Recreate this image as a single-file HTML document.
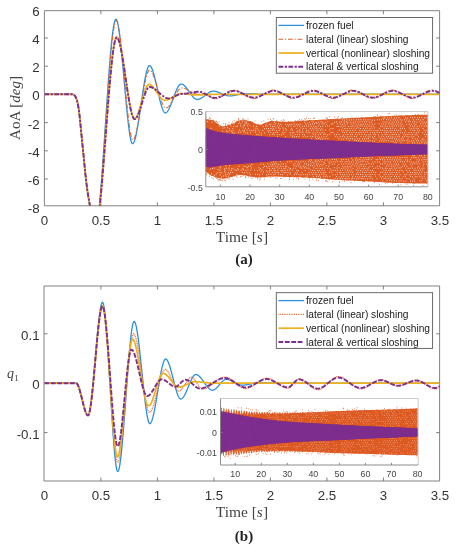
<!DOCTYPE html>
<html><head><meta charset="utf-8"><title>Figure</title>
<style>html,body{margin:0;padding:0;background:#fff}svg{display:block}</style></head>
<body>
<svg width="456" height="550" viewBox="0 0 456 550">
<rect width="456" height="550" fill="#fff"/>
<defs>
<clipPath id="ca"><rect x="44.4" y="10.7" width="395.20000000000005" height="195.10000000000002"/></clipPath>
<clipPath id="cb"><rect x="44.4" y="286.0" width="395.20000000000005" height="195.0"/></clipPath>
</defs>
<path d="M44.4,10.7H439.6V205.8H44.4ZM100.90,205.8v-3.5M100.90,10.7v3.5M157.40,205.8v-3.5M157.40,10.7v3.5M213.90,205.8v-3.5M213.90,10.7v3.5M270.40,205.8v-3.5M270.40,10.7v3.5M326.90,205.8v-3.5M326.90,10.7v3.5M383.40,205.8v-3.5M383.40,10.7v3.5M44.4,38.00h3.5M439.6,38.00h-3.5M44.4,66.20h3.5M439.6,66.20h-3.5M44.4,94.40h3.5M439.6,94.40h-3.5M44.4,122.60h3.5M439.6,122.60h-3.5M44.4,150.80h3.5M439.6,150.80h-3.5M44.4,179.00h3.5M439.6,179.00h-3.5" fill="none" stroke="#6c6c6c" stroke-width="0.85"/>
<text x="44.40" y="224.80" font-size="13.3" font-family="Liberation Sans, Arial, sans-serif" fill="#333" text-anchor="middle">0</text>
<text x="100.90" y="224.80" font-size="13.3" font-family="Liberation Sans, Arial, sans-serif" fill="#333" text-anchor="middle">0.5</text>
<text x="157.40" y="224.80" font-size="13.3" font-family="Liberation Sans, Arial, sans-serif" fill="#333" text-anchor="middle">1</text>
<text x="213.90" y="224.80" font-size="13.3" font-family="Liberation Sans, Arial, sans-serif" fill="#333" text-anchor="middle">1.5</text>
<text x="270.40" y="224.80" font-size="13.3" font-family="Liberation Sans, Arial, sans-serif" fill="#333" text-anchor="middle">2</text>
<text x="326.90" y="224.80" font-size="13.3" font-family="Liberation Sans, Arial, sans-serif" fill="#333" text-anchor="middle">2.5</text>
<text x="383.40" y="224.80" font-size="13.3" font-family="Liberation Sans, Arial, sans-serif" fill="#333" text-anchor="middle">3</text>
<text x="439.90" y="224.80" font-size="13.3" font-family="Liberation Sans, Arial, sans-serif" fill="#333" text-anchor="middle">3.5</text>
<text x="39.60" y="15.86" font-size="13.3" font-family="Liberation Sans, Arial, sans-serif" fill="#333" text-anchor="end">6</text>
<text x="39.60" y="44.06" font-size="13.3" font-family="Liberation Sans, Arial, sans-serif" fill="#333" text-anchor="end">4</text>
<text x="39.60" y="72.26" font-size="13.3" font-family="Liberation Sans, Arial, sans-serif" fill="#333" text-anchor="end">2</text>
<text x="39.60" y="100.46" font-size="13.3" font-family="Liberation Sans, Arial, sans-serif" fill="#333" text-anchor="end">0</text>
<text x="39.60" y="128.66" font-size="13.3" font-family="Liberation Sans, Arial, sans-serif" fill="#333" text-anchor="end">-2</text>
<text x="39.60" y="156.86" font-size="13.3" font-family="Liberation Sans, Arial, sans-serif" fill="#333" text-anchor="end">-4</text>
<text x="39.60" y="185.06" font-size="13.3" font-family="Liberation Sans, Arial, sans-serif" fill="#333" text-anchor="end">-6</text>
<text x="39.60" y="213.26" font-size="13.3" font-family="Liberation Sans, Arial, sans-serif" fill="#333" text-anchor="end">-8</text>
<g clip-path="url(#ca)" fill="none" stroke-linejoin="round">
<path d="M44.40,94.25 L44.68,94.25 L44.96,94.25 L45.25,94.25 L45.53,94.25 L45.81,94.25 L46.09,94.25 L46.38,94.25 L46.66,94.25 L46.94,94.25 L47.23,94.25 L47.51,94.25 L47.79,94.25 L48.07,94.25 L48.35,94.25 L48.64,94.25 L48.92,94.25 L49.20,94.25 L49.48,94.25 L49.77,94.25 L50.05,94.25 L50.33,94.25 L50.61,94.25 L50.90,94.25 L51.18,94.25 L51.46,94.25 L51.74,94.25 L52.03,94.25 L52.31,94.25 L52.59,94.25 L52.88,94.25 L53.16,94.25 L53.44,94.25 L53.72,94.25 L54.00,94.25 L54.29,94.25 L54.57,94.25 L54.85,94.25 L55.13,94.25 L55.42,94.25 L55.70,94.25 L55.98,94.25 L56.27,94.25 L56.55,94.25 L56.83,94.25 L57.11,94.25 L57.39,94.25 L57.68,94.25 L57.96,94.25 L58.24,94.25 L58.52,94.25 L58.81,94.25 L59.09,94.25 L59.37,94.25 L59.66,94.25 L59.94,94.25 L60.22,94.25 L60.50,94.25 L60.78,94.25 L61.07,94.25 L61.35,94.25 L61.63,94.25 L61.91,94.25 L62.20,94.25 L62.48,94.25 L62.76,94.25 L63.05,94.25 L63.33,94.25 L63.61,94.25 L63.89,94.25 L64.17,94.25 L64.46,94.25 L64.74,94.25 L65.02,94.25 L65.31,94.25 L65.59,94.25 L65.87,94.25 L66.15,94.25 L66.44,94.25 L66.72,94.25 L67.00,94.25 L67.28,94.25 L67.56,94.25 L67.85,94.25 L68.13,94.25 L68.41,94.25 L68.69,94.25 L68.98,94.25 L69.26,94.25 L69.54,94.25 L69.83,94.25 L70.11,94.25 L70.39,94.25 L70.67,94.25 L70.95,94.25 L71.24,94.25 L71.52,94.25 L71.80,94.25 L72.08,94.25 L72.37,94.25 L72.65,94.25 L72.93,94.34 L73.22,94.46 L73.50,94.59 L73.78,94.76 L74.06,94.96 L74.34,95.20 L74.63,95.48 L74.91,95.82 L75.19,96.22 L75.47,96.69 L75.76,97.23 L76.04,97.84 L76.32,98.55 L76.61,99.35 L76.89,100.25 L77.17,101.25 L77.45,102.37 L77.73,103.61 L78.02,105.00 L78.30,106.54 L78.58,108.25 L78.86,110.15 L79.15,112.24 L79.43,114.55 L79.71,117.07 L80.00,119.79 L80.28,122.64 L80.56,125.55 L80.84,128.45 L81.12,131.31 L81.41,134.13 L81.69,136.94 L81.97,139.73 L82.25,142.52 L82.54,145.31 L82.82,148.12 L83.10,150.95 L83.39,153.81 L83.67,156.70 L83.95,159.59 L84.23,162.47 L84.51,165.34 L84.80,168.16 L85.08,170.94 L85.36,173.65 L85.64,176.29 L85.93,178.84 L86.21,181.30 L86.49,183.67 L86.78,185.94 L87.06,188.12 L87.34,190.19 L87.62,192.16 L87.91,194.02 L88.19,195.78 L88.47,197.47 L88.75,199.12 L89.03,200.76 L89.32,202.43 L89.60,204.14 L89.88,205.94 L90.16,207.82 L90.45,209.76 L90.73,211.73 L91.01,213.73 L91.30,215.72 L91.58,217.69 L91.86,219.61 L92.14,221.46 L92.42,223.21 L92.71,224.86 L92.99,226.37 L93.27,227.73 L93.56,228.91 L93.84,229.89 L94.12,230.65 L94.40,231.17 L94.69,231.43 L94.97,231.41 L95.25,231.16 L95.53,230.70 L95.81,230.02 L96.10,229.14 L96.38,228.06 L96.66,226.78 L96.94,225.32 L97.23,223.68 L97.51,221.86 L97.79,219.87 L98.08,217.72 L98.36,215.41 L98.64,212.95 L98.92,210.35 L99.20,207.61 L99.49,204.73 L99.77,201.73 L100.05,198.61 L100.34,195.37 L100.62,192.02 L100.90,188.58 L101.18,185.03 L101.47,181.40 L101.75,177.68 L102.03,173.89 L102.31,170.02 L102.59,166.09 L102.88,162.09 L103.16,158.05 L103.44,153.95 L103.72,149.82 L104.01,145.65 L104.29,141.45 L104.57,137.22 L104.86,132.99 L105.14,128.73 L105.42,124.48 L105.70,120.22 L105.99,115.98 L106.27,111.74 L106.55,107.53 L106.83,103.34 L107.12,99.18 L107.40,95.06 L107.68,90.99 L107.96,86.96 L108.25,82.99 L108.53,79.09 L108.81,75.25 L109.09,71.48 L109.38,67.80 L109.66,64.20 L109.94,60.69 L110.22,57.29 L110.50,53.98 L110.79,50.79 L111.07,47.72 L111.35,44.76 L111.63,41.94 L111.92,39.25 L112.20,36.71 L112.48,34.31 L112.76,32.06 L113.05,29.97 L113.33,28.05 L113.61,26.30 L113.90,24.73 L114.18,23.34 L114.46,22.14 L114.74,21.14 L115.03,20.34 L115.31,19.75 L115.59,19.37 L115.87,19.21 L116.16,19.28 L116.44,19.55 L116.72,20.03 L117.00,20.70 L117.28,21.56 L117.57,22.60 L117.85,23.82 L118.13,25.20 L118.41,26.74 L118.70,28.43 L118.98,30.26 L119.26,32.24 L119.55,34.34 L119.83,36.56 L120.11,38.90 L120.39,41.34 L120.68,43.88 L120.96,46.52 L121.24,49.24 L121.52,52.04 L121.81,54.91 L122.09,57.85 L122.37,60.84 L122.65,63.88 L122.94,66.95 L123.22,70.07 L123.50,73.21 L123.78,76.37 L124.06,79.54 L124.35,82.71 L124.63,85.88 L124.91,89.04 L125.19,92.19 L125.48,95.31 L125.76,98.39 L126.04,101.44 L126.32,104.44 L126.61,107.38 L126.89,110.27 L127.17,113.08 L127.45,115.82 L127.74,118.48 L128.02,121.04 L128.30,123.50 L128.59,125.86 L128.87,128.11 L129.15,130.23 L129.43,132.23 L129.72,134.10 L130.00,135.82 L130.28,137.39 L130.56,138.80 L130.84,140.05 L131.13,141.12 L131.41,142.02 L131.69,142.73 L131.97,143.25 L132.26,143.56 L132.54,143.67 L132.82,143.61 L133.10,143.42 L133.39,143.10 L133.67,142.67 L133.95,142.13 L134.24,141.48 L134.52,140.73 L134.80,139.87 L135.08,138.92 L135.37,137.88 L135.65,136.76 L135.93,135.55 L136.21,134.26 L136.50,132.90 L136.78,131.46 L137.06,129.97 L137.34,128.41 L137.62,126.80 L137.91,125.13 L138.19,123.42 L138.47,121.66 L138.75,119.86 L139.04,118.03 L139.32,116.17 L139.60,114.28 L139.88,112.38 L140.17,110.45 L140.45,108.51 L140.73,106.56 L141.01,104.61 L141.30,102.66 L141.58,100.71 L141.86,98.77 L142.15,96.84 L142.43,94.94 L142.71,93.05 L142.99,91.19 L143.28,89.36 L143.56,87.56 L143.84,85.80 L144.12,84.09 L144.41,82.42 L144.69,80.81 L144.97,79.25 L145.25,77.76 L145.53,76.32 L145.82,74.96 L146.10,73.67 L146.38,72.46 L146.66,71.34 L146.95,70.30 L147.23,69.35 L147.51,68.49 L147.80,67.74 L148.08,67.09 L148.36,66.55 L148.64,66.12 L148.93,65.80 L149.21,65.61 L149.49,65.55 L149.77,65.59 L150.06,65.73 L150.34,65.94 L150.62,66.24 L150.90,66.61 L151.19,67.06 L151.47,67.58 L151.75,68.17 L152.03,68.82 L152.31,69.54 L152.60,70.31 L152.88,71.14 L153.16,72.02 L153.44,72.94 L153.73,73.92 L154.01,74.93 L154.29,75.98 L154.57,77.07 L154.86,78.20 L155.14,79.35 L155.42,80.52 L155.70,81.72 L155.99,82.94 L156.27,84.17 L156.55,85.42 L156.84,86.68 L157.12,87.94 L157.40,89.21 L157.68,90.48 L157.97,91.74 L158.25,93.00 L158.53,94.25 L158.81,95.48 L159.09,96.70 L159.38,97.90 L159.66,99.07 L159.94,100.22 L160.22,101.35 L160.51,102.44 L160.79,103.49 L161.07,104.50 L161.35,105.48 L161.64,106.40 L161.92,107.28 L162.20,108.11 L162.48,108.88 L162.77,109.60 L163.05,110.25 L163.33,110.84 L163.61,111.36 L163.90,111.81 L164.18,112.18 L164.46,112.48 L164.75,112.69 L165.03,112.83 L165.31,112.87 L165.59,112.84 L165.88,112.76 L166.16,112.63 L166.44,112.45 L166.72,112.22 L167.00,111.95 L167.29,111.63 L167.57,111.27 L167.85,110.87 L168.13,110.44 L168.42,109.97 L168.70,109.46 L168.98,108.93 L169.26,108.36 L169.55,107.77 L169.83,107.15 L170.11,106.51 L170.40,105.85 L170.68,105.16 L170.96,104.46 L171.24,103.74 L171.53,103.01 L171.81,102.27 L172.09,101.52 L172.37,100.76 L172.66,99.99 L172.94,99.22 L173.22,98.45 L173.50,97.68 L173.78,96.91 L174.07,96.14 L174.35,95.38 L174.63,94.63 L174.92,93.89 L175.20,93.16 L175.48,92.44 L175.76,91.74 L176.05,91.05 L176.33,90.39 L176.61,89.75 L176.89,89.13 L177.18,88.54 L177.46,87.97 L177.74,87.44 L178.02,86.93 L178.31,86.46 L178.59,86.03 L178.87,85.63 L179.15,85.27 L179.44,84.95 L179.72,84.68 L180.00,84.45 L180.28,84.27 L180.57,84.14 L180.85,84.06 L181.13,84.03 L181.41,84.04 L181.70,84.09 L181.98,84.15 L182.26,84.25 L182.54,84.37 L182.83,84.51 L183.11,84.67 L183.39,84.86 L183.67,85.07 L183.96,85.29 L184.24,85.54 L184.52,85.80 L184.80,86.08 L185.09,86.38 L185.37,86.68 L185.65,87.01 L185.93,87.34 L186.22,87.69 L186.50,88.05 L186.78,88.41 L187.06,88.79 L187.35,89.17 L187.63,89.56 L187.91,89.95 L188.19,90.35 L188.48,90.76 L188.76,91.16 L189.04,91.57 L189.32,91.97 L189.60,92.38 L189.89,92.78 L190.17,93.19 L190.45,93.58 L190.73,93.98 L191.02,94.37 L191.30,94.75 L191.58,95.12 L191.87,95.49 L192.15,95.84 L192.43,96.19 L192.71,96.52 L193.00,96.84 L193.28,97.14 L193.56,97.44 L193.84,97.71 L194.12,97.97 L194.41,98.21 L194.69,98.44 L194.97,98.64 L195.25,98.82 L195.54,98.98 L195.82,99.12 L196.10,99.23 L196.38,99.32 L196.67,99.38 L196.95,99.42 L197.23,99.43 L197.52,99.42 L197.80,99.39 L198.08,99.35 L198.36,99.30 L198.65,99.23 L198.93,99.16 L199.21,99.07 L199.49,98.96 L199.78,98.85 L200.06,98.73 L200.34,98.59 L200.62,98.45 L200.91,98.30 L201.19,98.14 L201.47,97.97 L201.75,97.80 L202.03,97.62 L202.32,97.43 L202.60,97.24 L202.88,97.04 L203.17,96.84 L203.45,96.63 L203.73,96.42 L204.01,96.21 L204.30,96.00 L204.58,95.78 L204.86,95.56 L205.14,95.34 L205.43,95.13 L205.71,94.91 L205.99,94.69 L206.27,94.48 L206.56,94.26 L206.84,94.05 L207.12,93.85 L207.40,93.64 L207.69,93.44 L207.97,93.25 L208.25,93.06 L208.53,92.87 L208.82,92.70 L209.10,92.53 L209.38,92.36 L209.66,92.21 L209.95,92.06 L210.23,91.93 L210.51,91.80 L210.79,91.68 L211.08,91.57 L211.36,91.48 L211.64,91.40 L211.92,91.32 L212.21,91.27 L212.49,91.22 L212.77,91.19 L213.05,91.17 L213.34,91.17 L213.62,91.18 L213.90,91.19 L214.18,91.22 L214.47,91.25 L214.75,91.28 L215.03,91.33 L215.31,91.38 L215.60,91.44 L215.88,91.50 L216.16,91.57 L216.44,91.64 L216.73,91.72 L217.01,91.81 L217.29,91.90 L217.57,91.99 L217.86,92.09 L218.14,92.19 L218.42,92.29 L218.70,92.40 L218.98,92.51 L219.27,92.62 L219.55,92.73 L219.83,92.85 L220.12,92.97 L220.40,93.09 L220.68,93.21 L220.96,93.33 L221.25,93.45 L221.53,93.57 L221.81,93.70 L222.09,93.82 L222.38,93.94 L222.66,94.06 L222.94,94.18 L223.22,94.30 L223.50,94.41 L223.79,94.53 L224.07,94.64 L224.35,94.75 L224.63,94.85 L224.92,94.95 L225.20,95.05 L225.48,95.15 L225.77,95.24 L226.05,95.33 L226.33,95.41 L226.61,95.49 L226.90,95.56 L227.18,95.63 L227.46,95.69 L227.74,95.74 L228.03,95.79 L228.31,95.83 L228.59,95.87 L228.87,95.89 L229.16,95.91 L229.44,95.93 L229.72,95.93 L230.00,95.93 L230.28,95.92 L230.57,95.91 L230.85,95.90 L231.13,95.88 L231.42,95.85 L231.70,95.83 L231.98,95.80 L232.26,95.77 L232.55,95.73 L232.83,95.69 L233.11,95.65 L233.39,95.60 L233.68,95.56 L233.96,95.51 L234.24,95.46 L234.52,95.41 L234.81,95.35 L235.09,95.29 L235.37,95.24 L235.65,95.18 L235.94,95.12 L236.22,95.06 L236.50,94.99 L236.78,94.93 L237.07,94.87 L237.35,94.80 L237.63,94.74 L237.91,94.68 L238.20,94.61 L238.48,94.55 L238.76,94.49 L239.04,94.42 L239.33,94.36 L239.61,94.30 L239.89,94.24 L240.17,94.19 L240.46,94.13 L240.74,94.07 L241.02,94.02 L241.30,93.97 L241.59,93.92 L241.87,93.88 L242.15,93.83 L242.43,93.79 L242.72,93.75 L243.00,93.71 L243.28,93.68 L243.56,93.65 L243.85,93.63 L244.13,93.60 L244.41,93.58 L244.69,93.57 L244.98,93.56 L245.26,93.55 L245.54,93.55 L245.82,93.55 L246.11,93.55 L246.39,93.55 L246.67,93.56 L246.95,93.56 L247.23,93.57 L247.52,93.57 L247.80,93.58 L248.08,93.58 L248.37,93.59 L248.65,93.60 L248.93,93.61 L249.21,93.62 L249.50,93.63 L249.78,93.64 L250.06,93.65 L250.34,93.66 L250.62,93.67 L250.91,93.68 L251.19,93.70 L251.47,93.71 L251.75,93.72 L252.04,93.74 L252.32,93.75 L252.60,93.76 L252.88,93.78 L253.17,93.79 L253.45,93.81 L253.73,93.82 L254.02,93.84 L254.30,93.85 L254.58,93.87 L254.86,93.88 L255.15,93.90 L255.43,93.92 L255.71,93.93 L255.99,93.95 L256.27,93.96 L256.56,93.98 L256.84,93.99 L257.12,94.01 L257.40,94.02 L257.69,94.04 L257.97,94.05 L258.25,94.06 L258.53,94.08 L258.82,94.09 L259.10,94.10 L259.38,94.12 L259.67,94.13 L259.95,94.14 L260.23,94.15 L260.51,94.16 L260.80,94.17 L261.08,94.18 L261.36,94.19 L261.64,94.20 L261.93,94.21 L262.21,94.22 L262.49,94.22 L262.77,94.23 L263.06,94.23 L263.34,94.24 L263.62,94.24 L263.90,94.25 L264.19,94.25 L264.47,94.25 L264.75,94.25 L265.03,94.25 L265.31,94.25 L265.60,94.25 L265.88,94.25 L266.16,94.25 L266.44,94.25 L266.73,94.25 L267.01,94.25 L267.29,94.25 L267.57,94.25 L267.86,94.25 L268.14,94.25 L268.42,94.25 L268.70,94.25 L268.99,94.25 L269.27,94.25 L269.55,94.25 L269.83,94.25 L270.12,94.25 L270.40,94.25 L270.68,94.25 L270.96,94.25 L271.25,94.25 L271.53,94.25 L271.81,94.25 L272.10,94.25 L272.38,94.25 L272.66,94.25 L272.94,94.25 L273.22,94.25 L273.51,94.25 L273.79,94.25 L274.07,94.25 L274.36,94.25 L274.64,94.25 L274.92,94.25 L275.20,94.25 L275.48,94.25 L275.77,94.25 L276.05,94.25 L276.33,94.25 L276.62,94.25 L276.90,94.25 L277.18,94.25 L277.46,94.25 L277.75,94.25 L278.03,94.25 L278.31,94.25 L278.59,94.25 L278.88,94.25 L279.16,94.25 L279.44,94.25 L279.72,94.25 L280.00,94.25 L280.29,94.25 L280.57,94.25 L280.85,94.25 L281.13,94.25 L281.42,94.25 L281.70,94.25 L281.98,94.25 L282.26,94.25 L282.55,94.25 L282.83,94.25 L283.11,94.25 L283.40,94.25 L283.68,94.25 L283.96,94.25 L284.24,94.25 L284.52,94.25 L284.81,94.25 L285.09,94.25 L285.37,94.25 L285.66,94.25 L285.94,94.25 L286.22,94.25 L286.50,94.25 L286.78,94.25 L287.07,94.25 L287.35,94.25 L287.63,94.25 L287.92,94.25 L288.20,94.25 L288.48,94.25 L288.76,94.25 L289.05,94.25 L289.33,94.25 L289.61,94.25 L289.89,94.25 L290.18,94.25 L290.46,94.25 L290.74,94.25 L291.02,94.25 L291.31,94.25 L291.59,94.25 L291.87,94.25 L292.15,94.25 L292.43,94.25 L292.72,94.25 L293.00,94.25 L293.28,94.25 L293.56,94.25 L293.85,94.25 L294.13,94.25 L294.41,94.25 L294.69,94.25 L294.98,94.25 L295.26,94.25 L295.54,94.25 L295.82,94.25 L296.11,94.25 L296.39,94.25 L296.67,94.25 L296.95,94.25 L297.24,94.25 L297.52,94.25 L297.80,94.25 L298.08,94.25 L298.37,94.25 L298.65,94.25 L298.93,94.25 L299.21,94.25 L299.50,94.25 L299.78,94.25 L300.06,94.25 L300.35,94.25 L300.63,94.25 L300.91,94.25 L301.19,94.25 L301.47,94.25 L301.76,94.25 L302.04,94.25 L302.32,94.25 L302.61,94.25 L302.89,94.25 L303.17,94.25 L303.45,94.25 L303.73,94.25 L304.02,94.25 L304.30,94.25 L304.58,94.25 L304.87,94.25 L305.15,94.25 L305.43,94.25 L305.71,94.25 L305.99,94.25 L306.28,94.25 L306.56,94.25 L306.84,94.25 L307.12,94.25 L307.41,94.25 L307.69,94.25 L307.97,94.25 L308.25,94.25 L308.54,94.25 L308.82,94.25 L309.10,94.25 L309.38,94.25 L309.67,94.25 L309.95,94.25 L310.23,94.25 L310.51,94.25 L310.80,94.25 L311.08,94.25 L311.36,94.25 L311.64,94.25 L311.93,94.25 L312.21,94.25 L312.49,94.25 L312.77,94.25 L313.06,94.25 L313.34,94.25 L313.62,94.25 L313.91,94.25 L314.19,94.25 L314.47,94.25 L314.75,94.25 L315.03,94.25 L315.32,94.25 L315.60,94.25 L315.88,94.25 L316.17,94.25 L316.45,94.25 L316.73,94.25 L317.01,94.25 L317.29,94.25 L317.58,94.25 L317.86,94.25 L318.14,94.25 L318.43,94.25 L318.71,94.25 L318.99,94.25 L319.27,94.25 L319.56,94.25 L319.84,94.25 L320.12,94.25 L320.40,94.25 L320.68,94.25 L320.97,94.25 L321.25,94.25 L321.53,94.25 L321.81,94.25 L322.10,94.25 L322.38,94.25 L322.66,94.25 L322.94,94.25 L323.23,94.25 L323.51,94.25 L323.79,94.25 L324.07,94.25 L324.36,94.25 L324.64,94.25 L324.92,94.25 L325.20,94.25 L325.49,94.25 L325.77,94.25 L326.05,94.25 L326.33,94.25 L326.62,94.25 L326.90,94.25 L327.18,94.25 L327.46,94.25 L327.75,94.25 L328.03,94.25 L328.31,94.25 L328.59,94.25 L328.88,94.25 L329.16,94.25 L329.44,94.25 L329.72,94.25 L330.01,94.25 L330.29,94.25 L330.57,94.25 L330.86,94.25 L331.14,94.25 L331.42,94.25 L331.70,94.25 L331.98,94.25 L332.27,94.25 L332.55,94.25 L332.83,94.25 L333.12,94.25 L333.40,94.25 L333.68,94.25 L333.96,94.25 L334.24,94.25 L334.53,94.25 L334.81,94.25 L335.09,94.25 L335.38,94.25 L335.66,94.25 L335.94,94.25 L336.22,94.25 L336.50,94.25 L336.79,94.25 L337.07,94.25 L337.35,94.25 L337.63,94.25 L337.92,94.25 L338.20,94.25 L338.48,94.25 L338.76,94.25 L339.05,94.25 L339.33,94.25 L339.61,94.25 L339.89,94.25 L340.18,94.25 L340.46,94.25 L340.74,94.25 L341.02,94.25 L341.31,94.25 L341.59,94.25 L341.87,94.25 L342.16,94.25 L342.44,94.25 L342.72,94.25 L343.00,94.25 L343.28,94.25 L343.57,94.25 L343.85,94.25 L344.13,94.25 L344.42,94.25 L344.70,94.25 L344.98,94.25 L345.26,94.25 L345.54,94.25 L345.83,94.25 L346.11,94.25 L346.39,94.25 L346.68,94.25 L346.96,94.25 L347.24,94.25 L347.52,94.25 L347.81,94.25 L348.09,94.25 L348.37,94.25 L348.65,94.25 L348.93,94.25 L349.22,94.25 L349.50,94.25 L349.78,94.25 L350.06,94.25 L350.35,94.25 L350.63,94.25 L350.91,94.25 L351.19,94.25 L351.48,94.25 L351.76,94.25 L352.04,94.25 L352.32,94.25 L352.61,94.25 L352.89,94.25 L353.17,94.25 L353.45,94.25 L353.74,94.25 L354.02,94.25 L354.30,94.25 L354.58,94.25 L354.87,94.25 L355.15,94.25 L355.43,94.25 L355.71,94.25 L356.00,94.25 L356.28,94.25 L356.56,94.25 L356.84,94.25 L357.13,94.25 L357.41,94.25 L357.69,94.25 L357.97,94.25 L358.26,94.25 L358.54,94.25 L358.82,94.25 L359.11,94.25 L359.39,94.25 L359.67,94.25 L359.95,94.25 L360.23,94.25 L360.52,94.25 L360.80,94.25 L361.08,94.25 L361.37,94.25 L361.65,94.25 L361.93,94.25 L362.21,94.25 L362.49,94.25 L362.78,94.25 L363.06,94.25 L363.34,94.25 L363.62,94.25 L363.91,94.25 L364.19,94.25 L364.47,94.25 L364.75,94.25 L365.04,94.25 L365.32,94.25 L365.60,94.25 L365.88,94.25 L366.17,94.25 L366.45,94.25 L366.73,94.25 L367.01,94.25 L367.30,94.25 L367.58,94.25 L367.86,94.25 L368.14,94.25 L368.43,94.25 L368.71,94.25 L368.99,94.25 L369.27,94.25 L369.56,94.25 L369.84,94.25 L370.12,94.25 L370.41,94.25 L370.69,94.25 L370.97,94.25 L371.25,94.25 L371.53,94.25 L371.82,94.25 L372.10,94.25 L372.38,94.25 L372.67,94.25 L372.95,94.25 L373.23,94.25 L373.51,94.25 L373.79,94.25 L374.08,94.25 L374.36,94.25 L374.64,94.25 L374.93,94.25 L375.21,94.25 L375.49,94.25 L375.77,94.25 L376.06,94.25 L376.34,94.25 L376.62,94.25 L376.90,94.25 L377.18,94.25 L377.47,94.25 L377.75,94.25 L378.03,94.25 L378.31,94.25 L378.60,94.25 L378.88,94.25 L379.16,94.25 L379.44,94.25 L379.73,94.25 L380.01,94.25 L380.29,94.25 L380.57,94.25 L380.86,94.25 L381.14,94.25 L381.42,94.25 L381.70,94.25 L381.99,94.25 L382.27,94.25 L382.55,94.25 L382.83,94.25 L383.12,94.25 L383.40,94.25 L383.68,94.25 L383.96,94.25 L384.25,94.25 L384.53,94.25 L384.81,94.25 L385.09,94.25 L385.38,94.25 L385.66,94.25 L385.94,94.25 L386.22,94.25 L386.51,94.25 L386.79,94.25 L387.07,94.25 L387.36,94.25 L387.64,94.25 L387.92,94.25 L388.20,94.25 L388.48,94.25 L388.77,94.25 L389.05,94.25 L389.33,94.25 L389.62,94.25 L389.90,94.25 L390.18,94.25 L390.46,94.25 L390.74,94.25 L391.03,94.25 L391.31,94.25 L391.59,94.25 L391.88,94.25 L392.16,94.25 L392.44,94.25 L392.72,94.25 L393.00,94.25 L393.29,94.25 L393.57,94.25 L393.85,94.25 L394.13,94.25 L394.42,94.25 L394.70,94.25 L394.98,94.25 L395.26,94.25 L395.55,94.25 L395.83,94.25 L396.11,94.25 L396.39,94.25 L396.68,94.25 L396.96,94.25 L397.24,94.25 L397.52,94.25 L397.81,94.25 L398.09,94.25 L398.37,94.25 L398.66,94.25 L398.94,94.25 L399.22,94.25 L399.50,94.25 L399.78,94.25 L400.07,94.25 L400.35,94.25 L400.63,94.25 L400.92,94.25 L401.20,94.25 L401.48,94.25 L401.76,94.25 L402.04,94.25 L402.33,94.25 L402.61,94.25 L402.89,94.25 L403.18,94.25 L403.46,94.25 L403.74,94.25 L404.02,94.25 L404.31,94.25 L404.59,94.25 L404.87,94.25 L405.15,94.25 L405.44,94.25 L405.72,94.25 L406.00,94.25 L406.28,94.25 L406.56,94.25 L406.85,94.25 L407.13,94.25 L407.41,94.25 L407.69,94.25 L407.98,94.25 L408.26,94.25 L408.54,94.25 L408.82,94.25 L409.11,94.25 L409.39,94.25 L409.67,94.25 L409.95,94.25 L410.24,94.25 L410.52,94.25 L410.80,94.25 L411.08,94.25 L411.37,94.25 L411.65,94.25 L411.93,94.25 L412.21,94.25 L412.50,94.25 L412.78,94.25 L413.06,94.25 L413.34,94.25 L413.63,94.25 L413.91,94.25 L414.19,94.25 L414.47,94.25 L414.76,94.25 L415.04,94.25 L415.32,94.25 L415.61,94.25 L415.89,94.25 L416.17,94.25 L416.45,94.25 L416.73,94.25 L417.02,94.25 L417.30,94.25 L417.58,94.25 L417.87,94.25 L418.15,94.25 L418.43,94.25 L418.71,94.25 L418.99,94.25 L419.28,94.25 L419.56,94.25 L419.84,94.25 L420.12,94.25 L420.41,94.25 L420.69,94.25 L420.97,94.25 L421.25,94.25 L421.54,94.25 L421.82,94.25 L422.10,94.25 L422.38,94.25 L422.67,94.25 L422.95,94.25 L423.23,94.25 L423.51,94.25 L423.80,94.25 L424.08,94.25 L424.36,94.25 L424.64,94.25 L424.93,94.25 L425.21,94.25 L425.49,94.25 L425.77,94.25 L426.06,94.25 L426.34,94.25 L426.62,94.25 L426.91,94.25 L427.19,94.25 L427.47,94.25 L427.75,94.25 L428.03,94.25 L428.32,94.25 L428.60,94.25 L428.88,94.25 L429.17,94.25 L429.45,94.25 L429.73,94.25 L430.01,94.25 L430.29,94.25 L430.58,94.25 L430.86,94.25 L431.14,94.25 L431.43,94.25 L431.71,94.25 L431.99,94.25 L432.27,94.25 L432.56,94.25 L432.84,94.25 L433.12,94.25 L433.40,94.25 L433.69,94.25 L433.97,94.25 L434.25,94.25 L434.53,94.25 L434.81,94.25 L435.10,94.25 L435.38,94.25 L435.66,94.25 L435.94,94.25 L436.23,94.25 L436.51,94.25 L436.79,94.25 L437.07,94.25 L437.36,94.25 L437.64,94.25 L437.92,94.25 L438.20,94.25 L438.49,94.25 L438.77,94.25 L439.05,94.25 L439.33,94.25 L439.62,94.25 L439.90,94.25" stroke="#2d8fd9" stroke-width="1.3"/>
<path d="M44.40,94.25 L44.68,94.25 L44.96,94.25 L45.25,94.25 L45.53,94.25 L45.81,94.25 L46.09,94.25 L46.38,94.25 L46.66,94.25 L46.94,94.25 L47.23,94.25 L47.51,94.25 L47.79,94.25 L48.07,94.25 L48.35,94.25 L48.64,94.25 L48.92,94.25 L49.20,94.25 L49.48,94.25 L49.77,94.25 L50.05,94.25 L50.33,94.25 L50.61,94.25 L50.90,94.25 L51.18,94.25 L51.46,94.25 L51.74,94.25 L52.03,94.25 L52.31,94.25 L52.59,94.25 L52.88,94.25 L53.16,94.25 L53.44,94.25 L53.72,94.25 L54.00,94.25 L54.29,94.25 L54.57,94.25 L54.85,94.25 L55.13,94.25 L55.42,94.25 L55.70,94.25 L55.98,94.25 L56.27,94.25 L56.55,94.25 L56.83,94.25 L57.11,94.25 L57.39,94.25 L57.68,94.25 L57.96,94.25 L58.24,94.25 L58.52,94.25 L58.81,94.25 L59.09,94.25 L59.37,94.25 L59.66,94.25 L59.94,94.25 L60.22,94.25 L60.50,94.25 L60.78,94.25 L61.07,94.25 L61.35,94.25 L61.63,94.25 L61.91,94.25 L62.20,94.25 L62.48,94.25 L62.76,94.25 L63.05,94.25 L63.33,94.25 L63.61,94.25 L63.89,94.25 L64.17,94.25 L64.46,94.25 L64.74,94.25 L65.02,94.25 L65.31,94.25 L65.59,94.25 L65.87,94.25 L66.15,94.25 L66.44,94.25 L66.72,94.25 L67.00,94.25 L67.28,94.25 L67.56,94.25 L67.85,94.25 L68.13,94.25 L68.41,94.25 L68.69,94.25 L68.98,94.25 L69.26,94.25 L69.54,94.25 L69.83,94.25 L70.11,94.25 L70.39,94.25 L70.67,94.25 L70.95,94.25 L71.24,94.25 L71.52,94.25 L71.80,94.25 L72.08,94.25 L72.37,94.25 L72.65,94.25 L72.93,94.34 L73.22,94.46 L73.50,94.59 L73.78,94.76 L74.06,94.96 L74.34,95.20 L74.63,95.48 L74.91,95.82 L75.19,96.22 L75.47,96.69 L75.76,97.23 L76.04,97.84 L76.32,98.55 L76.61,99.35 L76.89,100.25 L77.17,101.25 L77.45,102.37 L77.73,103.61 L78.02,105.00 L78.30,106.54 L78.58,108.25 L78.86,110.15 L79.15,112.24 L79.43,114.55 L79.71,117.07 L80.00,119.79 L80.28,122.64 L80.56,125.55 L80.84,128.45 L81.12,131.31 L81.41,134.13 L81.69,136.94 L81.97,139.73 L82.25,142.52 L82.54,145.31 L82.82,148.12 L83.10,150.95 L83.39,153.81 L83.67,156.70 L83.95,159.59 L84.23,162.47 L84.51,165.34 L84.80,168.16 L85.08,170.94 L85.36,173.65 L85.64,176.29 L85.93,178.84 L86.21,181.30 L86.49,183.67 L86.78,185.94 L87.06,188.12 L87.34,190.19 L87.62,192.16 L87.91,194.02 L88.19,195.78 L88.47,197.47 L88.75,199.12 L89.03,200.76 L89.32,202.43 L89.60,204.14 L89.88,205.94 L90.16,207.82 L90.45,209.76 L90.73,211.73 L91.01,213.73 L91.30,215.72 L91.58,217.69 L91.86,219.61 L92.14,221.46 L92.42,223.21 L92.71,224.86 L92.99,226.37 L93.27,227.73 L93.56,228.91 L93.84,229.89 L94.12,230.65 L94.40,231.17 L94.69,231.43 L94.97,231.41 L95.25,231.17 L95.53,230.73 L95.81,230.08 L96.10,229.23 L96.38,228.19 L96.66,226.96 L96.94,225.55 L97.23,223.97 L97.51,222.21 L97.79,220.30 L98.08,218.22 L98.36,216.00 L98.64,213.62 L98.92,211.11 L99.20,208.46 L99.49,205.69 L99.77,202.78 L100.05,199.77 L100.34,196.64 L100.62,193.40 L100.90,190.07 L101.18,186.64 L101.47,183.12 L101.75,179.51 L102.03,175.84 L102.31,172.09 L102.59,168.27 L102.88,164.39 L103.16,160.46 L103.44,156.48 L103.72,152.46 L104.01,148.41 L104.29,144.32 L104.57,140.20 L104.86,136.07 L105.14,131.92 L105.42,127.76 L105.70,123.61 L105.99,119.45 L106.27,115.30 L106.55,111.17 L106.83,107.06 L107.12,102.98 L107.40,98.93 L107.68,94.92 L107.96,90.95 L108.25,87.03 L108.53,83.16 L108.81,79.36 L109.09,75.62 L109.38,71.96 L109.66,68.37 L109.94,64.87 L110.22,61.46 L110.50,58.14 L110.79,54.93 L111.07,51.82 L111.35,48.83 L111.63,45.95 L111.92,43.20 L112.20,40.58 L112.48,38.09 L112.76,35.75 L113.05,33.55 L113.33,31.51 L113.61,29.62 L113.90,27.90 L114.18,26.35 L114.46,24.98 L114.74,23.79 L115.03,22.79 L115.31,21.98 L115.59,21.37 L115.87,20.96 L116.16,20.77 L116.44,20.79 L116.72,21.01 L117.00,21.43 L117.28,22.03 L117.57,22.82 L117.85,23.78 L118.13,24.91 L118.41,26.20 L118.70,27.64 L118.98,29.23 L119.26,30.96 L119.55,32.82 L119.83,34.80 L120.11,36.90 L120.39,39.12 L120.68,41.43 L120.96,43.85 L121.24,46.35 L121.52,48.94 L121.81,51.60 L122.09,54.33 L122.37,57.13 L122.65,59.98 L122.94,62.87 L123.22,65.81 L123.50,68.78 L123.78,71.78 L124.06,74.79 L124.35,77.82 L124.63,80.86 L124.91,83.89 L125.19,86.92 L125.48,89.93 L125.76,92.91 L126.04,95.87 L126.32,98.79 L126.61,101.67 L126.89,104.50 L127.17,107.27 L127.45,109.97 L127.74,112.61 L128.02,115.16 L128.30,117.63 L128.59,120.01 L128.87,122.28 L129.15,124.45 L129.43,126.51 L129.72,128.44 L130.00,130.25 L130.28,131.92 L130.56,133.45 L130.84,134.83 L131.13,136.06 L131.41,137.12 L131.69,138.02 L131.97,138.73 L132.26,139.26 L132.54,139.60 L132.82,139.75 L133.10,139.71 L133.39,139.56 L133.67,139.29 L133.95,138.91 L134.24,138.43 L134.52,137.85 L134.80,137.17 L135.08,136.39 L135.37,135.53 L135.65,134.59 L135.93,133.56 L136.21,132.45 L136.50,131.28 L136.78,130.03 L137.06,128.72 L137.34,127.35 L137.62,125.93 L137.91,124.45 L138.19,122.93 L138.47,121.36 L138.75,119.75 L139.04,118.11 L139.32,116.43 L139.60,114.73 L139.88,113.00 L140.17,111.26 L140.45,109.50 L140.73,107.73 L141.01,105.96 L141.30,104.18 L141.58,102.40 L141.86,100.63 L142.15,98.87 L142.43,97.12 L142.71,95.39 L142.99,93.69 L143.28,92.01 L143.56,90.36 L143.84,88.74 L144.12,87.16 L144.41,85.63 L144.69,84.14 L144.97,82.71 L145.25,81.33 L145.53,80.01 L145.82,78.75 L146.10,77.56 L146.38,76.44 L146.66,75.39 L146.95,74.43 L147.23,73.55 L147.51,72.76 L147.80,72.06 L148.08,71.46 L148.36,70.95 L148.64,70.56 L148.93,70.27 L149.21,70.09 L149.49,70.03 L149.77,70.06 L150.06,70.16 L150.34,70.32 L150.62,70.55 L150.90,70.83 L151.19,71.16 L151.47,71.55 L151.75,72.00 L152.03,72.49 L152.31,73.02 L152.60,73.61 L152.88,74.23 L153.16,74.89 L153.44,75.59 L153.73,76.33 L154.01,77.10 L154.29,77.90 L154.57,78.72 L154.86,79.58 L155.14,80.45 L155.42,81.35 L155.70,82.26 L155.99,83.20 L156.27,84.14 L156.55,85.10 L156.84,86.07 L157.12,87.04 L157.40,88.02 L157.68,89.00 L157.97,89.98 L158.25,90.96 L158.53,91.93 L158.81,92.90 L159.09,93.86 L159.38,94.80 L159.66,95.74 L159.94,96.65 L160.22,97.55 L160.51,98.42 L160.79,99.28 L161.07,100.10 L161.35,100.90 L161.64,101.67 L161.92,102.41 L162.20,103.11 L162.48,103.77 L162.77,104.39 L163.05,104.98 L163.33,105.51 L163.61,106.00 L163.90,106.45 L164.18,106.84 L164.46,107.17 L164.75,107.45 L165.03,107.68 L165.31,107.84 L165.59,107.94 L165.88,107.97 L166.16,107.95 L166.44,107.90 L166.72,107.80 L167.00,107.68 L167.29,107.52 L167.57,107.33 L167.85,107.11 L168.13,106.86 L168.42,106.58 L168.70,106.28 L168.98,105.96 L169.26,105.61 L169.55,105.23 L169.83,104.84 L170.11,104.43 L170.40,104.00 L170.68,103.56 L170.96,103.09 L171.24,102.62 L171.53,102.13 L171.81,101.64 L172.09,101.13 L172.37,100.61 L172.66,100.09 L172.94,99.56 L173.22,99.03 L173.50,98.50 L173.78,97.96 L174.07,97.42 L174.35,96.89 L174.63,96.36 L174.92,95.83 L175.20,95.31 L175.48,94.79 L175.76,94.28 L176.05,93.79 L176.33,93.30 L176.61,92.83 L176.89,92.36 L177.18,91.92 L177.46,91.49 L177.74,91.08 L178.02,90.69 L178.31,90.31 L178.59,89.96 L178.87,89.64 L179.15,89.34 L179.44,89.06 L179.72,88.81 L180.00,88.59 L180.28,88.40 L180.57,88.24 L180.85,88.12 L181.13,88.02 L181.41,87.97 L181.70,87.95 L181.98,87.96 L182.26,87.97 L182.54,88.00 L182.83,88.04 L183.11,88.08 L183.39,88.14 L183.67,88.20 L183.96,88.28 L184.24,88.36 L184.52,88.45 L184.80,88.54 L185.09,88.65 L185.37,88.76 L185.65,88.87 L185.93,89.00 L186.22,89.12 L186.50,89.26 L186.78,89.39 L187.06,89.54 L187.35,89.68 L187.63,89.83 L187.91,89.98 L188.19,90.14 L188.48,90.29 L188.76,90.45 L189.04,90.61 L189.32,90.77 L189.60,90.94 L189.89,91.10 L190.17,91.26 L190.45,91.43 L190.73,91.59 L191.02,91.75 L191.30,91.91 L191.58,92.06 L191.87,92.22 L192.15,92.37 L192.43,92.52 L192.71,92.66 L193.00,92.81 L193.28,92.94 L193.56,93.08 L193.84,93.20 L194.12,93.33 L194.41,93.44 L194.69,93.55 L194.97,93.66 L195.25,93.75 L195.54,93.84 L195.82,93.92 L196.10,94.00 L196.38,94.06 L196.67,94.12 L196.95,94.16 L197.23,94.20 L197.52,94.23 L197.80,94.24 L198.08,94.25 L198.36,94.24 L198.65,94.22 L198.93,94.19 L199.21,94.14 L199.49,94.09 L199.78,94.03 L200.06,93.97 L200.34,93.90 L200.62,93.83 L200.91,93.77 L201.19,93.71 L201.47,93.66 L201.75,93.61 L202.03,93.58 L202.32,93.56 L202.60,93.55 L202.88,93.56 L203.17,93.58 L203.45,93.61 L203.73,93.66 L204.01,93.72 L204.30,93.80 L204.58,93.88 L204.86,93.98 L205.14,94.08 L205.43,94.19 L205.71,94.32 L205.99,94.45 L206.27,94.58 L206.56,94.73 L206.84,94.88 L207.12,95.03 L207.40,95.19 L207.69,95.36 L207.97,95.52 L208.25,95.69 L208.53,95.86 L208.82,96.04 L209.10,96.21 L209.38,96.38 L209.66,96.56 L209.95,96.73 L210.23,96.90 L210.51,97.06 L210.79,97.23 L211.08,97.39 L211.36,97.54 L211.64,97.69 L211.92,97.84 L212.21,97.97 L212.49,98.10 L212.77,98.23 L213.05,98.34 L213.34,98.44 L213.62,98.54 L213.90,98.62 L214.18,98.70 L214.47,98.76 L214.75,98.81 L215.03,98.84 L215.31,98.86 L215.60,98.87 L215.88,98.86 L216.16,98.84 L216.44,98.81 L216.73,98.77 L217.01,98.72 L217.29,98.65 L217.57,98.57 L217.86,98.49 L218.14,98.39 L218.42,98.28 L218.70,98.17 L218.98,98.05 L219.27,97.92 L219.55,97.78 L219.83,97.63 L220.12,97.48 L220.40,97.32 L220.68,97.15 L220.96,96.98 L221.25,96.80 L221.53,96.62 L221.81,96.43 L222.09,96.24 L222.38,96.05 L222.66,95.85 L222.94,95.65 L223.22,95.45 L223.50,95.25 L223.79,95.04 L224.07,94.83 L224.35,94.63 L224.63,94.42 L224.92,94.21 L225.20,94.00 L225.48,93.80 L225.77,93.59 L226.05,93.39 L226.33,93.19 L226.61,92.99 L226.90,92.79 L227.18,92.60 L227.46,92.41 L227.74,92.23 L228.03,92.05 L228.31,91.87 L228.59,91.70 L228.87,91.54 L229.16,91.38 L229.44,91.23 L229.72,91.09 L230.00,90.95 L230.28,90.82 L230.57,90.70 L230.85,90.59 L231.13,90.49 L231.42,90.40 L231.70,90.32 L231.98,90.24 L232.26,90.18 L232.55,90.13 L232.83,90.09 L233.11,90.07 L233.39,90.05 L233.68,90.05 L233.96,90.06 L234.24,90.08 L234.52,90.11 L234.81,90.14 L235.09,90.19 L235.37,90.25 L235.65,90.31 L235.94,90.38 L236.22,90.46 L236.50,90.55 L236.78,90.64 L237.07,90.74 L237.35,90.85 L237.63,90.97 L237.91,91.09 L238.20,91.21 L238.48,91.34 L238.76,91.48 L239.04,91.62 L239.33,91.77 L239.61,91.92 L239.89,92.07 L240.17,92.23 L240.46,92.39 L240.74,92.55 L241.02,92.72 L241.30,92.89 L241.59,93.06 L241.87,93.24 L242.15,93.41 L242.43,93.59 L242.72,93.77 L243.00,93.95 L243.28,94.12 L243.56,94.30 L243.85,94.48 L244.13,94.66 L244.41,94.84 L244.69,95.02 L244.98,95.19 L245.26,95.37 L245.54,95.54 L245.82,95.71 L246.11,95.88 L246.39,96.05 L246.67,96.21 L246.95,96.37 L247.23,96.52 L247.52,96.67 L247.80,96.82 L248.08,96.97 L248.37,97.10 L248.65,97.24 L248.93,97.36 L249.21,97.49 L249.50,97.60 L249.78,97.71 L250.06,97.82 L250.34,97.91 L250.62,98.00 L250.91,98.09 L251.19,98.16 L251.47,98.23 L251.75,98.29 L252.04,98.34 L252.32,98.38 L252.60,98.41 L252.88,98.43 L253.17,98.45 L253.45,98.45 L253.73,98.44 L254.02,98.43 L254.30,98.40 L254.58,98.36 L254.86,98.32 L255.15,98.27 L255.43,98.20 L255.71,98.13 L255.99,98.06 L256.27,97.97 L256.56,97.88 L256.84,97.78 L257.12,97.67 L257.40,97.56 L257.69,97.44 L257.97,97.31 L258.25,97.18 L258.53,97.05 L258.82,96.91 L259.10,96.76 L259.38,96.61 L259.67,96.46 L259.95,96.30 L260.23,96.14 L260.51,95.98 L260.80,95.81 L261.08,95.64 L261.36,95.47 L261.64,95.30 L261.93,95.12 L262.21,94.95 L262.49,94.77 L262.77,94.59 L263.06,94.41 L263.34,94.23 L263.62,94.05 L263.90,93.87 L264.19,93.70 L264.47,93.52 L264.75,93.34 L265.03,93.17 L265.31,92.99 L265.60,92.82 L265.88,92.65 L266.16,92.49 L266.44,92.32 L266.73,92.16 L267.01,92.01 L267.29,91.86 L267.57,91.71 L267.86,91.56 L268.14,91.42 L268.42,91.29 L268.70,91.16 L268.99,91.04 L269.27,90.92 L269.55,90.81 L269.83,90.70 L270.12,90.60 L270.40,90.51 L270.68,90.43 L270.96,90.35 L271.25,90.28 L271.53,90.22 L271.81,90.17 L272.10,90.13 L272.38,90.09 L272.66,90.07 L272.94,90.06 L273.22,90.05 L273.51,90.06 L273.79,90.07 L274.07,90.09 L274.36,90.13 L274.64,90.17 L274.92,90.22 L275.20,90.28 L275.48,90.35 L275.77,90.43 L276.05,90.51 L276.33,90.60 L276.62,90.70 L276.90,90.81 L277.18,90.92 L277.46,91.04 L277.75,91.16 L278.03,91.29 L278.31,91.42 L278.59,91.56 L278.88,91.71 L279.16,91.86 L279.44,92.01 L279.72,92.16 L280.00,92.32 L280.29,92.49 L280.57,92.65 L280.85,92.82 L281.13,92.99 L281.42,93.17 L281.70,93.34 L281.98,93.52 L282.26,93.70 L282.55,93.87 L282.83,94.05 L283.11,94.23 L283.40,94.41 L283.68,94.59 L283.96,94.77 L284.24,94.95 L284.52,95.12 L284.81,95.30 L285.09,95.47 L285.37,95.64 L285.66,95.81 L285.94,95.98 L286.22,96.14 L286.50,96.30 L286.78,96.46 L287.07,96.61 L287.35,96.76 L287.63,96.91 L287.92,97.05 L288.20,97.18 L288.48,97.31 L288.76,97.44 L289.05,97.56 L289.33,97.67 L289.61,97.78 L289.89,97.88 L290.18,97.97 L290.46,98.06 L290.74,98.13 L291.02,98.20 L291.31,98.27 L291.59,98.32 L291.87,98.36 L292.15,98.40 L292.43,98.43 L292.72,98.44 L293.00,98.45 L293.28,98.45 L293.56,98.43 L293.85,98.41 L294.13,98.38 L294.41,98.34 L294.69,98.29 L294.98,98.23 L295.26,98.16 L295.54,98.09 L295.82,98.00 L296.11,97.91 L296.39,97.82 L296.67,97.71 L296.95,97.60 L297.24,97.49 L297.52,97.36 L297.80,97.24 L298.08,97.10 L298.37,96.97 L298.65,96.82 L298.93,96.67 L299.21,96.52 L299.50,96.37 L299.78,96.21 L300.06,96.05 L300.35,95.88 L300.63,95.71 L300.91,95.54 L301.19,95.37 L301.47,95.19 L301.76,95.02 L302.04,94.84 L302.32,94.66 L302.61,94.48 L302.89,94.30 L303.17,94.12 L303.45,93.95 L303.73,93.77 L304.02,93.59 L304.30,93.41 L304.58,93.24 L304.87,93.06 L305.15,92.89 L305.43,92.72 L305.71,92.55 L305.99,92.39 L306.28,92.23 L306.56,92.07 L306.84,91.92 L307.12,91.77 L307.41,91.62 L307.69,91.48 L307.97,91.34 L308.25,91.21 L308.54,91.09 L308.82,90.97 L309.10,90.85 L309.38,90.74 L309.67,90.64 L309.95,90.55 L310.23,90.46 L310.51,90.38 L310.80,90.31 L311.08,90.25 L311.36,90.19 L311.64,90.14 L311.93,90.11 L312.21,90.08 L312.49,90.06 L312.77,90.05 L313.06,90.05 L313.34,90.06 L313.62,90.08 L313.91,90.11 L314.19,90.15 L314.47,90.20 L314.75,90.26 L315.03,90.32 L315.32,90.40 L315.60,90.48 L315.88,90.57 L316.17,90.66 L316.45,90.76 L316.73,90.87 L317.01,90.99 L317.29,91.11 L317.58,91.24 L317.86,91.37 L318.14,91.51 L318.43,91.65 L318.71,91.80 L318.99,91.95 L319.27,92.10 L319.56,92.26 L319.84,92.42 L320.12,92.59 L320.40,92.75 L320.68,92.92 L320.97,93.10 L321.25,93.27 L321.53,93.45 L321.81,93.62 L322.10,93.80 L322.38,93.98 L322.66,94.16 L322.94,94.34 L323.23,94.52 L323.51,94.70 L323.79,94.88 L324.07,95.05 L324.36,95.23 L324.64,95.40 L324.92,95.58 L325.20,95.75 L325.49,95.91 L325.77,96.08 L326.05,96.24 L326.33,96.40 L326.62,96.55 L326.90,96.70 L327.18,96.85 L327.46,96.99 L327.75,97.13 L328.03,97.26 L328.31,97.39 L328.59,97.51 L328.88,97.63 L329.16,97.74 L329.44,97.84 L329.72,97.93 L330.01,98.02 L330.29,98.10 L330.57,98.18 L330.86,98.24 L331.14,98.30 L331.42,98.35 L331.70,98.39 L331.98,98.42 L332.27,98.44 L332.55,98.45 L332.83,98.45 L333.12,98.44 L333.40,98.42 L333.68,98.39 L333.96,98.36 L334.24,98.31 L334.53,98.25 L334.81,98.19 L335.09,98.12 L335.38,98.04 L335.66,97.95 L335.94,97.86 L336.22,97.76 L336.50,97.65 L336.79,97.53 L337.07,97.41 L337.35,97.29 L337.63,97.16 L337.92,97.02 L338.20,96.88 L338.48,96.73 L338.76,96.58 L339.05,96.43 L339.33,96.27 L339.61,96.11 L339.89,95.95 L340.18,95.78 L340.46,95.61 L340.74,95.44 L341.02,95.26 L341.31,95.09 L341.59,94.91 L341.87,94.73 L342.16,94.55 L342.44,94.38 L342.72,94.20 L343.00,94.02 L343.28,93.84 L343.57,93.66 L343.85,93.48 L344.13,93.31 L344.42,93.13 L344.70,92.96 L344.98,92.79 L345.26,92.62 L345.54,92.45 L345.83,92.29 L346.11,92.13 L346.39,91.98 L346.68,91.83 L346.96,91.68 L347.24,91.53 L347.52,91.40 L347.81,91.26 L348.09,91.14 L348.37,91.01 L348.65,90.90 L348.93,90.79 L349.22,90.68 L349.50,90.59 L349.78,90.50 L350.06,90.41 L350.35,90.34 L350.63,90.27 L350.91,90.21 L351.19,90.16 L351.48,90.12 L351.76,90.09 L352.04,90.07 L352.32,90.05 L352.61,90.05 L352.89,90.06 L353.17,90.07 L353.45,90.10 L353.74,90.14 L354.02,90.18 L354.30,90.23 L354.58,90.30 L354.87,90.37 L355.15,90.44 L355.43,90.53 L355.71,90.62 L356.00,90.72 L356.28,90.83 L356.56,90.94 L356.84,91.06 L357.13,91.19 L357.41,91.32 L357.69,91.45 L357.97,91.59 L358.26,91.74 L358.54,91.89 L358.82,92.04 L359.11,92.20 L359.39,92.36 L359.67,92.52 L359.95,92.69 L360.23,92.86 L360.52,93.03 L360.80,93.20 L361.08,93.38 L361.37,93.55 L361.65,93.73 L361.93,93.91 L362.21,94.09 L362.49,94.27 L362.78,94.45 L363.06,94.63 L363.34,94.80 L363.62,94.98 L363.91,95.16 L364.19,95.33 L364.47,95.51 L364.75,95.68 L365.04,95.85 L365.32,96.01 L365.60,96.18 L365.88,96.34 L366.17,96.49 L366.45,96.64 L366.73,96.79 L367.01,96.94 L367.30,97.08 L367.58,97.21 L367.86,97.34 L368.14,97.46 L368.43,97.58 L368.71,97.69 L368.99,97.80 L369.27,97.90 L369.56,97.99 L369.84,98.07 L370.12,98.15 L370.41,98.22 L370.69,98.28 L370.97,98.33 L371.25,98.37 L371.53,98.41 L371.82,98.43 L372.10,98.44 L372.38,98.45 L372.67,98.44 L372.95,98.43 L373.23,98.41 L373.51,98.37 L373.79,98.33 L374.08,98.28 L374.36,98.22 L374.64,98.15 L374.93,98.07 L375.21,97.99 L375.49,97.90 L375.77,97.80 L376.06,97.69 L376.34,97.58 L376.62,97.46 L376.90,97.34 L377.18,97.21 L377.47,97.08 L377.75,96.94 L378.03,96.79 L378.31,96.64 L378.60,96.49 L378.88,96.34 L379.16,96.18 L379.44,96.01 L379.73,95.85 L380.01,95.68 L380.29,95.51 L380.57,95.33 L380.86,95.16 L381.14,94.98 L381.42,94.80 L381.70,94.63 L381.99,94.45 L382.27,94.27 L382.55,94.09 L382.83,93.91 L383.12,93.73 L383.40,93.55 L383.68,93.38 L383.96,93.20 L384.25,93.03 L384.53,92.86 L384.81,92.69 L385.09,92.52 L385.38,92.36 L385.66,92.20 L385.94,92.04 L386.22,91.89 L386.51,91.74 L386.79,91.59 L387.07,91.45 L387.36,91.32 L387.64,91.19 L387.92,91.06 L388.20,90.94 L388.48,90.83 L388.77,90.72 L389.05,90.62 L389.33,90.53 L389.62,90.44 L389.90,90.37 L390.18,90.30 L390.46,90.23 L390.74,90.18 L391.03,90.14 L391.31,90.10 L391.59,90.07 L391.88,90.06 L392.16,90.05 L392.44,90.05 L392.72,90.07 L393.00,90.09 L393.29,90.12 L393.57,90.16 L393.85,90.21 L394.13,90.27 L394.42,90.34 L394.70,90.41 L394.98,90.50 L395.26,90.59 L395.55,90.68 L395.83,90.79 L396.11,90.90 L396.39,91.01 L396.68,91.14 L396.96,91.26 L397.24,91.40 L397.52,91.53 L397.81,91.68 L398.09,91.83 L398.37,91.98 L398.66,92.13 L398.94,92.29 L399.22,92.45 L399.50,92.62 L399.78,92.79 L400.07,92.96 L400.35,93.13 L400.63,93.31 L400.92,93.48 L401.20,93.66 L401.48,93.84 L401.76,94.02 L402.04,94.20 L402.33,94.38 L402.61,94.55 L402.89,94.73 L403.18,94.91 L403.46,95.09 L403.74,95.26 L404.02,95.44 L404.31,95.61 L404.59,95.78 L404.87,95.95 L405.15,96.11 L405.44,96.27 L405.72,96.43 L406.00,96.58 L406.28,96.73 L406.56,96.88 L406.85,97.02 L407.13,97.16 L407.41,97.29 L407.69,97.41 L407.98,97.53 L408.26,97.65 L408.54,97.76 L408.82,97.86 L409.11,97.95 L409.39,98.04 L409.67,98.12 L409.95,98.19 L410.24,98.25 L410.52,98.31 L410.80,98.36 L411.08,98.39 L411.37,98.42 L411.65,98.44 L411.93,98.45 L412.21,98.45 L412.50,98.44 L412.78,98.42 L413.06,98.39 L413.34,98.35 L413.63,98.30 L413.91,98.24 L414.19,98.18 L414.47,98.10 L414.76,98.02 L415.04,97.93 L415.32,97.84 L415.61,97.74 L415.89,97.63 L416.17,97.51 L416.45,97.39 L416.73,97.26 L417.02,97.13 L417.30,96.99 L417.58,96.85 L417.87,96.70 L418.15,96.55 L418.43,96.40 L418.71,96.24 L418.99,96.08 L419.28,95.91 L419.56,95.75 L419.84,95.58 L420.12,95.40 L420.41,95.23 L420.69,95.05 L420.97,94.88 L421.25,94.70 L421.54,94.52 L421.82,94.34 L422.10,94.16 L422.38,93.98 L422.67,93.80 L422.95,93.62 L423.23,93.45 L423.51,93.27 L423.80,93.10 L424.08,92.92 L424.36,92.75 L424.64,92.59 L424.93,92.42 L425.21,92.26 L425.49,92.10 L425.77,91.95 L426.06,91.80 L426.34,91.65 L426.62,91.51 L426.91,91.37 L427.19,91.24 L427.47,91.11 L427.75,90.99 L428.03,90.87 L428.32,90.76 L428.60,90.66 L428.88,90.57 L429.17,90.48 L429.45,90.40 L429.73,90.32 L430.01,90.26 L430.29,90.20 L430.58,90.15 L430.86,90.11 L431.14,90.08 L431.43,90.06 L431.71,90.05 L431.99,90.05 L432.27,90.06 L432.56,90.08 L432.84,90.11 L433.12,90.14 L433.40,90.19 L433.69,90.25 L433.97,90.31 L434.25,90.38 L434.53,90.46 L434.81,90.55 L435.10,90.64 L435.38,90.74 L435.66,90.85 L435.94,90.97 L436.23,91.09 L436.51,91.21 L436.79,91.34 L437.07,91.48 L437.36,91.62 L437.64,91.77 L437.92,91.92 L438.20,92.07 L438.49,92.23 L438.77,92.39 L439.05,92.55 L439.33,92.72 L439.62,92.89 L439.90,93.06" stroke="#e2622a" stroke-width="1.05" stroke-dasharray="4.7 1.8 1.2 1.8"/>
<path d="M44.40,94.25 L44.68,94.25 L44.96,94.25 L45.25,94.25 L45.53,94.25 L45.81,94.25 L46.09,94.25 L46.38,94.25 L46.66,94.25 L46.94,94.25 L47.23,94.25 L47.51,94.25 L47.79,94.25 L48.07,94.25 L48.35,94.25 L48.64,94.25 L48.92,94.25 L49.20,94.25 L49.48,94.25 L49.77,94.25 L50.05,94.25 L50.33,94.25 L50.61,94.25 L50.90,94.25 L51.18,94.25 L51.46,94.25 L51.74,94.25 L52.03,94.25 L52.31,94.25 L52.59,94.25 L52.88,94.25 L53.16,94.25 L53.44,94.25 L53.72,94.25 L54.00,94.25 L54.29,94.25 L54.57,94.25 L54.85,94.25 L55.13,94.25 L55.42,94.25 L55.70,94.25 L55.98,94.25 L56.27,94.25 L56.55,94.25 L56.83,94.25 L57.11,94.25 L57.39,94.25 L57.68,94.25 L57.96,94.25 L58.24,94.25 L58.52,94.25 L58.81,94.25 L59.09,94.25 L59.37,94.25 L59.66,94.25 L59.94,94.25 L60.22,94.25 L60.50,94.25 L60.78,94.25 L61.07,94.25 L61.35,94.25 L61.63,94.25 L61.91,94.25 L62.20,94.25 L62.48,94.25 L62.76,94.25 L63.05,94.25 L63.33,94.25 L63.61,94.25 L63.89,94.25 L64.17,94.25 L64.46,94.25 L64.74,94.25 L65.02,94.25 L65.31,94.25 L65.59,94.25 L65.87,94.25 L66.15,94.25 L66.44,94.25 L66.72,94.25 L67.00,94.25 L67.28,94.25 L67.56,94.25 L67.85,94.25 L68.13,94.25 L68.41,94.25 L68.69,94.25 L68.98,94.25 L69.26,94.25 L69.54,94.25 L69.83,94.25 L70.11,94.25 L70.39,94.25 L70.67,94.25 L70.95,94.25 L71.24,94.25 L71.52,94.25 L71.80,94.25 L72.08,94.25 L72.37,94.25 L72.65,94.25 L72.93,94.34 L73.22,94.46 L73.50,94.59 L73.78,94.76 L74.06,94.96 L74.34,95.20 L74.63,95.48 L74.91,95.82 L75.19,96.22 L75.47,96.69 L75.76,97.23 L76.04,97.84 L76.32,98.55 L76.61,99.35 L76.89,100.25 L77.17,101.25 L77.45,102.37 L77.73,103.61 L78.02,105.00 L78.30,106.54 L78.58,108.25 L78.86,110.15 L79.15,112.24 L79.43,114.55 L79.71,117.07 L80.00,119.79 L80.28,122.64 L80.56,125.55 L80.84,128.45 L81.12,131.31 L81.41,134.13 L81.69,136.94 L81.97,139.73 L82.25,142.52 L82.54,145.31 L82.82,148.12 L83.10,150.95 L83.39,153.81 L83.67,156.70 L83.95,159.59 L84.23,162.47 L84.51,165.34 L84.80,168.16 L85.08,170.94 L85.36,173.65 L85.64,176.29 L85.93,178.84 L86.21,181.30 L86.49,183.67 L86.78,185.94 L87.06,188.12 L87.34,190.19 L87.62,192.16 L87.91,194.02 L88.19,195.78 L88.47,197.47 L88.75,199.12 L89.03,200.76 L89.32,202.43 L89.60,204.14 L89.88,205.94 L90.16,207.82 L90.45,209.76 L90.73,211.73 L91.01,213.73 L91.30,215.72 L91.58,217.69 L91.86,219.61 L92.14,221.46 L92.42,223.21 L92.71,224.86 L92.99,226.37 L93.27,227.73 L93.56,228.91 L93.84,229.89 L94.12,230.65 L94.40,231.17 L94.69,231.43 L94.97,231.42 L95.25,231.21 L95.53,230.81 L95.81,230.23 L96.10,229.48 L96.38,228.56 L96.66,227.47 L96.94,226.22 L97.23,224.81 L97.51,223.26 L97.79,221.56 L98.08,219.71 L98.36,217.73 L98.64,215.62 L98.92,213.39 L99.20,211.03 L99.49,208.56 L99.77,205.98 L100.05,203.29 L100.34,200.50 L100.62,197.61 L100.90,194.64 L101.18,191.58 L101.47,188.43 L101.75,185.21 L102.03,181.92 L102.31,178.57 L102.59,175.15 L102.88,171.68 L103.16,168.15 L103.44,164.58 L103.72,160.97 L104.01,157.33 L104.29,153.65 L104.57,149.95 L104.86,146.22 L105.14,142.48 L105.42,138.73 L105.70,134.97 L105.99,131.21 L106.27,127.46 L106.55,123.71 L106.83,119.98 L107.12,116.27 L107.40,112.58 L107.68,108.92 L107.96,105.30 L108.25,101.71 L108.53,98.17 L108.81,94.67 L109.09,91.23 L109.38,87.85 L109.66,84.53 L109.94,81.29 L110.22,78.11 L110.50,75.02 L110.79,72.01 L111.07,69.08 L111.35,66.25 L111.63,63.52 L111.92,60.90 L112.20,58.38 L112.48,55.98 L112.76,53.69 L113.05,51.53 L113.33,49.50 L113.61,47.60 L113.90,45.85 L114.18,44.23 L114.46,42.76 L114.74,41.45 L115.03,40.30 L115.31,39.31 L115.59,38.49 L115.87,37.84 L116.16,37.37 L116.44,37.09 L116.72,36.99 L117.00,37.05 L117.28,37.23 L117.57,37.52 L117.85,37.93 L118.13,38.44 L118.41,39.06 L118.70,39.77 L118.98,40.58 L119.26,41.48 L119.55,42.47 L119.83,43.55 L120.11,44.70 L120.39,45.93 L120.68,47.23 L120.96,48.60 L121.24,50.03 L121.52,51.53 L121.81,53.08 L122.09,54.69 L122.37,56.34 L122.65,58.04 L122.94,59.78 L123.22,61.55 L123.50,63.36 L123.78,65.20 L124.06,67.07 L124.35,68.95 L124.63,70.86 L124.91,72.77 L125.19,74.70 L125.48,76.64 L125.76,78.57 L126.04,80.51 L126.32,82.44 L126.61,84.36 L126.89,86.27 L127.17,88.16 L127.45,90.03 L127.74,91.87 L128.02,93.69 L128.30,95.47 L128.59,97.22 L128.87,98.93 L129.15,100.59 L129.43,102.20 L129.72,103.76 L130.00,105.27 L130.28,106.72 L130.56,108.10 L130.84,109.42 L131.13,110.66 L131.41,111.83 L131.69,112.92 L131.97,113.92 L132.26,114.84 L132.54,115.67 L132.82,116.41 L133.10,117.04 L133.39,117.58 L133.67,118.00 L133.95,118.32 L134.24,118.52 L134.52,118.61 L134.80,118.58 L135.08,118.48 L135.37,118.31 L135.65,118.07 L135.93,117.75 L136.21,117.38 L136.50,116.94 L136.78,116.44 L137.06,115.89 L137.34,115.29 L137.62,114.63 L137.91,113.94 L138.19,113.20 L138.47,112.42 L138.75,111.60 L139.04,110.75 L139.32,109.87 L139.60,108.97 L139.88,108.04 L140.17,107.09 L140.45,106.12 L140.73,105.14 L141.01,104.14 L141.30,103.14 L141.58,102.14 L141.86,101.13 L142.15,100.12 L142.43,99.12 L142.71,98.12 L142.99,97.14 L143.28,96.17 L143.56,95.21 L143.84,94.28 L144.12,93.37 L144.41,92.48 L144.69,91.63 L144.97,90.80 L145.25,90.02 L145.53,89.27 L145.82,88.56 L146.10,87.90 L146.38,87.29 L146.66,86.72 L146.95,86.22 L147.23,85.77 L147.51,85.38 L147.80,85.05 L148.08,84.79 L148.36,84.60 L148.64,84.49 L148.93,84.45 L149.21,84.46 L149.49,84.51 L149.77,84.58 L150.06,84.68 L150.34,84.81 L150.62,84.96 L150.90,85.13 L151.19,85.33 L151.47,85.54 L151.75,85.78 L152.03,86.04 L152.31,86.32 L152.60,86.61 L152.88,86.92 L153.16,87.25 L153.44,87.59 L153.73,87.94 L154.01,88.30 L154.29,88.68 L154.57,89.06 L154.86,89.46 L155.14,89.86 L155.42,90.26 L155.70,90.68 L155.99,91.09 L156.27,91.51 L156.55,91.94 L156.84,92.36 L157.12,92.78 L157.40,93.21 L157.68,93.63 L157.97,94.04 L158.25,94.46 L158.53,94.86 L158.81,95.26 L159.09,95.66 L159.38,96.04 L159.66,96.42 L159.94,96.78 L160.22,97.13 L160.51,97.47 L160.79,97.80 L161.07,98.11 L161.35,98.40 L161.64,98.68 L161.92,98.94 L162.20,99.18 L162.48,99.39 L162.77,99.59 L163.05,99.76 L163.33,99.91 L163.61,100.04 L163.90,100.14 L164.18,100.21 L164.46,100.26 L164.75,100.27 L165.03,100.26 L165.31,100.25 L165.59,100.22 L165.88,100.18 L166.16,100.13 L166.44,100.07 L166.72,100.00 L167.00,99.92 L167.29,99.83 L167.57,99.74 L167.85,99.64 L168.13,99.53 L168.42,99.41 L168.70,99.28 L168.98,99.15 L169.26,99.02 L169.55,98.88 L169.83,98.73 L170.11,98.58 L170.40,98.42 L170.68,98.27 L170.96,98.10 L171.24,97.94 L171.53,97.77 L171.81,97.60 L172.09,97.43 L172.37,97.26 L172.66,97.08 L172.94,96.91 L173.22,96.74 L173.50,96.56 L173.78,96.39 L174.07,96.22 L174.35,96.05 L174.63,95.88 L174.92,95.72 L175.20,95.55 L175.48,95.40 L175.76,95.24 L176.05,95.09 L176.33,94.94 L176.61,94.80 L176.89,94.67 L177.18,94.54 L177.46,94.41 L177.74,94.29 L178.02,94.18 L178.31,94.08 L178.59,93.99 L178.87,93.90 L179.15,93.82 L179.44,93.75 L179.72,93.69 L180.00,93.64 L180.28,93.60 L180.57,93.57 L180.85,93.56 L181.13,93.55 L181.41,93.55 L181.70,93.56 L181.98,93.56 L182.26,93.57 L182.54,93.58 L182.83,93.59 L183.11,93.61 L183.39,93.63 L183.67,93.65 L183.96,93.67 L184.24,93.69 L184.52,93.72 L184.80,93.74 L185.09,93.77 L185.37,93.80 L185.65,93.83 L185.93,93.86 L186.22,93.89 L186.50,93.92 L186.78,93.96 L187.06,93.99 L187.35,94.03 L187.63,94.06 L187.91,94.10 L188.19,94.14 L188.48,94.18 L188.76,94.21 L189.04,94.25 L189.32,94.29 L189.60,94.32 L189.89,94.36 L190.17,94.40 L190.45,94.44 L190.73,94.47 L191.02,94.51 L191.30,94.54 L191.58,94.58 L191.87,94.61 L192.15,94.64 L192.43,94.67 L192.71,94.70 L193.00,94.73 L193.28,94.76 L193.56,94.78 L193.84,94.81 L194.12,94.83 L194.41,94.85 L194.69,94.87 L194.97,94.89 L195.25,94.91 L195.54,94.92 L195.82,94.93 L196.10,94.94 L196.38,94.94 L196.67,94.95 L196.95,94.95 L197.23,94.95 L197.52,94.95 L197.80,94.94 L198.08,94.94 L198.36,94.94 L198.65,94.93 L198.93,94.92 L199.21,94.92 L199.49,94.91 L199.78,94.90 L200.06,94.89 L200.34,94.88 L200.62,94.87 L200.91,94.85 L201.19,94.84 L201.47,94.83 L201.75,94.81 L202.03,94.80 L202.32,94.78 L202.60,94.77 L202.88,94.75 L203.17,94.74 L203.45,94.72 L203.73,94.70 L204.01,94.69 L204.30,94.67 L204.58,94.65 L204.86,94.63 L205.14,94.62 L205.43,94.60 L205.71,94.58 L205.99,94.57 L206.27,94.55 L206.56,94.53 L206.84,94.51 L207.12,94.50 L207.40,94.48 L207.69,94.46 L207.97,94.45 L208.25,94.43 L208.53,94.42 L208.82,94.40 L209.10,94.39 L209.38,94.37 L209.66,94.36 L209.95,94.35 L210.23,94.33 L210.51,94.32 L210.79,94.31 L211.08,94.30 L211.36,94.29 L211.64,94.28 L211.92,94.28 L212.21,94.27 L212.49,94.26 L212.77,94.26 L213.05,94.26 L213.34,94.25 L213.62,94.25 L213.90,94.25 L214.18,94.25 L214.47,94.25 L214.75,94.25 L215.03,94.25 L215.31,94.25 L215.60,94.25 L215.88,94.25 L216.16,94.25 L216.44,94.25 L216.73,94.25 L217.01,94.25 L217.29,94.25 L217.57,94.25 L217.86,94.25 L218.14,94.25 L218.42,94.25 L218.70,94.25 L218.98,94.25 L219.27,94.25 L219.55,94.25 L219.83,94.25 L220.12,94.25 L220.40,94.25 L220.68,94.25 L220.96,94.25 L221.25,94.25 L221.53,94.25 L221.81,94.25 L222.09,94.25 L222.38,94.25 L222.66,94.25 L222.94,94.25 L223.22,94.25 L223.50,94.25 L223.79,94.25 L224.07,94.25 L224.35,94.25 L224.63,94.25 L224.92,94.25 L225.20,94.25 L225.48,94.25 L225.77,94.25 L226.05,94.25 L226.33,94.25 L226.61,94.25 L226.90,94.25 L227.18,94.25 L227.46,94.25 L227.74,94.25 L228.03,94.25 L228.31,94.25 L228.59,94.25 L228.87,94.25 L229.16,94.25 L229.44,94.25 L229.72,94.25 L230.00,94.25 L230.28,94.25 L230.57,94.25 L230.85,94.25 L231.13,94.25 L231.42,94.25 L231.70,94.25 L231.98,94.25 L232.26,94.25 L232.55,94.25 L232.83,94.25 L233.11,94.25 L233.39,94.25 L233.68,94.25 L233.96,94.25 L234.24,94.25 L234.52,94.25 L234.81,94.25 L235.09,94.25 L235.37,94.25 L235.65,94.25 L235.94,94.25 L236.22,94.25 L236.50,94.25 L236.78,94.25 L237.07,94.25 L237.35,94.25 L237.63,94.25 L237.91,94.25 L238.20,94.25 L238.48,94.25 L238.76,94.25 L239.04,94.25 L239.33,94.25 L239.61,94.25 L239.89,94.25 L240.17,94.25 L240.46,94.25 L240.74,94.25 L241.02,94.25 L241.30,94.25 L241.59,94.25 L241.87,94.25 L242.15,94.25 L242.43,94.25 L242.72,94.25 L243.00,94.25 L243.28,94.25 L243.56,94.25 L243.85,94.25 L244.13,94.25 L244.41,94.25 L244.69,94.25 L244.98,94.25 L245.26,94.25 L245.54,94.25 L245.82,94.25 L246.11,94.25 L246.39,94.25 L246.67,94.25 L246.95,94.25 L247.23,94.25 L247.52,94.25 L247.80,94.25 L248.08,94.25 L248.37,94.25 L248.65,94.25 L248.93,94.25 L249.21,94.25 L249.50,94.25 L249.78,94.25 L250.06,94.25 L250.34,94.25 L250.62,94.25 L250.91,94.25 L251.19,94.25 L251.47,94.25 L251.75,94.25 L252.04,94.25 L252.32,94.25 L252.60,94.25 L252.88,94.25 L253.17,94.25 L253.45,94.25 L253.73,94.25 L254.02,94.25 L254.30,94.25 L254.58,94.25 L254.86,94.25 L255.15,94.25 L255.43,94.25 L255.71,94.25 L255.99,94.25 L256.27,94.25 L256.56,94.25 L256.84,94.25 L257.12,94.25 L257.40,94.25 L257.69,94.25 L257.97,94.25 L258.25,94.25 L258.53,94.25 L258.82,94.25 L259.10,94.25 L259.38,94.25 L259.67,94.25 L259.95,94.25 L260.23,94.25 L260.51,94.25 L260.80,94.25 L261.08,94.25 L261.36,94.25 L261.64,94.25 L261.93,94.25 L262.21,94.25 L262.49,94.25 L262.77,94.25 L263.06,94.25 L263.34,94.25 L263.62,94.25 L263.90,94.25 L264.19,94.25 L264.47,94.25 L264.75,94.25 L265.03,94.25 L265.31,94.25 L265.60,94.25 L265.88,94.25 L266.16,94.25 L266.44,94.25 L266.73,94.25 L267.01,94.25 L267.29,94.25 L267.57,94.25 L267.86,94.25 L268.14,94.25 L268.42,94.25 L268.70,94.25 L268.99,94.25 L269.27,94.25 L269.55,94.25 L269.83,94.25 L270.12,94.25 L270.40,94.25 L270.68,94.25 L270.96,94.25 L271.25,94.25 L271.53,94.25 L271.81,94.25 L272.10,94.25 L272.38,94.25 L272.66,94.25 L272.94,94.25 L273.22,94.25 L273.51,94.25 L273.79,94.25 L274.07,94.25 L274.36,94.25 L274.64,94.25 L274.92,94.25 L275.20,94.25 L275.48,94.25 L275.77,94.25 L276.05,94.25 L276.33,94.25 L276.62,94.25 L276.90,94.25 L277.18,94.25 L277.46,94.25 L277.75,94.25 L278.03,94.25 L278.31,94.25 L278.59,94.25 L278.88,94.25 L279.16,94.25 L279.44,94.25 L279.72,94.25 L280.00,94.25 L280.29,94.25 L280.57,94.25 L280.85,94.25 L281.13,94.25 L281.42,94.25 L281.70,94.25 L281.98,94.25 L282.26,94.25 L282.55,94.25 L282.83,94.25 L283.11,94.25 L283.40,94.25 L283.68,94.25 L283.96,94.25 L284.24,94.25 L284.52,94.25 L284.81,94.25 L285.09,94.25 L285.37,94.25 L285.66,94.25 L285.94,94.25 L286.22,94.25 L286.50,94.25 L286.78,94.25 L287.07,94.25 L287.35,94.25 L287.63,94.25 L287.92,94.25 L288.20,94.25 L288.48,94.25 L288.76,94.25 L289.05,94.25 L289.33,94.25 L289.61,94.25 L289.89,94.25 L290.18,94.25 L290.46,94.25 L290.74,94.25 L291.02,94.25 L291.31,94.25 L291.59,94.25 L291.87,94.25 L292.15,94.25 L292.43,94.25 L292.72,94.25 L293.00,94.25 L293.28,94.25 L293.56,94.25 L293.85,94.25 L294.13,94.25 L294.41,94.25 L294.69,94.25 L294.98,94.25 L295.26,94.25 L295.54,94.25 L295.82,94.25 L296.11,94.25 L296.39,94.25 L296.67,94.25 L296.95,94.25 L297.24,94.25 L297.52,94.25 L297.80,94.25 L298.08,94.25 L298.37,94.25 L298.65,94.25 L298.93,94.25 L299.21,94.25 L299.50,94.25 L299.78,94.25 L300.06,94.25 L300.35,94.25 L300.63,94.25 L300.91,94.25 L301.19,94.25 L301.47,94.25 L301.76,94.25 L302.04,94.25 L302.32,94.25 L302.61,94.25 L302.89,94.25 L303.17,94.25 L303.45,94.25 L303.73,94.25 L304.02,94.25 L304.30,94.25 L304.58,94.25 L304.87,94.25 L305.15,94.25 L305.43,94.25 L305.71,94.25 L305.99,94.25 L306.28,94.25 L306.56,94.25 L306.84,94.25 L307.12,94.25 L307.41,94.25 L307.69,94.25 L307.97,94.25 L308.25,94.25 L308.54,94.25 L308.82,94.25 L309.10,94.25 L309.38,94.25 L309.67,94.25 L309.95,94.25 L310.23,94.25 L310.51,94.25 L310.80,94.25 L311.08,94.25 L311.36,94.25 L311.64,94.25 L311.93,94.25 L312.21,94.25 L312.49,94.25 L312.77,94.25 L313.06,94.25 L313.34,94.25 L313.62,94.25 L313.91,94.25 L314.19,94.25 L314.47,94.25 L314.75,94.25 L315.03,94.25 L315.32,94.25 L315.60,94.25 L315.88,94.25 L316.17,94.25 L316.45,94.25 L316.73,94.25 L317.01,94.25 L317.29,94.25 L317.58,94.25 L317.86,94.25 L318.14,94.25 L318.43,94.25 L318.71,94.25 L318.99,94.25 L319.27,94.25 L319.56,94.25 L319.84,94.25 L320.12,94.25 L320.40,94.25 L320.68,94.25 L320.97,94.25 L321.25,94.25 L321.53,94.25 L321.81,94.25 L322.10,94.25 L322.38,94.25 L322.66,94.25 L322.94,94.25 L323.23,94.25 L323.51,94.25 L323.79,94.25 L324.07,94.25 L324.36,94.25 L324.64,94.25 L324.92,94.25 L325.20,94.25 L325.49,94.25 L325.77,94.25 L326.05,94.25 L326.33,94.25 L326.62,94.25 L326.90,94.25 L327.18,94.25 L327.46,94.25 L327.75,94.25 L328.03,94.25 L328.31,94.25 L328.59,94.25 L328.88,94.25 L329.16,94.25 L329.44,94.25 L329.72,94.25 L330.01,94.25 L330.29,94.25 L330.57,94.25 L330.86,94.25 L331.14,94.25 L331.42,94.25 L331.70,94.25 L331.98,94.25 L332.27,94.25 L332.55,94.25 L332.83,94.25 L333.12,94.25 L333.40,94.25 L333.68,94.25 L333.96,94.25 L334.24,94.25 L334.53,94.25 L334.81,94.25 L335.09,94.25 L335.38,94.25 L335.66,94.25 L335.94,94.25 L336.22,94.25 L336.50,94.25 L336.79,94.25 L337.07,94.25 L337.35,94.25 L337.63,94.25 L337.92,94.25 L338.20,94.25 L338.48,94.25 L338.76,94.25 L339.05,94.25 L339.33,94.25 L339.61,94.25 L339.89,94.25 L340.18,94.25 L340.46,94.25 L340.74,94.25 L341.02,94.25 L341.31,94.25 L341.59,94.25 L341.87,94.25 L342.16,94.25 L342.44,94.25 L342.72,94.25 L343.00,94.25 L343.28,94.25 L343.57,94.25 L343.85,94.25 L344.13,94.25 L344.42,94.25 L344.70,94.25 L344.98,94.25 L345.26,94.25 L345.54,94.25 L345.83,94.25 L346.11,94.25 L346.39,94.25 L346.68,94.25 L346.96,94.25 L347.24,94.25 L347.52,94.25 L347.81,94.25 L348.09,94.25 L348.37,94.25 L348.65,94.25 L348.93,94.25 L349.22,94.25 L349.50,94.25 L349.78,94.25 L350.06,94.25 L350.35,94.25 L350.63,94.25 L350.91,94.25 L351.19,94.25 L351.48,94.25 L351.76,94.25 L352.04,94.25 L352.32,94.25 L352.61,94.25 L352.89,94.25 L353.17,94.25 L353.45,94.25 L353.74,94.25 L354.02,94.25 L354.30,94.25 L354.58,94.25 L354.87,94.25 L355.15,94.25 L355.43,94.25 L355.71,94.25 L356.00,94.25 L356.28,94.25 L356.56,94.25 L356.84,94.25 L357.13,94.25 L357.41,94.25 L357.69,94.25 L357.97,94.25 L358.26,94.25 L358.54,94.25 L358.82,94.25 L359.11,94.25 L359.39,94.25 L359.67,94.25 L359.95,94.25 L360.23,94.25 L360.52,94.25 L360.80,94.25 L361.08,94.25 L361.37,94.25 L361.65,94.25 L361.93,94.25 L362.21,94.25 L362.49,94.25 L362.78,94.25 L363.06,94.25 L363.34,94.25 L363.62,94.25 L363.91,94.25 L364.19,94.25 L364.47,94.25 L364.75,94.25 L365.04,94.25 L365.32,94.25 L365.60,94.25 L365.88,94.25 L366.17,94.25 L366.45,94.25 L366.73,94.25 L367.01,94.25 L367.30,94.25 L367.58,94.25 L367.86,94.25 L368.14,94.25 L368.43,94.25 L368.71,94.25 L368.99,94.25 L369.27,94.25 L369.56,94.25 L369.84,94.25 L370.12,94.25 L370.41,94.25 L370.69,94.25 L370.97,94.25 L371.25,94.25 L371.53,94.25 L371.82,94.25 L372.10,94.25 L372.38,94.25 L372.67,94.25 L372.95,94.25 L373.23,94.25 L373.51,94.25 L373.79,94.25 L374.08,94.25 L374.36,94.25 L374.64,94.25 L374.93,94.25 L375.21,94.25 L375.49,94.25 L375.77,94.25 L376.06,94.25 L376.34,94.25 L376.62,94.25 L376.90,94.25 L377.18,94.25 L377.47,94.25 L377.75,94.25 L378.03,94.25 L378.31,94.25 L378.60,94.25 L378.88,94.25 L379.16,94.25 L379.44,94.25 L379.73,94.25 L380.01,94.25 L380.29,94.25 L380.57,94.25 L380.86,94.25 L381.14,94.25 L381.42,94.25 L381.70,94.25 L381.99,94.25 L382.27,94.25 L382.55,94.25 L382.83,94.25 L383.12,94.25 L383.40,94.25 L383.68,94.25 L383.96,94.25 L384.25,94.25 L384.53,94.25 L384.81,94.25 L385.09,94.25 L385.38,94.25 L385.66,94.25 L385.94,94.25 L386.22,94.25 L386.51,94.25 L386.79,94.25 L387.07,94.25 L387.36,94.25 L387.64,94.25 L387.92,94.25 L388.20,94.25 L388.48,94.25 L388.77,94.25 L389.05,94.25 L389.33,94.25 L389.62,94.25 L389.90,94.25 L390.18,94.25 L390.46,94.25 L390.74,94.25 L391.03,94.25 L391.31,94.25 L391.59,94.25 L391.88,94.25 L392.16,94.25 L392.44,94.25 L392.72,94.25 L393.00,94.25 L393.29,94.25 L393.57,94.25 L393.85,94.25 L394.13,94.25 L394.42,94.25 L394.70,94.25 L394.98,94.25 L395.26,94.25 L395.55,94.25 L395.83,94.25 L396.11,94.25 L396.39,94.25 L396.68,94.25 L396.96,94.25 L397.24,94.25 L397.52,94.25 L397.81,94.25 L398.09,94.25 L398.37,94.25 L398.66,94.25 L398.94,94.25 L399.22,94.25 L399.50,94.25 L399.78,94.25 L400.07,94.25 L400.35,94.25 L400.63,94.25 L400.92,94.25 L401.20,94.25 L401.48,94.25 L401.76,94.25 L402.04,94.25 L402.33,94.25 L402.61,94.25 L402.89,94.25 L403.18,94.25 L403.46,94.25 L403.74,94.25 L404.02,94.25 L404.31,94.25 L404.59,94.25 L404.87,94.25 L405.15,94.25 L405.44,94.25 L405.72,94.25 L406.00,94.25 L406.28,94.25 L406.56,94.25 L406.85,94.25 L407.13,94.25 L407.41,94.25 L407.69,94.25 L407.98,94.25 L408.26,94.25 L408.54,94.25 L408.82,94.25 L409.11,94.25 L409.39,94.25 L409.67,94.25 L409.95,94.25 L410.24,94.25 L410.52,94.25 L410.80,94.25 L411.08,94.25 L411.37,94.25 L411.65,94.25 L411.93,94.25 L412.21,94.25 L412.50,94.25 L412.78,94.25 L413.06,94.25 L413.34,94.25 L413.63,94.25 L413.91,94.25 L414.19,94.25 L414.47,94.25 L414.76,94.25 L415.04,94.25 L415.32,94.25 L415.61,94.25 L415.89,94.25 L416.17,94.25 L416.45,94.25 L416.73,94.25 L417.02,94.25 L417.30,94.25 L417.58,94.25 L417.87,94.25 L418.15,94.25 L418.43,94.25 L418.71,94.25 L418.99,94.25 L419.28,94.25 L419.56,94.25 L419.84,94.25 L420.12,94.25 L420.41,94.25 L420.69,94.25 L420.97,94.25 L421.25,94.25 L421.54,94.25 L421.82,94.25 L422.10,94.25 L422.38,94.25 L422.67,94.25 L422.95,94.25 L423.23,94.25 L423.51,94.25 L423.80,94.25 L424.08,94.25 L424.36,94.25 L424.64,94.25 L424.93,94.25 L425.21,94.25 L425.49,94.25 L425.77,94.25 L426.06,94.25 L426.34,94.25 L426.62,94.25 L426.91,94.25 L427.19,94.25 L427.47,94.25 L427.75,94.25 L428.03,94.25 L428.32,94.25 L428.60,94.25 L428.88,94.25 L429.17,94.25 L429.45,94.25 L429.73,94.25 L430.01,94.25 L430.29,94.25 L430.58,94.25 L430.86,94.25 L431.14,94.25 L431.43,94.25 L431.71,94.25 L431.99,94.25 L432.27,94.25 L432.56,94.25 L432.84,94.25 L433.12,94.25 L433.40,94.25 L433.69,94.25 L433.97,94.25 L434.25,94.25 L434.53,94.25 L434.81,94.25 L435.10,94.25 L435.38,94.25 L435.66,94.25 L435.94,94.25 L436.23,94.25 L436.51,94.25 L436.79,94.25 L437.07,94.25 L437.36,94.25 L437.64,94.25 L437.92,94.25 L438.20,94.25 L438.49,94.25 L438.77,94.25 L439.05,94.25 L439.33,94.25 L439.62,94.25 L439.90,94.25" stroke="#EDB120" stroke-width="1.75"/>
<path d="M44.40,94.25 L44.68,94.25 L44.96,94.25 L45.25,94.25 L45.53,94.25 L45.81,94.25 L46.09,94.25 L46.38,94.25 L46.66,94.25 L46.94,94.25 L47.23,94.25 L47.51,94.25 L47.79,94.25 L48.07,94.25 L48.35,94.25 L48.64,94.25 L48.92,94.25 L49.20,94.25 L49.48,94.25 L49.77,94.25 L50.05,94.25 L50.33,94.25 L50.61,94.25 L50.90,94.25 L51.18,94.25 L51.46,94.25 L51.74,94.25 L52.03,94.25 L52.31,94.25 L52.59,94.25 L52.88,94.25 L53.16,94.25 L53.44,94.25 L53.72,94.25 L54.00,94.25 L54.29,94.25 L54.57,94.25 L54.85,94.25 L55.13,94.25 L55.42,94.25 L55.70,94.25 L55.98,94.25 L56.27,94.25 L56.55,94.25 L56.83,94.25 L57.11,94.25 L57.39,94.25 L57.68,94.25 L57.96,94.25 L58.24,94.25 L58.52,94.25 L58.81,94.25 L59.09,94.25 L59.37,94.25 L59.66,94.25 L59.94,94.25 L60.22,94.25 L60.50,94.25 L60.78,94.25 L61.07,94.25 L61.35,94.25 L61.63,94.25 L61.91,94.25 L62.20,94.25 L62.48,94.25 L62.76,94.25 L63.05,94.25 L63.33,94.25 L63.61,94.25 L63.89,94.25 L64.17,94.25 L64.46,94.25 L64.74,94.25 L65.02,94.25 L65.31,94.25 L65.59,94.25 L65.87,94.25 L66.15,94.25 L66.44,94.25 L66.72,94.25 L67.00,94.25 L67.28,94.25 L67.56,94.25 L67.85,94.25 L68.13,94.25 L68.41,94.25 L68.69,94.25 L68.98,94.25 L69.26,94.25 L69.54,94.25 L69.83,94.25 L70.11,94.25 L70.39,94.25 L70.67,94.25 L70.95,94.25 L71.24,94.25 L71.52,94.25 L71.80,94.25 L72.08,94.25 L72.37,94.25 L72.65,94.25 L72.93,94.34 L73.22,94.46 L73.50,94.59 L73.78,94.76 L74.06,94.96 L74.34,95.20 L74.63,95.48 L74.91,95.82 L75.19,96.22 L75.47,96.69 L75.76,97.23 L76.04,97.84 L76.32,98.55 L76.61,99.35 L76.89,100.25 L77.17,101.25 L77.45,102.37 L77.73,103.61 L78.02,105.00 L78.30,106.54 L78.58,108.25 L78.86,110.15 L79.15,112.24 L79.43,114.55 L79.71,117.07 L80.00,119.79 L80.28,122.64 L80.56,125.55 L80.84,128.45 L81.12,131.31 L81.41,134.13 L81.69,136.94 L81.97,139.73 L82.25,142.52 L82.54,145.31 L82.82,148.12 L83.10,150.95 L83.39,153.81 L83.67,156.70 L83.95,159.59 L84.23,162.47 L84.51,165.34 L84.80,168.16 L85.08,170.94 L85.36,173.65 L85.64,176.29 L85.93,178.84 L86.21,181.30 L86.49,183.67 L86.78,185.94 L87.06,188.12 L87.34,190.19 L87.62,192.16 L87.91,194.02 L88.19,195.78 L88.47,197.47 L88.75,199.12 L89.03,200.76 L89.32,202.43 L89.60,204.14 L89.88,205.94 L90.16,207.82 L90.45,209.76 L90.73,211.73 L91.01,213.73 L91.30,215.72 L91.58,217.69 L91.86,219.61 L92.14,221.46 L92.42,223.21 L92.71,224.86 L92.99,226.37 L93.27,227.73 L93.56,228.91 L93.84,229.89 L94.12,230.65 L94.40,231.17 L94.69,231.43 L94.97,231.42 L95.25,231.21 L95.53,230.81 L95.81,230.24 L96.10,229.49 L96.38,228.57 L96.66,227.48 L96.94,226.23 L97.23,224.83 L97.51,223.28 L97.79,221.58 L98.08,219.75 L98.36,217.77 L98.64,215.67 L98.92,213.44 L99.20,211.09 L99.49,208.63 L99.77,206.05 L100.05,203.37 L100.34,200.59 L100.62,197.71 L100.90,194.74 L101.18,191.69 L101.47,188.56 L101.75,185.35 L102.03,182.07 L102.31,178.72 L102.59,175.31 L102.88,171.85 L103.16,168.34 L103.44,164.78 L103.72,161.18 L104.01,157.54 L104.29,153.87 L104.57,150.18 L104.86,146.47 L105.14,142.74 L105.42,139.00 L105.70,135.25 L105.99,131.50 L106.27,127.76 L106.55,124.02 L106.83,120.30 L107.12,116.60 L107.40,112.92 L107.68,109.27 L107.96,105.66 L108.25,102.08 L108.53,98.55 L108.81,95.07 L109.09,91.64 L109.38,88.27 L109.66,84.96 L109.94,81.72 L110.22,78.55 L110.50,75.47 L110.79,72.46 L111.07,69.55 L111.35,66.73 L111.63,64.01 L111.92,61.39 L112.20,58.88 L112.48,56.48 L112.76,54.21 L113.05,52.05 L113.33,50.03 L113.61,48.13 L113.90,46.38 L114.18,44.77 L114.46,43.31 L114.74,42.00 L115.03,40.85 L115.31,39.86 L115.59,39.04 L115.87,38.40 L116.16,37.93 L116.44,37.65 L116.72,37.55 L117.00,37.61 L117.28,37.79 L117.57,38.08 L117.85,38.49 L118.13,39.00 L118.41,39.62 L118.70,40.33 L118.98,41.14 L119.26,42.04 L119.55,43.03 L119.83,44.11 L120.11,45.26 L120.39,46.49 L120.68,47.79 L120.96,49.16 L121.24,50.59 L121.52,52.09 L121.81,53.64 L122.09,55.25 L122.37,56.90 L122.65,58.60 L122.94,60.34 L123.22,62.11 L123.50,63.92 L123.78,65.76 L124.06,67.63 L124.35,69.51 L124.63,71.42 L124.91,73.33 L125.19,75.26 L125.48,77.20 L125.76,79.13 L126.04,81.07 L126.32,83.00 L126.61,84.92 L126.89,86.83 L127.17,88.72 L127.45,90.59 L127.74,92.43 L128.02,94.25 L128.30,96.03 L128.59,97.78 L128.87,99.49 L129.15,101.15 L129.43,102.76 L129.72,104.32 L130.00,105.83 L130.28,107.28 L130.56,108.66 L130.84,109.98 L131.13,111.22 L131.41,112.39 L131.69,113.48 L131.97,114.48 L132.26,115.40 L132.54,116.23 L132.82,116.97 L133.10,117.60 L133.39,118.14 L133.67,118.56 L133.95,118.88 L134.24,119.08 L134.52,119.17 L134.80,119.15 L135.08,119.06 L135.37,118.91 L135.65,118.69 L135.93,118.42 L136.21,118.09 L136.50,117.71 L136.78,117.27 L137.06,116.78 L137.34,116.25 L137.62,115.68 L137.91,115.06 L138.19,114.41 L138.47,113.72 L138.75,113.00 L139.04,112.25 L139.32,111.46 L139.60,110.66 L139.88,109.83 L140.17,108.98 L140.45,108.12 L140.73,107.24 L141.01,106.34 L141.30,105.44 L141.58,104.53 L141.86,103.62 L142.15,102.70 L142.43,101.79 L142.71,100.88 L142.99,99.98 L143.28,99.08 L143.56,98.20 L143.84,97.33 L144.12,96.48 L144.41,95.65 L144.69,94.83 L144.97,94.05 L145.25,93.29 L145.53,92.56 L145.82,91.86 L146.10,91.20 L146.38,90.58 L146.66,90.00 L146.95,89.46 L147.23,88.96 L147.51,88.52 L147.80,88.12 L148.08,87.78 L148.36,87.50 L148.64,87.27 L148.93,87.11 L149.21,87.00 L149.49,86.97 L149.77,86.98 L150.06,87.00 L150.34,87.04 L150.62,87.08 L150.90,87.15 L151.19,87.22 L151.47,87.31 L151.75,87.41 L152.03,87.52 L152.31,87.64 L152.60,87.77 L152.88,87.92 L153.16,88.07 L153.44,88.23 L153.73,88.40 L154.01,88.58 L154.29,88.76 L154.57,88.96 L154.86,89.16 L155.14,89.37 L155.42,89.58 L155.70,89.80 L155.99,90.02 L156.27,90.25 L156.55,90.48 L156.84,90.72 L157.12,90.96 L157.40,91.21 L157.68,91.45 L157.97,91.70 L158.25,91.95 L158.53,92.20 L158.81,92.46 L159.09,92.71 L159.38,92.96 L159.66,93.22 L159.94,93.47 L160.22,93.72 L160.51,93.97 L160.79,94.21 L161.07,94.46 L161.35,94.70 L161.64,94.94 L161.92,95.17 L162.20,95.40 L162.48,95.62 L162.77,95.84 L163.05,96.05 L163.33,96.26 L163.61,96.46 L163.90,96.66 L164.18,96.84 L164.46,97.02 L164.75,97.19 L165.03,97.35 L165.31,97.50 L165.59,97.65 L165.88,97.78 L166.16,97.90 L166.44,98.01 L166.72,98.11 L167.00,98.20 L167.29,98.27 L167.57,98.34 L167.85,98.38 L168.13,98.42 L168.42,98.44 L168.70,98.45 L168.98,98.44 L169.26,98.43 L169.55,98.40 L169.83,98.35 L170.11,98.30 L170.40,98.24 L170.68,98.17 L170.96,98.09 L171.24,98.00 L171.53,97.91 L171.81,97.80 L172.09,97.69 L172.37,97.58 L172.66,97.46 L172.94,97.33 L173.22,97.20 L173.50,97.07 L173.78,96.93 L174.07,96.79 L174.35,96.65 L174.63,96.50 L174.92,96.36 L175.20,96.21 L175.48,96.06 L175.76,95.92 L176.05,95.77 L176.33,95.63 L176.61,95.49 L176.89,95.35 L177.18,95.22 L177.46,95.09 L177.74,94.96 L178.02,94.84 L178.31,94.73 L178.59,94.62 L178.87,94.51 L179.15,94.42 L179.44,94.33 L179.72,94.25 L180.00,94.18 L180.28,94.12 L180.57,94.07 L180.85,94.02 L181.13,93.99 L181.41,93.98 L181.70,93.97 L181.98,93.97 L182.26,93.96 L182.54,93.95 L182.83,93.94 L183.11,93.93 L183.39,93.91 L183.67,93.89 L183.96,93.86 L184.24,93.84 L184.52,93.81 L184.80,93.77 L185.09,93.74 L185.37,93.70 L185.65,93.66 L185.93,93.62 L186.22,93.58 L186.50,93.54 L186.78,93.49 L187.06,93.44 L187.35,93.40 L187.63,93.35 L187.91,93.29 L188.19,93.24 L188.48,93.19 L188.76,93.14 L189.04,93.08 L189.32,93.03 L189.60,92.97 L189.89,92.92 L190.17,92.86 L190.45,92.81 L190.73,92.75 L191.02,92.69 L191.30,92.64 L191.58,92.59 L191.87,92.53 L192.15,92.48 L192.43,92.43 L192.71,92.37 L193.00,92.32 L193.28,92.27 L193.56,92.23 L193.84,92.18 L194.12,92.14 L194.41,92.09 L194.69,92.05 L194.97,92.01 L195.25,91.97 L195.54,91.94 L195.82,91.91 L196.10,91.88 L196.38,91.85 L196.67,91.82 L196.95,91.80 L197.23,91.78 L197.52,91.76 L197.80,91.75 L198.08,91.74 L198.36,91.73 L198.65,91.73 L198.93,91.73 L199.21,91.74 L199.49,91.77 L199.78,91.80 L200.06,91.84 L200.34,91.89 L200.62,91.95 L200.91,92.02 L201.19,92.10 L201.47,92.19 L201.75,92.28 L202.03,92.38 L202.32,92.49 L202.60,92.60 L202.88,92.72 L203.17,92.84 L203.45,92.97 L203.73,93.10 L204.01,93.24 L204.30,93.38 L204.58,93.53 L204.86,93.68 L205.14,93.83 L205.43,93.98 L205.71,94.14 L205.99,94.30 L206.27,94.46 L206.56,94.62 L206.84,94.78 L207.12,94.94 L207.40,95.10 L207.69,95.26 L207.97,95.42 L208.25,95.57 L208.53,95.73 L208.82,95.88 L209.10,96.03 L209.38,96.18 L209.66,96.32 L209.95,96.46 L210.23,96.60 L210.51,96.73 L210.79,96.85 L211.08,96.98 L211.36,97.09 L211.64,97.20 L211.92,97.30 L212.21,97.40 L212.49,97.49 L212.77,97.57 L213.05,97.64 L213.34,97.70 L213.62,97.76 L213.90,97.81 L214.18,97.84 L214.47,97.87 L214.75,97.88 L215.03,97.89 L215.31,97.89 L215.60,97.87 L215.88,97.85 L216.16,97.82 L216.44,97.78 L216.73,97.73 L217.01,97.68 L217.29,97.62 L217.57,97.55 L217.86,97.48 L218.14,97.39 L218.42,97.31 L218.70,97.21 L218.98,97.11 L219.27,97.01 L219.55,96.90 L219.83,96.78 L220.12,96.67 L220.40,96.54 L220.68,96.41 L220.96,96.28 L221.25,96.15 L221.53,96.01 L221.81,95.87 L222.09,95.73 L222.38,95.58 L222.66,95.43 L222.94,95.28 L223.22,95.13 L223.50,94.98 L223.79,94.82 L224.07,94.67 L224.35,94.51 L224.63,94.36 L224.92,94.20 L225.20,94.05 L225.48,93.89 L225.77,93.74 L226.05,93.59 L226.33,93.44 L226.61,93.29 L226.90,93.14 L227.18,93.00 L227.46,92.85 L227.74,92.71 L228.03,92.58 L228.31,92.44 L228.59,92.31 L228.87,92.19 L229.16,92.07 L229.44,91.95 L229.72,91.84 L230.00,91.73 L230.28,91.63 L230.57,91.53 L230.85,91.44 L231.13,91.35 L231.42,91.27 L231.70,91.20 L231.98,91.14 L232.26,91.08 L232.55,91.03 L232.83,90.98 L233.11,90.95 L233.39,90.92 L233.68,90.90 L233.96,90.89 L234.24,90.89 L234.52,90.90 L234.81,90.91 L235.09,90.94 L235.37,90.97 L235.65,91.00 L235.94,91.05 L236.22,91.10 L236.50,91.16 L236.78,91.22 L237.07,91.29 L237.35,91.36 L237.63,91.44 L237.91,91.53 L238.20,91.62 L238.48,91.72 L238.76,91.82 L239.04,91.92 L239.33,92.03 L239.61,92.15 L239.89,92.26 L240.17,92.38 L240.46,92.51 L240.74,92.63 L241.02,92.76 L241.30,92.89 L241.59,93.03 L241.87,93.16 L242.15,93.30 L242.43,93.44 L242.72,93.58 L243.00,93.72 L243.28,93.86 L243.56,94.01 L243.85,94.15 L244.13,94.29 L244.41,94.44 L244.69,94.58 L244.98,94.72 L245.26,94.86 L245.54,95.01 L245.82,95.14 L246.11,95.28 L246.39,95.42 L246.67,95.55 L246.95,95.69 L247.23,95.82 L247.52,95.94 L247.80,96.07 L248.08,96.19 L248.37,96.31 L248.65,96.42 L248.93,96.53 L249.21,96.64 L249.50,96.74 L249.78,96.84 L250.06,96.93 L250.34,97.02 L250.62,97.10 L250.91,97.18 L251.19,97.25 L251.47,97.32 L251.75,97.38 L252.04,97.43 L252.32,97.48 L252.60,97.52 L252.88,97.55 L253.17,97.58 L253.45,97.60 L253.73,97.61 L254.02,97.61 L254.30,97.60 L254.58,97.59 L254.86,97.57 L255.15,97.54 L255.43,97.50 L255.71,97.46 L255.99,97.41 L256.27,97.36 L256.56,97.29 L256.84,97.23 L257.12,97.15 L257.40,97.07 L257.69,96.99 L257.97,96.90 L258.25,96.80 L258.53,96.70 L258.82,96.60 L259.10,96.49 L259.38,96.38 L259.67,96.26 L259.95,96.14 L260.23,96.02 L260.51,95.89 L260.80,95.76 L261.08,95.63 L261.36,95.50 L261.64,95.37 L261.93,95.23 L262.21,95.09 L262.49,94.95 L262.77,94.81 L263.06,94.67 L263.34,94.52 L263.62,94.38 L263.90,94.24 L264.19,94.09 L264.47,93.95 L264.75,93.81 L265.03,93.66 L265.31,93.52 L265.60,93.38 L265.88,93.24 L266.16,93.11 L266.44,92.97 L266.73,92.84 L267.01,92.71 L267.29,92.58 L267.57,92.46 L267.86,92.33 L268.14,92.22 L268.42,92.10 L268.70,91.99 L268.99,91.88 L269.27,91.78 L269.55,91.68 L269.83,91.59 L270.12,91.50 L270.40,91.41 L270.68,91.33 L270.96,91.26 L271.25,91.19 L271.53,91.13 L271.81,91.08 L272.10,91.03 L272.38,90.99 L272.66,90.95 L272.94,90.93 L273.22,90.91 L273.51,90.89 L273.79,90.89 L274.07,90.89 L274.36,90.91 L274.64,90.93 L274.92,90.95 L275.20,90.99 L275.48,91.03 L275.77,91.08 L276.05,91.13 L276.33,91.19 L276.62,91.26 L276.90,91.33 L277.18,91.41 L277.46,91.50 L277.75,91.59 L278.03,91.68 L278.31,91.78 L278.59,91.88 L278.88,91.99 L279.16,92.10 L279.44,92.22 L279.72,92.33 L280.00,92.46 L280.29,92.58 L280.57,92.71 L280.85,92.84 L281.13,92.97 L281.42,93.11 L281.70,93.24 L281.98,93.38 L282.26,93.52 L282.55,93.66 L282.83,93.81 L283.11,93.95 L283.40,94.09 L283.68,94.24 L283.96,94.38 L284.24,94.52 L284.52,94.67 L284.81,94.81 L285.09,94.95 L285.37,95.09 L285.66,95.23 L285.94,95.37 L286.22,95.50 L286.50,95.63 L286.78,95.76 L287.07,95.89 L287.35,96.02 L287.63,96.14 L287.92,96.26 L288.20,96.38 L288.48,96.49 L288.76,96.60 L289.05,96.70 L289.33,96.80 L289.61,96.90 L289.89,96.99 L290.18,97.07 L290.46,97.15 L290.74,97.23 L291.02,97.29 L291.31,97.36 L291.59,97.41 L291.87,97.46 L292.15,97.50 L292.43,97.54 L292.72,97.57 L293.00,97.59 L293.28,97.60 L293.56,97.61 L293.85,97.61 L294.13,97.60 L294.41,97.58 L294.69,97.55 L294.98,97.52 L295.26,97.48 L295.54,97.43 L295.82,97.38 L296.11,97.32 L296.39,97.25 L296.67,97.18 L296.95,97.10 L297.24,97.02 L297.52,96.93 L297.80,96.84 L298.08,96.74 L298.37,96.64 L298.65,96.53 L298.93,96.42 L299.21,96.31 L299.50,96.19 L299.78,96.07 L300.06,95.94 L300.35,95.82 L300.63,95.69 L300.91,95.55 L301.19,95.42 L301.47,95.28 L301.76,95.14 L302.04,95.01 L302.32,94.86 L302.61,94.72 L302.89,94.58 L303.17,94.44 L303.45,94.29 L303.73,94.15 L304.02,94.01 L304.30,93.86 L304.58,93.72 L304.87,93.58 L305.15,93.44 L305.43,93.30 L305.71,93.16 L305.99,93.03 L306.28,92.89 L306.56,92.76 L306.84,92.63 L307.12,92.51 L307.41,92.38 L307.69,92.26 L307.97,92.15 L308.25,92.03 L308.54,91.92 L308.82,91.82 L309.10,91.72 L309.38,91.62 L309.67,91.53 L309.95,91.44 L310.23,91.36 L310.51,91.29 L310.80,91.22 L311.08,91.16 L311.36,91.10 L311.64,91.05 L311.93,91.00 L312.21,90.97 L312.49,90.94 L312.77,90.91 L313.06,90.90 L313.34,90.89 L313.62,90.89 L313.91,90.90 L314.19,90.92 L314.47,90.94 L314.75,90.97 L315.03,91.01 L315.32,91.06 L315.60,91.11 L315.88,91.17 L316.17,91.23 L316.45,91.30 L316.73,91.38 L317.01,91.46 L317.29,91.55 L317.58,91.64 L317.86,91.74 L318.14,91.84 L318.43,91.95 L318.71,92.06 L318.99,92.17 L319.27,92.29 L319.56,92.41 L319.84,92.53 L320.12,92.66 L320.40,92.79 L320.68,92.92 L320.97,93.05 L321.25,93.19 L321.53,93.33 L321.81,93.47 L322.10,93.61 L322.38,93.75 L322.66,93.89 L322.94,94.03 L323.23,94.18 L323.51,94.32 L323.79,94.47 L324.07,94.61 L324.36,94.75 L324.64,94.89 L324.92,95.03 L325.20,95.17 L325.49,95.31 L325.77,95.45 L326.05,95.58 L326.33,95.71 L326.62,95.84 L326.90,95.97 L327.18,96.09 L327.46,96.21 L327.75,96.33 L328.03,96.44 L328.31,96.55 L328.59,96.66 L328.88,96.76 L329.16,96.86 L329.44,96.95 L329.72,97.04 L330.01,97.12 L330.29,97.20 L330.57,97.27 L330.86,97.33 L331.14,97.39 L331.42,97.44 L331.70,97.49 L331.98,97.53 L332.27,97.56 L332.55,97.58 L332.83,97.60 L333.12,97.61 L333.40,97.61 L333.68,97.60 L333.96,97.59 L334.24,97.56 L334.53,97.53 L334.81,97.50 L335.09,97.45 L335.38,97.40 L335.66,97.34 L335.94,97.28 L336.22,97.21 L336.50,97.14 L336.79,97.06 L337.07,96.97 L337.35,96.88 L337.63,96.78 L337.92,96.68 L338.20,96.58 L338.48,96.47 L338.76,96.35 L339.05,96.24 L339.33,96.12 L339.61,95.99 L339.89,95.87 L340.18,95.74 L340.46,95.61 L340.74,95.47 L341.02,95.34 L341.31,95.20 L341.59,95.06 L341.87,94.92 L342.16,94.78 L342.44,94.64 L342.72,94.49 L343.00,94.35 L343.28,94.21 L343.57,94.06 L343.85,93.92 L344.13,93.78 L344.42,93.64 L344.70,93.49 L344.98,93.36 L345.26,93.22 L345.54,93.08 L345.83,92.95 L346.11,92.81 L346.39,92.68 L346.68,92.56 L346.96,92.43 L347.24,92.31 L347.52,92.19 L347.81,92.08 L348.09,91.97 L348.37,91.86 L348.65,91.76 L348.93,91.66 L349.22,91.57 L349.50,91.48 L349.78,91.40 L350.06,91.32 L350.35,91.25 L350.63,91.18 L350.91,91.12 L351.19,91.07 L351.48,91.02 L351.76,90.98 L352.04,90.95 L352.32,90.92 L352.61,90.90 L352.89,90.89 L353.17,90.89 L353.45,90.90 L353.74,90.91 L354.02,90.93 L354.30,90.96 L354.58,91.00 L354.87,91.04 L355.15,91.09 L355.43,91.14 L355.71,91.21 L356.00,91.27 L356.28,91.35 L356.56,91.43 L356.84,91.51 L357.13,91.60 L357.41,91.70 L357.69,91.80 L357.97,91.90 L358.26,92.01 L358.54,92.12 L358.82,92.24 L359.11,92.36 L359.39,92.48 L359.67,92.61 L359.95,92.74 L360.23,92.87 L360.52,93.00 L360.80,93.13 L361.08,93.27 L361.37,93.41 L361.65,93.55 L361.93,93.69 L362.21,93.83 L362.49,93.98 L362.78,94.12 L363.06,94.26 L363.34,94.41 L363.62,94.55 L363.91,94.69 L364.19,94.84 L364.47,94.98 L364.75,95.12 L365.04,95.26 L365.32,95.39 L365.60,95.53 L365.88,95.66 L366.17,95.79 L366.45,95.92 L366.73,96.04 L367.01,96.17 L367.30,96.28 L367.58,96.40 L367.86,96.51 L368.14,96.62 L368.43,96.72 L368.71,96.82 L368.99,96.91 L369.27,97.00 L369.56,97.09 L369.84,97.17 L370.12,97.24 L370.41,97.31 L370.69,97.37 L370.97,97.42 L371.25,97.47 L371.53,97.51 L371.82,97.55 L372.10,97.57 L372.38,97.59 L372.67,97.61 L372.95,97.61 L373.23,97.61 L373.51,97.59 L373.79,97.57 L374.08,97.55 L374.36,97.51 L374.64,97.47 L374.93,97.42 L375.21,97.37 L375.49,97.31 L375.77,97.24 L376.06,97.17 L376.34,97.09 L376.62,97.00 L376.90,96.91 L377.18,96.82 L377.47,96.72 L377.75,96.62 L378.03,96.51 L378.31,96.40 L378.60,96.28 L378.88,96.17 L379.16,96.04 L379.44,95.92 L379.73,95.79 L380.01,95.66 L380.29,95.53 L380.57,95.39 L380.86,95.26 L381.14,95.12 L381.42,94.98 L381.70,94.84 L381.99,94.69 L382.27,94.55 L382.55,94.41 L382.83,94.26 L383.12,94.12 L383.40,93.98 L383.68,93.83 L383.96,93.69 L384.25,93.55 L384.53,93.41 L384.81,93.27 L385.09,93.13 L385.38,93.00 L385.66,92.87 L385.94,92.74 L386.22,92.61 L386.51,92.48 L386.79,92.36 L387.07,92.24 L387.36,92.12 L387.64,92.01 L387.92,91.90 L388.20,91.80 L388.48,91.70 L388.77,91.60 L389.05,91.51 L389.33,91.43 L389.62,91.35 L389.90,91.27 L390.18,91.21 L390.46,91.14 L390.74,91.09 L391.03,91.04 L391.31,91.00 L391.59,90.96 L391.88,90.93 L392.16,90.91 L392.44,90.90 L392.72,90.89 L393.00,90.89 L393.29,90.90 L393.57,90.92 L393.85,90.95 L394.13,90.98 L394.42,91.02 L394.70,91.07 L394.98,91.12 L395.26,91.18 L395.55,91.25 L395.83,91.32 L396.11,91.40 L396.39,91.48 L396.68,91.57 L396.96,91.66 L397.24,91.76 L397.52,91.86 L397.81,91.97 L398.09,92.08 L398.37,92.19 L398.66,92.31 L398.94,92.43 L399.22,92.56 L399.50,92.68 L399.78,92.81 L400.07,92.95 L400.35,93.08 L400.63,93.22 L400.92,93.36 L401.20,93.49 L401.48,93.64 L401.76,93.78 L402.04,93.92 L402.33,94.06 L402.61,94.21 L402.89,94.35 L403.18,94.49 L403.46,94.64 L403.74,94.78 L404.02,94.92 L404.31,95.06 L404.59,95.20 L404.87,95.34 L405.15,95.47 L405.44,95.61 L405.72,95.74 L406.00,95.87 L406.28,95.99 L406.56,96.12 L406.85,96.24 L407.13,96.35 L407.41,96.47 L407.69,96.58 L407.98,96.68 L408.26,96.78 L408.54,96.88 L408.82,96.97 L409.11,97.06 L409.39,97.14 L409.67,97.21 L409.95,97.28 L410.24,97.34 L410.52,97.40 L410.80,97.45 L411.08,97.50 L411.37,97.53 L411.65,97.56 L411.93,97.59 L412.21,97.60 L412.50,97.61 L412.78,97.61 L413.06,97.60 L413.34,97.58 L413.63,97.56 L413.91,97.53 L414.19,97.49 L414.47,97.44 L414.76,97.39 L415.04,97.33 L415.32,97.27 L415.61,97.20 L415.89,97.12 L416.17,97.04 L416.45,96.95 L416.73,96.86 L417.02,96.76 L417.30,96.66 L417.58,96.55 L417.87,96.44 L418.15,96.33 L418.43,96.21 L418.71,96.09 L418.99,95.97 L419.28,95.84 L419.56,95.71 L419.84,95.58 L420.12,95.45 L420.41,95.31 L420.69,95.17 L420.97,95.03 L421.25,94.89 L421.54,94.75 L421.82,94.61 L422.10,94.47 L422.38,94.32 L422.67,94.18 L422.95,94.03 L423.23,93.89 L423.51,93.75 L423.80,93.61 L424.08,93.47 L424.36,93.33 L424.64,93.19 L424.93,93.05 L425.21,92.92 L425.49,92.79 L425.77,92.66 L426.06,92.53 L426.34,92.41 L426.62,92.29 L426.91,92.17 L427.19,92.06 L427.47,91.95 L427.75,91.84 L428.03,91.74 L428.32,91.64 L428.60,91.55 L428.88,91.46 L429.17,91.38 L429.45,91.30 L429.73,91.23 L430.01,91.17 L430.29,91.11 L430.58,91.06 L430.86,91.01 L431.14,90.97 L431.43,90.94 L431.71,90.92 L431.99,90.90 L432.27,90.89 L432.56,90.89 L432.84,90.90 L433.12,90.91 L433.40,90.94 L433.69,90.97 L433.97,91.00 L434.25,91.05 L434.53,91.10 L434.81,91.16 L435.10,91.22 L435.38,91.29 L435.66,91.36 L435.94,91.44 L436.23,91.53 L436.51,91.62 L436.79,91.72 L437.07,91.82 L437.36,91.92 L437.64,92.03 L437.92,92.15 L438.20,92.26 L438.49,92.38 L438.77,92.51 L439.05,92.63 L439.33,92.76 L439.62,92.89 L439.90,93.03" stroke="#7E2F8E" stroke-width="1.9" stroke-dasharray="4.8 1.45 2.2 1.45"/>
</g>
<rect x="205.8" y="111.5" width="222.09999999999997" height="75.30000000000001" fill="#fff"/>
<clipPath id="cia"><rect x="205.8" y="111.5" width="222.09999999999997" height="75.30000000000001"/></clipPath>
<g clip-path="url(#cia)">
<path d="M205.58,119.22 L206.98,119.28 L208.38,119.43 L209.77,119.65 L211.17,119.91 L212.57,120.30 L213.97,121.05 L215.37,122.03 L216.76,123.14 L218.16,124.25 L219.56,125.23 L220.96,125.97 L222.36,126.34 L223.76,126.31 L225.15,126.09 L226.55,125.73 L227.95,125.30 L229.35,124.84 L230.75,124.40 L232.14,123.85 L233.54,123.16 L234.94,122.41 L236.34,121.67 L237.74,121.01 L239.13,120.51 L240.53,120.23 L241.93,120.21 L243.33,120.27 L244.73,120.38 L246.13,120.53 L247.52,120.71 L248.92,120.92 L250.32,121.15 L251.72,121.62 L253.12,122.33 L254.51,123.14 L255.91,123.91 L257.31,124.50 L258.71,124.78 L260.11,124.70 L261.50,124.40 L262.90,123.93 L264.30,123.37 L265.70,122.77 L267.10,122.19 L268.50,121.67 L269.89,121.30 L271.29,121.11 L272.69,121.11 L274.09,121.17 L275.49,121.25 L276.88,121.36 L278.28,121.47 L279.68,121.58 L281.08,121.67 L282.48,121.74 L283.87,121.78 L285.27,121.77 L286.67,121.75 L288.07,121.71 L289.47,121.66 L290.86,121.60 L292.26,121.53 L293.66,121.44 L295.06,121.35 L296.46,121.26 L297.86,121.16 L299.25,121.05 L300.65,120.95 L302.05,120.84 L303.45,120.74 L304.85,120.64 L306.24,120.54 L307.64,120.45 L309.04,120.36 L310.44,120.28 L311.84,120.21 L313.23,120.13 L314.63,120.05 L316.03,119.97 L317.43,119.89 L318.83,119.81 L320.23,119.73 L321.62,119.65 L323.02,119.57 L324.42,119.49 L325.82,119.41 L327.22,119.34 L328.61,119.26 L330.01,119.18 L331.41,119.10 L332.81,119.03 L334.21,118.95 L335.60,118.87 L337.00,118.80 L338.40,118.72 L339.80,118.65 L341.20,118.58 L342.60,118.50 L343.99,118.43 L345.39,118.36 L346.79,118.29 L348.19,118.22 L349.59,118.15 L350.98,118.08 L352.38,118.01 L353.78,117.94 L355.18,117.87 L356.58,117.80 L357.97,117.73 L359.37,117.66 L360.77,117.59 L362.17,117.52 L363.57,117.45 L364.96,117.38 L366.36,117.31 L367.76,117.23 L369.16,117.16 L370.56,117.09 L371.96,117.01 L373.35,116.93 L374.75,116.85 L376.15,116.77 L377.55,116.69 L378.95,116.61 L380.34,116.53 L381.74,116.45 L383.14,116.37 L384.54,116.29 L385.94,116.21 L387.33,116.13 L388.73,116.06 L390.13,115.98 L391.53,115.91 L392.93,115.84 L394.33,115.78 L395.72,115.71 L397.12,115.65 L398.52,115.60 L399.92,115.55 L401.32,115.49 L402.71,115.44 L404.11,115.39 L405.51,115.34 L406.91,115.29 L408.31,115.24 L409.70,115.19 L411.10,115.15 L412.50,115.10 L413.90,115.06 L415.30,115.02 L416.70,114.98 L418.09,114.94 L419.49,114.90 L420.89,114.86 L422.29,114.83 L423.69,114.80 L425.08,114.76 L426.48,114.74 L427.88,114.71 L427.88,183.59 L426.48,183.58 L425.08,183.57 L423.69,183.56 L422.29,183.55 L420.89,183.53 L419.49,183.51 L418.09,183.48 L416.70,183.46 L415.30,183.43 L413.90,183.40 L412.50,183.37 L411.10,183.34 L409.70,183.31 L408.31,183.27 L406.91,183.23 L405.51,183.20 L404.11,183.16 L402.71,183.12 L401.32,183.08 L399.92,183.04 L398.52,183.00 L397.12,182.95 L395.72,182.91 L394.33,182.85 L392.93,182.79 L391.53,182.73 L390.13,182.66 L388.73,182.59 L387.33,182.51 L385.94,182.43 L384.54,182.35 L383.14,182.27 L381.74,182.18 L380.34,182.10 L378.95,182.01 L377.55,181.93 L376.15,181.84 L374.75,181.76 L373.35,181.67 L371.96,181.59 L370.56,181.52 L369.16,181.44 L367.76,181.37 L366.36,181.30 L364.96,181.23 L363.57,181.16 L362.17,181.09 L360.77,181.02 L359.37,180.96 L357.97,180.89 L356.58,180.82 L355.18,180.76 L353.78,180.69 L352.38,180.62 L350.98,180.55 L349.59,180.48 L348.19,180.41 L346.79,180.34 L345.39,180.27 L343.99,180.19 L342.60,180.12 L341.20,180.04 L339.80,179.96 L338.40,179.87 L337.00,179.78 L335.60,179.69 L334.21,179.59 L332.81,179.48 L331.41,179.37 L330.01,179.26 L328.61,179.14 L327.22,179.03 L325.82,178.91 L324.42,178.79 L323.02,178.68 L321.62,178.56 L320.23,178.45 L318.83,178.34 L317.43,178.23 L316.03,178.13 L314.63,178.03 L313.23,177.94 L311.84,177.86 L310.44,177.78 L309.04,177.71 L307.64,177.65 L306.24,177.59 L304.85,177.53 L303.45,177.47 L302.05,177.42 L300.65,177.37 L299.25,177.32 L297.86,177.28 L296.46,177.23 L295.06,177.18 L293.66,177.14 L292.26,177.09 L290.86,177.05 L289.47,177.00 L288.07,176.96 L286.67,176.91 L285.27,176.86 L283.87,176.81 L282.48,176.76 L281.08,176.69 L279.68,176.63 L278.28,176.56 L276.88,176.50 L275.49,176.44 L274.09,176.40 L272.69,176.38 L271.29,176.38 L269.89,176.43 L268.50,176.55 L267.10,176.70 L265.70,176.88 L264.30,177.07 L262.90,177.24 L261.50,177.38 L260.11,177.47 L258.71,177.50 L257.31,177.44 L255.91,177.30 L254.51,177.10 L253.12,176.87 L251.72,176.64 L250.32,176.41 L248.92,176.18 L247.52,175.89 L246.13,175.58 L244.73,175.28 L243.33,175.04 L241.93,174.89 L240.53,174.88 L239.13,175.02 L237.74,175.26 L236.34,175.59 L234.94,175.96 L233.54,176.36 L232.14,176.74 L230.75,177.07 L229.35,177.38 L227.95,177.73 L226.55,178.09 L225.15,178.39 L223.76,178.58 L222.36,178.62 L220.96,178.52 L219.56,178.31 L218.16,177.99 L216.76,177.60 L215.37,177.13 L213.97,176.61 L212.57,176.06 L211.17,175.47 L209.77,174.66 L208.38,173.61 L206.98,172.40 L205.58,171.11Z" fill="#e0602a" fill-opacity="1"/>
<path d="M205.6,119.2 L205.7,126.6 L205.8,144.5 L206.0,162.9 L206.1,171.5 L206.2,165.4 L206.3,148.0 L206.5,129.1 L206.6,119.5 L206.7,124.6 L206.9,141.7 L207.0,161.2 L207.1,172.1 L207.2,168.2 L207.4,151.7 L207.5,132.0 L207.6,120.1 L207.7,123.0 L207.9,138.9 L208.0,159.1 L208.1,172.1 L208.3,170.7 L208.4,155.5 L208.5,135.2 L208.6,121.3 L208.8,121.6 L208.9,136.1 L209.0,156.7 L209.1,171.7 L209.3,172.8 L209.4,159.2 L209.5,138.7 L209.7,122.9 L209.8,120.7 L209.9,133.4 L210.0,154.0 L210.2,170.8 L210.3,174.4 L210.4,162.7 L210.6,142.4 L210.7,124.9 L210.8,120.2 L210.9,130.9 L211.1,151.1 L211.2,169.3 L211.3,175.4 L211.4,165.9 L211.6,146.1 L211.7,127.3 L211.8,120.1 L212.0,128.6 L212.1,148.0 L212.2,167.4 L212.3,175.9 L212.5,168.7 L212.6,149.9 L212.7,130.1 L212.8,120.5 L213.0,126.6 L213.1,145.0 L213.2,165.3 L213.4,176.0 L213.5,171.3 L213.6,153.8 L213.7,133.3 L213.9,121.6 L214.0,125.2 L214.1,142.1 L214.2,162.9 L214.4,175.7 L214.5,173.5 L214.6,157.6 L214.8,136.9 L214.9,123.2 L215.0,124.3 L215.1,139.5 L215.3,160.3 L215.4,175.0 L215.5,175.3 L215.6,161.2 L215.8,140.7 L215.9,125.3 L216.0,123.8 L216.2,137.1 L216.3,157.6 L216.4,173.8 L216.5,176.7 L216.7,164.6 L216.8,144.5 L216.9,127.8 L217.1,123.8 L217.2,134.9 L217.3,154.8 L217.4,172.3 L217.6,177.6 L217.7,167.8 L217.8,148.4 L217.9,130.5 L218.1,124.2 L218.2,133.1 L218.3,152.0 L218.5,170.5 L218.6,178.1 L218.7,170.6 L218.8,152.3 L219.0,133.5 L219.1,125.0 L219.2,131.4 L219.3,149.2 L219.5,168.4 L219.6,178.1 L219.7,173.0 L219.9,155.9 L220.0,136.6 L220.1,126.0 L220.2,130.0 L220.4,146.4 L220.5,166.0 L220.6,177.7 L220.7,175.0 L220.9,159.4 L221.0,139.8 L221.1,127.3 L221.3,128.8 L221.4,143.7 L221.5,163.3 L221.6,176.8 L221.8,176.5 L221.9,162.6 L222.0,143.0 L222.1,128.7 L222.3,127.8 L222.4,140.9 L222.5,160.4 L222.7,175.5 L222.8,177.6 L222.9,165.5 L223.0,146.1 L223.2,130.3 L223.3,127.0 L223.4,138.1 L223.6,157.3 L223.7,173.8 L223.8,178.3 L223.9,168.2 L224.1,149.2 L224.2,132.0 L224.3,126.4 L224.4,135.4 L224.6,154.0 L224.7,171.7 L224.8,178.4 L225.0,170.5 L225.1,152.2 L225.2,134.0 L225.3,126.1 L225.5,132.9 L225.6,150.6 L225.7,169.2 L225.8,178.1 L226.0,172.4 L226.1,155.2 L226.2,136.2 L226.4,126.1 L226.5,130.6 L226.6,147.1 L226.7,166.3 L226.9,177.4 L227.0,174.0 L227.1,158.1 L227.2,138.6 L227.4,126.5 L227.5,128.6 L227.6,143.7 L227.8,163.3 L227.9,176.3 L228.0,175.3 L228.1,160.9 L228.3,141.2 L228.4,127.2 L228.5,126.9 L228.6,140.4 L228.8,160.0 L228.9,174.7 L229.0,176.2 L229.2,163.6 L229.3,143.9 L229.4,128.3 L229.5,125.6 L229.7,137.2 L229.8,156.6 L229.9,172.9 L230.1,176.8 L230.2,166.1 L230.3,146.8 L230.4,129.8 L230.6,124.7 L230.7,134.3 L230.8,153.2 L230.9,170.7 L231.1,176.9 L231.2,168.3 L231.3,149.7 L231.5,131.6 L231.6,124.1 L231.7,131.5 L231.8,149.6 L232.0,168.2 L232.1,176.7 L232.2,170.3 L232.3,152.6 L232.5,133.5 L232.6,123.8 L232.7,128.9 L232.9,146.0 L233.0,165.3 L233.1,176.0 L233.2,172.0 L233.4,155.5 L233.5,135.7 L233.6,123.9 L233.7,126.6 L233.9,142.4 L234.0,162.2 L234.1,174.9 L234.3,173.3 L234.4,158.3 L234.5,138.2 L234.6,124.4 L234.8,124.6 L234.9,138.8 L235.0,158.9 L235.1,173.5 L235.3,174.3 L235.4,160.9 L235.5,140.8 L235.7,125.2 L235.8,123.0 L235.9,135.4 L236.0,155.3 L236.2,171.6 L236.3,175.0 L236.4,163.5 L236.6,143.5 L236.7,126.4 L236.8,121.8 L236.9,132.1 L237.1,151.7 L237.2,169.4 L237.3,175.2 L237.4,165.8 L237.6,146.5 L237.7,128.1 L237.8,121.0 L238.0,129.2 L238.1,148.1 L238.2,166.9 L238.3,175.1 L238.5,168.0 L238.6,149.5 L238.7,130.1 L238.8,120.7 L239.0,126.6 L239.1,144.5 L239.2,164.2 L239.4,174.7 L239.5,169.9 L239.6,152.6 L239.7,132.5 L239.9,121.0 L240.0,124.4 L240.1,141.0 L240.2,161.3 L240.4,173.9 L240.5,171.6 L240.6,155.8 L240.8,135.3 L240.9,121.7 L241.0,122.7 L241.1,137.7 L241.3,158.2 L241.4,172.7 L241.5,173.0 L241.6,158.9 L241.8,138.4 L241.9,123.1 L242.0,121.5 L242.2,134.7 L242.3,155.1 L242.4,171.3 L242.5,174.1 L242.7,162.0 L242.8,141.7 L242.9,124.8 L243.1,120.7 L243.2,131.9 L243.3,151.9 L243.4,169.5 L243.6,174.9 L243.7,164.8 L243.8,145.1 L243.9,126.9 L244.1,120.4 L244.2,129.3 L244.3,148.7 L244.5,167.5 L244.6,175.2 L244.7,167.5 L244.8,148.6 L245.0,129.3 L245.1,120.5 L245.2,127.1 L245.3,145.4 L245.5,165.2 L245.6,175.3 L245.7,169.9 L245.9,152.2 L246.0,132.1 L246.1,121.0 L246.2,125.2 L246.4,142.3 L246.5,162.7 L246.6,174.9 L246.7,172.0 L246.9,155.7 L247.0,135.1 L247.1,121.9 L247.3,123.6 L247.4,139.2 L247.5,159.9 L247.6,174.1 L247.8,173.7 L247.9,159.1 L248.0,138.4 L248.1,123.3 L248.3,122.4 L248.4,136.2 L248.5,156.9 L248.7,172.9 L248.8,175.1 L248.9,162.3 L249.0,141.8 L249.2,125.1 L249.3,121.6 L249.4,133.4 L249.6,153.8 L249.7,171.3 L249.8,176.0 L249.9,165.3 L250.1,145.3 L250.2,127.2 L250.3,121.3 L250.4,130.9 L250.6,150.6 L250.7,169.3 L250.8,176.5 L251.0,168.1 L251.1,148.9 L251.2,129.8 L251.3,121.5 L251.5,128.7 L251.6,147.5 L251.7,167.1 L251.8,176.5 L252.0,170.6 L252.1,152.6 L252.2,132.7 L252.4,122.2 L252.5,127.1 L252.6,144.5 L252.7,164.6 L252.9,176.2 L253.0,172.7 L253.1,156.2 L253.2,136.0 L253.4,123.5 L253.5,125.8 L253.6,141.6 L253.8,162.0 L253.9,175.5 L254.0,174.5 L254.1,159.7 L254.3,139.4 L254.4,125.2 L254.5,125.0 L254.6,139.0 L254.8,159.2 L254.9,174.4 L255.0,175.9 L255.2,163.0 L255.3,143.0 L255.4,127.2 L255.5,124.5 L255.7,136.5 L255.8,156.3 L255.9,172.9 L256.1,176.8 L256.2,166.0 L256.3,146.6 L256.4,129.5 L256.6,124.4 L256.7,134.2 L256.8,153.4 L256.9,171.1 L257.1,177.4 L257.2,168.7 L257.3,150.1 L257.5,132.0 L257.6,124.6 L257.7,132.1 L257.8,150.3 L258.0,168.9 L258.1,177.4 L258.2,171.1 L258.3,153.5 L258.5,134.5 L258.6,125.0 L258.7,130.1 L258.9,147.2 L259.0,166.4 L259.1,177.1 L259.2,173.1 L259.4,156.7 L259.5,137.2 L259.6,125.5 L259.7,128.3 L259.9,144.0 L260.0,163.6 L260.1,176.3 L260.3,174.7 L260.4,159.8 L260.5,139.9 L260.6,126.4 L260.8,126.7 L260.9,140.7 L261.0,160.6 L261.1,175.0 L261.3,175.9 L261.4,162.6 L261.5,142.8 L261.7,127.5 L261.8,125.3 L261.9,137.6 L262.0,157.3 L262.2,173.4 L262.3,176.7 L262.4,165.3 L262.6,145.7 L262.7,128.9 L262.8,124.3 L262.9,134.6 L263.1,153.9 L263.2,171.4 L263.3,177.1 L263.4,167.8 L263.6,148.7 L263.7,130.6 L263.8,123.6 L264.0,131.7 L264.1,150.4 L264.2,169.0 L264.3,177.1 L264.5,170.0 L264.6,151.7 L264.7,132.5 L264.8,123.2 L265.0,129.1 L265.1,146.8 L265.2,166.3 L265.4,176.6 L265.5,171.9 L265.6,154.7 L265.7,134.8 L265.9,123.3 L266.0,126.7 L266.1,143.2 L266.2,163.3 L266.4,175.8 L266.5,173.5 L266.6,157.7 L266.8,137.3 L266.9,123.8 L267.0,124.7 L267.1,139.7 L267.3,160.1 L267.4,174.5 L267.5,174.8 L267.6,160.7 L267.8,140.1 L267.9,124.7 L268.0,123.1 L268.2,136.3 L268.3,156.7 L268.4,172.9 L268.5,175.7 L268.7,163.5 L268.8,143.1 L268.9,126.1 L269.1,122.0 L269.2,133.2 L269.3,153.3 L269.4,171.0 L269.6,176.2 L269.7,166.1 L269.8,146.2 L269.9,127.9 L270.1,121.3 L270.2,130.3 L270.3,149.7 L270.5,168.7 L270.6,176.4 L270.7,168.5 L270.8,149.5 L271.0,130.1 L271.1,121.2 L271.2,127.8 L271.3,146.3 L271.5,166.1 L271.6,176.2 L271.7,170.7 L271.9,152.9 L272.0,132.7 L272.1,121.6 L272.2,125.8 L272.4,142.9 L272.5,163.4 L272.6,175.6 L272.7,172.6 L272.9,156.2 L273.0,135.6 L273.1,122.4 L273.3,124.1 L273.4,139.7 L273.5,160.4 L273.6,174.6 L273.8,174.2 L273.9,159.5 L274.0,138.7 L274.1,123.7 L274.3,122.8 L274.4,136.6 L274.5,157.3 L274.7,173.2 L274.8,175.3 L274.9,162.5 L275.0,142.0 L275.2,125.3 L275.3,121.9 L275.4,133.7 L275.6,154.0 L275.7,171.4 L275.8,176.1 L275.9,165.4 L276.1,145.4 L276.2,127.3 L276.3,121.4 L276.4,131.0 L276.6,150.7 L276.7,169.4 L276.8,176.5 L277.0,168.1 L277.1,148.8 L277.2,129.7 L277.3,121.4 L277.5,128.7 L277.6,147.4 L277.7,167.0 L277.8,176.4 L278.0,170.4 L278.1,152.3 L278.2,132.3 L278.4,121.8 L278.5,126.6 L278.6,144.1 L278.7,164.3 L278.9,176.0 L279.0,172.4 L279.1,155.7 L279.2,135.2 L279.4,122.6 L279.5,124.9 L279.6,140.8 L279.8,161.5 L279.9,175.1 L280.0,174.1 L280.1,159.0 L280.3,138.3 L280.4,123.8 L280.5,123.5 L280.6,137.8 L280.8,158.4 L280.9,173.8 L281.0,175.4 L281.2,162.1 L281.3,141.6 L281.4,125.3 L281.5,122.6 L281.7,134.8 L281.8,155.2 L281.9,172.2 L282.1,176.3 L282.2,165.0 L282.3,144.9 L282.4,127.2 L282.6,122.0 L282.7,132.1 L282.8,151.9 L282.9,170.2 L283.1,176.7 L283.2,167.7 L283.3,148.3 L283.5,129.5 L283.6,121.8 L283.7,129.6 L283.8,148.6 L284.0,167.9 L284.1,176.8 L284.2,170.1 L284.3,151.7 L284.5,132.0 L284.6,122.0 L284.7,127.4 L284.9,145.2 L285.0,165.3 L285.1,176.4 L285.2,172.2 L285.4,155.1 L285.5,134.7 L285.6,122.6 L285.7,125.5 L285.9,141.9 L286.0,162.5 L286.1,175.6 L286.3,174.0 L286.4,158.4 L286.5,137.7 L286.6,123.6 L286.8,124.0 L286.9,138.7 L287.0,159.4 L287.1,174.4 L287.3,175.3 L287.4,161.5 L287.5,140.9 L287.7,125.0 L287.8,122.8 L287.9,135.6 L288.0,156.2 L288.2,172.9 L288.3,176.3 L288.4,164.5 L288.6,144.1 L288.7,126.7 L288.8,122.0 L288.9,132.8 L289.1,152.8 L289.2,171.0 L289.3,176.9 L289.4,167.3 L289.6,147.5 L289.7,128.8 L289.8,121.7 L290.0,130.1 L290.1,149.4 L290.2,168.7 L290.3,177.0 L290.5,169.7 L290.6,150.9 L290.7,131.2 L290.8,121.7 L291.0,127.8 L291.1,146.0 L291.2,166.1 L291.4,176.8 L291.5,171.9 L291.6,154.3 L291.7,133.9 L291.9,122.2 L292.0,125.8 L292.1,142.6 L292.2,163.3 L292.4,176.1 L292.5,173.7 L292.6,157.6 L292.8,136.8 L292.9,123.0 L293.0,124.1 L293.1,139.4 L293.3,160.3 L293.4,175.0 L293.5,175.2 L293.6,160.8 L293.8,139.9 L293.9,124.3 L294.0,122.8 L294.2,136.2 L294.3,157.0 L294.4,173.5 L294.5,176.3 L294.7,163.9 L294.8,143.2 L294.9,125.9 L295.1,121.9 L295.2,133.2 L295.3,153.7 L295.4,171.6 L295.6,177.0 L295.7,166.7 L295.8,146.6 L295.9,127.9 L296.1,121.3 L296.2,130.5 L296.3,150.2 L296.5,169.4 L296.6,177.2 L296.7,169.3 L296.8,150.0 L297.0,130.3 L297.1,121.3 L297.2,128.0 L297.3,146.8 L297.5,166.9 L297.6,177.1 L297.7,171.5 L297.9,153.4 L298.0,132.9 L298.1,121.6 L298.2,125.9 L298.4,143.3 L298.5,164.1 L298.6,176.5 L298.7,173.5 L298.9,156.8 L299.0,135.8 L299.1,122.3 L299.3,124.1 L299.4,140.0 L299.5,161.1 L299.6,175.5 L299.8,175.1 L299.9,160.0 L300.0,138.9 L300.1,123.5 L300.3,122.6 L300.4,136.7 L300.5,157.8 L300.7,174.1 L300.8,176.3 L300.9,163.2 L301.0,142.1 L301.2,125.1 L301.3,121.6 L301.4,133.6 L301.6,154.5 L301.7,172.3 L301.8,177.1 L301.9,166.1 L302.1,145.5 L302.2,127.0 L302.3,121.0 L302.4,130.8 L302.6,151.0 L302.7,170.1 L302.8,177.4 L303.0,168.7 L303.1,149.0 L303.2,129.3 L303.3,120.8 L303.5,128.2 L303.6,147.5 L303.7,167.7 L303.8,177.4 L304.0,171.1 L304.1,152.5 L304.2,131.9 L304.4,121.0 L304.5,126.0 L304.6,144.0 L304.7,164.9 L304.9,176.9 L305.0,173.2 L305.1,155.9 L305.2,134.7 L305.4,121.6 L305.5,124.0 L305.6,140.6 L305.8,161.9 L305.9,176.0 L306.0,174.9 L306.1,159.2 L306.3,137.8 L306.4,122.7 L306.5,122.5 L306.6,137.3 L306.8,158.7 L306.9,174.7 L307.0,176.2 L307.2,162.4 L307.3,141.1 L307.4,124.2 L307.5,121.4 L307.7,134.1 L307.8,155.3 L307.9,173.0 L308.1,177.2 L308.2,165.5 L308.3,144.5 L308.4,126.1 L308.6,120.6 L308.7,131.2 L308.8,151.8 L308.9,170.9 L309.1,177.7 L309.2,168.3 L309.3,148.0 L309.5,128.3 L309.6,120.3 L309.7,128.5 L309.8,148.3 L310.0,168.5 L310.1,177.7 L310.2,170.8 L310.3,151.5 L310.5,130.9 L310.6,120.5 L310.7,126.2 L310.9,144.8 L311.0,165.8 L311.1,177.4 L311.2,173.0 L311.4,155.0 L311.5,133.7 L311.6,121.1 L311.7,124.1 L311.9,141.3 L312.0,162.8 L312.1,176.6 L312.3,174.8 L312.4,158.5 L312.5,136.8 L312.6,122.1 L312.8,122.5 L312.9,137.9 L313.0,159.6 L313.1,175.4 L313.3,176.3 L313.4,161.8 L313.5,140.1 L313.7,123.5 L313.8,121.2 L313.9,134.7 L314.0,156.2 L314.2,173.7 L314.3,177.3 L314.4,164.9 L314.6,143.6 L314.7,125.3 L314.8,120.4 L314.9,131.7 L315.1,152.8 L315.2,171.8 L315.3,177.9 L315.4,167.8 L315.6,147.1 L315.7,127.5 L315.8,120.0 L316.0,128.9 L316.1,149.2 L316.2,169.4 L316.3,178.1 L316.5,170.5 L316.6,150.7 L316.7,130.0 L316.8,120.0 L317.0,126.5 L317.1,145.6 L317.2,166.8 L317.4,177.9 L317.5,172.8 L317.6,154.3 L317.7,132.8 L317.9,120.5 L318.0,124.3 L318.1,142.1 L318.2,163.8 L318.4,177.2 L318.5,174.8 L318.6,157.8 L318.8,135.9 L318.9,121.4 L319.0,122.5 L319.1,138.6 L319.3,160.6 L319.4,176.1 L319.5,176.4 L319.6,161.2 L319.8,139.2 L319.9,122.8 L320.0,121.2 L320.2,135.3 L320.3,157.3 L320.4,174.6 L320.5,177.5 L320.7,164.4 L320.8,142.6 L320.9,124.5 L321.1,120.2 L321.2,132.2 L321.3,153.8 L321.4,172.7 L321.6,178.3 L321.7,167.4 L321.8,146.2 L321.9,126.6 L322.1,119.7 L322.2,129.4 L322.3,150.2 L322.5,170.4 L322.6,178.6 L322.7,170.2 L322.8,149.9 L323.0,129.1 L323.1,119.6 L323.2,126.8 L323.3,146.6 L323.5,167.8 L323.6,178.5 L323.7,172.7 L323.9,153.5 L324.0,131.9 L324.1,120.0 L324.2,124.5 L324.4,143.0 L324.5,164.9 L324.6,178.0 L324.7,174.8 L324.9,157.1 L325.0,135.0 L325.1,120.8 L325.3,122.6 L325.4,139.4 L325.5,161.7 L325.6,176.9 L325.8,176.5 L325.9,160.6 L326.0,138.3 L326.1,122.0 L326.3,121.1 L326.4,136.0 L326.5,158.4 L326.7,175.5 L326.8,177.8 L326.9,163.9 L327.0,141.7 L327.2,123.7 L327.3,120.1 L327.4,132.8 L327.6,154.8 L327.7,173.7 L327.8,178.7 L327.9,167.1 L328.1,145.3 L328.2,125.8 L328.3,119.4 L328.4,129.9 L328.6,151.2 L328.7,171.5 L328.8,179.1 L329.0,169.9 L329.1,149.0 L329.2,128.2 L329.3,119.2 L329.5,127.2 L329.6,147.5 L329.7,168.9 L329.8,179.1 L330.0,172.5 L330.1,152.7 L330.2,131.0 L330.4,119.5 L330.5,124.8 L330.6,143.9 L330.7,166.0 L330.9,178.7 L331.0,174.7 L331.1,156.4 L331.2,134.0 L331.4,120.2 L331.5,122.8 L331.6,140.3 L331.8,162.8 L331.9,177.8 L332.0,176.6 L332.1,160.0 L332.3,137.3 L332.4,121.4 L332.5,121.1 L332.6,136.8 L332.8,159.5 L332.9,176.4 L333.0,178.0 L333.2,163.4 L333.3,140.8 L333.4,123.0 L333.5,119.9 L333.7,133.5 L333.8,155.9 L333.9,174.6 L334.1,179.0 L334.2,166.6 L334.3,144.4 L334.4,125.0 L334.6,119.2 L334.7,130.4 L334.8,152.3 L334.9,172.5 L335.1,179.6 L335.2,169.6 L335.3,148.2 L335.5,127.3 L335.6,118.9 L335.7,127.6 L335.8,148.5 L336.0,169.9 L336.1,179.7 L336.2,172.3 L336.3,151.9 L336.5,130.0 L336.6,119.0 L336.7,125.1 L336.9,144.8 L337.0,167.1 L337.1,179.3 L337.2,174.6 L337.4,155.6 L337.5,133.1 L337.6,119.6 L337.7,122.9 L337.9,141.1 L338.0,163.9 L338.1,178.5 L338.3,176.6 L338.4,159.3 L338.5,136.3 L338.6,120.7 L338.8,121.2 L338.9,137.6 L339.0,160.5 L339.1,177.2 L339.3,178.1 L339.4,162.8 L339.5,139.8 L339.7,122.2 L339.8,119.9 L339.9,134.1 L340.0,157.0 L340.2,175.5 L340.3,179.2 L340.4,166.1 L340.6,143.5 L340.7,124.1 L340.8,119.0 L340.9,131.0 L341.1,153.3 L341.2,173.4 L341.3,179.9 L341.4,169.2 L341.6,147.2 L341.7,126.4 L341.8,118.6 L342.0,128.0 L342.1,149.5 L342.2,170.9 L342.3,180.1 L342.5,171.9 L342.6,151.0 L342.7,129.1 L342.8,118.6 L343.0,125.4 L343.1,145.7 L343.2,168.1 L343.4,179.8 L343.5,174.4 L343.6,154.8 L343.7,132.1 L343.9,119.1 L344.0,123.2 L344.1,142.0 L344.2,164.9 L344.4,179.1 L344.5,176.4 L344.6,158.5 L344.8,135.3 L344.9,120.1 L345.0,121.3 L345.1,138.3 L345.3,161.6 L345.4,177.9 L345.5,178.1 L345.6,162.1 L345.8,138.8 L345.9,121.5 L346.0,119.8 L346.2,134.8 L346.3,158.0 L346.4,176.3 L346.5,179.3 L346.7,165.5 L346.8,142.5 L346.9,123.3 L347.1,118.8 L347.2,131.6 L347.3,154.3 L347.4,174.2 L347.6,180.1 L347.7,168.6 L347.8,146.2 L347.9,125.6 L348.1,118.3 L348.2,128.5 L348.3,150.5 L348.5,171.8 L348.6,180.4 L348.7,171.5 L348.8,150.1 L349.0,128.2 L349.1,118.2 L349.2,125.8 L349.3,146.7 L349.5,169.0 L349.6,180.3 L349.7,174.1 L349.9,153.9 L350.0,131.1 L350.1,118.6 L350.2,123.4 L350.4,142.9 L350.5,165.9 L350.6,179.6 L350.7,176.2 L350.9,157.7 L351.0,134.3 L351.1,119.5 L351.3,121.4 L351.4,139.1 L351.5,162.6 L351.6,178.6 L351.8,178.0 L351.9,161.3 L352.0,137.8 L352.1,120.8 L352.3,119.9 L352.4,135.6 L352.5,159.0 L352.7,177.0 L352.8,179.4 L352.9,164.8 L353.0,141.5 L353.2,122.5 L353.3,118.7 L353.4,132.2 L353.6,155.3 L353.7,175.0 L353.8,180.3 L353.9,168.0 L354.1,145.2 L354.2,124.7 L354.3,118.1 L354.4,129.0 L354.6,151.5 L354.7,172.7 L354.8,180.7 L355.0,171.0 L355.1,149.1 L355.2,127.3 L355.3,117.9 L355.5,126.2 L355.6,147.6 L355.7,170.0 L355.8,180.7 L356.0,173.7 L356.1,153.0 L356.2,130.1 L356.4,118.1 L356.5,123.7 L356.6,143.7 L356.7,166.9 L356.9,180.2 L357.0,176.0 L357.1,156.8 L357.2,133.3 L357.4,118.9 L357.5,121.6 L357.6,140.0 L357.8,163.6 L357.9,179.2 L358.0,177.9 L358.1,160.5 L358.3,136.8 L358.4,120.1 L358.5,119.9 L358.6,136.3 L358.8,160.0 L358.9,177.7 L359.0,179.4 L359.2,164.1 L359.3,140.4 L359.4,121.8 L359.5,118.7 L359.7,132.8 L359.8,156.3 L359.9,175.8 L360.1,180.4 L360.2,167.4 L360.3,144.2 L360.4,123.9 L360.6,117.9 L360.7,129.6 L360.8,152.5 L360.9,173.6 L361.1,181.0 L361.2,170.5 L361.3,148.1 L361.5,126.3 L361.6,117.5 L361.7,126.7 L361.8,148.6 L362.0,170.9 L362.1,181.0 L362.2,173.3 L362.3,152.0 L362.5,129.2 L362.6,117.7 L362.7,124.1 L362.9,144.7 L363.0,167.9 L363.1,180.6 L363.2,175.7 L363.4,155.9 L363.5,132.3 L363.6,118.3 L363.7,121.8 L363.9,140.8 L364.0,164.6 L364.1,179.8 L364.3,177.7 L364.4,159.7 L364.5,135.7 L364.6,119.5 L364.8,120.0 L364.9,137.1 L365.0,161.1 L365.1,178.4 L365.3,179.3 L365.4,163.3 L365.5,139.4 L365.7,121.0 L365.8,118.6 L365.9,133.5 L366.0,157.3 L366.2,176.6 L366.3,180.5 L366.4,166.8 L366.6,143.2 L366.7,123.0 L366.8,117.7 L366.9,130.2 L367.1,153.5 L367.2,174.4 L367.3,181.2 L367.4,170.0 L367.6,147.1 L367.7,125.4 L367.8,117.3 L368.0,127.2 L368.1,149.6 L368.2,171.8 L368.3,181.4 L368.5,172.9 L368.6,151.0 L368.7,128.2 L368.8,117.3 L369.0,124.4 L369.1,145.6 L369.2,168.9 L369.4,181.1 L369.5,175.4 L369.6,155.0 L369.7,131.3 L369.9,117.8 L370.0,122.1 L370.1,141.7 L370.2,165.6 L370.4,180.3 L370.5,177.6 L370.6,158.8 L370.8,134.7 L370.9,118.8 L371.0,120.1 L371.1,137.9 L371.3,162.1 L371.4,179.1 L371.5,179.3 L371.6,162.6 L371.8,138.3 L371.9,120.3 L372.0,118.6 L372.2,134.2 L372.3,158.4 L372.4,177.4 L372.5,180.6 L372.7,166.1 L372.8,142.1 L372.9,122.2 L373.1,117.5 L373.2,130.8 L373.3,154.5 L373.4,175.3 L373.6,181.4 L373.7,169.4 L373.8,146.1 L373.9,124.5 L374.1,117.0 L374.2,127.7 L374.3,150.6 L374.5,172.8 L374.6,181.7 L374.7,172.4 L374.8,150.0 L375.0,127.2 L375.1,116.9 L375.2,124.8 L375.3,146.6 L375.5,169.9 L375.6,181.6 L375.7,175.1 L375.9,154.0 L376.0,130.3 L376.1,117.3 L376.2,122.3 L376.4,142.6 L376.5,166.7 L376.6,181.0 L376.7,177.4 L376.9,158.0 L377.0,133.7 L377.1,118.2 L377.3,120.2 L377.4,138.7 L377.5,163.2 L377.6,179.8 L377.8,179.3 L377.9,161.8 L378.0,137.3 L378.2,119.5 L378.3,118.6 L378.4,135.0 L378.5,159.5 L378.7,178.2 L378.8,180.7 L378.9,165.4 L379.0,141.1 L379.2,121.4 L379.3,117.4 L379.4,131.5 L379.6,155.6 L379.7,176.2 L379.8,181.6 L379.9,168.8 L380.1,145.0 L380.2,123.6 L380.3,116.7 L380.4,128.2 L380.6,151.6 L380.7,173.7 L380.8,182.1 L381.0,172.0 L381.1,149.0 L381.2,126.3 L381.3,116.5 L381.5,125.2 L381.6,147.6 L381.7,170.9 L381.8,182.1 L382.0,174.8 L382.1,153.1 L382.2,129.3 L382.4,116.8 L382.5,122.6 L382.6,143.5 L382.7,167.7 L382.9,181.5 L383.0,177.2 L383.1,157.1 L383.2,132.6 L383.4,117.5 L383.5,120.4 L383.6,139.6 L383.8,164.3 L383.9,180.5 L384.0,179.2 L384.1,161.0 L384.3,136.2 L384.4,118.8 L384.5,118.6 L384.7,135.8 L384.8,160.6 L384.9,179.0 L385.0,180.7 L385.2,164.7 L385.3,140.0 L385.4,120.5 L385.5,117.3 L385.7,132.1 L385.8,156.7 L385.9,177.1 L386.1,181.8 L386.2,168.2 L386.3,144.0 L386.4,122.7 L386.6,116.5 L386.7,128.8 L386.8,152.7 L386.9,174.7 L387.1,182.4 L387.2,171.5 L387.3,148.0 L387.5,125.3 L387.6,116.1 L387.7,125.7 L387.8,148.6 L388.0,171.9 L388.1,182.5 L388.2,174.4 L388.3,152.1 L388.5,128.2 L388.6,116.3 L388.7,123.0 L388.9,144.5 L389.0,168.8 L389.1,182.1 L389.2,176.9 L389.4,156.2 L389.5,131.5 L389.6,116.9 L389.7,120.6 L389.9,140.5 L390.0,165.3 L390.1,181.2 L390.3,179.0 L390.4,160.1 L390.5,135.1 L390.6,118.1 L390.8,118.7 L390.9,136.6 L391.0,161.7 L391.2,179.8 L391.3,180.7 L391.4,163.9 L391.5,138.9 L391.7,119.7 L391.8,117.3 L391.9,132.9 L392.0,157.8 L392.2,177.9 L392.3,181.9 L392.4,167.5 L392.6,142.9 L392.7,121.8 L392.8,116.3 L392.9,129.4 L393.1,153.7 L393.2,175.6 L393.3,182.6 L393.4,170.9 L393.6,146.9 L393.7,124.3 L393.8,115.8 L394.0,126.2 L394.1,149.6 L394.2,172.9 L394.3,182.8 L394.5,173.9 L394.6,151.1 L394.7,127.2 L394.8,115.9 L395.0,123.4 L395.1,145.5 L395.2,169.8 L395.4,182.5 L395.5,176.5 L395.6,155.2 L395.7,130.5 L395.9,116.4 L396.0,120.9 L396.1,141.4 L396.2,166.4 L396.4,181.7 L396.5,178.8 L396.6,159.2 L396.8,134.0 L396.9,117.5 L397.0,118.9 L397.1,137.4 L397.3,162.7 L397.4,180.4 L397.5,180.6 L397.7,163.1 L397.8,137.8 L397.9,119.0 L398.0,117.3 L398.2,133.6 L398.3,158.8 L398.4,178.6 L398.5,181.9 L398.7,166.8 L398.8,141.8 L398.9,121.0 L399.1,116.2 L399.2,130.1 L399.3,154.8 L399.4,176.4 L399.6,182.7 L399.7,170.2 L399.8,145.9 L399.9,123.5 L400.1,115.6 L400.2,126.8 L400.3,150.6 L400.5,173.8 L400.6,183.1 L400.7,173.3 L400.8,150.0 L401.0,126.3 L401.1,115.5 L401.2,123.8 L401.3,146.5 L401.5,170.7 L401.6,182.9 L401.7,176.1 L401.9,154.2 L402.0,129.5 L402.1,116.0 L402.2,121.3 L402.4,142.4 L402.5,167.4 L402.6,182.2 L402.7,178.4 L402.9,158.2 L403.0,133.0 L403.1,116.9 L403.3,119.1 L403.4,138.3 L403.5,163.7 L403.6,181.0 L403.8,180.3 L403.9,162.2 L404.0,136.7 L404.2,118.4 L404.3,117.4 L404.4,134.5 L404.5,159.9 L404.7,179.3 L404.8,181.8 L404.9,165.9 L405.0,140.7 L405.2,120.3 L405.3,116.2 L405.4,130.8 L405.6,155.8 L405.7,177.2 L405.8,182.8 L405.9,169.5 L406.1,144.8 L406.2,122.6 L406.3,115.5 L406.4,127.4 L406.6,151.7 L406.7,174.6 L406.8,183.2 L407.0,172.7 L407.1,148.9 L407.2,125.4 L407.3,115.3 L407.5,124.4 L407.6,147.5 L407.7,171.6 L407.8,183.1 L408.0,175.5 L408.1,153.1 L408.2,128.5 L408.4,115.6 L408.5,121.7 L408.6,143.3 L408.7,168.3 L408.9,182.6 L409.0,178.0 L409.1,157.2 L409.2,131.9 L409.4,116.4 L409.5,119.4 L409.6,139.2 L409.8,164.7 L409.9,181.5 L410.0,180.1 L410.1,161.2 L410.3,135.7 L410.4,117.7 L410.5,117.6 L410.7,135.3 L410.8,160.9 L410.9,179.9 L411.0,181.6 L411.2,165.1 L411.3,139.6 L411.4,119.5 L411.5,116.2 L411.7,131.6 L411.8,156.9 L411.9,177.9 L412.1,182.7 L412.2,168.7 L412.3,143.7 L412.4,121.8 L412.6,115.4 L412.7,128.1 L412.8,152.7 L412.9,175.4 L413.1,183.3 L413.2,172.0 L413.3,147.8 L413.5,124.5 L413.6,115.1 L413.7,124.9 L413.8,148.5 L414.0,172.5 L414.1,183.4 L414.2,175.0 L414.3,152.0 L414.5,127.5 L414.6,115.3 L414.7,122.2 L414.9,144.3 L415.0,169.3 L415.1,182.9 L415.2,177.5 L415.4,156.2 L415.5,130.9 L415.6,116.0 L415.7,119.8 L415.9,140.2 L416.0,165.7 L416.1,181.9 L416.3,179.7 L416.4,160.3 L416.5,134.6 L416.6,117.2 L416.8,117.8 L416.9,136.2 L417.0,161.9 L417.2,180.5 L417.3,181.4 L417.4,164.2 L417.5,138.5 L417.7,118.9 L417.8,116.4 L417.9,132.4 L418.0,157.9 L418.2,178.5 L418.3,182.6 L418.4,167.9 L418.6,142.6 L418.7,121.0 L418.8,115.4 L418.9,128.8 L419.1,153.8 L419.2,176.1 L419.3,183.3 L419.4,171.3 L419.6,146.7 L419.7,123.6 L419.8,114.9 L420.0,125.6 L420.1,149.6 L420.2,173.3 L420.3,183.5 L420.5,174.3 L420.6,151.0 L420.7,126.6 L420.8,115.0 L421.0,122.7 L421.1,145.3 L421.2,170.2 L421.4,183.2 L421.5,177.0 L421.6,155.1 L421.7,129.9 L421.9,115.6 L422.0,120.2 L422.1,141.2 L422.2,166.7 L422.4,182.3 L422.5,179.3 L422.6,159.3 L422.8,133.5 L422.9,116.7 L423.0,118.1 L423.1,137.1 L423.3,162.9 L423.4,181.0 L423.5,181.1 L423.7,163.2 L423.8,137.4 L423.9,118.2 L424.0,116.5 L424.2,133.2 L424.3,158.9 L424.4,179.1 L424.5,182.4 L424.7,167.0 L424.8,141.5 L424.9,120.3 L425.1,115.4 L425.2,129.6 L425.3,154.8 L425.4,176.8 L425.6,183.3 L425.7,170.5 L425.8,145.6 L425.9,122.8 L426.1,114.8 L426.2,126.2 L426.3,150.6 L426.5,174.1 L426.6,183.6 L426.7,173.6 L426.8,149.8 L427.0,125.7 L427.1,114.8 L427.2,123.2 L427.3,146.3 L427.5,171.0 L427.6,183.4 L427.7,176.4 L427.9,154.1" fill="none" stroke="#dc5a22" stroke-width="0.7" stroke-dasharray="3 1 0.7 1"/>
<path d="M206.1,117.4h0M206.2,171.7h0M206.9,173.5h0M206.3,174.7h0M210.0,118.6h0M209.4,117.6h0M208.9,119.7h0M209.6,176.4h0M209.9,174.9h0M210.6,120.6h0M211.0,120.3h0M210.8,118.9h0M211.8,177.8h0M212.0,175.2h0M213.2,120.2h0M213.7,120.5h0M213.5,121.1h0M213.0,178.7h0M215.8,121.9h0M216.5,121.3h0M216.5,121.7h0M216.7,178.6h0M215.9,177.4h0M218.2,124.1h0M217.6,122.4h0M219.2,121.8h0M217.6,178.9h0M218.2,180.0h0M218.9,180.0h0M219.7,126.7h0M220.0,125.8h0M220.5,126.3h0M220.2,180.0h0M220.0,180.1h0M219.7,179.4h0M223.5,123.8h0M222.8,178.8h0M222.2,180.7h0M222.0,180.4h0M225.5,123.6h0M225.4,124.4h0M225.4,125.6h0M225.6,180.7h0M224.7,180.3h0M228.5,124.9h0M227.5,124.7h0M228.4,126.3h0M226.8,179.0h0M228.0,178.4h0M229.0,122.6h0M229.4,176.4h0M229.1,179.1h0M229.7,177.7h0M232.5,122.0h0M231.7,123.4h0M233.0,179.3h0M231.8,176.4h0M232.1,176.6h0M234.4,123.5h0M235.4,123.4h0M234.1,120.6h0M233.4,175.5h0M234.7,176.1h0M236.8,121.1h0M237.2,177.2h0M236.3,176.3h0M238.7,118.5h0M238.7,119.5h0M240.9,120.5h0M241.0,176.2h0M242.0,176.2h0M240.3,177.0h0M242.7,119.1h0M243.2,119.1h0M243.4,119.9h0M243.0,174.8h0M243.5,175.1h0M246.4,120.9h0M245.1,120.0h0M245.9,120.7h0M245.9,176.4h0M245.7,177.5h0M245.4,177.2h0M248.0,119.1h0M247.6,121.5h0M248.6,176.9h0M247.9,175.2h0M248.4,175.2h0M250.6,176.4h0M252.2,122.6h0M251.9,178.6h0M253.7,176.8h0M252.8,176.9h0M255.3,124.0h0M255.1,121.0h0M255.6,177.3h0M257.4,178.7h0M258.9,124.9h0M258.7,124.1h0M260.2,178.9h0M259.7,179.7h0M261.3,121.7h0M262.7,124.9h0M261.7,176.7h0M263.8,120.9h0M264.3,179.0h0M264.9,177.3h0M266.0,122.9h0M266.0,176.3h0M268.1,119.1h0M268.1,177.0h0M270.6,119.4h0M271.9,120.6h0M270.6,176.6h0M270.9,177.3h0M273.7,118.7h0M273.3,118.8h0M273.0,121.6h0M273.3,176.1h0M272.9,176.8h0M276.8,120.4h0M275.5,177.7h0M277.1,178.2h0M281.2,120.4h0M280.7,178.4h0M281.1,178.5h0M283.4,119.7h0M282.7,121.3h0M283.6,177.1h0M284.2,120.4h0M285.9,176.6h0M286.8,176.3h0M288.7,121.5h0M288.6,122.4h0M289.3,179.5h0M289.4,177.7h0M289.1,176.8h0M292.3,176.7h0M295.2,120.4h0M293.3,179.4h0M296.4,178.1h0M297.8,120.6h0M298.9,120.9h0M299.5,119.4h0M298.5,178.5h0M298.7,179.0h0M301.8,119.6h0M300.5,121.1h0M301.2,121.3h0M303.0,120.8h0M304.3,118.8h0M305.5,119.3h0M306.6,118.1h0M305.1,179.1h0M307.8,121.0h0M308.8,118.7h0M308.0,177.4h0M311.2,121.1h0M310.3,118.5h0M309.4,180.1h0M309.6,178.0h0M311.1,177.5h0M312.1,120.2h0M313.4,118.4h0M313.0,120.7h0M312.7,179.0h0M314.4,118.3h0M317.5,120.8h0M316.9,180.7h0M316.3,179.7h0M318.6,180.6h0M321.7,178.4h0M327.0,118.3h0M327.2,118.3h0M326.0,117.7h0M326.1,181.0h0M326.7,181.0h0M325.8,180.5h0M329.7,116.7h0M327.7,181.6h0M329.2,179.8h0M331.8,119.8h0M332.0,179.5h0M333.9,119.8h0M332.6,181.8h0M334.7,116.9h0M338.4,116.6h0M337.4,118.1h0M339.5,182.6h0M339.3,181.2h0M342.2,117.5h0M342.0,180.8h0M344.5,181.1h0M344.2,180.9h0M346.6,180.1h0M351.5,118.8h0M352.0,117.1h0M351.0,182.6h0M354.4,180.6h0M358.7,118.2h0M359.5,180.2h0M360.6,180.4h0M363.4,181.5h0M362.6,181.3h0M365.4,117.5h0M364.7,181.5h0M373.8,116.6h0M375.4,116.7h0M374.3,182.5h0M377.4,115.7h0M377.2,114.8h0M380.3,116.0h0M379.4,184.6h0M384.1,182.5h0M385.3,183.7h0M387.1,182.7h0M389.2,113.6h0M388.1,113.5h0M392.4,183.2h0M396.3,115.0h0M397.3,116.4h0M400.9,184.9h0M405.3,115.9h0M406.9,184.6h0M413.6,185.6h0M415.3,114.5h0M417.8,114.7h0M418.5,114.6h0M422.9,185.5h0M424.6,113.0h0" fill="none" stroke="#e0602a" stroke-width="0.9" stroke-linecap="round"/>
<path d="M207.6,121.6h0M210.3,169.0h0M212.0,122.3h0M210.9,128.4h0M212.5,168.5h0M211.5,174.0h0M214.1,168.2h0M214.3,175.2h0M217.4,172.5h0M216.2,174.0h0M219.2,126.1h0M220.2,167.9h0M217.9,169.6h0M219.9,172.7h0M222.4,131.2h0M220.2,166.8h0M220.0,170.3h0M221.8,172.9h0M220.2,174.9h0M221.5,176.8h0M222.9,128.1h0M224.5,168.8h0M224.7,171.7h0M223.4,176.1h0M224.8,127.8h0M226.5,131.0h0M225.9,166.0h0M226.7,168.2h0M225.0,170.2h0M225.7,172.8h0M225.5,174.9h0M226.0,176.3h0M227.3,127.7h0M229.3,130.3h0M227.8,131.8h0M229.1,168.1h0M228.3,172.9h0M227.2,174.5h0M228.6,176.2h0M231.0,126.0h0M229.5,128.5h0M231.5,131.1h0M229.5,165.6h0M231.4,168.8h0M229.1,170.0h0M230.5,172.5h0M229.7,174.1h0M233.6,126.5h0M232.8,128.6h0M233.1,130.8h0M232.3,132.8h0M233.0,168.8h0M231.6,170.6h0M232.8,172.4h0M234.2,124.0h0M236.1,126.5h0M234.1,133.0h0M235.0,170.0h0M237.4,126.1h0M237.6,168.5h0M236.7,170.5h0M236.9,174.3h0M239.5,122.0h0M238.8,123.5h0M240.7,126.0h0M239.7,130.2h0M238.5,132.3h0M239.2,166.3h0M238.6,169.8h0M242.4,121.8h0M240.9,123.9h0M243.1,126.0h0M242.9,130.6h0M240.9,132.0h0M242.8,168.7h0M241.1,170.2h0M242.2,172.3h0M245.0,121.9h0M244.2,124.1h0M244.8,125.7h0M243.0,127.9h0M244.6,130.2h0M244.0,131.9h0M243.9,166.3h0M243.3,169.8h0M244.5,172.7h0M246.5,122.2h0M246.2,123.6h0M247.5,125.6h0M245.6,128.3h0M247.1,130.2h0M245.9,132.7h0M246.1,166.5h0M247.3,167.6h0M245.9,170.6h0M247.0,172.8h0M248.1,124.0h0M249.9,125.7h0M248.4,128.4h0M249.9,130.3h0M247.7,133.0h0M248.7,166.3h0M248.0,169.9h0M249.2,173.0h0M252.1,130.7h0M250.5,132.9h0M252.0,164.4h0M250.4,165.9h0M251.3,168.0h0M250.8,170.2h0M250.5,174.6h0M253.4,126.0h0M253.6,130.2h0M256.4,126.4h0M255.2,128.1h0M255.8,130.4h0M255.4,132.1h0M256.8,134.4h0M254.7,170.0h0M255.4,174.3h0M257.2,128.3h0M258.7,130.1h0M258.8,134.9h0M258.9,167.8h0M257.5,170.6h0M257.7,174.5h0M259.6,132.1h0M261.3,135.0h0M260.9,164.2h0M260.6,168.7h0M259.7,169.9h0M261.1,171.9h0M259.4,174.9h0M263.1,126.4h0M262.8,130.4h0M261.7,133.0h0M263.5,164.4h0M263.6,167.7h0M261.9,170.0h0M263.6,171.9h0M262.3,174.2h0M265.8,125.8h0M264.4,128.8h0M264.7,132.9h0M264.4,166.3h0M266.3,124.0h0M267.2,126.1h0M266.7,128.6h0M267.9,130.5h0M267.9,163.9h0M266.3,166.3h0M267.8,167.9h0M266.3,170.7h0M267.3,172.1h0M266.7,174.9h0M269.3,124.4h0M270.5,126.2h0M268.7,128.5h0M270.0,130.3h0M268.5,132.0h0M269.9,134.6h0M270.2,164.3h0M269.0,166.3h0M269.8,168.7h0M269.4,170.3h0M269.5,172.1h0M268.8,174.4h0M270.9,124.1h0M272.7,126.7h0M271.0,128.4h0M272.4,130.0h0M270.8,132.3h0M272.6,134.2h0M271.4,162.3h0M272.6,164.4h0M271.2,166.2h0M272.7,168.4h0M271.1,170.3h0M272.3,172.7h0M271.0,174.3h0M274.5,122.4h0M273.9,124.5h0M274.2,126.5h0M273.3,128.7h0M274.2,130.0h0M273.6,132.8h0M274.2,134.7h0M273.4,162.1h0M274.5,163.9h0M273.1,166.1h0M274.4,168.3h0M274.0,170.1h0M274.7,172.3h0M273.8,174.7h0M275.6,123.8h0M277.3,125.8h0M276.0,128.0h0M276.7,130.7h0M275.8,132.5h0M277.3,134.6h0M275.9,162.0h0M276.9,163.9h0M275.4,166.0h0M277.0,167.9h0M275.3,170.7h0M277.0,172.3h0M275.3,174.0h0M278.5,123.8h0M279.4,126.0h0M278.5,127.8h0M279.1,130.5h0M277.7,132.6h0M279.5,134.6h0M277.6,136.7h0M278.9,164.5h0M278.0,166.1h0M279.2,168.1h0M277.9,170.0h0M278.8,172.3h0M278.4,174.1h0M280.8,124.4h0M281.5,126.3h0M280.0,128.6h0M281.4,134.8h0M280.5,161.7h0M281.9,163.9h0M280.5,166.1h0M281.4,168.3h0M280.9,170.6h0M282.0,171.9h0M280.8,174.5h0M283.0,128.0h0M283.6,130.0h0M282.7,132.6h0M283.6,134.2h0M283.5,164.2h0M283.2,166.5h0M284.1,168.5h0M282.8,170.2h0M284.2,172.6h0M282.8,174.6h0M285.4,124.4h0M286.4,126.3h0M285.3,128.6h0M286.5,130.0h0M285.0,132.3h0M285.4,136.6h0M285.8,163.9h0M285.4,166.2h0M285.8,168.1h0M285.0,170.5h0M285.8,172.3h0M287.7,124.5h0M288.6,125.9h0M287.3,162.1h0M286.8,166.2h0M288.8,167.9h0M287.6,170.1h0M288.1,172.5h0M287.5,174.8h0M289.9,124.5h0M290.9,126.1h0M291.0,129.9h0M290.1,132.6h0M290.6,134.9h0M289.9,161.7h0M290.5,168.6h0M289.7,170.1h0M290.4,172.8h0M290.0,174.2h0M291.9,124.4h0M293.4,126.6h0M291.6,128.6h0M292.8,130.0h0M292.3,132.9h0M293.0,135.0h0M292.3,136.9h0M291.8,161.7h0M293.4,164.3h0M293.2,168.3h0M292.4,170.0h0M294.1,123.8h0M295.0,126.0h0M293.9,132.4h0M295.5,134.5h0M294.3,136.7h0M295.1,163.7h0M294.1,165.9h0M295.7,168.2h0M295.2,172.8h0M294.3,174.6h0M296.3,124.3h0M297.6,125.9h0M296.8,128.4h0M297.9,130.8h0M296.9,132.1h0M297.4,134.4h0M296.6,136.6h0M296.1,161.5h0M297.7,163.9h0M296.2,166.2h0M296.7,170.3h0M297.4,172.2h0M296.4,174.2h0M298.9,124.3h0M299.6,126.3h0M299.6,130.0h0M299.2,132.1h0M299.5,134.6h0M298.9,136.6h0M298.4,162.0h0M299.8,164.1h0M298.6,165.9h0M300.1,167.8h0M298.4,170.6h0M298.9,174.5h0M300.8,124.2h0M302.6,126.2h0M300.9,128.0h0M302.6,130.0h0M301.0,132.1h0M302.7,134.4h0M300.8,161.8h0M300.8,166.2h0M301.9,168.2h0M302.0,172.4h0M301.0,174.9h0M304.9,122.1h0M304.6,126.2h0M303.4,128.4h0M303.0,132.3h0M304.5,134.9h0M303.1,136.4h0M303.2,161.6h0M304.6,163.8h0M303.5,166.3h0M304.5,167.8h0M303.3,174.5h0M305.8,123.9h0M306.5,126.0h0M305.9,128.5h0M306.7,130.4h0M306.1,132.1h0M305.7,136.6h0M305.6,161.6h0M306.6,164.0h0M305.7,166.4h0M306.9,168.1h0M305.3,170.6h0M305.4,174.5h0M307.1,176.2h0M309.5,122.3h0M308.0,123.9h0M308.8,126.1h0M308.8,130.8h0M307.8,132.9h0M307.7,136.5h0M309.3,160.1h0M308.3,161.7h0M308.8,164.3h0M308.2,165.7h0M308.9,168.2h0M308.9,172.4h0M307.7,174.5h0M311.9,121.6h0M310.6,124.4h0M311.2,126.3h0M310.2,128.4h0M311.4,130.3h0M309.9,132.7h0M310.5,136.3h0M311.3,138.5h0M311.6,160.1h0M310.6,161.7h0M311.1,163.8h0M310.5,165.7h0M310.2,169.9h0M311.3,172.6h0M309.9,174.6h0M313.5,121.9h0M312.5,123.9h0M313.8,126.3h0M312.7,128.2h0M313.7,130.1h0M312.8,132.9h0M313.6,134.3h0M312.5,136.4h0M312.9,162.3h0M314.0,163.8h0M312.4,165.7h0M313.7,167.8h0M312.7,170.4h0M313.7,172.7h0M312.5,174.3h0M313.6,176.5h0M316.0,122.4h0M314.5,123.8h0M316.0,126.5h0M315.1,128.2h0M316.2,130.3h0M315.2,132.9h0M315.7,134.9h0M315.3,136.9h0M316.3,138.8h0M315.9,160.1h0M315.1,161.7h0M316.4,164.3h0M314.9,166.1h0M316.0,168.6h0M314.7,170.5h0M315.9,172.7h0M315.2,174.2h0M316.4,176.4h0M318.5,122.2h0M316.8,123.7h0M318.2,126.0h0M316.9,128.2h0M318.1,130.3h0M317.5,132.4h0M318.2,134.7h0M317.3,136.9h0M318.6,138.5h0M318.2,160.2h0M317.0,161.8h0M318.1,163.9h0M317.5,165.8h0M318.1,168.1h0M317.5,170.6h0M318.4,172.3h0M317.1,174.9h0M318.6,176.4h0M321.0,121.8h0M319.3,124.2h0M320.5,126.5h0M319.2,128.5h0M320.5,130.1h0M319.7,132.7h0M320.6,134.3h0M319.5,137.1h0M320.7,139.1h0M320.6,159.9h0M319.7,161.8h0M320.9,164.4h0M319.4,165.9h0M320.3,168.5h0M319.4,170.4h0M320.8,172.3h0M319.5,174.8h0M320.5,177.0h0M322.8,122.3h0M322.1,123.9h0M322.8,126.2h0M321.8,128.4h0M322.8,130.0h0M321.9,132.6h0M323.3,134.4h0M321.5,136.9h0M322.7,139.0h0M322.7,159.6h0M321.8,161.8h0M323.3,164.2h0M322.0,165.9h0M322.6,168.3h0M321.9,170.1h0M323.1,172.8h0M321.5,174.2h0M323.3,176.2h0M325.5,122.3h0M324.0,123.9h0M325.6,126.4h0M325.5,130.2h0M324.2,132.8h0M325.2,134.3h0M323.9,136.9h0M325.2,138.7h0M325.2,160.0h0M324.1,162.1h0M324.9,163.6h0M324.9,168.1h0M324.1,170.6h0M325.1,172.5h0M324.1,174.2h0M325.2,176.7h0M327.8,121.7h0M326.7,124.3h0M327.6,125.9h0M327.4,134.8h0M326.2,136.6h0M327.9,138.6h0M327.2,159.9h0M326.1,165.7h0M327.4,168.4h0M326.2,174.9h0M327.2,176.9h0M329.5,126.1h0M329.7,130.0h0M329.5,134.4h0M330.1,160.0h0M328.9,162.1h0M329.6,163.8h0M328.5,166.4h0M330.0,168.5h0M329.5,172.2h0M330.0,176.5h0M331.4,124.0h0M330.9,128.6h0M331.1,132.7h0M332.3,159.5h0M331.2,162.1h0M332.2,164.2h0M331.1,170.1h0M331.9,172.3h0M334.5,122.3h0M332.9,123.8h0M333.0,128.6h0M332.9,132.5h0M334.3,134.4h0M334.4,159.6h0M333.5,161.7h0M334.2,164.1h0M334.6,167.8h0M333.1,170.3h0M333.0,174.8h0M336.6,122.0h0M337.0,126.5h0M336.5,134.7h0M335.7,136.4h0M336.4,159.9h0M335.7,162.0h0M336.9,168.1h0M335.3,170.5h0M337.0,172.1h0M335.7,174.7h0M336.4,176.5h0M335.3,178.4h0M339.4,122.2h0M337.6,123.9h0M338.8,126.4h0M339.1,130.1h0M337.7,132.5h0M339.0,134.5h0M337.6,137.0h0M338.9,138.7h0M337.6,161.6h0M338.9,164.3h0M337.6,165.8h0M339.1,167.8h0M337.7,170.1h0M339.4,172.4h0M337.7,174.4h0M339.2,176.9h0M337.7,178.6h0M341.3,121.9h0M340.5,124.0h0M341.1,126.4h0M341.3,130.1h0M340.2,136.7h0M341.7,139.0h0M341.3,159.8h0M340.2,161.7h0M341.6,164.0h0M341.5,168.5h0M340.3,170.3h0M341.1,172.6h0M340.3,174.2h0M341.7,176.7h0M340.4,178.7h0M342.6,119.9h0M344.0,122.0h0M342.4,124.3h0M343.9,126.0h0M342.3,128.0h0M343.5,130.6h0M342.3,132.1h0M343.5,134.9h0M342.7,136.3h0M343.4,139.1h0M343.3,159.5h0M342.1,161.7h0M343.7,164.0h0M342.7,166.3h0M343.8,168.0h0M342.6,170.1h0M343.7,172.5h0M342.7,174.7h0M343.3,176.4h0M342.4,178.8h0M344.7,120.1h0M346.3,121.7h0M344.8,123.9h0M345.6,125.9h0M344.9,128.5h0M345.8,130.6h0M344.7,132.8h0M346.0,134.7h0M344.7,136.9h0M346.2,138.7h0M346.1,159.5h0M345.1,162.0h0M345.9,163.8h0M345.0,166.3h0M346.0,168.0h0M345.1,170.0h0M346.1,172.2h0M344.4,174.7h0M345.9,176.8h0M345.0,178.6h0M347.0,119.8h0M347.9,122.3h0M347.2,123.9h0M348.6,126.3h0M347.2,128.7h0M348.0,130.4h0M346.8,132.2h0M347.9,134.4h0M347.2,136.9h0M348.1,139.0h0M348.4,160.0h0M347.0,161.6h0M348.2,163.8h0M347.4,166.1h0M348.1,168.0h0M347.4,170.1h0M348.3,172.7h0M347.0,174.8h0M348.2,176.6h0M347.1,178.9h0M349.5,120.1h0M350.5,122.2h0M350.9,126.4h0M349.7,128.4h0M350.2,130.6h0M349.6,132.6h0M350.7,134.6h0M349.2,136.7h0M350.6,138.6h0M349.5,140.6h0M349.7,161.9h0M350.2,164.0h0M349.3,166.4h0M350.8,167.9h0M349.2,170.3h0M350.8,172.1h0M349.4,174.7h0M349.2,178.5h0M351.6,119.9h0M353.2,122.3h0M351.7,124.0h0M352.7,125.9h0M351.6,128.4h0M352.9,130.3h0M351.8,132.6h0M352.6,134.3h0M351.8,136.4h0M352.5,138.9h0M351.7,158.1h0M352.8,160.0h0M351.4,162.1h0M352.9,164.2h0M351.4,165.9h0M353.2,168.3h0M351.8,170.2h0M352.5,172.3h0M351.5,174.6h0M352.6,176.9h0M352.0,178.6h0M353.8,119.9h0M355.3,121.8h0M353.8,123.8h0M355.0,126.1h0M353.9,128.2h0M355.3,130.2h0M353.9,132.2h0M355.4,134.3h0M354.3,136.4h0M355.0,139.0h0M354.3,140.6h0M355.4,160.0h0M353.6,162.1h0M355.4,163.6h0M354.1,165.8h0M353.8,174.7h0M355.4,176.5h0M354.1,178.6h0M356.6,119.8h0M357.8,121.9h0M356.1,124.2h0M357.3,126.2h0M356.5,128.2h0M356.3,132.6h0M357.6,134.8h0M356.6,136.7h0M357.7,138.8h0M356.4,140.6h0M356.5,158.0h0M357.8,160.0h0M356.6,161.9h0M357.2,163.9h0M356.3,166.2h0M357.3,168.2h0M356.3,170.1h0M357.6,172.6h0M356.6,174.2h0M357.4,176.8h0M356.4,179.0h0M358.8,119.8h0M359.9,122.0h0M358.6,124.2h0M360.0,125.9h0M358.8,128.0h0M359.7,130.4h0M358.8,132.5h0M359.5,134.3h0M359.7,138.9h0M358.7,140.9h0M359.9,159.6h0M358.8,162.0h0M360.1,164.3h0M358.9,166.1h0M359.6,168.1h0M358.3,170.5h0M359.9,172.6h0M358.3,174.5h0M359.9,176.8h0M358.8,178.4h0M360.9,119.7h0M362.1,121.7h0M361.0,124.3h0M362.1,125.9h0M360.6,128.6h0M362.2,130.5h0M360.9,132.3h0M361.8,134.4h0M360.9,136.7h0M362.4,139.0h0M360.9,141.2h0M360.8,157.6h0M362.1,160.1h0M360.7,161.6h0M361.9,164.1h0M361.2,166.1h0M362.0,168.5h0M360.6,170.5h0M362.4,172.1h0M360.7,174.5h0M362.3,176.4h0M361.2,178.4h0M363.5,119.8h0M364.6,122.0h0M363.0,124.2h0M364.6,126.2h0M363.2,128.6h0M364.5,130.2h0M363.3,132.3h0M364.6,134.4h0M363.4,136.6h0M364.4,138.8h0M363.3,141.1h0M363.4,157.9h0M364.0,160.0h0M363.0,161.6h0M364.1,164.3h0M363.5,166.3h0M364.5,168.3h0M363.2,170.0h0M364.7,172.6h0M362.9,174.6h0M364.3,176.5h0M362.9,178.7h0M365.7,119.9h0M366.4,121.8h0M365.3,124.1h0M366.4,126.3h0M365.6,128.5h0M366.8,130.4h0M365.3,132.2h0M366.3,134.9h0M365.7,136.7h0M366.8,138.7h0M365.7,141.0h0M365.8,157.8h0M366.8,159.6h0M365.7,161.8h0M366.5,164.2h0M365.2,166.4h0M366.9,168.4h0M365.5,170.4h0M366.5,172.2h0M365.6,174.8h0M366.6,176.3h0M365.2,178.8h0M368.0,119.9h0M369.2,122.1h0M367.6,124.4h0M368.9,126.0h0M367.5,128.1h0M369.0,130.3h0M367.6,132.2h0M368.8,134.7h0M368.1,137.0h0M368.6,138.6h0M368.1,141.2h0M368.1,157.6h0M368.7,159.6h0M367.8,161.8h0M369.0,163.7h0M368.7,167.9h0M367.9,170.2h0M369.1,172.5h0M367.9,174.7h0M368.9,176.7h0M367.5,179.0h0M370.2,119.8h0M371.6,122.1h0M369.9,124.1h0M371.2,126.3h0M369.9,128.6h0M371.0,130.6h0M370.1,132.8h0M370.9,134.8h0M370.0,136.8h0M370.0,140.6h0M369.9,158.0h0M371.3,159.6h0M371.4,164.1h0M370.0,166.3h0M370.3,170.4h0M371.5,172.3h0M370.1,174.7h0M371.0,176.4h0M370.2,178.4h0M372.4,120.2h0M372.4,124.2h0M373.8,126.2h0M372.1,128.2h0M373.8,130.6h0M372.4,132.5h0M373.9,134.4h0M372.4,137.0h0M373.7,138.5h0M372.7,141.1h0M372.4,157.6h0M372.2,162.0h0M373.5,164.0h0M372.4,166.4h0M373.4,168.4h0M372.6,170.4h0M373.7,172.1h0M372.2,174.5h0M372.7,178.9h0M374.6,120.2h0M374.9,123.9h0M374.4,128.0h0M376.0,130.5h0M374.6,132.8h0M375.6,134.7h0M374.7,136.5h0M376.0,139.0h0M374.5,141.2h0M376.1,159.6h0M374.9,161.9h0M375.7,168.0h0M375.7,172.5h0M374.9,174.5h0M375.7,176.3h0M377.3,119.9h0M377.9,130.6h0M377.0,132.3h0M378.4,134.8h0M377.8,159.7h0M377.3,162.1h0M377.2,166.2h0M378.1,168.3h0M377.0,178.8h0M379.4,119.7h0M379.2,123.9h0M380.8,126.5h0M379.1,128.4h0M380.7,130.1h0M379.2,132.5h0M379.0,137.0h0M380.8,138.7h0M379.4,140.9h0M379.4,158.0h0M380.4,159.5h0M379.4,161.9h0M380.6,164.0h0M379.4,166.4h0M380.7,168.0h0M380.8,172.4h0M379.2,174.8h0M380.2,176.8h0M383.0,118.1h0M381.5,119.8h0M383.0,122.0h0M381.7,123.8h0M382.5,126.2h0M382.7,130.3h0M381.5,132.7h0M382.5,134.8h0M381.5,137.0h0M383.0,139.1h0M381.8,140.8h0M381.9,158.0h0M382.6,159.8h0M382.5,163.9h0M382.5,168.2h0M382.8,172.2h0M382.8,176.5h0M381.6,178.4h0M382.8,180.9h0M384.7,117.9h0M383.7,119.6h0M385.1,122.0h0M383.7,124.2h0M385.2,126.1h0M384.1,128.1h0M385.0,130.4h0M384.2,132.3h0M385.2,134.4h0M383.8,136.5h0M384.8,138.9h0M384.0,141.2h0M383.9,157.9h0M384.8,159.9h0M384.0,161.8h0M384.9,163.7h0M385.2,168.2h0M383.9,170.0h0M385.2,172.5h0M384.1,174.7h0M385.4,176.7h0M384.0,178.5h0M387.4,117.7h0M386.4,119.6h0M387.0,122.0h0M385.9,124.1h0M387.1,126.4h0M386.5,128.4h0M387.1,130.6h0M386.4,132.5h0M387.1,134.5h0M386.4,136.8h0M387.4,138.6h0M386.0,140.7h0M386.2,157.5h0M387.3,159.7h0M386.0,161.8h0M387.5,164.2h0M386.5,166.1h0M387.0,168.4h0M386.0,170.3h0M387.4,172.3h0M386.1,174.2h0M387.7,176.3h0M385.9,178.6h0M387.2,180.5h0M389.6,117.9h0M388.2,119.9h0M389.6,122.3h0M388.8,123.8h0M389.7,126.1h0M388.2,128.3h0M390.0,130.6h0M388.2,132.2h0M389.9,134.9h0M388.4,136.7h0M389.9,138.5h0M388.6,140.7h0M388.4,157.6h0M389.9,159.7h0M388.2,161.6h0M389.7,164.0h0M388.8,166.0h0M389.8,168.5h0M388.8,170.1h0M389.9,172.3h0M388.8,174.7h0M389.9,176.9h0M388.2,178.5h0M389.6,180.5h0M391.6,117.7h0M390.5,120.1h0M392.1,122.2h0M391.0,124.1h0M392.1,126.2h0M390.6,128.3h0M392.1,130.6h0M391.0,132.4h0M392.2,134.4h0M390.8,136.8h0M392.1,138.6h0M391.1,141.2h0M390.7,157.6h0M392.0,159.9h0M390.5,162.1h0M391.8,164.1h0M391.1,166.2h0M391.8,168.2h0M390.6,170.2h0M392.0,172.6h0M390.7,174.2h0M391.7,176.6h0M390.6,179.0h0M391.8,180.6h0M394.4,118.1h0M393.2,119.8h0M394.1,121.9h0M393.0,124.0h0M394.1,126.0h0M392.8,128.1h0M394.4,130.3h0M393.3,132.5h0M394.1,134.5h0M392.8,137.0h0M394.5,138.9h0M392.9,141.2h0M394.2,142.8h0M392.9,158.0h0M394.4,159.9h0M393.4,161.6h0M394.1,164.1h0M393.2,166.3h0M394.3,168.1h0M393.1,170.2h0M394.1,172.4h0M393.0,174.6h0M394.5,176.5h0M393.1,179.0h0M394.6,180.5h0M396.6,118.0h0M395.5,120.1h0M396.7,122.1h0M395.2,124.3h0M396.7,126.1h0M395.2,128.4h0M396.8,130.1h0M395.4,132.4h0M396.5,134.5h0M395.2,137.0h0M396.6,138.9h0M395.7,140.8h0M396.2,142.8h0M395.4,157.5h0M396.3,160.0h0M395.5,162.0h0M396.3,164.0h0M395.2,165.9h0M396.8,168.2h0M395.4,170.0h0M396.6,172.5h0M395.7,174.8h0M396.5,176.8h0M395.6,178.5h0M396.2,181.0h0M399.0,117.7h0M397.9,120.1h0M398.6,122.2h0M397.9,124.3h0M398.9,126.2h0M398.8,130.3h0M397.8,132.4h0M399.0,134.8h0M397.8,136.6h0M398.9,139.0h0M397.5,140.6h0M397.6,158.0h0M399.0,159.8h0M397.4,161.8h0M398.6,164.1h0M398.0,165.9h0M399.2,167.9h0M397.6,170.6h0M399.1,172.1h0M397.6,174.2h0M399.0,176.7h0M397.6,178.7h0M399.1,181.1h0M400.2,119.8h0M401.2,122.1h0M400.2,124.0h0M401.1,126.4h0M400.2,128.4h0M401.0,130.3h0M400.3,132.8h0M399.7,136.8h0M401.3,138.9h0M399.9,140.8h0M400.9,142.9h0M400.0,157.8h0M400.9,159.9h0M400.2,161.8h0M400.9,167.9h0M399.9,170.2h0M400.1,174.7h0M399.9,178.4h0M401.0,181.0h0M402.0,120.1h0M402.1,124.4h0M403.8,126.2h0M402.4,128.3h0M402.4,132.6h0M403.8,134.8h0M402.4,136.9h0M403.2,139.1h0M402.1,140.9h0M402.2,157.5h0M402.4,161.7h0M403.2,164.0h0M402.2,166.4h0M402.0,170.6h0M403.3,172.1h0M403.2,176.6h0M402.0,178.8h0M403.7,181.1h0M405.7,118.0h0M404.3,119.8h0M405.7,121.9h0M404.4,128.6h0M405.6,130.6h0M404.9,132.8h0M405.8,134.9h0M404.6,136.8h0M404.3,140.7h0M404.9,157.6h0M405.8,159.8h0M404.5,161.7h0M405.7,164.2h0M404.4,165.9h0M405.6,168.2h0M404.8,174.8h0M405.6,176.7h0M405.9,181.0h0M407.7,118.1h0M406.9,120.0h0M408.3,121.9h0M406.6,124.4h0M407.8,134.4h0M407.0,136.6h0M408.0,139.0h0M407.0,140.7h0M407.9,142.9h0M407.1,157.6h0M407.7,160.1h0M407.2,161.7h0M407.0,166.3h0M408.2,168.2h0M406.7,170.5h0M407.9,172.3h0M406.7,174.3h0M406.8,178.6h0M410.4,117.7h0M409.2,120.2h0M410.1,121.7h0M409.2,124.2h0M410.5,125.9h0M409.1,128.0h0M410.5,130.1h0M409.0,132.7h0M410.1,134.6h0M409.0,136.8h0M409.1,141.2h0M410.6,159.7h0M409.3,161.6h0M410.2,164.0h0M410.1,168.3h0M409.5,170.6h0M410.6,172.6h0M409.4,174.8h0M410.5,176.4h0M409.1,178.8h0M410.6,181.0h0M412.5,117.8h0M412.8,121.9h0M411.6,124.4h0M412.8,126.4h0M411.6,128.6h0M412.9,130.2h0M411.4,132.7h0M412.6,134.7h0M411.8,136.7h0M412.7,138.5h0M411.5,140.9h0M412.5,142.9h0M412.9,155.7h0M411.5,157.7h0M411.6,162.1h0M412.8,164.2h0M411.3,166.1h0M412.6,168.1h0M412.4,172.5h0M411.5,174.4h0M412.4,176.9h0M412.6,181.1h0M414.8,117.5h0M413.6,119.9h0M414.8,121.8h0M414.1,123.8h0M414.7,126.0h0M413.9,128.2h0M414.7,130.6h0M414.1,132.6h0M415.2,134.7h0M413.9,136.6h0M415.3,138.9h0M413.7,140.6h0M414.6,142.8h0M414.6,155.8h0M414.0,157.6h0M413.8,162.2h0M414.8,163.9h0M415.0,168.2h0M414.1,170.2h0M414.9,172.5h0M414.1,174.6h0M415.2,176.8h0M414.1,179.0h0M414.7,181.1h0M417.6,117.8h0M416.2,119.7h0M417.0,122.3h0M415.9,124.4h0M417.4,126.4h0M416.1,128.2h0M417.3,130.1h0M416.4,132.8h0M417.1,134.9h0M417.6,138.8h0M416.4,140.8h0M417.3,142.8h0M416.0,157.4h0M417.0,159.9h0M416.2,162.0h0M417.2,164.0h0M417.5,167.9h0M416.0,170.3h0M417.1,172.5h0M416.0,174.2h0M417.0,176.8h0M419.6,117.5h0M418.4,119.7h0M419.4,121.8h0M419.6,126.2h0M418.2,128.5h0M419.6,130.6h0M418.5,132.2h0M418.4,136.7h0M418.6,140.6h0M419.5,143.2h0M419.8,155.8h0M418.7,157.8h0M419.4,159.9h0M418.5,161.7h0M419.8,163.9h0M418.7,166.4h0M419.6,168.2h0M418.4,170.4h0M419.4,172.6h0M418.3,174.3h0M419.8,176.8h0M419.8,180.6h0M421.9,117.7h0M420.7,120.0h0M422.0,121.8h0M420.5,123.8h0M421.9,126.1h0M422.2,138.9h0M421.0,140.7h0M421.8,142.8h0M421.7,155.8h0M421.8,159.8h0M422.0,168.2h0M420.7,170.0h0M421.8,172.2h0M420.9,174.7h0M421.9,176.9h0M421.7,180.6h0M424.4,117.8h0M423.2,119.7h0M424.2,122.2h0M423.1,123.9h0M424.2,126.2h0M423.0,128.6h0M424.1,130.2h0M422.7,132.8h0M424.4,134.4h0M423.9,139.0h0M422.9,141.1h0M424.4,143.2h0M424.4,155.6h0M423.0,157.6h0M424.1,159.5h0M423.1,162.0h0M423.9,164.1h0M423.1,166.0h0M424.0,168.2h0M422.8,170.2h0M424.3,172.3h0M424.2,176.3h0M422.7,178.6h0M426.2,117.9h0M426.2,122.2h0M425.6,124.0h0M426.5,126.0h0M426.1,130.6h0M425.5,132.3h0M426.4,134.7h0M425.5,136.4h0M425.2,141.0h0M426.7,142.8h0M425.0,157.6h0M426.2,159.7h0M425.2,161.7h0M426.7,164.2h0M426.7,172.7h0M425.0,174.4h0M425.2,178.6h0M426.7,180.8h0" fill="none" stroke="#fff" stroke-opacity="0.92" stroke-width="1.0" stroke-linecap="round"/>
<path d="M205.58,127.87 L206.98,128.40 L208.38,128.92 L209.77,129.44 L211.17,129.94 L212.57,130.42 L213.97,130.87 L215.37,131.29 L216.76,131.68 L218.16,132.02 L219.56,132.31 L220.96,132.55 L222.36,132.76 L223.76,132.97 L225.15,133.17 L226.55,133.35 L227.95,133.52 L229.35,133.69 L230.75,133.84 L232.14,133.99 L233.54,134.13 L234.94,134.27 L236.34,134.40 L237.74,134.52 L239.13,134.64 L240.53,134.76 L241.93,134.88 L243.33,134.99 L244.73,135.10 L246.13,135.22 L247.52,135.33 L248.92,135.44 L250.32,135.56 L251.72,135.68 L253.12,135.79 L254.51,135.90 L255.91,136.01 L257.31,136.12 L258.71,136.22 L260.11,136.32 L261.50,136.42 L262.90,136.52 L264.30,136.62 L265.70,136.71 L267.10,136.81 L268.50,136.90 L269.89,137.00 L271.29,137.09 L272.69,137.18 L274.09,137.27 L275.49,137.37 L276.88,137.46 L278.28,137.55 L279.68,137.64 L281.08,137.74 L282.48,137.83 L283.87,137.92 L285.27,138.02 L286.67,138.11 L288.07,138.20 L289.47,138.30 L290.86,138.39 L292.26,138.48 L293.66,138.57 L295.06,138.66 L296.46,138.75 L297.86,138.84 L299.25,138.92 L300.65,139.01 L302.05,139.10 L303.45,139.18 L304.85,139.27 L306.24,139.35 L307.64,139.43 L309.04,139.51 L310.44,139.59 L311.84,139.66 L313.23,139.74 L314.63,139.81 L316.03,139.89 L317.43,139.96 L318.83,140.03 L320.23,140.10 L321.62,140.17 L323.02,140.24 L324.42,140.31 L325.82,140.38 L327.22,140.45 L328.61,140.52 L330.01,140.58 L331.41,140.65 L332.81,140.72 L334.21,140.79 L335.60,140.86 L337.00,140.93 L338.40,141.00 L339.80,141.07 L341.20,141.14 L342.60,141.21 L343.99,141.29 L345.39,141.36 L346.79,141.43 L348.19,141.50 L349.59,141.58 L350.98,141.65 L352.38,141.72 L353.78,141.80 L355.18,141.87 L356.58,141.94 L357.97,142.01 L359.37,142.08 L360.77,142.15 L362.17,142.22 L363.57,142.29 L364.96,142.36 L366.36,142.43 L367.76,142.49 L369.16,142.56 L370.56,142.62 L371.96,142.69 L373.35,142.75 L374.75,142.82 L376.15,142.88 L377.55,142.95 L378.95,143.01 L380.34,143.07 L381.74,143.14 L383.14,143.20 L384.54,143.26 L385.94,143.32 L387.33,143.38 L388.73,143.44 L390.13,143.50 L391.53,143.55 L392.93,143.61 L394.33,143.67 L395.72,143.72 L397.12,143.77 L398.52,143.82 L399.92,143.87 L401.32,143.92 L402.71,143.97 L404.11,144.01 L405.51,144.06 L406.91,144.11 L408.31,144.15 L409.70,144.20 L411.10,144.24 L412.50,144.29 L413.90,144.33 L415.30,144.37 L416.70,144.41 L418.09,144.45 L419.49,144.49 L420.89,144.53 L422.29,144.57 L423.69,144.61 L425.08,144.64 L426.48,144.68 L427.88,144.71 L427.88,154.19 L426.48,154.24 L425.08,154.30 L423.69,154.35 L422.29,154.41 L420.89,154.46 L419.49,154.51 L418.09,154.57 L416.70,154.62 L415.30,154.68 L413.90,154.73 L412.50,154.78 L411.10,154.84 L409.70,154.89 L408.31,154.94 L406.91,154.99 L405.51,155.05 L404.11,155.10 L402.71,155.15 L401.32,155.20 L399.92,155.25 L398.52,155.31 L397.12,155.36 L395.72,155.41 L394.33,155.46 L392.93,155.50 L391.53,155.55 L390.13,155.60 L388.73,155.65 L387.33,155.69 L385.94,155.74 L384.54,155.79 L383.14,155.83 L381.74,155.88 L380.34,155.93 L378.95,155.98 L377.55,156.03 L376.15,156.08 L374.75,156.13 L373.35,156.18 L371.96,156.23 L370.56,156.29 L369.16,156.35 L367.76,156.40 L366.36,156.47 L364.96,156.53 L363.57,156.60 L362.17,156.67 L360.77,156.74 L359.37,156.81 L357.97,156.88 L356.58,156.96 L355.18,157.03 L353.78,157.11 L352.38,157.18 L350.98,157.26 L349.59,157.34 L348.19,157.41 L346.79,157.49 L345.39,157.56 L343.99,157.63 L342.60,157.70 L341.20,157.77 L339.80,157.83 L338.40,157.90 L337.00,157.96 L335.60,158.02 L334.21,158.08 L332.81,158.14 L331.41,158.19 L330.01,158.25 L328.61,158.30 L327.22,158.36 L325.82,158.41 L324.42,158.46 L323.02,158.52 L321.62,158.57 L320.23,158.63 L318.83,158.68 L317.43,158.73 L316.03,158.79 L314.63,158.85 L313.23,158.91 L311.84,158.97 L310.44,159.03 L309.04,159.09 L307.64,159.15 L306.24,159.21 L304.85,159.28 L303.45,159.34 L302.05,159.40 L300.65,159.47 L299.25,159.53 L297.86,159.60 L296.46,159.67 L295.06,159.73 L293.66,159.80 L292.26,159.87 L290.86,159.94 L289.47,160.02 L288.07,160.09 L286.67,160.17 L285.27,160.25 L283.87,160.33 L282.48,160.41 L281.08,160.49 L279.68,160.58 L278.28,160.67 L276.88,160.77 L275.49,160.87 L274.09,160.97 L272.69,161.08 L271.29,161.19 L269.89,161.31 L268.50,161.43 L267.10,161.55 L265.70,161.67 L264.30,161.79 L262.90,161.92 L261.50,162.05 L260.11,162.17 L258.71,162.30 L257.31,162.43 L255.91,162.55 L254.51,162.68 L253.12,162.80 L251.72,162.92 L250.32,163.04 L248.92,163.15 L247.52,163.27 L246.13,163.38 L244.73,163.48 L243.33,163.59 L241.93,163.69 L240.53,163.80 L239.13,163.90 L237.74,164.01 L236.34,164.11 L234.94,164.22 L233.54,164.32 L232.14,164.44 L230.75,164.55 L229.35,164.67 L227.95,164.79 L226.55,164.92 L225.15,165.05 L223.76,165.19 L222.36,165.33 L220.96,165.48 L219.56,165.65 L218.16,165.88 L216.76,166.15 L215.37,166.43 L213.97,166.71 L212.57,166.97 L211.17,167.17 L209.77,167.31 L208.38,167.34 L206.98,166.90 L205.58,166.14Z" fill="#7E2F8E" fill-opacity="0.92"/>
<path d="M205.6,136.7 L205.7,146.7 L205.8,156.9 L205.9,164.2 L205.9,166.3 L206.0,162.7 L206.1,154.4 L206.2,144.0 L206.3,134.6 L206.4,129.0 L206.5,128.9 L206.6,134.4 L206.7,143.8 L206.8,154.4 L206.9,162.9 L207.0,166.8 L207.1,165.0 L207.1,157.9 L207.2,147.8 L207.3,137.7 L207.4,130.6 L207.5,128.7 L207.6,132.5 L207.7,141.0 L207.8,151.5 L207.9,161.0 L208.0,166.6 L208.1,166.5 L208.2,161.0 L208.2,151.5 L208.3,141.1 L208.4,132.8 L208.5,129.0 L208.6,131.1 L208.7,138.2 L208.8,148.4 L208.9,158.4 L209.0,165.4 L209.1,167.2 L209.2,163.4 L209.3,154.9 L209.3,144.6 L209.4,135.3 L209.5,130.0 L209.6,130.2 L209.7,135.8 L209.8,145.2 L209.9,155.5 L210.0,163.7 L210.1,167.2 L210.2,165.1 L210.3,158.0 L210.4,148.1 L210.4,138.2 L210.5,131.5 L210.6,129.9 L210.7,133.8 L210.8,142.2 L210.9,152.4 L211.0,161.5 L211.1,166.6 L211.2,166.3 L211.3,160.7 L211.4,151.5 L211.5,141.4 L211.6,133.5 L211.6,130.1 L211.7,132.3 L211.8,139.4 L211.9,149.2 L212.0,158.9 L212.1,165.4 L212.2,166.9 L212.3,162.9 L212.4,154.7 L212.5,144.6 L212.6,135.9 L212.7,131.0 L212.7,131.4 L212.8,137.0 L212.9,146.1 L213.0,156.0 L213.1,163.7 L213.2,166.8 L213.3,164.6 L213.4,157.6 L213.5,147.9 L213.6,138.6 L213.7,132.3 L213.8,131.0 L213.8,135.0 L213.9,143.1 L214.0,153.0 L214.1,161.5 L214.2,166.2 L214.3,165.7 L214.4,160.1 L214.5,151.1 L214.6,141.5 L214.7,134.1 L214.8,131.1 L214.9,133.5 L215.0,140.4 L215.0,149.9 L215.1,159.0 L215.2,165.1 L215.3,166.2 L215.4,162.2 L215.5,154.2 L215.6,144.6 L215.7,136.3 L215.8,131.8 L215.9,132.4 L216.0,138.0 L216.1,146.8 L216.1,156.2 L216.2,163.4 L216.3,166.2 L216.4,163.8 L216.5,157.0 L216.6,147.7 L216.7,138.8 L216.8,133.0 L216.9,131.9 L217.0,136.0 L217.1,143.9 L217.2,153.3 L217.2,161.4 L217.3,165.7 L217.4,165.0 L217.5,159.4 L217.6,150.8 L217.7,141.6 L217.8,134.6 L217.9,132.0 L218.0,134.4 L218.1,141.2 L218.2,150.3 L218.3,159.0 L218.4,164.7 L218.4,165.6 L218.5,161.5 L218.6,153.7 L218.7,144.4 L218.8,136.6 L218.9,132.5 L219.0,133.3 L219.1,138.8 L219.2,147.4 L219.3,156.4 L219.4,163.2 L219.5,165.7 L219.5,163.1 L219.6,156.4 L219.7,147.4 L219.8,138.9 L219.9,133.5 L220.0,132.7 L220.1,136.8 L220.2,144.6 L220.3,153.6 L220.4,161.3 L220.5,165.3 L220.6,164.4 L220.6,158.8 L220.7,150.4 L220.8,141.5 L220.9,134.9 L221.0,132.6 L221.1,135.1 L221.2,141.9 L221.3,150.8 L221.4,159.1 L221.5,164.4 L221.6,165.1 L221.7,160.9 L221.8,153.2 L221.8,144.3 L221.9,136.8 L222.0,132.9 L222.1,134.0 L222.2,139.5 L222.3,147.9 L222.4,156.6 L222.5,163.1 L222.6,165.3 L222.7,162.6 L222.8,155.9 L222.9,147.1 L222.9,138.9 L223.0,133.8 L223.1,133.2 L223.2,137.4 L223.3,145.1 L223.4,154.0 L223.5,161.3 L223.6,165.0 L223.7,163.9 L223.8,158.3 L223.9,150.0 L224.0,141.4 L224.0,135.1 L224.1,133.0 L224.2,135.8 L224.3,142.5 L224.4,151.2 L224.5,159.2 L224.6,164.2 L224.7,164.7 L224.8,160.5 L224.9,152.8 L225.0,144.1 L225.1,136.9 L225.2,133.3 L225.2,134.5 L225.3,140.1 L225.4,148.4 L225.5,156.9 L225.6,163.0 L225.7,165.0 L225.8,162.2 L225.9,155.5 L226.0,146.9 L226.1,138.9 L226.2,134.1 L226.3,133.8 L226.3,138.0 L226.4,145.6 L226.5,154.3 L226.6,161.4 L226.7,164.8 L226.8,163.5 L226.9,157.9 L227.0,149.7 L227.1,141.3 L227.2,135.3 L227.3,133.5 L227.4,136.3 L227.4,143.1 L227.5,151.6 L227.6,159.4 L227.7,164.1 L227.8,164.3 L227.9,160.0 L228.0,152.4 L228.1,143.9 L228.2,136.9 L228.3,133.7 L228.4,135.1 L228.5,140.7 L228.6,148.8 L228.6,157.1 L228.7,163.0 L228.8,164.7 L228.9,161.7 L229.0,155.0 L229.1,146.6 L229.2,138.9 L229.3,134.3 L229.4,134.2 L229.5,138.6 L229.6,146.1 L229.7,154.6 L229.7,161.4 L229.8,164.5 L229.9,163.1 L230.0,157.4 L230.1,149.3 L230.2,141.2 L230.3,135.5 L230.4,133.9 L230.5,136.9 L230.6,143.6 L230.7,152.0 L230.8,159.5 L230.8,163.9 L230.9,164.0 L231.0,159.5 L231.1,152.0 L231.2,143.7 L231.3,137.0 L231.4,134.0 L231.5,135.5 L231.6,141.2 L231.7,149.3 L231.8,157.3 L231.9,162.9 L232.0,164.4 L232.0,161.3 L232.1,154.6 L232.2,146.3 L232.3,138.9 L232.4,134.6 L232.5,134.7 L232.6,139.1 L232.7,146.6 L232.8,154.9 L232.9,161.4 L233.0,164.3 L233.1,162.7 L233.1,157.0 L233.2,149.0 L233.3,141.1 L233.4,135.6 L233.5,134.2 L233.6,137.4 L233.7,144.1 L233.8,152.3 L233.9,159.6 L234.0,163.8 L234.1,163.6 L234.2,159.1 L234.2,151.6 L234.3,143.5 L234.4,137.0 L234.5,134.3 L234.6,136.0 L234.7,141.7 L234.8,149.7 L234.9,157.5 L235.0,162.8 L235.1,164.1 L235.2,160.9 L235.3,154.2 L235.4,146.0 L235.4,138.8 L235.5,134.8 L235.6,135.1 L235.7,139.6 L235.8,147.0 L235.9,155.1 L236.0,161.5 L236.1,164.1 L236.2,162.3 L236.3,156.6 L236.4,148.7 L236.5,140.9 L236.5,135.7 L236.6,134.6 L236.7,137.8 L236.8,144.5 L236.9,152.6 L237.0,159.7 L237.1,163.7 L237.2,163.3 L237.3,158.7 L237.4,151.3 L237.5,143.3 L237.6,137.1 L237.6,134.5 L237.7,136.4 L237.8,142.2 L237.9,150.0 L238.0,157.7 L238.1,162.8 L238.2,163.8 L238.3,160.5 L238.4,153.8 L238.5,145.8 L238.6,138.8 L238.7,135.0 L238.8,135.4 L238.8,140.1 L238.9,147.5 L239.0,155.4 L239.1,161.5 L239.2,163.9 L239.3,161.9 L239.4,156.2 L239.5,148.3 L239.6,140.8 L239.7,135.8 L239.8,134.9 L239.9,138.3 L239.9,145.0 L240.0,152.9 L240.1,159.8 L240.2,163.5 L240.3,162.9 L240.4,158.3 L240.5,150.9 L240.6,143.1 L240.7,137.1 L240.8,134.8 L240.9,136.8 L241.0,142.6 L241.0,150.4 L241.1,157.8 L241.2,162.7 L241.3,163.5 L241.4,160.1 L241.5,153.4 L241.6,145.5 L241.7,138.7 L241.8,135.1 L241.9,135.8 L242.0,140.5 L242.1,147.9 L242.1,155.6 L242.2,161.5 L242.3,163.7 L242.4,161.5 L242.5,155.7 L242.6,148.0 L242.7,140.7 L242.8,135.9 L242.9,135.2 L243.0,138.7 L243.1,145.4 L243.2,153.2 L243.3,159.9 L243.3,163.4 L243.4,162.6 L243.5,157.9 L243.6,150.5 L243.7,142.9 L243.8,137.1 L243.9,135.0 L244.0,137.2 L244.1,143.1 L244.2,150.7 L244.3,158.0 L244.4,162.6 L244.4,163.2 L244.5,159.7 L244.6,153.0 L244.7,145.2 L244.8,138.7 L244.9,135.3 L245.0,136.2 L245.1,140.9 L245.2,148.2 L245.3,155.8 L245.4,161.5 L245.5,163.4 L245.5,161.2 L245.6,155.3 L245.7,147.7 L245.8,140.5 L245.9,136.0 L246.0,135.5 L246.1,139.1 L246.2,145.8 L246.3,153.5 L246.4,159.9 L246.5,163.2 L246.6,162.2 L246.7,157.4 L246.7,150.2 L246.8,142.7 L246.9,137.2 L247.0,135.3 L247.1,137.6 L247.2,143.5 L247.3,151.1 L247.4,158.1 L247.5,162.5 L247.6,162.9 L247.7,159.3 L247.8,152.6 L247.8,145.0 L247.9,138.6 L248.0,135.5 L248.1,136.5 L248.2,141.4 L248.3,148.6 L248.4,156.0 L248.5,161.4 L248.6,163.2 L248.7,160.8 L248.8,154.9 L248.9,147.4 L248.9,140.4 L249.0,136.2 L249.1,135.8 L249.2,139.5 L249.3,146.2 L249.4,153.7 L249.5,160.0 L249.6,163.0 L249.7,161.9 L249.8,157.0 L249.9,149.8 L250.0,142.5 L250.1,137.2 L250.1,135.6 L250.2,138.0 L250.3,143.9 L250.4,151.4 L250.5,158.2 L250.6,162.4 L250.7,162.6 L250.8,158.8 L250.9,152.2 L251.0,144.7 L251.1,138.6 L251.2,135.7 L251.2,136.9 L251.3,141.8 L251.4,148.9 L251.5,156.2 L251.6,161.3 L251.7,162.9 L251.8,160.4 L251.9,154.5 L252.0,147.1 L252.1,140.4 L252.2,136.3 L252.3,136.2 L252.3,140.0 L252.4,146.6 L252.5,154.0 L252.6,160.0 L252.7,162.8 L252.8,161.5 L252.9,156.6 L253.0,149.5 L253.1,142.3 L253.2,137.3 L253.3,135.8 L253.4,138.4 L253.5,144.3 L253.5,151.6 L253.6,158.3 L253.7,162.2 L253.8,162.3 L253.9,158.4 L254.0,151.8 L254.1,144.5 L254.2,138.6 L254.3,135.9 L254.4,137.3 L254.5,142.2 L254.6,149.3 L254.6,156.3 L254.7,161.3 L254.8,162.6 L254.9,159.9 L255.0,154.1 L255.1,146.8 L255.2,140.3 L255.3,136.5 L255.4,136.5 L255.5,140.4 L255.6,146.9 L255.7,154.2 L255.7,159.9 L255.8,162.5 L255.9,161.1 L256.0,156.2 L256.1,149.1 L256.2,142.2 L256.3,137.4 L256.4,136.1 L256.5,138.8 L256.6,144.7 L256.7,151.9 L256.8,158.3 L256.9,162.0 L256.9,161.9 L257.0,158.0 L257.1,151.5 L257.2,144.3 L257.3,138.6 L257.4,136.2 L257.5,137.6 L257.6,142.6 L257.7,149.6 L257.8,156.4 L257.9,161.1 L258.0,162.3 L258.0,159.5 L258.1,153.7 L258.2,146.5 L258.3,140.2 L258.4,136.6 L258.5,136.8 L258.6,140.8 L258.7,147.3 L258.8,154.3 L258.9,159.9 L259.0,162.3 L259.1,160.7 L259.1,155.7 L259.2,148.8 L259.3,142.0 L259.4,137.4 L259.5,136.4 L259.6,139.2 L259.7,145.0 L259.8,152.1 L259.9,158.3 L260.0,161.8 L260.1,161.5 L260.2,157.5 L260.3,151.1 L260.3,144.1 L260.4,138.6 L260.5,136.4 L260.6,138.0 L260.7,143.0 L260.8,149.8 L260.9,156.5 L261.0,161.0 L261.1,162.0 L261.2,159.1 L261.3,153.3 L261.4,146.2 L261.4,140.1 L261.5,136.7 L261.6,137.1 L261.7,141.1 L261.8,147.6 L261.9,154.5 L262.0,159.8 L262.1,162.0 L262.2,160.3 L262.3,155.3 L262.4,148.5 L262.5,141.9 L262.5,137.5 L262.6,136.7 L262.7,139.6 L262.8,145.4 L262.9,152.3 L263.0,158.4 L263.1,161.6 L263.2,161.2 L263.3,157.1 L263.4,150.7 L263.5,143.9 L263.6,138.6 L263.7,136.6 L263.7,138.3 L263.8,143.3 L263.9,150.1 L264.0,156.6 L264.1,160.9 L264.2,161.6 L264.3,158.7 L264.4,152.9 L264.5,146.0 L264.6,140.0 L264.7,136.9 L264.8,137.4 L264.8,141.5 L264.9,147.9 L265.0,154.6 L265.1,159.8 L265.2,161.7 L265.3,159.9 L265.4,154.9 L265.5,148.1 L265.6,141.7 L265.7,137.6 L265.8,136.9 L265.9,139.9 L265.9,145.7 L266.0,152.5 L266.1,158.4 L266.2,161.4 L266.3,160.8 L266.4,156.7 L266.5,150.3 L266.6,143.6 L266.7,138.6 L266.8,136.8 L266.9,138.7 L267.0,143.7 L267.1,150.4 L267.1,156.7 L267.2,160.7 L267.3,161.3 L267.4,158.2 L267.5,152.5 L267.6,145.7 L267.7,140.0 L267.8,137.0 L267.9,137.7 L268.0,141.9 L268.1,148.2 L268.2,154.8 L268.2,159.7 L268.3,161.4 L268.4,159.5 L268.5,154.5 L268.6,147.8 L268.7,141.6 L268.8,137.7 L268.9,137.2 L269.0,140.3 L269.1,146.0 L269.2,152.7 L269.3,158.3 L269.3,161.2 L269.4,160.4 L269.5,156.3 L269.6,150.0 L269.7,143.5 L269.8,138.7 L269.9,137.0 L270.0,139.0 L270.1,144.0 L270.2,150.6 L270.3,156.7 L270.4,160.6 L270.5,161.0 L270.5,157.8 L270.6,152.1 L270.7,145.5 L270.8,139.9 L270.9,137.2 L271.0,138.0 L271.1,142.2 L271.2,148.5 L271.3,154.9 L271.4,159.6 L271.5,161.2 L271.6,159.1 L271.6,154.1 L271.7,147.5 L271.8,141.5 L271.9,137.8 L272.0,137.4 L272.1,140.6 L272.2,146.4 L272.3,152.9 L272.4,158.3 L272.5,161.0 L272.6,160.1 L272.7,155.9 L272.7,149.7 L272.8,143.3 L272.9,138.7 L273.0,137.2 L273.1,139.3 L273.2,144.4 L273.3,150.8 L273.4,156.8 L273.5,160.4 L273.6,160.7 L273.7,157.4 L273.8,151.7 L273.8,145.2 L273.9,139.9 L274.0,137.4 L274.1,138.3 L274.2,142.6 L274.3,148.7 L274.4,155.0 L274.5,159.5 L274.6,160.9 L274.7,158.7 L274.8,153.7 L274.9,147.3 L275.0,141.4 L275.0,137.9 L275.1,137.7 L275.2,141.0 L275.3,146.7 L275.4,153.1 L275.5,158.3 L275.6,160.8 L275.7,159.7 L275.8,155.5 L275.9,149.3 L276.0,143.1 L276.1,138.7 L276.1,137.4 L276.2,139.7 L276.3,144.7 L276.4,151.1 L276.5,156.9 L276.6,160.3 L276.7,160.4 L276.8,157.1 L276.9,151.4 L277.0,145.0 L277.1,139.9 L277.2,137.5 L277.2,138.7 L277.3,142.9 L277.4,149.0 L277.5,155.2 L277.6,159.5 L277.7,160.7 L277.8,158.4 L277.9,153.3 L278.0,147.0 L278.1,141.3 L278.2,138.0 L278.3,138.0 L278.4,141.3 L278.4,147.0 L278.5,153.3 L278.6,158.3 L278.7,160.6 L278.8,159.4 L278.9,155.1 L279.0,149.1 L279.1,143.0 L279.2,138.8 L279.3,137.7 L279.4,140.0 L279.5,145.1 L279.5,151.3 L279.6,156.9 L279.7,160.2 L279.8,160.1 L279.9,156.7 L280.0,151.1 L280.1,144.8 L280.2,139.9 L280.3,137.7 L280.4,139.0 L280.5,143.3 L280.6,149.3 L280.6,155.3 L280.7,159.4 L280.8,160.4 L280.9,158.1 L281.0,153.0 L281.1,146.8 L281.2,141.3 L281.3,138.1 L281.4,138.3 L281.5,141.7 L281.6,147.3 L281.7,153.5 L281.8,158.3 L281.8,160.4 L281.9,159.1 L282.0,154.8 L282.1,148.8 L282.2,142.9 L282.3,138.9 L282.4,137.9 L282.5,140.3 L282.6,145.4 L282.7,151.6 L282.8,157.0 L282.9,160.1 L282.9,159.8 L283.0,156.4 L283.1,150.8 L283.2,144.7 L283.3,139.9 L283.4,137.9 L283.5,139.3 L283.6,143.6 L283.7,149.6 L283.8,155.4 L283.9,159.4 L284.0,160.2 L284.0,157.7 L284.1,152.7 L284.2,146.6 L284.3,141.2 L284.4,138.3 L284.5,138.6 L284.6,142.0 L284.7,147.6 L284.8,153.7 L284.9,158.4 L285.0,160.3 L285.1,158.8 L285.2,154.5 L285.2,148.5 L285.3,142.8 L285.4,138.9 L285.5,138.2 L285.6,140.7 L285.7,145.7 L285.8,151.8 L285.9,157.1 L286.0,159.9 L286.1,159.6 L286.2,156.1 L286.3,150.5 L286.3,144.5 L286.4,139.9 L286.5,138.1 L286.6,139.6 L286.7,144.0 L286.8,149.9 L286.9,155.6 L287.0,159.3 L287.1,160.0 L287.2,157.4 L287.3,152.4 L287.4,146.4 L287.4,141.2 L287.5,138.4 L287.6,138.8 L287.7,142.4 L287.8,147.9 L287.9,153.9 L288.0,158.4 L288.1,160.1 L288.2,158.5 L288.3,154.2 L288.4,148.3 L288.5,142.7 L288.6,139.0 L288.6,138.4 L288.7,141.0 L288.8,146.1 L288.9,152.0 L289.0,157.1 L289.1,159.8 L289.2,159.3 L289.3,155.8 L289.4,150.2 L289.5,144.4 L289.6,140.0 L289.7,138.3 L289.7,139.9 L289.8,144.3 L289.9,150.1 L290.0,155.7 L290.1,159.3 L290.2,159.8 L290.3,157.1 L290.4,152.1 L290.5,146.2 L290.6,141.2 L290.7,138.5 L290.8,139.1 L290.8,142.7 L290.9,148.2 L291.0,154.0 L291.1,158.4 L291.2,159.9 L291.3,158.3 L291.4,153.9 L291.5,148.1 L291.6,142.6 L291.7,139.1 L291.8,138.7 L291.9,141.3 L292.0,146.4 L292.0,152.3 L292.1,157.2 L292.2,159.7 L292.3,159.1 L292.4,155.5 L292.5,150.0 L292.6,144.2 L292.7,140.0 L292.8,138.5 L292.9,140.2 L293.0,144.6 L293.1,150.4 L293.1,155.8 L293.2,159.2 L293.3,159.6 L293.4,156.9 L293.5,151.8 L293.6,146.0 L293.7,141.1 L293.8,138.7 L293.9,139.4 L294.0,143.1 L294.1,148.5 L294.2,154.2 L294.2,158.4 L294.3,159.8 L294.4,158.0 L294.5,153.6 L294.6,147.8 L294.7,142.5 L294.8,139.2 L294.9,138.9 L295.0,141.7 L295.1,146.7 L295.2,152.5 L295.3,157.3 L295.4,159.6 L295.4,158.8 L295.5,155.2 L295.6,149.7 L295.7,144.1 L295.8,140.0 L295.9,138.7 L296.0,140.6 L296.1,145.0 L296.2,150.7 L296.3,155.9 L296.4,159.1 L296.5,159.4 L296.5,156.6 L296.6,151.6 L296.7,145.8 L296.8,141.1 L296.9,138.9 L297.0,139.7 L297.1,143.4 L297.2,148.8 L297.3,154.4 L297.4,158.4 L297.5,159.6 L297.6,157.7 L297.6,153.3 L297.7,147.6 L297.8,142.5 L297.9,139.3 L298.0,139.2 L298.1,142.0 L298.2,147.0 L298.3,152.7 L298.4,157.3 L298.5,159.5 L298.6,158.6 L298.7,154.9 L298.8,149.5 L298.8,144.0 L298.9,140.1 L299.0,138.9 L299.1,140.9 L299.2,145.3 L299.3,150.9 L299.4,156.0 L299.5,159.1 L299.6,159.2 L299.7,156.3 L299.8,151.3 L299.9,145.7 L299.9,141.1 L300.0,139.0 L300.1,140.0 L300.2,143.7 L300.3,149.1 L300.4,154.5 L300.5,158.4 L300.6,159.4 L300.7,157.5 L300.8,153.0 L300.9,147.4 L301.0,142.4 L301.0,139.4 L301.1,139.4 L301.2,142.3 L301.3,147.3 L301.4,152.9 L301.5,157.4 L301.6,159.4 L301.7,158.4 L301.8,154.6 L301.9,149.3 L302.0,143.9 L302.1,140.2 L302.2,139.1 L302.2,141.2 L302.3,145.6 L302.4,151.2 L302.5,156.1 L302.6,159.0 L302.7,159.0 L302.8,156.0 L302.9,151.0 L303.0,145.5 L303.1,141.1 L303.2,139.2 L303.3,140.3 L303.3,144.0 L303.4,149.4 L303.5,154.7 L303.6,158.3 L303.7,159.3 L303.8,157.2 L303.9,152.8 L304.0,147.3 L304.1,142.4 L304.2,139.6 L304.3,139.7 L304.4,142.7 L304.4,147.6 L304.5,153.1 L304.6,157.4 L304.7,159.3 L304.8,158.1 L304.9,154.3 L305.0,149.0 L305.1,143.8 L305.2,140.2 L305.3,139.4 L305.4,141.5 L305.5,145.9 L305.5,151.4 L305.6,156.2 L305.7,158.9 L305.8,158.8 L305.9,155.7 L306.0,150.8 L306.1,145.4 L306.2,141.2 L306.3,139.4 L306.4,140.6 L306.5,144.4 L306.6,149.6 L306.7,154.8 L306.7,158.3 L306.8,159.1 L306.9,156.9 L307.0,152.5 L307.1,147.1 L307.2,142.3 L307.3,139.7 L307.4,139.9 L307.5,143.0 L307.6,147.9 L307.7,153.3 L307.8,157.4 L307.8,159.1 L307.9,157.9 L308.0,154.1 L308.1,148.8 L308.2,143.7 L308.3,140.3 L308.4,139.6 L308.5,141.8 L308.6,146.2 L308.7,151.6 L308.8,156.3 L308.9,158.9 L308.9,158.6 L309.0,155.5 L309.1,150.5 L309.2,145.2 L309.3,141.2 L309.4,139.5 L309.5,140.8 L309.6,144.7 L309.7,149.9 L309.8,154.9 L309.9,158.3 L310.0,158.9 L310.1,156.7 L310.1,152.2 L310.2,146.9 L310.3,142.3 L310.4,139.8 L310.5,140.2 L310.6,143.3 L310.7,148.2 L310.8,153.4 L310.9,157.4 L311.0,159.0 L311.1,157.7 L311.2,153.8 L311.2,148.6 L311.3,143.6 L311.4,140.4 L311.5,139.8 L311.6,142.1 L311.7,146.5 L311.8,151.8 L311.9,156.4 L312.0,158.8 L312.1,158.3 L312.2,155.2 L312.3,150.3 L312.3,145.1 L312.4,141.2 L312.5,139.7 L312.6,141.1 L312.7,145.0 L312.8,150.1 L312.9,155.1 L313.0,158.2 L313.1,158.8 L313.2,156.4 L313.3,152.0 L313.4,146.7 L313.5,142.3 L313.5,139.9 L313.6,140.4 L313.7,143.6 L313.8,148.5 L313.9,153.6 L314.0,157.5 L314.1,158.9 L314.2,157.4 L314.3,153.5 L314.4,148.4 L314.5,143.5 L314.6,140.4 L314.6,140.0 L314.7,142.4 L314.8,146.8 L314.9,152.0 L315.0,156.4 L315.1,158.7 L315.2,158.1 L315.3,155.0 L315.4,150.1 L315.5,145.0 L315.6,141.2 L315.7,139.9 L315.7,141.4 L315.8,145.3 L315.9,150.4 L316.0,155.2 L316.1,158.2 L316.2,158.6 L316.3,156.2 L316.4,151.7 L316.5,146.6 L316.6,142.2 L316.7,140.0 L316.8,140.6 L316.9,143.9 L316.9,148.7 L317.0,153.8 L317.1,157.5 L317.2,158.7 L317.3,157.2 L317.4,153.3 L317.5,148.2 L317.6,143.5 L317.7,140.5 L317.8,140.2 L317.9,142.6 L318.0,147.1 L318.0,152.2 L318.1,156.5 L318.2,158.6 L318.3,157.9 L318.4,154.7 L318.5,149.9 L318.6,144.9 L318.7,141.2 L318.8,140.0 L318.9,141.6 L319.0,145.6 L319.1,150.6 L319.1,155.3 L319.2,158.2 L319.3,158.4 L319.4,155.9 L319.5,151.5 L319.6,146.4 L319.7,142.2 L319.8,140.2 L319.9,140.9 L320.0,144.1 L320.1,149.0 L320.2,153.9 L320.3,157.5 L320.3,158.6 L320.4,157.0 L320.5,153.0 L320.6,148.0 L320.7,143.4 L320.8,140.6 L320.9,140.4 L321.0,142.9 L321.1,147.4 L321.2,152.4 L321.3,156.5 L321.4,158.5 L321.4,157.7 L321.5,154.5 L321.6,149.6 L321.7,144.8 L321.8,141.3 L321.9,140.2 L322.0,141.9 L322.1,145.8 L322.2,150.8 L322.3,155.4 L322.4,158.1 L322.5,158.2 L322.5,155.7 L322.6,151.3 L322.7,146.3 L322.8,142.2 L322.9,140.3 L323.0,141.1 L323.1,144.4 L323.2,149.2 L323.3,154.1 L323.4,157.5 L323.5,158.5 L323.6,156.7 L323.7,152.8 L323.7,147.8 L323.8,143.3 L323.9,140.7 L324.0,140.6 L324.1,143.2 L324.2,147.6 L324.3,152.6 L324.4,156.6 L324.5,158.4 L324.6,157.5 L324.7,154.2 L324.8,149.4 L324.8,144.7 L324.9,141.3 L325.0,140.4 L325.1,142.2 L325.2,146.1 L325.3,151.0 L325.4,155.5 L325.5,158.1 L325.6,158.1 L325.7,155.5 L325.8,151.0 L325.9,146.1 L325.9,142.2 L326.0,140.4 L326.1,141.4 L326.2,144.7 L326.3,149.5 L326.4,154.2 L326.5,157.5 L326.6,158.3 L326.7,156.5 L326.8,152.6 L326.9,147.7 L327.0,143.3 L327.1,140.8 L327.1,140.8 L327.2,143.5 L327.3,147.9 L327.4,152.8 L327.5,156.6 L327.6,158.3 L327.7,157.3 L327.8,154.0 L327.9,149.2 L328.0,144.6 L328.1,141.3 L328.2,140.6 L328.2,142.4 L328.3,146.4 L328.4,151.2 L328.5,155.6 L328.6,158.0 L328.7,157.9 L328.8,155.2 L328.9,150.8 L329.0,146.0 L329.1,142.2 L329.2,140.6 L329.3,141.6 L329.3,145.0 L329.4,149.7 L329.5,154.3 L329.6,157.5 L329.7,158.2 L329.8,156.3 L329.9,152.3 L330.0,147.5 L330.1,143.2 L330.2,140.8 L330.3,141.0 L330.4,143.7 L330.5,148.1 L330.5,152.9 L330.6,156.7 L330.7,158.2 L330.8,157.1 L330.9,153.7 L331.0,149.0 L331.1,144.5 L331.2,141.4 L331.3,140.7 L331.4,142.7 L331.5,146.6 L331.6,151.4 L331.6,155.6 L331.7,158.0 L331.8,157.7 L331.9,155.0 L332.0,150.6 L332.1,145.8 L332.2,142.2 L332.3,140.7 L332.4,141.8 L332.5,145.2 L332.6,149.9 L332.7,154.4 L332.7,157.4 L332.8,158.0 L332.9,156.1 L333.0,152.1 L333.1,147.3 L333.2,143.2 L333.3,140.9 L333.4,141.2 L333.5,144.0 L333.6,148.4 L333.7,153.1 L333.8,156.7 L333.9,158.1 L333.9,156.9 L334.0,153.5 L334.1,148.8 L334.2,144.4 L334.3,141.5 L334.4,140.9 L334.5,142.9 L334.6,146.9 L334.7,151.6 L334.8,155.7 L334.9,157.9 L335.0,157.5 L335.0,154.7 L335.1,150.4 L335.2,145.7 L335.3,142.2 L335.4,140.9 L335.5,142.1 L335.6,145.5 L335.7,150.1 L335.8,154.5 L335.9,157.4 L336.0,157.9 L336.1,155.8 L336.1,151.9 L336.2,147.2 L336.3,143.2 L336.4,141.1 L336.5,141.5 L336.6,144.3 L336.7,148.6 L336.8,153.2 L336.9,156.7 L337.0,158.0 L337.1,156.7 L337.2,153.2 L337.2,148.7 L337.3,144.3 L337.4,141.5 L337.5,141.1 L337.6,143.2 L337.7,147.2 L337.8,151.8 L337.9,155.7 L338.0,157.8 L338.1,157.3 L338.2,154.5 L338.3,150.2 L338.4,145.6 L338.4,142.2 L338.5,141.0 L338.6,142.3 L338.7,145.8 L338.8,150.3 L338.9,154.6 L339.0,157.3 L339.1,157.7 L339.2,155.6 L339.3,151.6 L339.4,147.0 L339.5,143.1 L339.5,141.2 L339.6,141.7 L339.7,144.5 L339.8,148.8 L339.9,153.3 L340.0,156.7 L340.1,157.8 L340.2,156.5 L340.3,153.0 L340.4,148.5 L340.5,144.3 L340.6,141.6 L340.6,141.3 L340.7,143.5 L340.8,147.4 L340.9,152.0 L341.0,155.8 L341.1,157.7 L341.2,157.1 L341.3,154.2 L341.4,150.0 L341.5,145.5 L341.6,142.3 L341.7,141.2 L341.8,142.6 L341.8,146.0 L341.9,150.5 L342.0,154.7 L342.1,157.3 L342.2,157.5 L342.3,155.3 L342.4,151.4 L342.5,146.9 L342.6,143.1 L342.7,141.3 L342.8,141.9 L342.9,144.8 L342.9,149.1 L343.0,153.5 L343.1,156.6 L343.2,157.7 L343.3,156.2 L343.4,152.8 L343.5,148.3 L343.6,144.2 L343.7,141.7 L343.8,141.5 L343.9,143.7 L344.0,147.6 L344.0,152.1 L344.1,155.8 L344.2,157.5 L344.3,156.9 L344.4,154.0 L344.5,149.7 L344.6,145.4 L344.7,142.3 L344.8,141.3 L344.9,142.8 L345.0,146.3 L345.1,150.7 L345.2,154.7 L345.2,157.2 L345.3,157.3 L345.4,155.1 L345.5,151.2 L345.6,146.7 L345.7,143.1 L345.8,141.4 L345.9,142.1 L346.0,145.0 L346.1,149.3 L346.2,153.5 L346.3,156.6 L346.3,157.5 L346.4,156.0 L346.5,152.5 L346.6,148.1 L346.7,144.2 L346.8,141.8 L346.9,141.7 L347.0,144.0 L347.1,147.9 L347.2,152.2 L347.3,155.8 L347.4,157.4 L347.4,156.7 L347.5,153.7 L347.6,149.5 L347.7,145.3 L347.8,142.4 L347.9,141.5 L348.0,143.1 L348.1,146.5 L348.2,150.9 L348.3,154.8 L348.4,157.1 L348.5,157.1 L348.6,154.8 L348.6,150.9 L348.7,146.6 L348.8,143.1 L348.9,141.6 L349.0,142.4 L349.1,145.3 L349.2,149.5 L349.3,153.6 L349.4,156.5 L349.5,157.3 L349.6,155.7 L349.7,152.3 L349.7,148.0 L349.8,144.1 L349.9,141.9 L350.0,141.9 L350.1,144.2 L350.2,148.1 L350.3,152.4 L350.4,155.8 L350.5,157.3 L350.6,156.4 L350.7,153.5 L350.8,149.3 L350.8,145.2 L350.9,142.4 L351.0,141.7 L351.1,143.3 L351.2,146.8 L351.3,151.0 L351.4,154.8 L351.5,157.0 L351.6,156.9 L351.7,154.6 L351.8,150.7 L351.9,146.5 L352.0,143.2 L352.0,141.7 L352.1,142.6 L352.2,145.5 L352.3,149.7 L352.4,153.7 L352.5,156.5 L352.6,157.1 L352.7,155.5 L352.8,152.0 L352.9,147.8 L353.0,144.1 L353.1,142.0 L353.1,142.1 L353.2,144.5 L353.3,148.3 L353.4,152.5 L353.5,155.7 L353.6,157.1 L353.7,156.2 L353.8,153.2 L353.9,149.2 L354.0,145.2 L354.1,142.5 L354.2,141.9 L354.2,143.6 L354.3,147.0 L354.4,151.2 L354.5,154.8 L354.6,156.9 L354.7,156.7 L354.8,154.3 L354.9,150.5 L355.0,146.4 L355.1,143.2 L355.2,141.9 L355.3,142.8 L355.4,145.8 L355.4,149.8 L355.5,153.8 L355.6,156.4 L355.7,156.9 L355.8,155.2 L355.9,151.8 L356.0,147.7 L356.1,144.1 L356.2,142.1 L356.3,142.3 L356.4,144.7 L356.5,148.5 L356.5,152.6 L356.6,155.7 L356.7,156.9 L356.8,155.9 L356.9,153.0 L357.0,149.0 L357.1,145.1 L357.2,142.6 L357.3,142.1 L357.4,143.8 L357.5,147.2 L357.6,151.3 L357.6,154.8 L357.7,156.7 L357.8,156.4 L357.9,154.1 L358.0,150.3 L358.1,146.3 L358.2,143.2 L358.3,142.0 L358.4,143.1 L358.5,146.0 L358.6,150.0 L358.7,153.8 L358.8,156.3 L358.8,156.7 L358.9,155.0 L359.0,151.6 L359.1,147.5 L359.2,144.1 L359.3,142.2 L359.4,142.6 L359.5,145.0 L359.6,148.7 L359.7,152.7 L359.8,155.7 L359.9,156.8 L359.9,155.7 L360.0,152.8 L360.1,148.8 L360.2,145.1 L360.3,142.6 L360.4,142.3 L360.5,144.0 L360.6,147.4 L360.7,151.4 L360.8,154.8 L360.9,156.6 L361.0,156.2 L361.0,153.8 L361.1,150.1 L361.2,146.2 L361.3,143.3 L361.4,142.2 L361.5,143.3 L361.6,146.3 L361.7,150.2 L361.8,153.9 L361.9,156.2 L362.0,156.5 L362.1,154.7 L362.2,151.3 L362.2,147.4 L362.3,144.1 L362.4,142.3 L362.5,142.8 L362.6,145.2 L362.7,148.9 L362.8,152.7 L362.9,155.6 L363.0,156.6 L363.1,155.5 L363.2,152.5 L363.3,148.6 L363.3,145.0 L363.4,142.7 L363.5,142.4 L363.6,144.3 L363.7,147.6 L363.8,151.6 L363.9,154.8 L364.0,156.5 L364.1,156.0 L364.2,153.6 L364.3,149.9 L364.4,146.1 L364.4,143.3 L364.5,142.3 L364.6,143.5 L364.7,146.5 L364.8,150.3 L364.9,153.9 L365.0,156.1 L365.1,156.4 L365.2,154.5 L365.3,151.1 L365.4,147.3 L365.5,144.1 L365.6,142.5 L365.6,143.0 L365.7,145.4 L365.8,149.1 L365.9,152.8 L366.0,155.6 L366.1,156.5 L366.2,155.3 L366.3,152.3 L366.4,148.5 L366.5,145.0 L366.6,142.8 L366.7,142.6 L366.7,144.5 L366.8,147.9 L366.9,151.7 L367.0,154.8 L367.1,156.4 L367.2,155.8 L367.3,153.4 L367.4,149.7 L367.5,146.0 L367.6,143.3 L367.7,142.5 L367.8,143.7 L367.8,146.7 L367.9,150.5 L368.0,153.9 L368.1,156.1 L368.2,156.2 L368.3,154.3 L368.4,150.9 L368.5,147.2 L368.6,144.1 L368.7,142.6 L368.8,143.2 L368.9,145.6 L368.9,149.3 L369.0,152.9 L369.1,155.5 L369.2,156.3 L369.3,155.1 L369.4,152.1 L369.5,148.4 L369.6,144.9 L369.7,142.9 L369.8,142.8 L369.9,144.7 L370.0,148.1 L370.1,151.8 L370.1,154.8 L370.2,156.3 L370.3,155.6 L370.4,153.2 L370.5,149.6 L370.6,146.0 L370.7,143.4 L370.8,142.7 L370.9,144.0 L371.0,146.9 L371.1,150.6 L371.2,154.0 L371.2,156.0 L371.3,156.0 L371.4,154.1 L371.5,150.8 L371.6,147.1 L371.7,144.1 L371.8,142.7 L371.9,143.4 L372.0,145.9 L372.1,149.4 L372.2,153.0 L372.3,155.5 L372.3,156.2 L372.4,154.9 L372.5,151.9 L372.6,148.2 L372.7,144.9 L372.8,143.0 L372.9,143.0 L373.0,144.9 L373.1,148.3 L373.2,151.9 L373.3,154.8 L373.4,156.2 L373.5,155.5 L373.5,153.0 L373.6,149.4 L373.7,145.9 L373.8,143.4 L373.9,142.8 L374.0,144.2 L374.1,147.1 L374.2,150.8 L374.3,154.0 L374.4,155.9 L374.5,155.9 L374.6,153.9 L374.6,150.6 L374.7,147.0 L374.8,144.1 L374.9,142.8 L375.0,143.6 L375.1,146.1 L375.2,149.6 L375.3,153.1 L375.4,155.5 L375.5,156.1 L375.6,154.7 L375.7,151.7 L375.7,148.1 L375.8,144.9 L375.9,143.1 L376.0,143.2 L376.1,145.2 L376.2,148.5 L376.3,152.0 L376.4,154.9 L376.5,156.1 L376.6,155.3 L376.7,152.8 L376.8,149.3 L376.9,145.8 L376.9,143.5 L377.0,143.0 L377.1,144.4 L377.2,147.3 L377.3,150.9 L377.4,154.1 L377.5,155.8 L377.6,155.7 L377.7,153.7 L377.8,150.4 L377.9,146.9 L378.0,144.1 L378.0,143.0 L378.1,143.8 L378.2,146.3 L378.3,149.8 L378.4,153.2 L378.5,155.4 L378.6,155.9 L378.7,154.5 L378.8,151.5 L378.9,148.0 L379.0,144.9 L379.1,143.2 L379.1,143.4 L379.2,145.4 L379.3,148.6 L379.4,152.2 L379.5,154.9 L379.6,155.9 L379.7,155.1 L379.8,152.6 L379.9,149.1 L380.0,145.8 L380.1,143.6 L380.2,143.1 L380.3,144.6 L380.3,147.5 L380.4,151.1 L380.5,154.1 L380.6,155.8 L380.7,155.5 L380.8,153.5 L380.9,150.3 L381.0,146.8 L381.1,144.2 L381.2,143.1 L381.3,144.0 L381.4,146.5 L381.4,150.0 L381.5,153.2 L381.6,155.4 L381.7,155.8 L381.8,154.3 L381.9,151.4 L382.0,147.9 L382.1,144.9 L382.2,143.3 L382.3,143.6 L382.4,145.6 L382.5,148.8 L382.5,152.3 L382.6,154.9 L382.7,155.8 L382.8,154.9 L382.9,152.4 L383.0,149.0 L383.1,145.8 L383.2,143.6 L383.3,143.3 L383.4,144.8 L383.5,147.7 L383.6,151.2 L383.7,154.1 L383.7,155.7 L383.8,155.4 L383.9,153.3 L384.0,150.1 L384.1,146.7 L384.2,144.2 L384.3,143.3 L384.4,144.2 L384.5,146.7 L384.6,150.1 L384.7,153.3 L384.8,155.4 L384.8,155.7 L384.9,154.1 L385.0,151.2 L385.1,147.8 L385.2,144.9 L385.3,143.4 L385.4,143.7 L385.5,145.8 L385.6,149.0 L385.7,152.4 L385.8,154.8 L385.9,155.7 L385.9,154.8 L386.0,152.2 L386.1,148.9 L386.2,145.7 L386.3,143.7 L386.4,143.5 L386.5,145.0 L386.6,147.9 L386.7,151.3 L386.8,154.2 L386.9,155.6 L387.0,155.2 L387.1,153.1 L387.1,150.0 L387.2,146.7 L387.3,144.2 L387.4,143.4 L387.5,144.4 L387.6,146.9 L387.7,150.3 L387.8,153.4 L387.9,155.3 L388.0,155.5 L388.1,153.9 L388.2,151.0 L388.2,147.7 L388.3,144.9 L388.4,143.5 L388.5,143.9 L388.6,146.0 L388.7,149.2 L388.8,152.5 L388.9,154.8 L389.0,155.6 L389.1,154.6 L389.2,152.1 L389.3,148.8 L389.3,145.7 L389.4,143.8 L389.5,143.6 L389.6,145.2 L389.7,148.1 L389.8,151.5 L389.9,154.2 L390.0,155.5 L390.1,155.1 L390.2,153.0 L390.3,149.8 L390.4,146.6 L390.5,144.3 L390.5,143.5 L390.6,144.6 L390.7,147.1 L390.8,150.4 L390.9,153.4 L391.0,155.3 L391.1,155.4 L391.2,153.8 L391.3,150.9 L391.4,147.6 L391.5,144.9 L391.6,143.6 L391.6,144.1 L391.7,146.2 L391.8,149.4 L391.9,152.5 L392.0,154.8 L392.1,155.5 L392.2,154.4 L392.3,151.9 L392.4,148.6 L392.5,145.7 L392.6,143.9 L392.7,143.8 L392.7,145.4 L392.8,148.3 L392.9,151.6 L393.0,154.2 L393.1,155.5 L393.2,154.9 L393.3,152.8 L393.4,149.7 L393.5,146.5 L393.6,144.3 L393.7,143.7 L393.8,144.8 L393.9,147.3 L393.9,150.5 L394.0,153.5 L394.1,155.2 L394.2,155.3 L394.3,153.6 L394.4,150.7 L394.5,147.5 L394.6,144.9 L394.7,143.7 L394.8,144.3 L394.9,146.4 L395.0,149.5 L395.0,152.6 L395.1,154.8 L395.2,155.4 L395.3,154.3 L395.4,151.7 L395.5,148.5 L395.6,145.6 L395.7,143.9 L395.8,143.9 L395.9,145.6 L396.0,148.5 L396.1,151.7 L396.1,154.2 L396.2,155.4 L396.3,154.8 L396.4,152.6 L396.5,149.5 L396.6,146.5 L396.7,144.4 L396.8,143.8 L396.9,145.0 L397.0,147.5 L397.1,150.7 L397.2,153.5 L397.3,155.1 L397.3,155.1 L397.4,153.4 L397.5,150.6 L397.6,147.4 L397.7,144.9 L397.8,143.8 L397.9,144.4 L398.0,146.6 L398.1,149.7 L398.2,152.7 L398.3,154.8 L398.4,155.3 L398.4,154.1 L398.5,151.5 L398.6,148.4 L398.7,145.6 L398.8,144.0 L398.9,144.1 L399.0,145.8 L399.1,148.6 L399.2,151.8 L399.3,154.2 L399.4,155.3 L399.5,154.6 L399.5,152.4 L399.6,149.4 L399.7,146.4 L399.8,144.4 L399.9,143.9 L400.0,145.1 L400.1,147.7 L400.2,150.8 L400.3,153.5 L400.4,155.1 L400.5,155.0 L400.6,153.2 L400.6,150.4 L400.7,147.3 L400.8,144.9 L400.9,143.9 L401.0,144.6 L401.1,146.8 L401.2,149.8 L401.3,152.7 L401.4,154.7 L401.5,155.1 L401.6,153.9 L401.7,151.4 L401.8,148.3 L401.8,145.6 L401.9,144.1 L402.0,144.2 L402.1,146.0 L402.2,148.8 L402.3,151.8 L402.4,154.2 L402.5,155.2 L402.6,154.4 L402.7,152.3 L402.8,149.3 L402.9,146.4 L402.9,144.4 L403.0,144.0 L403.1,145.3 L403.2,147.8 L403.3,150.9 L403.4,153.5 L403.5,155.0 L403.6,154.8 L403.7,153.1 L403.8,150.2 L403.9,147.2 L404.0,144.9 L404.0,144.0 L404.1,144.8 L404.2,146.9 L404.3,149.9 L404.4,152.8 L404.5,154.7 L404.6,155.0 L404.7,153.7 L404.8,151.2 L404.9,148.2 L405.0,145.6 L405.1,144.2 L405.2,144.4 L405.2,146.1 L405.3,148.9 L405.4,151.9 L405.5,154.2 L405.6,155.0 L405.7,154.3 L405.8,152.1 L405.9,149.1 L406.0,146.3 L406.1,144.5 L406.2,144.2 L406.3,145.5 L406.3,148.0 L406.4,151.0 L406.5,153.5 L406.6,154.9 L406.7,154.7 L406.8,152.9 L406.9,150.1 L407.0,147.2 L407.1,144.9 L407.2,144.1 L407.3,144.9 L407.4,147.1 L407.4,150.0 L407.5,152.8 L407.6,154.6 L407.7,154.9 L407.8,153.6 L407.9,151.0 L408.0,148.1 L408.1,145.6 L408.2,144.2 L408.3,144.5 L408.4,146.3 L408.5,149.1 L408.6,152.0 L408.6,154.1 L408.7,154.9 L408.8,154.1 L408.9,151.9 L409.0,149.0 L409.1,146.3 L409.2,144.5 L409.3,144.3 L409.4,145.6 L409.5,148.1 L409.6,151.1 L409.7,153.5 L409.7,154.8 L409.8,154.5 L409.9,152.7 L410.0,149.9 L410.1,147.1 L410.2,145.0 L410.3,144.2 L410.4,145.1 L410.5,147.3 L410.6,150.1 L410.7,152.8 L410.8,154.5 L410.8,154.7 L410.9,153.4 L411.0,150.9 L411.1,148.0 L411.2,145.5 L411.3,144.3 L411.4,144.7 L411.5,146.5 L411.6,149.2 L411.7,152.0 L411.8,154.1 L411.9,154.8 L412.0,153.9 L412.0,151.7 L412.1,148.9 L412.2,146.2 L412.3,144.6 L412.4,144.4 L412.5,145.8 L412.6,148.3 L412.7,151.2 L412.8,153.5 L412.9,154.7 L413.0,154.3 L413.1,152.5 L413.1,149.8 L413.2,147.0 L413.3,145.0 L413.4,144.3 L413.5,145.2 L413.6,147.4 L413.7,150.2 L413.8,152.9 L413.9,154.5 L414.0,154.6 L414.1,153.2 L414.2,150.7 L414.2,147.9 L414.3,145.5 L414.4,144.4 L414.5,144.8 L414.6,146.6 L414.7,149.3 L414.8,152.1 L414.9,154.1 L415.0,154.7 L415.1,153.8 L415.2,151.6 L415.3,148.8 L415.4,146.2 L415.4,144.6 L415.5,144.5 L415.6,145.9 L415.7,148.4 L415.8,151.2 L415.9,153.5 L416.0,154.6 L416.1,154.2 L416.2,152.3 L416.3,149.7 L416.4,146.9 L416.5,145.0 L416.5,144.4 L416.6,145.4 L416.7,147.6 L416.8,150.3 L416.9,152.9 L417.0,154.4 L417.1,154.4 L417.2,153.0 L417.3,150.5 L417.4,147.8 L417.5,145.5 L417.6,144.5 L417.6,144.9 L417.7,146.8 L417.8,149.4 L417.9,152.1 L418.0,154.0 L418.1,154.6 L418.2,153.6 L418.3,151.4 L418.4,148.6 L418.5,146.1 L418.6,144.7 L418.7,144.7 L418.8,146.1 L418.8,148.5 L418.9,151.3 L419.0,153.5 L419.1,154.5 L419.2,154.0 L419.3,152.2 L419.4,149.5 L419.5,146.9 L419.6,145.0 L419.7,144.5 L419.8,145.5 L419.9,147.7 L419.9,150.4 L420.0,152.9 L420.1,154.3 L420.2,154.3 L420.3,152.8 L420.4,150.4 L420.5,147.7 L420.6,145.5 L420.7,144.5 L420.8,145.1 L420.9,146.9 L421.0,149.5 L421.0,152.2 L421.1,154.0 L421.2,154.4 L421.3,153.4 L421.4,151.2 L421.5,148.5 L421.6,146.1 L421.7,144.7 L421.8,144.8 L421.9,146.2 L422.0,148.7 L422.1,151.4 L422.2,153.5 L422.2,154.4 L422.3,153.8 L422.4,152.0 L422.5,149.4 L422.6,146.8 L422.7,145.0 L422.8,144.6 L422.9,145.7 L423.0,147.8 L423.1,150.5 L423.2,152.9 L423.3,154.2 L423.3,154.1 L423.4,152.7 L423.5,150.2 L423.6,147.6 L423.7,145.5 L423.8,144.6 L423.9,145.2 L424.0,147.1 L424.1,149.6 L424.2,152.2 L424.3,153.9 L424.4,154.3 L424.4,153.2 L424.5,151.1 L424.6,148.4 L424.7,146.1 L424.8,144.8 L424.9,144.9 L425.0,146.4 L425.1,148.8 L425.2,151.4 L425.3,153.4 L425.4,154.3 L425.5,153.7 L425.6,151.8 L425.6,149.2 L425.7,146.7 L425.8,145.1 L425.9,144.7 L426.0,145.8 L426.1,148.0 L426.2,150.6 L426.3,152.9 L426.4,154.1 L426.5,154.0 L426.6,152.5 L426.7,150.1 L426.7,147.5 L426.8,145.5 L426.9,144.7 L427.0,145.3 L427.1,147.2 L427.2,149.7 L427.3,152.2 L427.4,153.8 L427.5,154.1 L427.6,153.1 L427.7,150.9 L427.8,148.3 L427.8,146.0" fill="none" stroke="#7E2F8E" stroke-width="0.9"/>
</g>
<path d="M205.8,111.5H427.9V186.8" fill="none" stroke="#c4c4c4" stroke-width="0.9"/>
<path d="M205.8,111.5V186.8H427.9M220.40,186.8v-2.2M250.04,186.8v-2.2M279.68,186.8v-2.2M309.32,186.8v-2.2M338.96,186.8v-2.2M368.60,186.8v-2.2M398.24,186.8v-2.2M205.8,149.30h2.2" fill="none" stroke="#808080" stroke-width="0.9"/>
<text x="220.40" y="199.70" font-size="8.8" font-family="Liberation Sans, Arial, sans-serif" fill="#444" text-anchor="middle">10</text>
<text x="250.04" y="199.70" font-size="8.8" font-family="Liberation Sans, Arial, sans-serif" fill="#444" text-anchor="middle">20</text>
<text x="279.68" y="199.70" font-size="8.8" font-family="Liberation Sans, Arial, sans-serif" fill="#444" text-anchor="middle">30</text>
<text x="309.32" y="199.70" font-size="8.8" font-family="Liberation Sans, Arial, sans-serif" fill="#444" text-anchor="middle">40</text>
<text x="338.96" y="199.70" font-size="8.8" font-family="Liberation Sans, Arial, sans-serif" fill="#444" text-anchor="middle">50</text>
<text x="368.60" y="199.70" font-size="8.8" font-family="Liberation Sans, Arial, sans-serif" fill="#444" text-anchor="middle">60</text>
<text x="398.24" y="199.70" font-size="8.8" font-family="Liberation Sans, Arial, sans-serif" fill="#444" text-anchor="middle">70</text>
<text x="427.88" y="199.70" font-size="8.8" font-family="Liberation Sans, Arial, sans-serif" fill="#444" text-anchor="middle">80</text>
<text x="202.80" y="115.45" font-size="8.8" font-family="Liberation Sans, Arial, sans-serif" fill="#444" text-anchor="end">0.5</text>
<text x="202.80" y="153.05" font-size="8.8" font-family="Liberation Sans, Arial, sans-serif" fill="#444" text-anchor="end">0</text>
<text x="202.80" y="190.65" font-size="8.8" font-family="Liberation Sans, Arial, sans-serif" fill="#444" text-anchor="end">-0.5</text>
<rect x="276.3" y="17.5" width="156.3" height="55.7" fill="#fff" stroke="#5a5a5a" stroke-width="0.9"/>
<path d="M278.5,25.40H304.1" stroke="#2d8fd9" stroke-width="1.3"/>
<text x="306.0" y="29.00" font-size="10.2" font-family="Liberation Sans, Arial, sans-serif" fill="#1a1a1a">frozen fuel</text>
<path d="M278.5,39.20H304.1" stroke="#e2622a" stroke-width="1.05" stroke-dasharray="4.7 1.8 1.2 1.8"/>
<text x="306.0" y="42.80" font-size="10.2" font-family="Liberation Sans, Arial, sans-serif" fill="#1a1a1a">lateral (linear) sloshing</text>
<path d="M278.5,53.00H304.1" stroke="#EDB120" stroke-width="1.75"/>
<text x="306.0" y="56.60" font-size="10.2" font-family="Liberation Sans, Arial, sans-serif" fill="#1a1a1a">vertical (nonlinear) sloshing</text>
<path d="M278.5,66.80H304.1" stroke="#7E2F8E" stroke-width="1.9" stroke-dasharray="4.8 1.45 2.2 1.45"/>
<text x="306.0" y="70.40" font-size="10.2" font-family="Liberation Sans, Arial, sans-serif" fill="#1a1a1a">lateral &amp; vertical sloshing</text>
<text transform="translate(19.6,108) rotate(-90)" text-anchor="middle" font-size="14.4" font-family="Liberation Serif, Times New Roman, serif" fill="#444" textLength="64" lengthAdjust="spacingAndGlyphs">AoA [<tspan font-style="italic">deg</tspan>]</text>
<text x="241.9" y="241.9" text-anchor="middle" font-size="14.4" font-family="Liberation Serif, Times New Roman, serif" fill="#444" textLength="52.3" lengthAdjust="spacingAndGlyphs">Time [<tspan font-style="italic">s</tspan>]</text>
<text x="244" y="264" text-anchor="middle" font-size="15" font-weight="bold" font-family="Liberation Serif, Times New Roman, serif" fill="#222">(a)</text>
<path d="M44.0,286.0H439.6V481.0H44.0ZM100.90,481.0v-3.5M100.90,286.0v3.5M157.40,481.0v-3.5M157.40,286.0v3.5M213.90,481.0v-3.5M213.90,286.0v3.5M270.40,481.0v-3.5M270.40,286.0v3.5M326.90,481.0v-3.5M326.90,286.0v3.5M383.40,481.0v-3.5M383.40,286.0v3.5M44.0,333.80h3.5M439.6,333.80h-3.5M44.0,383.20h3.5M439.6,383.20h-3.5M44.0,432.60h3.5M439.6,432.60h-3.5" fill="none" stroke="#6c6c6c" stroke-width="0.85"/>
<text x="44.40" y="500.00" font-size="13.3" font-family="Liberation Sans, Arial, sans-serif" fill="#333" text-anchor="middle">0</text>
<text x="100.90" y="500.00" font-size="13.3" font-family="Liberation Sans, Arial, sans-serif" fill="#333" text-anchor="middle">0.5</text>
<text x="157.40" y="500.00" font-size="13.3" font-family="Liberation Sans, Arial, sans-serif" fill="#333" text-anchor="middle">1</text>
<text x="213.90" y="500.00" font-size="13.3" font-family="Liberation Sans, Arial, sans-serif" fill="#333" text-anchor="middle">1.5</text>
<text x="270.40" y="500.00" font-size="13.3" font-family="Liberation Sans, Arial, sans-serif" fill="#333" text-anchor="middle">2</text>
<text x="326.90" y="500.00" font-size="13.3" font-family="Liberation Sans, Arial, sans-serif" fill="#333" text-anchor="middle">2.5</text>
<text x="383.40" y="500.00" font-size="13.3" font-family="Liberation Sans, Arial, sans-serif" fill="#333" text-anchor="middle">3</text>
<text x="439.90" y="500.00" font-size="13.3" font-family="Liberation Sans, Arial, sans-serif" fill="#333" text-anchor="middle">3.5</text>
<text x="39.60" y="339.86" font-size="13.3" font-family="Liberation Sans, Arial, sans-serif" fill="#333" text-anchor="end">0.1</text>
<text x="39.60" y="389.26" font-size="13.3" font-family="Liberation Sans, Arial, sans-serif" fill="#333" text-anchor="end">0</text>
<text x="39.60" y="438.66" font-size="13.3" font-family="Liberation Sans, Arial, sans-serif" fill="#333" text-anchor="end">-0.1</text>
<g clip-path="url(#cb)" fill="none" stroke-linejoin="round">
<path d="M44.40,383.20 L44.68,383.20 L44.96,383.20 L45.25,383.20 L45.53,383.20 L45.81,383.20 L46.09,383.20 L46.38,383.20 L46.66,383.20 L46.94,383.20 L47.23,383.20 L47.51,383.20 L47.79,383.20 L48.07,383.20 L48.35,383.20 L48.64,383.20 L48.92,383.20 L49.20,383.20 L49.48,383.20 L49.77,383.20 L50.05,383.20 L50.33,383.20 L50.61,383.20 L50.90,383.20 L51.18,383.20 L51.46,383.20 L51.74,383.20 L52.03,383.20 L52.31,383.20 L52.59,383.20 L52.88,383.20 L53.16,383.20 L53.44,383.20 L53.72,383.20 L54.00,383.20 L54.29,383.20 L54.57,383.20 L54.85,383.20 L55.13,383.20 L55.42,383.20 L55.70,383.20 L55.98,383.20 L56.27,383.20 L56.55,383.20 L56.83,383.20 L57.11,383.20 L57.39,383.20 L57.68,383.20 L57.96,383.20 L58.24,383.20 L58.52,383.20 L58.81,383.20 L59.09,383.20 L59.37,383.20 L59.66,383.20 L59.94,383.20 L60.22,383.20 L60.50,383.20 L60.78,383.20 L61.07,383.20 L61.35,383.20 L61.63,383.20 L61.91,383.20 L62.20,383.20 L62.48,383.20 L62.76,383.20 L63.05,383.20 L63.33,383.20 L63.61,383.20 L63.89,383.20 L64.17,383.20 L64.46,383.20 L64.74,383.20 L65.02,383.20 L65.31,383.20 L65.59,383.20 L65.87,383.20 L66.15,383.20 L66.44,383.20 L66.72,383.20 L67.00,383.20 L67.28,383.20 L67.56,383.20 L67.85,383.20 L68.13,383.20 L68.41,383.20 L68.69,383.20 L68.98,383.20 L69.26,383.20 L69.54,383.20 L69.83,383.20 L70.11,383.20 L70.39,383.20 L70.67,383.20 L70.95,383.20 L71.24,383.20 L71.52,383.20 L71.80,383.20 L72.08,383.20 L72.37,383.20 L72.65,383.20 L72.93,383.20 L73.22,383.20 L73.50,383.20 L73.78,383.20 L74.06,383.20 L74.34,383.20 L74.63,383.20 L74.91,383.20 L75.19,383.20 L75.47,383.20 L75.76,383.20 L76.04,383.20 L76.32,383.22 L76.61,383.34 L76.89,383.56 L77.17,383.87 L77.45,384.28 L77.73,384.77 L78.02,385.34 L78.30,385.99 L78.58,386.70 L78.86,387.49 L79.15,388.33 L79.43,389.22 L79.71,390.17 L80.00,391.16 L80.28,392.18 L80.56,393.24 L80.84,394.33 L81.12,395.45 L81.41,396.58 L81.69,397.72 L81.97,398.87 L82.25,400.02 L82.54,401.17 L82.82,402.31 L83.10,403.44 L83.39,404.54 L83.67,405.63 L83.95,406.68 L84.23,407.70 L84.51,408.68 L84.80,409.62 L85.08,410.50 L85.36,411.33 L85.64,412.10 L85.93,412.81 L86.21,413.44 L86.49,414.00 L86.78,414.47 L87.06,414.86 L87.34,415.15 L87.62,415.35 L87.91,415.45 L88.19,415.41 L88.47,415.13 L88.75,414.61 L89.03,413.86 L89.32,412.88 L89.60,411.69 L89.88,410.30 L90.16,408.72 L90.45,406.95 L90.73,405.01 L91.01,402.91 L91.30,400.66 L91.58,398.27 L91.86,395.74 L92.14,393.10 L92.42,390.34 L92.71,387.48 L92.99,384.53 L93.27,381.50 L93.56,378.40 L93.84,375.24 L94.12,372.03 L94.40,368.77 L94.69,365.49 L94.97,362.18 L95.25,358.87 L95.53,355.56 L95.81,352.25 L96.10,348.97 L96.38,345.72 L96.66,342.50 L96.94,339.34 L97.23,336.24 L97.51,333.21 L97.79,330.26 L98.08,327.40 L98.36,324.64 L98.64,322.00 L98.92,319.47 L99.20,317.08 L99.49,314.83 L99.77,312.73 L100.05,310.79 L100.34,309.02 L100.62,307.44 L100.90,306.05 L101.18,304.86 L101.47,303.88 L101.75,303.13 L102.03,302.61 L102.31,302.33 L102.59,302.31 L102.88,302.62 L103.16,303.26 L103.44,304.21 L103.72,305.47 L104.01,307.02 L104.29,308.85 L104.57,310.95 L104.86,313.29 L105.14,315.88 L105.42,318.70 L105.70,321.73 L105.99,324.96 L106.27,328.38 L106.55,331.97 L106.83,335.73 L107.12,339.63 L107.40,343.68 L107.68,347.84 L107.96,352.12 L108.25,356.49 L108.53,360.96 L108.81,365.49 L109.09,370.08 L109.38,374.72 L109.66,379.39 L109.94,384.08 L110.22,388.79 L110.50,393.48 L110.79,398.16 L111.07,402.80 L111.35,407.41 L111.63,411.95 L111.92,416.43 L112.20,420.82 L112.48,425.12 L112.76,429.31 L113.05,433.38 L113.33,437.31 L113.61,441.10 L113.90,444.73 L114.18,448.18 L114.46,451.45 L114.74,454.52 L115.03,457.38 L115.31,460.02 L115.59,462.41 L115.87,464.56 L116.16,466.44 L116.44,468.05 L116.72,469.37 L117.00,470.39 L117.28,471.09 L117.57,471.46 L117.85,471.51 L118.13,471.27 L118.41,470.78 L118.70,470.04 L118.98,469.07 L119.26,467.87 L119.55,466.45 L119.83,464.82 L120.11,463.00 L120.39,460.98 L120.68,458.78 L120.96,456.41 L121.24,453.88 L121.52,451.20 L121.81,448.37 L122.09,445.40 L122.37,442.32 L122.65,439.11 L122.94,435.80 L123.22,432.39 L123.50,428.89 L123.78,425.31 L124.06,421.66 L124.35,417.95 L124.63,414.19 L124.91,410.39 L125.19,406.55 L125.48,402.69 L125.76,398.82 L126.04,394.94 L126.32,391.06 L126.61,387.19 L126.89,383.35 L127.17,379.54 L127.45,375.77 L127.74,372.05 L128.02,368.39 L128.30,364.80 L128.59,361.28 L128.87,357.85 L129.15,354.52 L129.43,351.29 L129.72,348.18 L130.00,345.19 L130.28,342.34 L130.56,339.62 L130.84,337.06 L131.13,334.66 L131.41,332.42 L131.69,330.37 L131.97,328.51 L132.26,326.84 L132.54,325.38 L132.82,324.13 L133.10,323.11 L133.39,322.33 L133.67,321.79 L133.95,321.50 L134.24,321.47 L134.52,321.64 L134.80,322.00 L135.08,322.55 L135.37,323.27 L135.65,324.15 L135.93,325.20 L136.21,326.40 L136.50,327.74 L136.78,329.22 L137.06,330.84 L137.34,332.57 L137.62,334.43 L137.91,336.39 L138.19,338.46 L138.47,340.62 L138.75,342.87 L139.04,345.20 L139.32,347.61 L139.60,350.08 L139.88,352.62 L140.17,355.20 L140.45,357.83 L140.73,360.50 L141.01,363.21 L141.30,365.93 L141.58,368.67 L141.86,371.43 L142.15,374.18 L142.43,376.93 L142.71,379.67 L142.99,382.40 L143.28,385.09 L143.56,387.75 L143.84,390.38 L144.12,392.95 L144.41,395.48 L144.69,397.94 L144.97,400.33 L145.25,402.64 L145.53,404.88 L145.82,407.02 L146.10,409.07 L146.38,411.01 L146.66,412.84 L146.95,414.56 L147.23,416.14 L147.51,417.60 L147.80,418.91 L148.08,420.08 L148.36,421.10 L148.64,421.95 L148.93,422.63 L149.21,423.14 L149.49,423.47 L149.77,423.61 L150.06,423.57 L150.34,423.41 L150.62,423.14 L150.90,422.76 L151.19,422.27 L151.47,421.67 L151.75,420.98 L152.03,420.20 L152.31,419.32 L152.60,418.37 L152.88,417.33 L153.16,416.21 L153.44,415.02 L153.73,413.77 L154.01,412.46 L154.29,411.08 L154.57,409.65 L154.86,408.17 L155.14,406.65 L155.42,405.09 L155.70,403.49 L155.99,401.86 L156.27,400.20 L156.55,398.52 L156.84,396.82 L157.12,395.10 L157.40,393.38 L157.68,391.65 L157.97,389.92 L158.25,388.19 L158.53,386.47 L158.81,384.77 L159.09,383.08 L159.38,381.41 L159.66,379.76 L159.94,378.15 L160.22,376.57 L160.51,375.03 L160.79,373.54 L161.07,372.09 L161.35,370.69 L161.64,369.35 L161.92,368.07 L162.20,366.86 L162.48,365.71 L162.77,364.64 L163.05,363.65 L163.33,362.74 L163.61,361.92 L163.90,361.19 L164.18,360.56 L164.46,360.03 L164.75,359.60 L165.03,359.29 L165.31,359.08 L165.59,359.00 L165.88,359.02 L166.16,359.13 L166.44,359.31 L166.72,359.57 L167.00,359.90 L167.29,360.30 L167.57,360.76 L167.85,361.29 L168.13,361.88 L168.42,362.52 L168.70,363.21 L168.98,363.96 L169.26,364.75 L169.55,365.59 L169.83,366.46 L170.11,367.37 L170.40,368.32 L170.68,369.30 L170.96,370.31 L171.24,371.34 L171.53,372.39 L171.81,373.47 L172.09,374.56 L172.37,375.66 L172.66,376.77 L172.94,377.88 L173.22,379.00 L173.50,380.12 L173.78,381.24 L174.07,382.35 L174.35,383.45 L174.63,384.54 L174.92,385.61 L175.20,386.66 L175.48,387.69 L175.76,388.70 L176.05,389.68 L176.33,390.63 L176.61,391.54 L176.89,392.42 L177.18,393.25 L177.46,394.04 L177.74,394.79 L178.02,395.48 L178.31,396.13 L178.59,396.71 L178.87,397.24 L179.15,397.70 L179.44,398.10 L179.72,398.43 L180.00,398.69 L180.28,398.88 L180.57,398.98 L180.85,399.01 L181.13,398.97 L181.41,398.89 L181.70,398.75 L181.98,398.57 L182.26,398.35 L182.54,398.09 L182.83,397.78 L183.11,397.44 L183.39,397.06 L183.67,396.65 L183.96,396.21 L184.24,395.73 L184.52,395.23 L184.80,394.70 L185.09,394.15 L185.37,393.58 L185.65,392.98 L185.93,392.37 L186.22,391.74 L186.50,391.09 L186.78,390.44 L187.06,389.77 L187.35,389.09 L187.63,388.41 L187.91,387.72 L188.19,387.03 L188.48,386.34 L188.76,385.65 L189.04,384.97 L189.32,384.28 L189.60,383.61 L189.89,382.95 L190.17,382.29 L190.45,381.65 L190.73,381.02 L191.02,380.41 L191.30,379.82 L191.58,379.25 L191.87,378.70 L192.15,378.18 L192.43,377.68 L192.71,377.22 L193.00,376.78 L193.28,376.37 L193.56,376.00 L193.84,375.67 L194.12,375.37 L194.41,375.11 L194.69,374.90 L194.97,374.73 L195.25,374.61 L195.54,374.53 L195.82,374.51 L196.10,374.52 L196.38,374.56 L196.67,374.62 L196.95,374.71 L197.23,374.83 L197.52,374.96 L197.80,375.12 L198.08,375.30 L198.36,375.50 L198.65,375.71 L198.93,375.95 L199.21,376.20 L199.49,376.47 L199.78,376.75 L200.06,377.05 L200.34,377.36 L200.62,377.69 L200.91,378.02 L201.19,378.37 L201.47,378.72 L201.75,379.09 L202.03,379.46 L202.32,379.84 L202.60,380.22 L202.88,380.61 L203.17,381.00 L203.45,381.40 L203.73,381.80 L204.01,382.20 L204.30,382.60 L204.58,383.00 L204.86,383.40 L205.14,383.80 L205.43,384.19 L205.71,384.58 L205.99,384.96 L206.27,385.34 L206.56,385.71 L206.84,386.07 L207.12,386.42 L207.40,386.77 L207.69,387.10 L207.97,387.42 L208.25,387.73 L208.53,388.03 L208.82,388.31 L209.10,388.57 L209.38,388.82 L209.66,389.05 L209.95,389.26 L210.23,389.46 L210.51,389.63 L210.79,389.79 L211.08,389.92 L211.36,390.03 L211.64,390.11 L211.92,390.17 L212.21,390.21 L212.49,390.21 L212.77,390.20 L213.05,390.15 L213.34,390.08 L213.62,389.99 L213.90,389.87 L214.18,389.74 L214.47,389.58 L214.75,389.40 L215.03,389.21 L215.31,389.00 L215.60,388.77 L215.88,388.53 L216.16,388.27 L216.44,388.00 L216.73,387.72 L217.01,387.43 L217.29,387.13 L217.57,386.82 L217.86,386.51 L218.14,386.19 L218.42,385.86 L218.70,385.53 L218.98,385.20 L219.27,384.87 L219.55,384.53 L219.83,384.20 L220.12,383.87 L220.40,383.54 L220.68,383.21 L220.96,382.89 L221.25,382.58 L221.53,382.27 L221.81,381.97 L222.09,381.68 L222.38,381.41 L222.66,381.14 L222.94,380.89 L223.22,380.65 L223.50,380.42 L223.79,380.21 L224.07,380.02 L224.35,379.85 L224.63,379.70 L224.92,379.56 L225.20,379.45 L225.48,379.37 L225.77,379.30 L226.05,379.26 L226.33,379.25 L226.61,379.25 L226.90,379.27 L227.18,379.30 L227.46,379.33 L227.74,379.38 L228.03,379.44 L228.31,379.50 L228.59,379.58 L228.87,379.66 L229.16,379.75 L229.44,379.84 L229.72,379.95 L230.00,380.06 L230.28,380.17 L230.57,380.30 L230.85,380.42 L231.13,380.56 L231.42,380.69 L231.70,380.83 L231.98,380.98 L232.26,381.12 L232.55,381.27 L232.83,381.43 L233.11,381.58 L233.39,381.74 L233.68,381.89 L233.96,382.05 L234.24,382.21 L234.52,382.37 L234.81,382.53 L235.09,382.69 L235.37,382.84 L235.65,383.00 L235.94,383.15 L236.22,383.30 L236.50,383.45 L236.78,383.59 L237.07,383.73 L237.35,383.87 L237.63,384.00 L237.91,384.13 L238.20,384.25 L238.48,384.37 L238.76,384.48 L239.04,384.58 L239.33,384.68 L239.61,384.77 L239.89,384.85 L240.17,384.92 L240.46,384.99 L240.74,385.04 L241.02,385.09 L241.30,385.13 L241.59,385.15 L241.87,385.17 L242.15,385.18 L242.43,385.17 L242.72,385.17 L243.00,385.16 L243.28,385.14 L243.56,385.13 L243.85,385.11 L244.13,385.08 L244.41,385.06 L244.69,385.03 L244.98,384.99 L245.26,384.96 L245.54,384.92 L245.82,384.88 L246.11,384.84 L246.39,384.79 L246.67,384.74 L246.95,384.69 L247.23,384.64 L247.52,384.59 L247.80,384.54 L248.08,384.48 L248.37,384.42 L248.65,384.37 L248.93,384.31 L249.21,384.25 L249.50,384.19 L249.78,384.13 L250.06,384.06 L250.34,384.00 L250.62,383.94 L250.91,383.88 L251.19,383.82 L251.47,383.76 L251.75,383.70 L252.04,383.64 L252.32,383.58 L252.60,383.52 L252.88,383.46 L253.17,383.40 L253.45,383.35 L253.73,383.29 L254.02,383.24 L254.30,383.19 L254.58,383.14 L254.86,383.09 L255.15,383.05 L255.43,383.00 L255.71,382.96 L255.99,382.92 L256.27,382.89 L256.56,382.86 L256.84,382.83 L257.12,382.80 L257.40,382.78 L257.69,382.75 L257.97,382.74 L258.25,382.72 L258.53,382.71 L258.82,382.71 L259.10,382.71 L259.38,382.71 L259.67,382.71 L259.95,382.71 L260.23,382.71 L260.51,382.71 L260.80,382.71 L261.08,382.72 L261.36,382.72 L261.64,382.72 L261.93,382.73 L262.21,382.73 L262.49,382.74 L262.77,382.74 L263.06,382.75 L263.34,382.75 L263.62,382.76 L263.90,382.76 L264.19,382.77 L264.47,382.78 L264.75,382.78 L265.03,382.79 L265.31,382.80 L265.60,382.81 L265.88,382.81 L266.16,382.82 L266.44,382.83 L266.73,382.84 L267.01,382.85 L267.29,382.85 L267.57,382.86 L267.86,382.87 L268.14,382.88 L268.42,382.89 L268.70,382.90 L268.99,382.91 L269.27,382.92 L269.55,382.93 L269.83,382.93 L270.12,382.94 L270.40,382.95 L270.68,382.96 L270.96,382.97 L271.25,382.98 L271.53,382.99 L271.81,383.00 L272.10,383.01 L272.38,383.02 L272.66,383.03 L272.94,383.03 L273.22,383.04 L273.51,383.05 L273.79,383.06 L274.07,383.07 L274.36,383.08 L274.64,383.09 L274.92,383.09 L275.20,383.10 L275.48,383.11 L275.77,383.12 L276.05,383.12 L276.33,383.13 L276.62,383.14 L276.90,383.14 L277.18,383.15 L277.46,383.15 L277.75,383.16 L278.03,383.17 L278.31,383.17 L278.59,383.17 L278.88,383.18 L279.16,383.18 L279.44,383.19 L279.72,383.19 L280.00,383.19 L280.29,383.19 L280.57,383.20 L280.85,383.20 L281.13,383.20 L281.42,383.20 L281.70,383.20 L281.98,383.20 L282.26,383.20 L282.55,383.20 L282.83,383.20 L283.11,383.20 L283.40,383.20 L283.68,383.20 L283.96,383.20 L284.24,383.20 L284.52,383.20 L284.81,383.20 L285.09,383.20 L285.37,383.20 L285.66,383.20 L285.94,383.20 L286.22,383.20 L286.50,383.20 L286.78,383.20 L287.07,383.20 L287.35,383.20 L287.63,383.20 L287.92,383.20 L288.20,383.20 L288.48,383.20 L288.76,383.20 L289.05,383.20 L289.33,383.20 L289.61,383.20 L289.89,383.20 L290.18,383.20 L290.46,383.20 L290.74,383.20 L291.02,383.20 L291.31,383.20 L291.59,383.20 L291.87,383.20 L292.15,383.20 L292.43,383.20 L292.72,383.20 L293.00,383.20 L293.28,383.20 L293.56,383.20 L293.85,383.20 L294.13,383.20 L294.41,383.20 L294.69,383.20 L294.98,383.20 L295.26,383.20 L295.54,383.20 L295.82,383.20 L296.11,383.20 L296.39,383.20 L296.67,383.20 L296.95,383.20 L297.24,383.20 L297.52,383.20 L297.80,383.20 L298.08,383.20 L298.37,383.20 L298.65,383.20 L298.93,383.20 L299.21,383.20 L299.50,383.20 L299.78,383.20 L300.06,383.20 L300.35,383.20 L300.63,383.20 L300.91,383.20 L301.19,383.20 L301.47,383.20 L301.76,383.20 L302.04,383.20 L302.32,383.20 L302.61,383.20 L302.89,383.20 L303.17,383.20 L303.45,383.20 L303.73,383.20 L304.02,383.20 L304.30,383.20 L304.58,383.20 L304.87,383.20 L305.15,383.20 L305.43,383.20 L305.71,383.20 L305.99,383.20 L306.28,383.20 L306.56,383.20 L306.84,383.20 L307.12,383.20 L307.41,383.20 L307.69,383.20 L307.97,383.20 L308.25,383.20 L308.54,383.20 L308.82,383.20 L309.10,383.20 L309.38,383.20 L309.67,383.20 L309.95,383.20 L310.23,383.20 L310.51,383.20 L310.80,383.20 L311.08,383.20 L311.36,383.20 L311.64,383.20 L311.93,383.20 L312.21,383.20 L312.49,383.20 L312.77,383.20 L313.06,383.20 L313.34,383.20 L313.62,383.20 L313.91,383.20 L314.19,383.20 L314.47,383.20 L314.75,383.20 L315.03,383.20 L315.32,383.20 L315.60,383.20 L315.88,383.20 L316.17,383.20 L316.45,383.20 L316.73,383.20 L317.01,383.20 L317.29,383.20 L317.58,383.20 L317.86,383.20 L318.14,383.20 L318.43,383.20 L318.71,383.20 L318.99,383.20 L319.27,383.20 L319.56,383.20 L319.84,383.20 L320.12,383.20 L320.40,383.20 L320.68,383.20 L320.97,383.20 L321.25,383.20 L321.53,383.20 L321.81,383.20 L322.10,383.20 L322.38,383.20 L322.66,383.20 L322.94,383.20 L323.23,383.20 L323.51,383.20 L323.79,383.20 L324.07,383.20 L324.36,383.20 L324.64,383.20 L324.92,383.20 L325.20,383.20 L325.49,383.20 L325.77,383.20 L326.05,383.20 L326.33,383.20 L326.62,383.20 L326.90,383.20 L327.18,383.20 L327.46,383.20 L327.75,383.20 L328.03,383.20 L328.31,383.20 L328.59,383.20 L328.88,383.20 L329.16,383.20 L329.44,383.20 L329.72,383.20 L330.01,383.20 L330.29,383.20 L330.57,383.20 L330.86,383.20 L331.14,383.20 L331.42,383.20 L331.70,383.20 L331.98,383.20 L332.27,383.20 L332.55,383.20 L332.83,383.20 L333.12,383.20 L333.40,383.20 L333.68,383.20 L333.96,383.20 L334.24,383.20 L334.53,383.20 L334.81,383.20 L335.09,383.20 L335.38,383.20 L335.66,383.20 L335.94,383.20 L336.22,383.20 L336.50,383.20 L336.79,383.20 L337.07,383.20 L337.35,383.20 L337.63,383.20 L337.92,383.20 L338.20,383.20 L338.48,383.20 L338.76,383.20 L339.05,383.20 L339.33,383.20 L339.61,383.20 L339.89,383.20 L340.18,383.20 L340.46,383.20 L340.74,383.20 L341.02,383.20 L341.31,383.20 L341.59,383.20 L341.87,383.20 L342.16,383.20 L342.44,383.20 L342.72,383.20 L343.00,383.20 L343.28,383.20 L343.57,383.20 L343.85,383.20 L344.13,383.20 L344.42,383.20 L344.70,383.20 L344.98,383.20 L345.26,383.20 L345.54,383.20 L345.83,383.20 L346.11,383.20 L346.39,383.20 L346.68,383.20 L346.96,383.20 L347.24,383.20 L347.52,383.20 L347.81,383.20 L348.09,383.20 L348.37,383.20 L348.65,383.20 L348.93,383.20 L349.22,383.20 L349.50,383.20 L349.78,383.20 L350.06,383.20 L350.35,383.20 L350.63,383.20 L350.91,383.20 L351.19,383.20 L351.48,383.20 L351.76,383.20 L352.04,383.20 L352.32,383.20 L352.61,383.20 L352.89,383.20 L353.17,383.20 L353.45,383.20 L353.74,383.20 L354.02,383.20 L354.30,383.20 L354.58,383.20 L354.87,383.20 L355.15,383.20 L355.43,383.20 L355.71,383.20 L356.00,383.20 L356.28,383.20 L356.56,383.20 L356.84,383.20 L357.13,383.20 L357.41,383.20 L357.69,383.20 L357.97,383.20 L358.26,383.20 L358.54,383.20 L358.82,383.20 L359.11,383.20 L359.39,383.20 L359.67,383.20 L359.95,383.20 L360.23,383.20 L360.52,383.20 L360.80,383.20 L361.08,383.20 L361.37,383.20 L361.65,383.20 L361.93,383.20 L362.21,383.20 L362.49,383.20 L362.78,383.20 L363.06,383.20 L363.34,383.20 L363.62,383.20 L363.91,383.20 L364.19,383.20 L364.47,383.20 L364.75,383.20 L365.04,383.20 L365.32,383.20 L365.60,383.20 L365.88,383.20 L366.17,383.20 L366.45,383.20 L366.73,383.20 L367.01,383.20 L367.30,383.20 L367.58,383.20 L367.86,383.20 L368.14,383.20 L368.43,383.20 L368.71,383.20 L368.99,383.20 L369.27,383.20 L369.56,383.20 L369.84,383.20 L370.12,383.20 L370.41,383.20 L370.69,383.20 L370.97,383.20 L371.25,383.20 L371.53,383.20 L371.82,383.20 L372.10,383.20 L372.38,383.20 L372.67,383.20 L372.95,383.20 L373.23,383.20 L373.51,383.20 L373.79,383.20 L374.08,383.20 L374.36,383.20 L374.64,383.20 L374.93,383.20 L375.21,383.20 L375.49,383.20 L375.77,383.20 L376.06,383.20 L376.34,383.20 L376.62,383.20 L376.90,383.20 L377.18,383.20 L377.47,383.20 L377.75,383.20 L378.03,383.20 L378.31,383.20 L378.60,383.20 L378.88,383.20 L379.16,383.20 L379.44,383.20 L379.73,383.20 L380.01,383.20 L380.29,383.20 L380.57,383.20 L380.86,383.20 L381.14,383.20 L381.42,383.20 L381.70,383.20 L381.99,383.20 L382.27,383.20 L382.55,383.20 L382.83,383.20 L383.12,383.20 L383.40,383.20 L383.68,383.20 L383.96,383.20 L384.25,383.20 L384.53,383.20 L384.81,383.20 L385.09,383.20 L385.38,383.20 L385.66,383.20 L385.94,383.20 L386.22,383.20 L386.51,383.20 L386.79,383.20 L387.07,383.20 L387.36,383.20 L387.64,383.20 L387.92,383.20 L388.20,383.20 L388.48,383.20 L388.77,383.20 L389.05,383.20 L389.33,383.20 L389.62,383.20 L389.90,383.20 L390.18,383.20 L390.46,383.20 L390.74,383.20 L391.03,383.20 L391.31,383.20 L391.59,383.20 L391.88,383.20 L392.16,383.20 L392.44,383.20 L392.72,383.20 L393.00,383.20 L393.29,383.20 L393.57,383.20 L393.85,383.20 L394.13,383.20 L394.42,383.20 L394.70,383.20 L394.98,383.20 L395.26,383.20 L395.55,383.20 L395.83,383.20 L396.11,383.20 L396.39,383.20 L396.68,383.20 L396.96,383.20 L397.24,383.20 L397.52,383.20 L397.81,383.20 L398.09,383.20 L398.37,383.20 L398.66,383.20 L398.94,383.20 L399.22,383.20 L399.50,383.20 L399.78,383.20 L400.07,383.20 L400.35,383.20 L400.63,383.20 L400.92,383.20 L401.20,383.20 L401.48,383.20 L401.76,383.20 L402.04,383.20 L402.33,383.20 L402.61,383.20 L402.89,383.20 L403.18,383.20 L403.46,383.20 L403.74,383.20 L404.02,383.20 L404.31,383.20 L404.59,383.20 L404.87,383.20 L405.15,383.20 L405.44,383.20 L405.72,383.20 L406.00,383.20 L406.28,383.20 L406.56,383.20 L406.85,383.20 L407.13,383.20 L407.41,383.20 L407.69,383.20 L407.98,383.20 L408.26,383.20 L408.54,383.20 L408.82,383.20 L409.11,383.20 L409.39,383.20 L409.67,383.20 L409.95,383.20 L410.24,383.20 L410.52,383.20 L410.80,383.20 L411.08,383.20 L411.37,383.20 L411.65,383.20 L411.93,383.20 L412.21,383.20 L412.50,383.20 L412.78,383.20 L413.06,383.20 L413.34,383.20 L413.63,383.20 L413.91,383.20 L414.19,383.20 L414.47,383.20 L414.76,383.20 L415.04,383.20 L415.32,383.20 L415.61,383.20 L415.89,383.20 L416.17,383.20 L416.45,383.20 L416.73,383.20 L417.02,383.20 L417.30,383.20 L417.58,383.20 L417.87,383.20 L418.15,383.20 L418.43,383.20 L418.71,383.20 L418.99,383.20 L419.28,383.20 L419.56,383.20 L419.84,383.20 L420.12,383.20 L420.41,383.20 L420.69,383.20 L420.97,383.20 L421.25,383.20 L421.54,383.20 L421.82,383.20 L422.10,383.20 L422.38,383.20 L422.67,383.20 L422.95,383.20 L423.23,383.20 L423.51,383.20 L423.80,383.20 L424.08,383.20 L424.36,383.20 L424.64,383.20 L424.93,383.20 L425.21,383.20 L425.49,383.20 L425.77,383.20 L426.06,383.20 L426.34,383.20 L426.62,383.20 L426.91,383.20 L427.19,383.20 L427.47,383.20 L427.75,383.20 L428.03,383.20 L428.32,383.20 L428.60,383.20 L428.88,383.20 L429.17,383.20 L429.45,383.20 L429.73,383.20 L430.01,383.20 L430.29,383.20 L430.58,383.20 L430.86,383.20 L431.14,383.20 L431.43,383.20 L431.71,383.20 L431.99,383.20 L432.27,383.20 L432.56,383.20 L432.84,383.20 L433.12,383.20 L433.40,383.20 L433.69,383.20 L433.97,383.20 L434.25,383.20 L434.53,383.20 L434.81,383.20 L435.10,383.20 L435.38,383.20 L435.66,383.20 L435.94,383.20 L436.23,383.20 L436.51,383.20 L436.79,383.20 L437.07,383.20 L437.36,383.20 L437.64,383.20 L437.92,383.20 L438.20,383.20 L438.49,383.20 L438.77,383.20 L439.05,383.20 L439.33,383.20 L439.62,383.20 L439.90,383.20" stroke="#2d8fd9" stroke-width="1.3"/>
<path d="M44.40,383.20 L44.68,383.20 L44.96,383.20 L45.25,383.20 L45.53,383.20 L45.81,383.20 L46.09,383.20 L46.38,383.20 L46.66,383.20 L46.94,383.20 L47.23,383.20 L47.51,383.20 L47.79,383.20 L48.07,383.20 L48.35,383.20 L48.64,383.20 L48.92,383.20 L49.20,383.20 L49.48,383.20 L49.77,383.20 L50.05,383.20 L50.33,383.20 L50.61,383.20 L50.90,383.20 L51.18,383.20 L51.46,383.20 L51.74,383.20 L52.03,383.20 L52.31,383.20 L52.59,383.20 L52.88,383.20 L53.16,383.20 L53.44,383.20 L53.72,383.20 L54.00,383.20 L54.29,383.20 L54.57,383.20 L54.85,383.20 L55.13,383.20 L55.42,383.20 L55.70,383.20 L55.98,383.20 L56.27,383.20 L56.55,383.20 L56.83,383.20 L57.11,383.20 L57.39,383.20 L57.68,383.20 L57.96,383.20 L58.24,383.20 L58.52,383.20 L58.81,383.20 L59.09,383.20 L59.37,383.20 L59.66,383.20 L59.94,383.20 L60.22,383.20 L60.50,383.20 L60.78,383.20 L61.07,383.20 L61.35,383.20 L61.63,383.20 L61.91,383.20 L62.20,383.20 L62.48,383.20 L62.76,383.20 L63.05,383.20 L63.33,383.20 L63.61,383.20 L63.89,383.20 L64.17,383.20 L64.46,383.20 L64.74,383.20 L65.02,383.20 L65.31,383.20 L65.59,383.20 L65.87,383.20 L66.15,383.20 L66.44,383.20 L66.72,383.20 L67.00,383.20 L67.28,383.20 L67.56,383.20 L67.85,383.20 L68.13,383.20 L68.41,383.20 L68.69,383.20 L68.98,383.20 L69.26,383.20 L69.54,383.20 L69.83,383.20 L70.11,383.20 L70.39,383.20 L70.67,383.20 L70.95,383.20 L71.24,383.20 L71.52,383.20 L71.80,383.20 L72.08,383.20 L72.37,383.20 L72.65,383.20 L72.93,383.20 L73.22,383.20 L73.50,383.20 L73.78,383.20 L74.06,383.20 L74.34,383.20 L74.63,383.20 L74.91,383.20 L75.19,383.20 L75.47,383.20 L75.76,383.20 L76.04,383.20 L76.32,383.22 L76.61,383.34 L76.89,383.56 L77.17,383.87 L77.45,384.28 L77.73,384.77 L78.02,385.34 L78.30,385.99 L78.58,386.70 L78.86,387.49 L79.15,388.33 L79.43,389.22 L79.71,390.17 L80.00,391.16 L80.28,392.18 L80.56,393.24 L80.84,394.33 L81.12,395.45 L81.41,396.58 L81.69,397.72 L81.97,398.87 L82.25,400.02 L82.54,401.17 L82.82,402.31 L83.10,403.44 L83.39,404.54 L83.67,405.63 L83.95,406.68 L84.23,407.70 L84.51,408.68 L84.80,409.62 L85.08,410.50 L85.36,411.33 L85.64,412.10 L85.93,412.81 L86.21,413.44 L86.49,414.00 L86.78,414.47 L87.06,414.86 L87.34,415.15 L87.62,415.35 L87.91,415.45 L88.19,415.41 L88.47,415.14 L88.75,414.64 L89.03,413.91 L89.32,412.96 L89.60,411.80 L89.88,410.45 L90.16,408.92 L90.45,407.20 L90.73,405.32 L91.01,403.29 L91.30,401.10 L91.58,398.78 L91.86,396.33 L92.14,393.76 L92.42,391.09 L92.71,388.31 L92.99,385.45 L93.27,382.51 L93.56,379.50 L93.84,376.43 L94.12,373.31 L94.40,370.16 L94.69,366.97 L94.97,363.77 L95.25,360.55 L95.53,357.33 L95.81,354.13 L96.10,350.94 L96.38,347.79 L96.66,344.67 L96.94,341.60 L97.23,338.59 L97.51,335.65 L97.79,332.79 L98.08,330.01 L98.36,327.34 L98.64,324.77 L98.92,322.32 L99.20,320.00 L99.49,317.81 L99.77,315.78 L100.05,313.90 L100.34,312.18 L100.62,310.65 L100.90,309.30 L101.18,308.14 L101.47,307.19 L101.75,306.46 L102.03,305.96 L102.31,305.69 L102.59,305.67 L102.88,305.95 L103.16,306.54 L103.44,307.43 L103.72,308.59 L104.01,310.03 L104.29,311.72 L104.57,313.66 L104.86,315.83 L105.14,318.23 L105.42,320.83 L105.70,323.63 L105.99,326.62 L106.27,329.78 L106.55,333.11 L106.83,336.59 L107.12,340.20 L107.40,343.94 L107.68,347.80 L107.96,351.75 L108.25,355.80 L108.53,359.93 L108.81,364.12 L109.09,368.37 L109.38,372.67 L109.66,376.99 L109.94,381.33 L110.22,385.68 L110.50,390.03 L110.79,394.35 L111.07,398.65 L111.35,402.91 L111.63,407.12 L111.92,411.26 L112.20,415.32 L112.48,419.30 L112.76,423.18 L113.05,426.94 L113.33,430.58 L113.61,434.09 L113.90,437.44 L114.18,440.64 L114.46,443.67 L114.74,446.51 L115.03,449.15 L115.31,451.59 L115.59,453.81 L115.87,455.79 L116.16,457.54 L116.44,459.02 L116.72,460.24 L117.00,461.19 L117.28,461.84 L117.57,462.18 L117.85,462.22 L118.13,462.01 L118.41,461.56 L118.70,460.90 L118.98,460.02 L119.26,458.94 L119.55,457.66 L119.83,456.19 L120.11,454.55 L120.39,452.73 L120.68,450.76 L120.96,448.63 L121.24,446.36 L121.52,443.95 L121.81,441.41 L122.09,438.76 L122.37,436.00 L122.65,433.13 L122.94,430.17 L123.22,427.13 L123.50,424.01 L123.78,420.83 L124.06,417.59 L124.35,414.30 L124.63,410.96 L124.91,407.60 L125.19,404.21 L125.48,400.80 L125.76,397.39 L126.04,393.98 L126.32,390.58 L126.61,387.19 L126.89,383.84 L127.17,380.52 L127.45,377.25 L127.74,374.03 L128.02,370.87 L128.30,367.78 L128.59,364.77 L128.87,361.85 L129.15,359.02 L129.43,356.30 L129.72,353.70 L130.00,351.21 L130.28,348.86 L130.56,346.64 L130.84,344.57 L131.13,342.66 L131.41,340.91 L131.69,339.34 L131.97,337.95 L132.26,336.75 L132.54,335.74 L132.82,334.95 L133.10,334.37 L133.39,334.02 L133.67,333.90 L133.95,333.97 L134.24,334.19 L134.52,334.55 L134.80,335.04 L135.08,335.66 L135.37,336.41 L135.65,337.27 L135.93,338.24 L136.21,339.33 L136.50,340.51 L136.78,341.79 L137.06,343.16 L137.34,344.62 L137.62,346.16 L137.91,347.77 L138.19,349.45 L138.47,351.20 L138.75,353.00 L139.04,354.86 L139.32,356.77 L139.60,358.72 L139.88,360.71 L140.17,362.73 L140.45,364.77 L140.73,366.84 L141.01,368.93 L141.30,371.02 L141.58,373.12 L141.86,375.22 L142.15,377.32 L142.43,379.40 L142.71,381.47 L142.99,383.52 L143.28,385.54 L143.56,387.52 L143.84,389.48 L144.12,391.38 L144.41,393.24 L144.69,395.05 L144.97,396.79 L145.25,398.48 L145.53,400.09 L145.82,401.63 L146.10,403.08 L146.38,404.45 L146.66,405.73 L146.95,406.92 L147.23,408.00 L147.51,408.98 L147.80,409.84 L148.08,410.58 L148.36,411.20 L148.64,411.69 L148.93,412.05 L149.21,412.27 L149.49,412.35 L149.77,412.31 L150.06,412.19 L150.34,411.99 L150.62,411.72 L150.90,411.38 L151.19,410.97 L151.47,410.50 L151.75,409.97 L152.03,409.37 L152.31,408.72 L152.60,408.02 L152.88,407.27 L153.16,406.47 L153.44,405.63 L153.73,404.75 L154.01,403.83 L154.29,402.87 L154.57,401.88 L154.86,400.86 L155.14,399.82 L155.42,398.75 L155.70,397.66 L155.99,396.55 L156.27,395.43 L156.55,394.30 L156.84,393.16 L157.12,392.01 L157.40,390.86 L157.68,389.71 L157.97,388.56 L158.25,387.42 L158.53,386.28 L158.81,385.16 L159.09,384.06 L159.38,382.97 L159.66,381.90 L159.94,380.85 L160.22,379.83 L160.51,378.85 L160.79,377.89 L161.07,376.97 L161.35,376.08 L161.64,375.24 L161.92,374.44 L162.20,373.69 L162.48,372.99 L162.77,372.34 L163.05,371.75 L163.33,371.21 L163.61,370.74 L163.90,370.33 L164.18,369.99 L164.46,369.72 L164.75,369.53 L165.03,369.41 L165.31,369.37 L165.59,369.40 L165.88,369.48 L166.16,369.61 L166.44,369.80 L166.72,370.03 L167.00,370.30 L167.29,370.62 L167.57,370.98 L167.85,371.37 L168.13,371.81 L168.42,372.27 L168.70,372.76 L168.98,373.29 L169.26,373.84 L169.55,374.41 L169.83,375.00 L170.11,375.62 L170.40,376.25 L170.68,376.89 L170.96,377.54 L171.24,378.21 L171.53,378.88 L171.81,379.56 L172.09,380.24 L172.37,380.91 L172.66,381.59 L172.94,382.26 L173.22,382.93 L173.50,383.58 L173.78,384.23 L174.07,384.86 L174.35,385.47 L174.63,386.06 L174.92,386.64 L175.20,387.18 L175.48,387.71 L175.76,388.20 L176.05,388.67 L176.33,389.10 L176.61,389.49 L176.89,389.85 L177.18,390.17 L177.46,390.45 L177.74,390.68 L178.02,390.86 L178.31,390.99 L178.59,391.08 L178.87,391.10 L179.15,391.08 L179.44,391.02 L179.72,390.92 L180.00,390.78 L180.28,390.61 L180.57,390.40 L180.85,390.17 L181.13,389.90 L181.41,389.60 L181.70,389.29 L181.98,388.94 L182.26,388.58 L182.54,388.20 L182.83,387.79 L183.11,387.38 L183.39,386.95 L183.67,386.51 L183.96,386.05 L184.24,385.59 L184.52,385.13 L184.80,384.66 L185.09,384.19 L185.37,383.72 L185.65,383.25 L185.93,382.78 L186.22,382.32 L186.50,381.87 L186.78,381.43 L187.06,381.00 L187.35,380.58 L187.63,380.18 L187.91,379.80 L188.19,379.43 L188.48,379.09 L188.76,378.77 L189.04,378.48 L189.32,378.21 L189.60,377.97 L189.89,377.77 L190.17,377.59 L190.45,377.46 L190.73,377.36 L191.02,377.29 L191.30,377.27 L191.58,377.29 L191.87,377.36 L192.15,377.46 L192.43,377.60 L192.71,377.78 L193.00,377.99 L193.28,378.23 L193.56,378.51 L193.84,378.80 L194.12,379.12 L194.41,379.47 L194.69,379.83 L194.97,380.21 L195.25,380.61 L195.54,381.02 L195.82,381.45 L196.10,381.88 L196.38,382.31 L196.67,382.76 L196.95,383.20 L197.23,383.64 L197.52,384.09 L197.80,384.52 L198.08,384.95 L198.36,385.38 L198.65,385.79 L198.93,386.19 L199.21,386.57 L199.49,386.93 L199.78,387.28 L200.06,387.60 L200.34,387.89 L200.62,388.17 L200.91,388.41 L201.19,388.62 L201.47,388.80 L201.75,388.94 L202.03,389.04 L202.32,389.11 L202.60,389.13 L202.88,389.12 L203.17,389.11 L203.45,389.08 L203.73,389.04 L204.01,388.99 L204.30,388.93 L204.58,388.87 L204.86,388.79 L205.14,388.70 L205.43,388.61 L205.71,388.50 L205.99,388.39 L206.27,388.27 L206.56,388.15 L206.84,388.01 L207.12,387.87 L207.40,387.72 L207.69,387.57 L207.97,387.40 L208.25,387.24 L208.53,387.06 L208.82,386.89 L209.10,386.70 L209.38,386.51 L209.66,386.32 L209.95,386.12 L210.23,385.92 L210.51,385.72 L210.79,385.51 L211.08,385.30 L211.36,385.08 L211.64,384.87 L211.92,384.65 L212.21,384.43 L212.49,384.21 L212.77,383.98 L213.05,383.76 L213.34,383.53 L213.62,383.30 L213.90,383.08 L214.18,382.85 L214.47,382.62 L214.75,382.40 L215.03,382.17 L215.31,381.95 L215.60,381.73 L215.88,381.50 L216.16,381.29 L216.44,381.07 L216.73,380.85 L217.01,380.64 L217.29,380.44 L217.57,380.23 L217.86,380.03 L218.14,379.83 L218.42,379.64 L218.70,379.45 L218.98,379.27 L219.27,379.09 L219.55,378.92 L219.83,378.75 L220.12,378.59 L220.40,378.43 L220.68,378.28 L220.96,378.14 L221.25,378.01 L221.53,377.88 L221.81,377.76 L222.09,377.65 L222.38,377.55 L222.66,377.45 L222.94,377.36 L223.22,377.29 L223.50,377.22 L223.79,377.16 L224.07,377.11 L224.35,377.07 L224.63,377.05 L224.92,377.03 L225.20,377.02 L225.48,377.03 L225.77,377.05 L226.05,377.08 L226.33,377.13 L226.61,377.19 L226.90,377.25 L227.18,377.33 L227.46,377.42 L227.74,377.52 L228.03,377.63 L228.31,377.76 L228.59,377.88 L228.87,378.02 L229.16,378.17 L229.44,378.33 L229.72,378.49 L230.00,378.66 L230.28,378.84 L230.57,379.02 L230.85,379.21 L231.13,379.41 L231.42,379.61 L231.70,379.82 L231.98,380.03 L232.26,380.25 L232.55,380.47 L232.83,380.70 L233.11,380.93 L233.39,381.16 L233.68,381.39 L233.96,381.63 L234.24,381.87 L234.52,382.11 L234.81,382.35 L235.09,382.59 L235.37,382.83 L235.65,383.07 L235.94,383.31 L236.22,383.55 L236.50,383.79 L236.78,384.03 L237.07,384.27 L237.35,384.50 L237.63,384.73 L237.91,384.96 L238.20,385.19 L238.48,385.41 L238.76,385.62 L239.04,385.84 L239.33,386.04 L239.61,386.25 L239.89,386.44 L240.17,386.64 L240.46,386.82 L240.74,387.00 L241.02,387.17 L241.30,387.33 L241.59,387.49 L241.87,387.64 L242.15,387.77 L242.43,387.90 L242.72,388.02 L243.00,388.14 L243.28,388.24 L243.56,388.33 L243.85,388.41 L244.13,388.47 L244.41,388.53 L244.69,388.58 L244.98,388.61 L245.26,388.63 L245.54,388.63 L245.82,388.63 L246.11,388.61 L246.39,388.59 L246.67,388.55 L246.95,388.50 L247.23,388.44 L247.52,388.38 L247.80,388.30 L248.08,388.22 L248.37,388.13 L248.65,388.03 L248.93,387.92 L249.21,387.80 L249.50,387.68 L249.78,387.55 L250.06,387.41 L250.34,387.27 L250.62,387.12 L250.91,386.97 L251.19,386.81 L251.47,386.64 L251.75,386.47 L252.04,386.29 L252.32,386.12 L252.60,385.93 L252.88,385.75 L253.17,385.55 L253.45,385.36 L253.73,385.17 L254.02,384.97 L254.30,384.77 L254.58,384.56 L254.86,384.36 L255.15,384.15 L255.43,383.95 L255.71,383.74 L255.99,383.53 L256.27,383.32 L256.56,383.11 L256.84,382.91 L257.12,382.70 L257.40,382.49 L257.69,382.29 L257.97,382.09 L258.25,381.89 L258.53,381.69 L258.82,381.49 L259.10,381.30 L259.38,381.11 L259.67,380.92 L259.95,380.74 L260.23,380.56 L260.51,380.39 L260.80,380.22 L261.08,380.06 L261.36,379.90 L261.64,379.74 L261.93,379.59 L262.21,379.45 L262.49,379.32 L262.77,379.19 L263.06,379.07 L263.34,378.95 L263.62,378.85 L263.90,378.75 L264.19,378.66 L264.47,378.57 L264.75,378.50 L265.03,378.44 L265.31,378.38 L265.60,378.34 L265.88,378.30 L266.16,378.28 L266.44,378.26 L266.73,378.26 L267.01,378.27 L267.29,378.29 L267.57,378.31 L267.86,378.35 L268.14,378.40 L268.42,378.45 L268.70,378.52 L268.99,378.59 L269.27,378.67 L269.55,378.76 L269.83,378.86 L270.12,378.96 L270.40,379.07 L270.68,379.19 L270.96,379.32 L271.25,379.45 L271.53,379.59 L271.81,379.73 L272.10,379.88 L272.38,380.03 L272.66,380.19 L272.94,380.35 L273.22,380.52 L273.51,380.69 L273.79,380.87 L274.07,381.05 L274.36,381.23 L274.64,381.41 L274.92,381.60 L275.20,381.79 L275.48,381.98 L275.77,382.18 L276.05,382.37 L276.33,382.57 L276.62,382.76 L276.90,382.96 L277.18,383.16 L277.46,383.36 L277.75,383.56 L278.03,383.75 L278.31,383.95 L278.59,384.15 L278.88,384.34 L279.16,384.53 L279.44,384.72 L279.72,384.91 L280.00,385.10 L280.29,385.28 L280.57,385.46 L280.85,385.64 L281.13,385.81 L281.42,385.98 L281.70,386.14 L281.98,386.30 L282.26,386.46 L282.55,386.61 L282.83,386.76 L283.11,386.90 L283.40,387.03 L283.68,387.16 L283.96,387.28 L284.24,387.39 L284.52,387.50 L284.81,387.60 L285.09,387.69 L285.37,387.78 L285.66,387.85 L285.94,387.92 L286.22,387.98 L286.50,388.03 L286.78,388.07 L287.07,388.11 L287.35,388.13 L287.63,388.14 L287.92,388.14 L288.20,388.11 L288.48,388.04 L288.76,387.94 L289.05,387.82 L289.33,387.66 L289.61,387.48 L289.89,387.28 L290.18,387.05 L290.46,386.80 L290.74,386.54 L291.02,386.25 L291.31,385.96 L291.59,385.64 L291.87,385.32 L292.15,384.99 L292.43,384.64 L292.72,384.30 L293.00,383.94 L293.28,383.59 L293.56,383.23 L293.85,382.88 L294.13,382.53 L294.41,382.18 L294.69,381.84 L294.98,381.51 L295.26,381.19 L295.54,380.88 L295.82,380.58 L296.11,380.30 L296.39,380.04 L296.67,379.79 L296.95,379.57 L297.24,379.37 L297.52,379.20 L297.80,379.05 L298.08,378.93 L298.37,378.84 L298.65,378.78 L298.93,378.75 L299.21,378.76 L299.50,378.78 L299.78,378.81 L300.06,378.86 L300.35,378.91 L300.63,378.99 L300.91,379.07 L301.19,379.16 L301.47,379.27 L301.76,379.39 L302.04,379.51 L302.32,379.65 L302.61,379.80 L302.89,379.95 L303.17,380.12 L303.45,380.29 L303.73,380.47 L304.02,380.66 L304.30,380.85 L304.58,381.05 L304.87,381.26 L305.15,381.47 L305.43,381.69 L305.71,381.91 L305.99,382.14 L306.28,382.37 L306.56,382.60 L306.84,382.83 L307.12,383.07 L307.41,383.31 L307.69,383.55 L307.97,383.80 L308.25,384.04 L308.54,384.29 L308.82,384.53 L309.10,384.77 L309.38,385.01 L309.67,385.26 L309.95,385.49 L310.23,385.73 L310.51,385.96 L310.80,386.19 L311.08,386.42 L311.36,386.64 L311.64,386.86 L311.93,387.08 L312.21,387.28 L312.49,387.48 L312.77,387.68 L313.06,387.87 L313.34,388.05 L313.62,388.22 L313.91,388.39 L314.19,388.55 L314.47,388.70 L314.75,388.83 L315.03,388.96 L315.32,389.08 L315.60,389.19 L315.88,389.29 L316.17,389.37 L316.45,389.45 L316.73,389.51 L317.01,389.56 L317.29,389.59 L317.58,389.61 L317.86,389.62 L318.14,389.61 L318.43,389.59 L318.71,389.56 L318.99,389.51 L319.27,389.44 L319.56,389.36 L319.84,389.27 L320.12,389.17 L320.40,389.06 L320.68,388.93 L320.97,388.80 L321.25,388.65 L321.53,388.50 L321.81,388.33 L322.10,388.15 L322.38,387.97 L322.66,387.78 L322.94,387.58 L323.23,387.37 L323.51,387.15 L323.79,386.93 L324.07,386.70 L324.36,386.47 L324.64,386.23 L324.92,385.98 L325.20,385.73 L325.49,385.48 L325.77,385.22 L326.05,384.96 L326.33,384.70 L326.62,384.43 L326.90,384.16 L327.18,383.89 L327.46,383.62 L327.75,383.35 L328.03,383.08 L328.31,382.80 L328.59,382.53 L328.88,382.26 L329.16,381.99 L329.44,381.72 L329.72,381.46 L330.01,381.19 L330.29,380.93 L330.57,380.67 L330.86,380.42 L331.14,380.17 L331.42,379.92 L331.70,379.69 L331.98,379.45 L332.27,379.22 L332.55,379.00 L332.83,378.78 L333.12,378.58 L333.40,378.38 L333.68,378.18 L333.96,378.00 L334.24,377.82 L334.53,377.66 L334.81,377.50 L335.09,377.35 L335.38,377.22 L335.66,377.09 L335.94,376.98 L336.22,376.88 L336.50,376.79 L336.79,376.71 L337.07,376.65 L337.35,376.60 L337.63,376.56 L337.92,376.54 L338.20,376.53 L338.48,376.54 L338.76,376.55 L339.05,376.58 L339.33,376.62 L339.61,376.67 L339.89,376.73 L340.18,376.80 L340.46,376.88 L340.74,376.97 L341.02,377.07 L341.31,377.18 L341.59,377.30 L341.87,377.42 L342.16,377.55 L342.44,377.69 L342.72,377.84 L343.00,377.99 L343.28,378.15 L343.57,378.32 L343.85,378.50 L344.13,378.68 L344.42,378.86 L344.70,379.05 L344.98,379.25 L345.26,379.45 L345.54,379.65 L345.83,379.86 L346.11,380.07 L346.39,380.29 L346.68,380.50 L346.96,380.73 L347.24,380.95 L347.52,381.18 L347.81,381.40 L348.09,381.63 L348.37,381.87 L348.65,382.10 L348.93,382.33 L349.22,382.57 L349.50,382.80 L349.78,383.03 L350.06,383.27 L350.35,383.50 L350.63,383.73 L350.91,383.96 L351.19,384.19 L351.48,384.42 L351.76,384.64 L352.04,384.86 L352.32,385.08 L352.61,385.30 L352.89,385.51 L353.17,385.72 L353.45,385.93 L353.74,386.13 L354.02,386.32 L354.30,386.51 L354.58,386.70 L354.87,386.88 L355.15,387.06 L355.43,387.22 L355.71,387.39 L356.00,387.54 L356.28,387.69 L356.56,387.83 L356.84,387.97 L357.13,388.09 L357.41,388.21 L357.69,388.32 L357.97,388.42 L358.26,388.51 L358.54,388.59 L358.82,388.67 L359.11,388.73 L359.39,388.78 L359.67,388.82 L359.95,388.85 L360.23,388.87 L360.52,388.88 L360.80,388.88 L361.08,388.86 L361.37,388.84 L361.65,388.81 L361.93,388.77 L362.21,388.72 L362.49,388.66 L362.78,388.59 L363.06,388.51 L363.34,388.43 L363.62,388.34 L363.91,388.24 L364.19,388.13 L364.47,388.02 L364.75,387.90 L365.04,387.78 L365.32,387.65 L365.60,387.51 L365.88,387.37 L366.17,387.22 L366.45,387.07 L366.73,386.91 L367.01,386.75 L367.30,386.59 L367.58,386.42 L367.86,386.25 L368.14,386.08 L368.43,385.90 L368.71,385.72 L368.99,385.54 L369.27,385.36 L369.56,385.17 L369.84,384.99 L370.12,384.80 L370.41,384.61 L370.69,384.42 L370.97,384.24 L371.25,384.05 L371.53,383.86 L371.82,383.67 L372.10,383.49 L372.38,383.30 L372.67,383.12 L372.95,382.94 L373.23,382.76 L373.51,382.58 L373.79,382.41 L374.08,382.24 L374.36,382.07 L374.64,381.90 L374.93,381.74 L375.21,381.58 L375.49,381.43 L375.77,381.28 L376.06,381.14 L376.34,381.00 L376.62,380.87 L376.90,380.75 L377.18,380.63 L377.47,380.51 L377.75,380.41 L378.03,380.30 L378.31,380.21 L378.60,380.13 L378.88,380.05 L379.16,379.98 L379.44,379.92 L379.73,379.87 L380.01,379.82 L380.29,379.79 L380.57,379.76 L380.86,379.75 L381.14,379.74 L381.42,379.75 L381.70,379.76 L381.99,379.79 L382.27,379.83 L382.55,379.87 L382.83,379.93 L383.12,379.99 L383.40,380.06 L383.68,380.14 L383.96,380.23 L384.25,380.32 L384.53,380.43 L384.81,380.54 L385.09,380.65 L385.38,380.77 L385.66,380.90 L385.94,381.03 L386.22,381.16 L386.51,381.30 L386.79,381.45 L387.07,381.59 L387.36,381.74 L387.64,381.90 L387.92,382.05 L388.20,382.21 L388.48,382.37 L388.77,382.53 L389.05,382.69 L389.33,382.86 L389.62,383.02 L389.90,383.18 L390.18,383.34 L390.46,383.50 L390.74,383.66 L391.03,383.82 L391.31,383.98 L391.59,384.13 L391.88,384.28 L392.16,384.43 L392.44,384.58 L392.72,384.72 L393.00,384.85 L393.29,384.98 L393.57,385.11 L393.85,385.23 L394.13,385.35 L394.42,385.46 L394.70,385.56 L394.98,385.66 L395.26,385.75 L395.55,385.83 L395.83,385.90 L396.11,385.97 L396.39,386.02 L396.68,386.07 L396.96,386.11 L397.24,386.14 L397.52,386.16 L397.81,386.16 L398.09,386.16 L398.37,386.15 L398.66,386.13 L398.94,386.11 L399.22,386.07 L399.50,386.03 L399.78,385.98 L400.07,385.93 L400.35,385.87 L400.63,385.80 L400.92,385.73 L401.20,385.65 L401.48,385.57 L401.76,385.48 L402.04,385.38 L402.33,385.29 L402.61,385.18 L402.89,385.08 L403.18,384.97 L403.46,384.85 L403.74,384.73 L404.02,384.61 L404.31,384.49 L404.59,384.36 L404.87,384.23 L405.15,384.10 L405.44,383.97 L405.72,383.84 L406.00,383.70 L406.28,383.57 L406.56,383.43 L406.85,383.29 L407.13,383.15 L407.41,383.02 L407.69,382.88 L407.98,382.74 L408.26,382.60 L408.54,382.47 L408.82,382.33 L409.11,382.20 L409.39,382.07 L409.67,381.94 L409.95,381.81 L410.24,381.69 L410.52,381.57 L410.80,381.45 L411.08,381.33 L411.37,381.22 L411.65,381.11 L411.93,381.01 L412.21,380.91 L412.50,380.81 L412.78,380.72 L413.06,380.63 L413.34,380.55 L413.63,380.48 L413.91,380.41 L414.19,380.35 L414.47,380.29 L414.76,380.24 L415.04,380.20 L415.32,380.16 L415.61,380.13 L415.89,380.11 L416.17,380.09 L416.45,380.09 L416.73,380.09 L417.02,380.11 L417.30,380.13 L417.58,380.17 L417.87,380.22 L418.15,380.28 L418.43,380.35 L418.71,380.43 L418.99,380.52 L419.28,380.62 L419.56,380.72 L419.84,380.84 L420.12,380.96 L420.41,381.09 L420.69,381.23 L420.97,381.37 L421.25,381.52 L421.54,381.68 L421.82,381.84 L422.10,382.01 L422.38,382.18 L422.67,382.36 L422.95,382.54 L423.23,382.72 L423.51,382.91 L423.80,383.10 L424.08,383.29 L424.36,383.49 L424.64,383.68 L424.93,383.88 L425.21,384.08 L425.49,384.28 L425.77,384.48 L426.06,384.69 L426.34,384.89 L426.62,385.09 L426.91,385.28 L427.19,385.48 L427.47,385.68 L427.75,385.87 L428.03,386.06 L428.32,386.25 L428.60,386.43 L428.88,386.61 L429.17,386.79 L429.45,386.96 L429.73,387.13 L430.01,387.29 L430.29,387.45 L430.58,387.60 L430.86,387.74 L431.14,387.88 L431.43,388.01 L431.71,388.13 L431.99,388.24 L432.27,388.35 L432.56,388.45 L432.84,388.54 L433.12,388.62 L433.40,388.69 L433.69,388.75 L433.97,388.80 L434.25,388.83 L434.53,388.86 L434.81,388.88 L435.10,388.88 L435.38,388.87 L435.66,388.84 L435.94,388.78 L436.23,388.72 L436.51,388.63 L436.79,388.53 L437.07,388.42 L437.36,388.29 L437.64,388.15 L437.92,387.99 L438.20,387.82 L438.49,387.64 L438.77,387.45 L439.05,387.24 L439.33,387.03 L439.62,386.81 L439.90,386.58" stroke="#e2622a" stroke-width="1.3" stroke-dasharray="0.9 0.85"/>
<path d="M44.40,383.20 L44.68,383.20 L44.96,383.20 L45.25,383.20 L45.53,383.20 L45.81,383.20 L46.09,383.20 L46.38,383.20 L46.66,383.20 L46.94,383.20 L47.23,383.20 L47.51,383.20 L47.79,383.20 L48.07,383.20 L48.35,383.20 L48.64,383.20 L48.92,383.20 L49.20,383.20 L49.48,383.20 L49.77,383.20 L50.05,383.20 L50.33,383.20 L50.61,383.20 L50.90,383.20 L51.18,383.20 L51.46,383.20 L51.74,383.20 L52.03,383.20 L52.31,383.20 L52.59,383.20 L52.88,383.20 L53.16,383.20 L53.44,383.20 L53.72,383.20 L54.00,383.20 L54.29,383.20 L54.57,383.20 L54.85,383.20 L55.13,383.20 L55.42,383.20 L55.70,383.20 L55.98,383.20 L56.27,383.20 L56.55,383.20 L56.83,383.20 L57.11,383.20 L57.39,383.20 L57.68,383.20 L57.96,383.20 L58.24,383.20 L58.52,383.20 L58.81,383.20 L59.09,383.20 L59.37,383.20 L59.66,383.20 L59.94,383.20 L60.22,383.20 L60.50,383.20 L60.78,383.20 L61.07,383.20 L61.35,383.20 L61.63,383.20 L61.91,383.20 L62.20,383.20 L62.48,383.20 L62.76,383.20 L63.05,383.20 L63.33,383.20 L63.61,383.20 L63.89,383.20 L64.17,383.20 L64.46,383.20 L64.74,383.20 L65.02,383.20 L65.31,383.20 L65.59,383.20 L65.87,383.20 L66.15,383.20 L66.44,383.20 L66.72,383.20 L67.00,383.20 L67.28,383.20 L67.56,383.20 L67.85,383.20 L68.13,383.20 L68.41,383.20 L68.69,383.20 L68.98,383.20 L69.26,383.20 L69.54,383.20 L69.83,383.20 L70.11,383.20 L70.39,383.20 L70.67,383.20 L70.95,383.20 L71.24,383.20 L71.52,383.20 L71.80,383.20 L72.08,383.20 L72.37,383.20 L72.65,383.20 L72.93,383.20 L73.22,383.20 L73.50,383.20 L73.78,383.20 L74.06,383.20 L74.34,383.20 L74.63,383.20 L74.91,383.20 L75.19,383.20 L75.47,383.20 L75.76,383.20 L76.04,383.20 L76.32,383.22 L76.61,383.34 L76.89,383.56 L77.17,383.87 L77.45,384.28 L77.73,384.77 L78.02,385.34 L78.30,385.99 L78.58,386.70 L78.86,387.49 L79.15,388.33 L79.43,389.22 L79.71,390.17 L80.00,391.16 L80.28,392.18 L80.56,393.24 L80.84,394.33 L81.12,395.45 L81.41,396.58 L81.69,397.72 L81.97,398.87 L82.25,400.02 L82.54,401.17 L82.82,402.31 L83.10,403.44 L83.39,404.54 L83.67,405.63 L83.95,406.68 L84.23,407.70 L84.51,408.68 L84.80,409.62 L85.08,410.50 L85.36,411.33 L85.64,412.10 L85.93,412.81 L86.21,413.44 L86.49,414.00 L86.78,414.47 L87.06,414.86 L87.34,415.15 L87.62,415.35 L87.91,415.45 L88.19,415.41 L88.47,415.14 L88.75,414.64 L89.03,413.91 L89.32,412.97 L89.60,411.82 L89.88,410.48 L90.16,408.95 L90.45,407.24 L90.73,405.37 L91.01,403.34 L91.30,401.17 L91.58,398.85 L91.86,396.42 L92.14,393.86 L92.42,391.20 L92.71,388.43 L92.99,385.59 L93.27,382.66 L93.56,379.66 L93.84,376.61 L94.12,373.50 L94.40,370.36 L94.69,367.19 L94.97,364.00 L95.25,360.80 L95.53,357.60 L95.81,354.40 L96.10,351.23 L96.38,348.09 L96.66,344.99 L96.94,341.93 L97.23,338.94 L97.51,336.01 L97.79,333.16 L98.08,330.40 L98.36,327.73 L98.64,325.18 L98.92,322.74 L99.20,320.43 L99.49,318.25 L99.77,316.22 L100.05,314.35 L100.34,312.65 L100.62,311.12 L100.90,309.77 L101.18,308.62 L101.47,307.68 L101.75,306.95 L102.03,306.45 L102.31,306.18 L102.59,306.16 L102.88,306.44 L103.16,307.03 L103.44,307.90 L103.72,309.06 L104.01,310.48 L104.29,312.15 L104.57,314.07 L104.86,316.22 L105.14,318.59 L105.42,321.16 L105.70,323.93 L105.99,326.88 L106.27,330.00 L106.55,333.28 L106.83,336.70 L107.12,340.26 L107.40,343.95 L107.68,347.74 L107.96,351.63 L108.25,355.61 L108.53,359.66 L108.81,363.78 L109.09,367.94 L109.38,372.15 L109.66,376.38 L109.94,380.62 L110.22,384.87 L110.50,389.11 L110.79,393.32 L111.07,397.50 L111.35,401.64 L111.63,405.72 L111.92,409.73 L112.20,413.66 L112.48,417.49 L112.76,421.22 L113.05,424.83 L113.33,428.31 L113.61,431.65 L113.90,434.84 L114.18,437.86 L114.46,440.70 L114.74,443.35 L115.03,445.80 L115.31,448.04 L115.59,450.05 L115.87,451.82 L116.16,453.35 L116.44,454.61 L116.72,455.60 L117.00,456.30 L117.28,456.70 L117.57,456.80 L117.85,456.63 L118.13,456.22 L118.41,455.58 L118.70,454.72 L118.98,453.66 L119.26,452.39 L119.55,450.93 L119.83,449.29 L120.11,447.47 L120.39,445.50 L120.68,443.37 L120.96,441.09 L121.24,438.68 L121.52,436.15 L121.81,433.50 L122.09,430.74 L122.37,427.88 L122.65,424.94 L122.94,421.92 L123.22,418.83 L123.50,415.68 L123.78,412.47 L124.06,409.23 L124.35,405.95 L124.63,402.66 L124.91,399.35 L125.19,396.03 L125.48,392.72 L125.76,389.43 L126.04,386.16 L126.32,382.92 L126.61,379.73 L126.89,376.59 L127.17,373.51 L127.45,370.50 L127.74,367.58 L128.02,364.74 L128.30,362.00 L128.59,359.37 L128.87,356.86 L129.15,354.48 L129.43,352.23 L129.72,350.13 L130.00,348.19 L130.28,346.41 L130.56,344.80 L130.84,343.38 L131.13,342.15 L131.41,341.13 L131.69,340.31 L131.97,339.72 L132.26,339.36 L132.54,339.23 L132.82,339.30 L133.10,339.48 L133.39,339.77 L133.67,340.18 L133.95,340.69 L134.24,341.30 L134.52,342.01 L134.80,342.82 L135.08,343.71 L135.37,344.69 L135.65,345.75 L135.93,346.88 L136.21,348.09 L136.50,349.36 L136.78,350.70 L137.06,352.09 L137.34,353.54 L137.62,355.03 L137.91,356.58 L138.19,358.16 L138.47,359.78 L138.75,361.43 L139.04,363.11 L139.32,364.82 L139.60,366.54 L139.88,368.28 L140.17,370.02 L140.45,371.78 L140.73,373.53 L141.01,375.29 L141.30,377.03 L141.58,378.77 L141.86,380.49 L142.15,382.19 L142.43,383.86 L142.71,385.51 L142.99,387.12 L143.28,388.70 L143.56,390.23 L143.84,391.72 L144.12,393.15 L144.41,394.54 L144.69,395.86 L144.97,397.12 L145.25,398.31 L145.53,399.43 L145.82,400.47 L146.10,401.43 L146.38,402.31 L146.66,403.10 L146.95,403.79 L147.23,404.38 L147.51,404.87 L147.80,405.26 L148.08,405.53 L148.36,405.69 L148.64,405.72 L148.93,405.67 L149.21,405.55 L149.49,405.36 L149.77,405.11 L150.06,404.79 L150.34,404.42 L150.62,403.98 L150.90,403.50 L151.19,402.96 L151.47,402.38 L151.75,401.75 L152.03,401.08 L152.31,400.38 L152.60,399.63 L152.88,398.85 L153.16,398.05 L153.44,397.21 L153.73,396.35 L154.01,395.47 L154.29,394.57 L154.57,393.66 L154.86,392.73 L155.14,391.80 L155.42,390.85 L155.70,389.90 L155.99,388.95 L156.27,388.01 L156.55,387.06 L156.84,386.13 L157.12,385.20 L157.40,384.29 L157.68,383.40 L157.97,382.52 L158.25,381.67 L158.53,380.84 L158.81,380.03 L159.09,379.26 L159.38,378.53 L159.66,377.83 L159.94,377.16 L160.22,376.55 L160.51,375.97 L160.79,375.45 L161.07,374.97 L161.35,374.55 L161.64,374.19 L161.92,373.88 L162.20,373.64 L162.48,373.46 L162.77,373.36 L163.05,373.32 L163.33,373.33 L163.61,373.37 L163.90,373.43 L164.18,373.52 L164.46,373.63 L164.75,373.76 L165.03,373.91 L165.31,374.09 L165.59,374.28 L165.88,374.49 L166.16,374.71 L166.44,374.95 L166.72,375.21 L167.00,375.48 L167.29,375.77 L167.57,376.06 L167.85,376.37 L168.13,376.69 L168.42,377.02 L168.70,377.35 L168.98,377.70 L169.26,378.05 L169.55,378.40 L169.83,378.76 L170.11,379.13 L170.40,379.50 L170.68,379.87 L170.96,380.24 L171.24,380.61 L171.53,380.98 L171.81,381.34 L172.09,381.71 L172.37,382.07 L172.66,382.42 L172.94,382.78 L173.22,383.12 L173.50,383.46 L173.78,383.78 L174.07,384.10 L174.35,384.41 L174.63,384.71 L174.92,384.99 L175.20,385.26 L175.48,385.52 L175.76,385.76 L176.05,385.99 L176.33,386.20 L176.61,386.39 L176.89,386.56 L177.18,386.71 L177.46,386.84 L177.74,386.95 L178.02,387.04 L178.31,387.10 L178.59,387.14 L178.87,387.15 L179.15,387.15 L179.44,387.13 L179.72,387.11 L180.00,387.07 L180.28,387.03 L180.57,386.98 L180.85,386.92 L181.13,386.85 L181.41,386.78 L181.70,386.69 L181.98,386.61 L182.26,386.51 L182.54,386.41 L182.83,386.30 L183.11,386.19 L183.39,386.07 L183.67,385.95 L183.96,385.83 L184.24,385.70 L184.52,385.57 L184.80,385.43 L185.09,385.29 L185.37,385.16 L185.65,385.01 L185.93,384.87 L186.22,384.73 L186.50,384.58 L186.78,384.44 L187.06,384.29 L187.35,384.14 L187.63,384.00 L187.91,383.86 L188.19,383.71 L188.48,383.58 L188.76,383.44 L189.04,383.30 L189.32,383.17 L189.60,383.04 L189.89,382.92 L190.17,382.80 L190.45,382.68 L190.73,382.57 L191.02,382.46 L191.30,382.36 L191.58,382.26 L191.87,382.18 L192.15,382.09 L192.43,382.02 L192.71,381.95 L193.00,381.89 L193.28,381.84 L193.56,381.80 L193.84,381.76 L194.12,381.74 L194.41,381.72 L194.69,381.72 L194.97,381.72 L195.25,381.72 L195.54,381.73 L195.82,381.73 L196.10,381.74 L196.38,381.75 L196.67,381.76 L196.95,381.77 L197.23,381.79 L197.52,381.80 L197.80,381.82 L198.08,381.84 L198.36,381.86 L198.65,381.88 L198.93,381.90 L199.21,381.93 L199.49,381.95 L199.78,381.97 L200.06,382.00 L200.34,382.03 L200.62,382.05 L200.91,382.08 L201.19,382.11 L201.47,382.14 L201.75,382.17 L202.03,382.20 L202.32,382.23 L202.60,382.26 L202.88,382.30 L203.17,382.33 L203.45,382.36 L203.73,382.39 L204.01,382.43 L204.30,382.46 L204.58,382.49 L204.86,382.52 L205.14,382.56 L205.43,382.59 L205.71,382.62 L205.99,382.65 L206.27,382.68 L206.56,382.72 L206.84,382.75 L207.12,382.78 L207.40,382.81 L207.69,382.84 L207.97,382.86 L208.25,382.89 L208.53,382.92 L208.82,382.94 L209.10,382.97 L209.38,382.99 L209.66,383.02 L209.95,383.04 L210.23,383.06 L210.51,383.08 L210.79,383.10 L211.08,383.11 L211.36,383.13 L211.64,383.14 L211.92,383.16 L212.21,383.17 L212.49,383.18 L212.77,383.19 L213.05,383.19 L213.34,383.20 L213.62,383.20 L213.90,383.20 L214.18,383.20 L214.47,383.20 L214.75,383.20 L215.03,383.20 L215.31,383.20 L215.60,383.20 L215.88,383.20 L216.16,383.20 L216.44,383.20 L216.73,383.20 L217.01,383.20 L217.29,383.20 L217.57,383.20 L217.86,383.20 L218.14,383.20 L218.42,383.20 L218.70,383.20 L218.98,383.20 L219.27,383.20 L219.55,383.20 L219.83,383.20 L220.12,383.20 L220.40,383.20 L220.68,383.20 L220.96,383.20 L221.25,383.20 L221.53,383.20 L221.81,383.20 L222.09,383.20 L222.38,383.20 L222.66,383.20 L222.94,383.20 L223.22,383.20 L223.50,383.20 L223.79,383.20 L224.07,383.20 L224.35,383.20 L224.63,383.20 L224.92,383.20 L225.20,383.20 L225.48,383.20 L225.77,383.20 L226.05,383.20 L226.33,383.20 L226.61,383.20 L226.90,383.20 L227.18,383.20 L227.46,383.20 L227.74,383.20 L228.03,383.20 L228.31,383.20 L228.59,383.20 L228.87,383.20 L229.16,383.20 L229.44,383.20 L229.72,383.20 L230.00,383.20 L230.28,383.20 L230.57,383.20 L230.85,383.20 L231.13,383.20 L231.42,383.20 L231.70,383.20 L231.98,383.20 L232.26,383.20 L232.55,383.20 L232.83,383.20 L233.11,383.20 L233.39,383.20 L233.68,383.20 L233.96,383.20 L234.24,383.20 L234.52,383.20 L234.81,383.20 L235.09,383.20 L235.37,383.20 L235.65,383.20 L235.94,383.20 L236.22,383.20 L236.50,383.20 L236.78,383.20 L237.07,383.20 L237.35,383.20 L237.63,383.20 L237.91,383.20 L238.20,383.20 L238.48,383.20 L238.76,383.20 L239.04,383.20 L239.33,383.20 L239.61,383.20 L239.89,383.20 L240.17,383.20 L240.46,383.20 L240.74,383.20 L241.02,383.20 L241.30,383.20 L241.59,383.20 L241.87,383.20 L242.15,383.20 L242.43,383.20 L242.72,383.20 L243.00,383.20 L243.28,383.20 L243.56,383.20 L243.85,383.20 L244.13,383.20 L244.41,383.20 L244.69,383.20 L244.98,383.20 L245.26,383.20 L245.54,383.20 L245.82,383.20 L246.11,383.20 L246.39,383.20 L246.67,383.20 L246.95,383.20 L247.23,383.20 L247.52,383.20 L247.80,383.20 L248.08,383.20 L248.37,383.20 L248.65,383.20 L248.93,383.20 L249.21,383.20 L249.50,383.20 L249.78,383.20 L250.06,383.20 L250.34,383.20 L250.62,383.20 L250.91,383.20 L251.19,383.20 L251.47,383.20 L251.75,383.20 L252.04,383.20 L252.32,383.20 L252.60,383.20 L252.88,383.20 L253.17,383.20 L253.45,383.20 L253.73,383.20 L254.02,383.20 L254.30,383.20 L254.58,383.20 L254.86,383.20 L255.15,383.20 L255.43,383.20 L255.71,383.20 L255.99,383.20 L256.27,383.20 L256.56,383.20 L256.84,383.20 L257.12,383.20 L257.40,383.20 L257.69,383.20 L257.97,383.20 L258.25,383.20 L258.53,383.20 L258.82,383.20 L259.10,383.20 L259.38,383.20 L259.67,383.20 L259.95,383.20 L260.23,383.20 L260.51,383.20 L260.80,383.20 L261.08,383.20 L261.36,383.20 L261.64,383.20 L261.93,383.20 L262.21,383.20 L262.49,383.20 L262.77,383.20 L263.06,383.20 L263.34,383.20 L263.62,383.20 L263.90,383.20 L264.19,383.20 L264.47,383.20 L264.75,383.20 L265.03,383.20 L265.31,383.20 L265.60,383.20 L265.88,383.20 L266.16,383.20 L266.44,383.20 L266.73,383.20 L267.01,383.20 L267.29,383.20 L267.57,383.20 L267.86,383.20 L268.14,383.20 L268.42,383.20 L268.70,383.20 L268.99,383.20 L269.27,383.20 L269.55,383.20 L269.83,383.20 L270.12,383.20 L270.40,383.20 L270.68,383.20 L270.96,383.20 L271.25,383.20 L271.53,383.20 L271.81,383.20 L272.10,383.20 L272.38,383.20 L272.66,383.20 L272.94,383.20 L273.22,383.20 L273.51,383.20 L273.79,383.20 L274.07,383.20 L274.36,383.20 L274.64,383.20 L274.92,383.20 L275.20,383.20 L275.48,383.20 L275.77,383.20 L276.05,383.20 L276.33,383.20 L276.62,383.20 L276.90,383.20 L277.18,383.20 L277.46,383.20 L277.75,383.20 L278.03,383.20 L278.31,383.20 L278.59,383.20 L278.88,383.20 L279.16,383.20 L279.44,383.20 L279.72,383.20 L280.00,383.20 L280.29,383.20 L280.57,383.20 L280.85,383.20 L281.13,383.20 L281.42,383.20 L281.70,383.20 L281.98,383.20 L282.26,383.20 L282.55,383.20 L282.83,383.20 L283.11,383.20 L283.40,383.20 L283.68,383.20 L283.96,383.20 L284.24,383.20 L284.52,383.20 L284.81,383.20 L285.09,383.20 L285.37,383.20 L285.66,383.20 L285.94,383.20 L286.22,383.20 L286.50,383.20 L286.78,383.20 L287.07,383.20 L287.35,383.20 L287.63,383.20 L287.92,383.20 L288.20,383.20 L288.48,383.20 L288.76,383.20 L289.05,383.20 L289.33,383.20 L289.61,383.20 L289.89,383.20 L290.18,383.20 L290.46,383.20 L290.74,383.20 L291.02,383.20 L291.31,383.20 L291.59,383.20 L291.87,383.20 L292.15,383.20 L292.43,383.20 L292.72,383.20 L293.00,383.20 L293.28,383.20 L293.56,383.20 L293.85,383.20 L294.13,383.20 L294.41,383.20 L294.69,383.20 L294.98,383.20 L295.26,383.20 L295.54,383.20 L295.82,383.20 L296.11,383.20 L296.39,383.20 L296.67,383.20 L296.95,383.20 L297.24,383.20 L297.52,383.20 L297.80,383.20 L298.08,383.20 L298.37,383.20 L298.65,383.20 L298.93,383.20 L299.21,383.20 L299.50,383.20 L299.78,383.20 L300.06,383.20 L300.35,383.20 L300.63,383.20 L300.91,383.20 L301.19,383.20 L301.47,383.20 L301.76,383.20 L302.04,383.20 L302.32,383.20 L302.61,383.20 L302.89,383.20 L303.17,383.20 L303.45,383.20 L303.73,383.20 L304.02,383.20 L304.30,383.20 L304.58,383.20 L304.87,383.20 L305.15,383.20 L305.43,383.20 L305.71,383.20 L305.99,383.20 L306.28,383.20 L306.56,383.20 L306.84,383.20 L307.12,383.20 L307.41,383.20 L307.69,383.20 L307.97,383.20 L308.25,383.20 L308.54,383.20 L308.82,383.20 L309.10,383.20 L309.38,383.20 L309.67,383.20 L309.95,383.20 L310.23,383.20 L310.51,383.20 L310.80,383.20 L311.08,383.20 L311.36,383.20 L311.64,383.20 L311.93,383.20 L312.21,383.20 L312.49,383.20 L312.77,383.20 L313.06,383.20 L313.34,383.20 L313.62,383.20 L313.91,383.20 L314.19,383.20 L314.47,383.20 L314.75,383.20 L315.03,383.20 L315.32,383.20 L315.60,383.20 L315.88,383.20 L316.17,383.20 L316.45,383.20 L316.73,383.20 L317.01,383.20 L317.29,383.20 L317.58,383.20 L317.86,383.20 L318.14,383.20 L318.43,383.20 L318.71,383.20 L318.99,383.20 L319.27,383.20 L319.56,383.20 L319.84,383.20 L320.12,383.20 L320.40,383.20 L320.68,383.20 L320.97,383.20 L321.25,383.20 L321.53,383.20 L321.81,383.20 L322.10,383.20 L322.38,383.20 L322.66,383.20 L322.94,383.20 L323.23,383.20 L323.51,383.20 L323.79,383.20 L324.07,383.20 L324.36,383.20 L324.64,383.20 L324.92,383.20 L325.20,383.20 L325.49,383.20 L325.77,383.20 L326.05,383.20 L326.33,383.20 L326.62,383.20 L326.90,383.20 L327.18,383.20 L327.46,383.20 L327.75,383.20 L328.03,383.20 L328.31,383.20 L328.59,383.20 L328.88,383.20 L329.16,383.20 L329.44,383.20 L329.72,383.20 L330.01,383.20 L330.29,383.20 L330.57,383.20 L330.86,383.20 L331.14,383.20 L331.42,383.20 L331.70,383.20 L331.98,383.20 L332.27,383.20 L332.55,383.20 L332.83,383.20 L333.12,383.20 L333.40,383.20 L333.68,383.20 L333.96,383.20 L334.24,383.20 L334.53,383.20 L334.81,383.20 L335.09,383.20 L335.38,383.20 L335.66,383.20 L335.94,383.20 L336.22,383.20 L336.50,383.20 L336.79,383.20 L337.07,383.20 L337.35,383.20 L337.63,383.20 L337.92,383.20 L338.20,383.20 L338.48,383.20 L338.76,383.20 L339.05,383.20 L339.33,383.20 L339.61,383.20 L339.89,383.20 L340.18,383.20 L340.46,383.20 L340.74,383.20 L341.02,383.20 L341.31,383.20 L341.59,383.20 L341.87,383.20 L342.16,383.20 L342.44,383.20 L342.72,383.20 L343.00,383.20 L343.28,383.20 L343.57,383.20 L343.85,383.20 L344.13,383.20 L344.42,383.20 L344.70,383.20 L344.98,383.20 L345.26,383.20 L345.54,383.20 L345.83,383.20 L346.11,383.20 L346.39,383.20 L346.68,383.20 L346.96,383.20 L347.24,383.20 L347.52,383.20 L347.81,383.20 L348.09,383.20 L348.37,383.20 L348.65,383.20 L348.93,383.20 L349.22,383.20 L349.50,383.20 L349.78,383.20 L350.06,383.20 L350.35,383.20 L350.63,383.20 L350.91,383.20 L351.19,383.20 L351.48,383.20 L351.76,383.20 L352.04,383.20 L352.32,383.20 L352.61,383.20 L352.89,383.20 L353.17,383.20 L353.45,383.20 L353.74,383.20 L354.02,383.20 L354.30,383.20 L354.58,383.20 L354.87,383.20 L355.15,383.20 L355.43,383.20 L355.71,383.20 L356.00,383.20 L356.28,383.20 L356.56,383.20 L356.84,383.20 L357.13,383.20 L357.41,383.20 L357.69,383.20 L357.97,383.20 L358.26,383.20 L358.54,383.20 L358.82,383.20 L359.11,383.20 L359.39,383.20 L359.67,383.20 L359.95,383.20 L360.23,383.20 L360.52,383.20 L360.80,383.20 L361.08,383.20 L361.37,383.20 L361.65,383.20 L361.93,383.20 L362.21,383.20 L362.49,383.20 L362.78,383.20 L363.06,383.20 L363.34,383.20 L363.62,383.20 L363.91,383.20 L364.19,383.20 L364.47,383.20 L364.75,383.20 L365.04,383.20 L365.32,383.20 L365.60,383.20 L365.88,383.20 L366.17,383.20 L366.45,383.20 L366.73,383.20 L367.01,383.20 L367.30,383.20 L367.58,383.20 L367.86,383.20 L368.14,383.20 L368.43,383.20 L368.71,383.20 L368.99,383.20 L369.27,383.20 L369.56,383.20 L369.84,383.20 L370.12,383.20 L370.41,383.20 L370.69,383.20 L370.97,383.20 L371.25,383.20 L371.53,383.20 L371.82,383.20 L372.10,383.20 L372.38,383.20 L372.67,383.20 L372.95,383.20 L373.23,383.20 L373.51,383.20 L373.79,383.20 L374.08,383.20 L374.36,383.20 L374.64,383.20 L374.93,383.20 L375.21,383.20 L375.49,383.20 L375.77,383.20 L376.06,383.20 L376.34,383.20 L376.62,383.20 L376.90,383.20 L377.18,383.20 L377.47,383.20 L377.75,383.20 L378.03,383.20 L378.31,383.20 L378.60,383.20 L378.88,383.20 L379.16,383.20 L379.44,383.20 L379.73,383.20 L380.01,383.20 L380.29,383.20 L380.57,383.20 L380.86,383.20 L381.14,383.20 L381.42,383.20 L381.70,383.20 L381.99,383.20 L382.27,383.20 L382.55,383.20 L382.83,383.20 L383.12,383.20 L383.40,383.20 L383.68,383.20 L383.96,383.20 L384.25,383.20 L384.53,383.20 L384.81,383.20 L385.09,383.20 L385.38,383.20 L385.66,383.20 L385.94,383.20 L386.22,383.20 L386.51,383.20 L386.79,383.20 L387.07,383.20 L387.36,383.20 L387.64,383.20 L387.92,383.20 L388.20,383.20 L388.48,383.20 L388.77,383.20 L389.05,383.20 L389.33,383.20 L389.62,383.20 L389.90,383.20 L390.18,383.20 L390.46,383.20 L390.74,383.20 L391.03,383.20 L391.31,383.20 L391.59,383.20 L391.88,383.20 L392.16,383.20 L392.44,383.20 L392.72,383.20 L393.00,383.20 L393.29,383.20 L393.57,383.20 L393.85,383.20 L394.13,383.20 L394.42,383.20 L394.70,383.20 L394.98,383.20 L395.26,383.20 L395.55,383.20 L395.83,383.20 L396.11,383.20 L396.39,383.20 L396.68,383.20 L396.96,383.20 L397.24,383.20 L397.52,383.20 L397.81,383.20 L398.09,383.20 L398.37,383.20 L398.66,383.20 L398.94,383.20 L399.22,383.20 L399.50,383.20 L399.78,383.20 L400.07,383.20 L400.35,383.20 L400.63,383.20 L400.92,383.20 L401.20,383.20 L401.48,383.20 L401.76,383.20 L402.04,383.20 L402.33,383.20 L402.61,383.20 L402.89,383.20 L403.18,383.20 L403.46,383.20 L403.74,383.20 L404.02,383.20 L404.31,383.20 L404.59,383.20 L404.87,383.20 L405.15,383.20 L405.44,383.20 L405.72,383.20 L406.00,383.20 L406.28,383.20 L406.56,383.20 L406.85,383.20 L407.13,383.20 L407.41,383.20 L407.69,383.20 L407.98,383.20 L408.26,383.20 L408.54,383.20 L408.82,383.20 L409.11,383.20 L409.39,383.20 L409.67,383.20 L409.95,383.20 L410.24,383.20 L410.52,383.20 L410.80,383.20 L411.08,383.20 L411.37,383.20 L411.65,383.20 L411.93,383.20 L412.21,383.20 L412.50,383.20 L412.78,383.20 L413.06,383.20 L413.34,383.20 L413.63,383.20 L413.91,383.20 L414.19,383.20 L414.47,383.20 L414.76,383.20 L415.04,383.20 L415.32,383.20 L415.61,383.20 L415.89,383.20 L416.17,383.20 L416.45,383.20 L416.73,383.20 L417.02,383.20 L417.30,383.20 L417.58,383.20 L417.87,383.20 L418.15,383.20 L418.43,383.20 L418.71,383.20 L418.99,383.20 L419.28,383.20 L419.56,383.20 L419.84,383.20 L420.12,383.20 L420.41,383.20 L420.69,383.20 L420.97,383.20 L421.25,383.20 L421.54,383.20 L421.82,383.20 L422.10,383.20 L422.38,383.20 L422.67,383.20 L422.95,383.20 L423.23,383.20 L423.51,383.20 L423.80,383.20 L424.08,383.20 L424.36,383.20 L424.64,383.20 L424.93,383.20 L425.21,383.20 L425.49,383.20 L425.77,383.20 L426.06,383.20 L426.34,383.20 L426.62,383.20 L426.91,383.20 L427.19,383.20 L427.47,383.20 L427.75,383.20 L428.03,383.20 L428.32,383.20 L428.60,383.20 L428.88,383.20 L429.17,383.20 L429.45,383.20 L429.73,383.20 L430.01,383.20 L430.29,383.20 L430.58,383.20 L430.86,383.20 L431.14,383.20 L431.43,383.20 L431.71,383.20 L431.99,383.20 L432.27,383.20 L432.56,383.20 L432.84,383.20 L433.12,383.20 L433.40,383.20 L433.69,383.20 L433.97,383.20 L434.25,383.20 L434.53,383.20 L434.81,383.20 L435.10,383.20 L435.38,383.20 L435.66,383.20 L435.94,383.20 L436.23,383.20 L436.51,383.20 L436.79,383.20 L437.07,383.20 L437.36,383.20 L437.64,383.20 L437.92,383.20 L438.20,383.20 L438.49,383.20 L438.77,383.20 L439.05,383.20 L439.33,383.20 L439.62,383.20 L439.90,383.20" stroke="#EDB120" stroke-width="1.75"/>
<path d="M44.40,383.20 L44.68,383.20 L44.96,383.20 L45.25,383.20 L45.53,383.20 L45.81,383.20 L46.09,383.20 L46.38,383.20 L46.66,383.20 L46.94,383.20 L47.23,383.20 L47.51,383.20 L47.79,383.20 L48.07,383.20 L48.35,383.20 L48.64,383.20 L48.92,383.20 L49.20,383.20 L49.48,383.20 L49.77,383.20 L50.05,383.20 L50.33,383.20 L50.61,383.20 L50.90,383.20 L51.18,383.20 L51.46,383.20 L51.74,383.20 L52.03,383.20 L52.31,383.20 L52.59,383.20 L52.88,383.20 L53.16,383.20 L53.44,383.20 L53.72,383.20 L54.00,383.20 L54.29,383.20 L54.57,383.20 L54.85,383.20 L55.13,383.20 L55.42,383.20 L55.70,383.20 L55.98,383.20 L56.27,383.20 L56.55,383.20 L56.83,383.20 L57.11,383.20 L57.39,383.20 L57.68,383.20 L57.96,383.20 L58.24,383.20 L58.52,383.20 L58.81,383.20 L59.09,383.20 L59.37,383.20 L59.66,383.20 L59.94,383.20 L60.22,383.20 L60.50,383.20 L60.78,383.20 L61.07,383.20 L61.35,383.20 L61.63,383.20 L61.91,383.20 L62.20,383.20 L62.48,383.20 L62.76,383.20 L63.05,383.20 L63.33,383.20 L63.61,383.20 L63.89,383.20 L64.17,383.20 L64.46,383.20 L64.74,383.20 L65.02,383.20 L65.31,383.20 L65.59,383.20 L65.87,383.20 L66.15,383.20 L66.44,383.20 L66.72,383.20 L67.00,383.20 L67.28,383.20 L67.56,383.20 L67.85,383.20 L68.13,383.20 L68.41,383.20 L68.69,383.20 L68.98,383.20 L69.26,383.20 L69.54,383.20 L69.83,383.20 L70.11,383.20 L70.39,383.20 L70.67,383.20 L70.95,383.20 L71.24,383.20 L71.52,383.20 L71.80,383.20 L72.08,383.20 L72.37,383.20 L72.65,383.20 L72.93,383.20 L73.22,383.20 L73.50,383.20 L73.78,383.20 L74.06,383.20 L74.34,383.20 L74.63,383.20 L74.91,383.20 L75.19,383.20 L75.47,383.20 L75.76,383.20 L76.04,383.20 L76.32,383.22 L76.61,383.34 L76.89,383.56 L77.17,383.87 L77.45,384.28 L77.73,384.77 L78.02,385.34 L78.30,385.99 L78.58,386.70 L78.86,387.49 L79.15,388.33 L79.43,389.22 L79.71,390.17 L80.00,391.16 L80.28,392.18 L80.56,393.24 L80.84,394.33 L81.12,395.45 L81.41,396.58 L81.69,397.72 L81.97,398.87 L82.25,400.02 L82.54,401.17 L82.82,402.31 L83.10,403.44 L83.39,404.54 L83.67,405.63 L83.95,406.68 L84.23,407.70 L84.51,408.68 L84.80,409.62 L85.08,410.50 L85.36,411.33 L85.64,412.10 L85.93,412.81 L86.21,413.44 L86.49,414.00 L86.78,414.47 L87.06,414.86 L87.34,415.15 L87.62,415.35 L87.91,415.45 L88.19,415.41 L88.47,415.14 L88.75,414.64 L89.03,413.91 L89.32,412.97 L89.60,411.82 L89.88,410.48 L90.16,408.95 L90.45,407.24 L90.73,405.37 L91.01,403.34 L91.30,401.17 L91.58,398.85 L91.86,396.42 L92.14,393.86 L92.42,391.20 L92.71,388.43 L92.99,385.59 L93.27,382.66 L93.56,379.66 L93.84,376.61 L94.12,373.50 L94.40,370.36 L94.69,367.19 L94.97,364.00 L95.25,360.80 L95.53,357.60 L95.81,354.40 L96.10,351.23 L96.38,348.09 L96.66,344.99 L96.94,341.93 L97.23,338.94 L97.51,336.01 L97.79,333.16 L98.08,330.40 L98.36,327.73 L98.64,325.18 L98.92,322.74 L99.20,320.43 L99.49,318.25 L99.77,316.22 L100.05,314.35 L100.34,312.65 L100.62,311.12 L100.90,309.77 L101.18,308.62 L101.47,307.68 L101.75,306.95 L102.03,306.45 L102.31,306.18 L102.59,306.16 L102.88,306.41 L103.16,306.94 L103.44,307.73 L103.72,308.78 L104.01,310.06 L104.29,311.58 L104.57,313.32 L104.86,315.26 L105.14,317.41 L105.42,319.74 L105.70,322.25 L105.99,324.93 L106.27,327.77 L106.55,330.74 L106.83,333.86 L107.12,337.10 L107.40,340.45 L107.68,343.90 L107.96,347.45 L108.25,351.08 L108.53,354.77 L108.81,358.53 L109.09,362.34 L109.38,366.18 L109.66,370.06 L109.94,373.95 L110.22,377.84 L110.50,381.74 L110.79,385.61 L111.07,389.46 L111.35,393.28 L111.63,397.05 L111.92,400.76 L112.20,404.40 L112.48,407.96 L112.76,411.44 L113.05,414.81 L113.33,418.07 L113.61,421.21 L113.90,424.22 L114.18,427.08 L114.46,429.79 L114.74,432.34 L115.03,434.71 L115.31,436.89 L115.59,438.88 L115.87,440.66 L116.16,442.22 L116.44,443.55 L116.72,444.64 L117.00,445.49 L117.28,446.07 L117.57,446.38 L117.85,446.41 L118.13,446.19 L118.41,445.74 L118.70,445.07 L118.98,444.18 L119.26,443.09 L119.55,441.80 L119.83,440.33 L120.11,438.70 L120.39,436.89 L120.68,434.94 L120.96,432.85 L121.24,430.62 L121.52,428.28 L121.81,425.82 L122.09,423.26 L122.37,420.62 L122.65,417.89 L122.94,415.09 L123.22,412.23 L123.50,409.33 L123.78,406.38 L124.06,403.41 L124.35,400.42 L124.63,397.42 L124.91,394.42 L125.19,391.44 L125.48,388.47 L125.76,385.54 L126.04,382.66 L126.32,379.82 L126.61,377.05 L126.89,374.36 L127.17,371.74 L127.45,369.22 L127.74,366.81 L128.02,364.51 L128.30,362.34 L128.59,360.30 L128.87,358.41 L129.15,356.67 L129.43,355.10 L129.72,353.70 L130.00,352.49 L130.28,351.48 L130.56,350.68 L130.84,350.09 L131.13,349.73 L131.41,349.61 L131.69,349.65 L131.97,349.78 L132.26,349.99 L132.54,350.28 L132.82,350.65 L133.10,351.09 L133.39,351.60 L133.67,352.18 L133.95,352.82 L134.24,353.52 L134.52,354.28 L134.80,355.09 L135.08,355.95 L135.37,356.86 L135.65,357.82 L135.93,358.81 L136.21,359.85 L136.50,360.92 L136.78,362.02 L137.06,363.15 L137.34,364.30 L137.62,365.48 L137.91,366.67 L138.19,367.88 L138.47,369.11 L138.75,370.34 L139.04,371.58 L139.32,372.83 L139.60,374.07 L139.88,375.31 L140.17,376.54 L140.45,377.77 L140.73,378.98 L141.01,380.17 L141.30,381.35 L141.58,382.51 L141.86,383.63 L142.15,384.74 L142.43,385.80 L142.71,386.84 L142.99,387.83 L143.28,388.79 L143.56,389.70 L143.84,390.56 L144.12,391.37 L144.41,392.13 L144.69,392.83 L144.97,393.47 L145.25,394.05 L145.53,394.56 L145.82,395.00 L146.10,395.37 L146.38,395.66 L146.66,395.87 L146.95,396.00 L147.23,396.04 L147.51,396.03 L147.80,395.97 L148.08,395.88 L148.36,395.76 L148.64,395.60 L148.93,395.41 L149.21,395.20 L149.49,394.95 L149.77,394.68 L150.06,394.39 L150.34,394.07 L150.62,393.73 L150.90,393.37 L151.19,392.99 L151.47,392.59 L151.75,392.18 L152.03,391.76 L152.31,391.32 L152.60,390.87 L152.88,390.41 L153.16,389.94 L153.44,389.46 L153.73,388.98 L154.01,388.50 L154.29,388.01 L154.57,387.53 L154.86,387.04 L155.14,386.55 L155.42,386.07 L155.70,385.60 L155.99,385.13 L156.27,384.66 L156.55,384.21 L156.84,383.77 L157.12,383.34 L157.40,382.93 L157.68,382.53 L157.97,382.15 L158.25,381.78 L158.53,381.44 L158.81,381.12 L159.09,380.82 L159.38,380.54 L159.66,380.29 L159.94,380.07 L160.22,379.88 L160.51,379.71 L160.79,379.58 L161.07,379.49 L161.35,379.42 L161.64,379.40 L161.92,379.40 L162.20,379.43 L162.48,379.47 L162.77,379.52 L163.05,379.59 L163.33,379.68 L163.61,379.78 L163.90,379.89 L164.18,380.02 L164.46,380.16 L164.75,380.31 L165.03,380.46 L165.31,380.63 L165.59,380.81 L165.88,380.99 L166.16,381.19 L166.44,381.39 L166.72,381.59 L167.00,381.80 L167.29,382.01 L167.57,382.23 L167.85,382.45 L168.13,382.67 L168.42,382.89 L168.70,383.12 L168.98,383.34 L169.26,383.56 L169.55,383.78 L169.83,384.00 L170.11,384.21 L170.40,384.42 L170.68,384.63 L170.96,384.83 L171.24,385.02 L171.53,385.21 L171.81,385.39 L172.09,385.56 L172.37,385.72 L172.66,385.87 L172.94,386.01 L173.22,386.14 L173.50,386.25 L173.78,386.36 L174.07,386.44 L174.35,386.52 L174.63,386.58 L174.92,386.62 L175.20,386.65 L175.48,386.66 L175.76,386.64 L176.05,386.59 L176.33,386.52 L176.61,386.41 L176.89,386.28 L177.18,386.12 L177.46,385.95 L177.74,385.75 L178.02,385.53 L178.31,385.30 L178.59,385.05 L178.87,384.79 L179.15,384.52 L179.44,384.25 L179.72,383.96 L180.00,383.67 L180.28,383.38 L180.57,383.08 L180.85,382.79 L181.13,382.50 L181.41,382.21 L181.70,381.93 L181.98,381.66 L182.26,381.40 L182.54,381.15 L182.83,380.91 L183.11,380.69 L183.39,380.49 L183.67,380.31 L183.96,380.15 L184.24,380.01 L184.52,379.90 L184.80,379.82 L185.09,379.77 L185.37,379.74 L185.65,379.75 L185.93,379.77 L186.22,379.82 L186.50,379.88 L186.78,379.96 L187.06,380.05 L187.35,380.16 L187.63,380.28 L187.91,380.42 L188.19,380.57 L188.48,380.74 L188.76,380.91 L189.04,381.10 L189.32,381.29 L189.60,381.50 L189.89,381.71 L190.17,381.93 L190.45,382.16 L190.73,382.39 L191.02,382.63 L191.30,382.88 L191.58,383.12 L191.87,383.38 L192.15,383.63 L192.43,383.88 L192.71,384.14 L193.00,384.39 L193.28,384.65 L193.56,384.90 L193.84,385.15 L194.12,385.40 L194.41,385.64 L194.69,385.88 L194.97,386.12 L195.25,386.35 L195.54,386.57 L195.82,386.78 L196.10,386.98 L196.38,387.18 L196.67,387.37 L196.95,387.54 L197.23,387.70 L197.52,387.86 L197.80,387.99 L198.08,388.12 L198.36,388.23 L198.65,388.32 L198.93,388.40 L199.21,388.46 L199.49,388.50 L199.78,388.53 L200.06,388.54 L200.34,388.53 L200.62,388.52 L200.91,388.49 L201.19,388.46 L201.47,388.43 L201.75,388.38 L202.03,388.33 L202.32,388.27 L202.60,388.21 L202.88,388.14 L203.17,388.06 L203.45,387.97 L203.73,387.88 L204.01,387.79 L204.30,387.69 L204.58,387.58 L204.86,387.47 L205.14,387.35 L205.43,387.23 L205.71,387.10 L205.99,386.97 L206.27,386.84 L206.56,386.70 L206.84,386.55 L207.12,386.41 L207.40,386.26 L207.69,386.10 L207.97,385.95 L208.25,385.79 L208.53,385.62 L208.82,385.46 L209.10,385.29 L209.38,385.12 L209.66,384.95 L209.95,384.78 L210.23,384.60 L210.51,384.42 L210.79,384.25 L211.08,384.07 L211.36,383.89 L211.64,383.71 L211.92,383.53 L212.21,383.35 L212.49,383.17 L212.77,382.98 L213.05,382.80 L213.34,382.62 L213.62,382.44 L213.90,382.27 L214.18,382.09 L214.47,381.91 L214.75,381.74 L215.03,381.56 L215.31,381.39 L215.60,381.22 L215.88,381.06 L216.16,380.89 L216.44,380.73 L216.73,380.57 L217.01,380.41 L217.29,380.26 L217.57,380.11 L217.86,379.97 L218.14,379.82 L218.42,379.68 L218.70,379.55 L218.98,379.42 L219.27,379.29 L219.55,379.17 L219.83,379.06 L220.12,378.95 L220.40,378.84 L220.68,378.74 L220.96,378.64 L221.25,378.56 L221.53,378.47 L221.81,378.40 L222.09,378.33 L222.38,378.26 L222.66,378.21 L222.94,378.16 L223.22,378.11 L223.50,378.08 L223.79,378.05 L224.07,378.03 L224.35,378.02 L224.63,378.01 L224.92,378.02 L225.20,378.03 L225.48,378.06 L225.77,378.09 L226.05,378.14 L226.33,378.19 L226.61,378.25 L226.90,378.32 L227.18,378.40 L227.46,378.49 L227.74,378.58 L228.03,378.68 L228.31,378.79 L228.59,378.90 L228.87,379.02 L229.16,379.15 L229.44,379.28 L229.72,379.42 L230.00,379.57 L230.28,379.72 L230.57,379.87 L230.85,380.03 L231.13,380.19 L231.42,380.36 L231.70,380.53 L231.98,380.70 L232.26,380.88 L232.55,381.06 L232.83,381.24 L233.11,381.43 L233.39,381.61 L233.68,381.80 L233.96,381.99 L234.24,382.18 L234.52,382.37 L234.81,382.56 L235.09,382.76 L235.37,382.95 L235.65,383.14 L235.94,383.33 L236.22,383.52 L236.50,383.71 L236.78,383.90 L237.07,384.09 L237.35,384.27 L237.63,384.45 L237.91,384.63 L238.20,384.81 L238.48,384.98 L238.76,385.15 L239.04,385.32 L239.33,385.48 L239.61,385.64 L239.89,385.79 L240.17,385.94 L240.46,386.09 L240.74,386.23 L241.02,386.36 L241.30,386.49 L241.59,386.61 L241.87,386.72 L242.15,386.83 L242.43,386.93 L242.72,387.02 L243.00,387.11 L243.28,387.19 L243.56,387.26 L243.85,387.32 L244.13,387.37 L244.41,387.42 L244.69,387.45 L244.98,387.48 L245.26,387.49 L245.54,387.50 L245.82,387.49 L246.11,387.48 L246.39,387.46 L246.67,387.43 L246.95,387.39 L247.23,387.34 L247.52,387.29 L247.80,387.23 L248.08,387.16 L248.37,387.09 L248.65,387.00 L248.93,386.92 L249.21,386.82 L249.50,386.72 L249.78,386.61 L250.06,386.50 L250.34,386.39 L250.62,386.27 L250.91,386.14 L251.19,386.01 L251.47,385.87 L251.75,385.74 L252.04,385.59 L252.32,385.45 L252.60,385.30 L252.88,385.15 L253.17,384.99 L253.45,384.83 L253.73,384.67 L254.02,384.51 L254.30,384.35 L254.58,384.18 L254.86,384.02 L255.15,383.85 L255.43,383.68 L255.71,383.51 L255.99,383.34 L256.27,383.17 L256.56,383.00 L256.84,382.83 L257.12,382.67 L257.40,382.50 L257.69,382.33 L257.97,382.17 L258.25,382.00 L258.53,381.84 L258.82,381.68 L259.10,381.53 L259.38,381.37 L259.67,381.22 L259.95,381.07 L260.23,380.93 L260.51,380.78 L260.80,380.65 L261.08,380.51 L261.36,380.38 L261.64,380.26 L261.93,380.14 L262.21,380.02 L262.49,379.91 L262.77,379.81 L263.06,379.71 L263.34,379.61 L263.62,379.53 L263.90,379.45 L264.19,379.37 L264.47,379.31 L264.75,379.25 L265.03,379.19 L265.31,379.15 L265.60,379.11 L265.88,379.09 L266.16,379.06 L266.44,379.05 L266.73,379.05 L267.01,379.06 L267.29,379.07 L267.57,379.09 L267.86,379.13 L268.14,379.17 L268.42,379.21 L268.70,379.27 L268.99,379.33 L269.27,379.40 L269.55,379.47 L269.83,379.56 L270.12,379.64 L270.40,379.74 L270.68,379.84 L270.96,379.94 L271.25,380.06 L271.53,380.17 L271.81,380.29 L272.10,380.42 L272.38,380.55 L272.66,380.68 L272.94,380.82 L273.22,380.96 L273.51,381.11 L273.79,381.25 L274.07,381.41 L274.36,381.56 L274.64,381.72 L274.92,381.87 L275.20,382.03 L275.48,382.20 L275.77,382.36 L276.05,382.52 L276.33,382.69 L276.62,382.86 L276.90,383.02 L277.18,383.19 L277.46,383.36 L277.75,383.53 L278.03,383.69 L278.31,383.86 L278.59,384.02 L278.88,384.19 L279.16,384.35 L279.44,384.51 L279.72,384.67 L280.00,384.83 L280.29,384.98 L280.57,385.13 L280.85,385.28 L281.13,385.43 L281.42,385.57 L281.70,385.71 L281.98,385.85 L282.26,385.98 L282.55,386.11 L282.83,386.23 L283.11,386.35 L283.40,386.46 L283.68,386.57 L283.96,386.67 L284.24,386.77 L284.52,386.86 L284.81,386.94 L285.09,387.02 L285.37,387.09 L285.66,387.16 L285.94,387.22 L286.22,387.27 L286.50,387.31 L286.78,387.34 L287.07,387.37 L287.35,387.39 L287.63,387.40 L287.92,387.40 L288.20,387.37 L288.48,387.31 L288.76,387.23 L289.05,387.12 L289.33,386.99 L289.61,386.84 L289.89,386.67 L290.18,386.47 L290.46,386.26 L290.74,386.03 L291.02,385.79 L291.31,385.54 L291.59,385.27 L291.87,384.99 L292.15,384.71 L292.43,384.42 L292.72,384.12 L293.00,383.82 L293.28,383.52 L293.56,383.22 L293.85,382.91 L294.13,382.61 L294.41,382.32 L294.69,382.03 L294.98,381.75 L295.26,381.47 L295.54,381.21 L295.82,380.95 L296.11,380.72 L296.39,380.49 L296.67,380.28 L296.95,380.09 L297.24,379.92 L297.52,379.77 L297.80,379.65 L298.08,379.54 L298.37,379.47 L298.65,379.42 L298.93,379.40 L299.21,379.40 L299.50,379.42 L299.78,379.44 L300.06,379.48 L300.35,379.53 L300.63,379.59 L300.91,379.66 L301.19,379.74 L301.47,379.83 L301.76,379.93 L302.04,380.04 L302.32,380.16 L302.61,380.28 L302.89,380.42 L303.17,380.56 L303.45,380.70 L303.73,380.86 L304.02,381.01 L304.30,381.18 L304.58,381.35 L304.87,381.53 L305.15,381.71 L305.43,381.89 L305.71,382.08 L305.99,382.27 L306.28,382.47 L306.56,382.66 L306.84,382.86 L307.12,383.07 L307.41,383.27 L307.69,383.48 L307.97,383.68 L308.25,383.89 L308.54,384.10 L308.82,384.31 L309.10,384.51 L309.38,384.72 L309.67,384.92 L309.95,385.13 L310.23,385.33 L310.51,385.53 L310.80,385.72 L311.08,385.91 L311.36,386.10 L311.64,386.29 L311.93,386.47 L312.21,386.65 L312.49,386.82 L312.77,386.98 L313.06,387.14 L313.34,387.30 L313.62,387.45 L313.91,387.59 L314.19,387.72 L314.47,387.85 L314.75,387.97 L315.03,388.07 L315.32,388.18 L315.60,388.27 L315.88,388.35 L316.17,388.42 L316.45,388.49 L316.73,388.54 L317.01,388.58 L317.29,388.61 L317.58,388.63 L317.86,388.63 L318.14,388.63 L318.43,388.61 L318.71,388.58 L318.99,388.54 L319.27,388.48 L319.56,388.42 L319.84,388.34 L320.12,388.25 L320.40,388.16 L320.68,388.05 L320.97,387.94 L321.25,387.81 L321.53,387.68 L321.81,387.54 L322.10,387.39 L322.38,387.24 L322.66,387.07 L322.94,386.90 L323.23,386.73 L323.51,386.55 L323.79,386.36 L324.07,386.17 L324.36,385.97 L324.64,385.77 L324.92,385.56 L325.20,385.35 L325.49,385.13 L325.77,384.92 L326.05,384.69 L326.33,384.47 L326.62,384.25 L326.90,384.02 L327.18,383.79 L327.46,383.56 L327.75,383.33 L328.03,383.10 L328.31,382.87 L328.59,382.64 L328.88,382.41 L329.16,382.18 L329.44,381.96 L329.72,381.73 L330.01,381.51 L330.29,381.29 L330.57,381.07 L330.86,380.86 L331.14,380.64 L331.42,380.44 L331.70,380.23 L331.98,380.04 L332.27,379.84 L332.55,379.66 L332.83,379.47 L333.12,379.30 L333.40,379.13 L333.68,378.96 L333.96,378.81 L334.24,378.66 L334.53,378.52 L334.81,378.39 L335.09,378.26 L335.38,378.15 L335.66,378.04 L335.94,377.95 L336.22,377.86 L336.50,377.79 L336.79,377.72 L337.07,377.67 L337.35,377.62 L337.63,377.59 L337.92,377.57 L338.20,377.57 L338.48,377.57 L338.76,377.59 L339.05,377.61 L339.33,377.65 L339.61,377.69 L339.89,377.74 L340.18,377.80 L340.46,377.87 L340.74,377.94 L341.02,378.02 L341.31,378.12 L341.59,378.21 L341.87,378.32 L342.16,378.43 L342.44,378.55 L342.72,378.67 L343.00,378.80 L343.28,378.94 L343.57,379.08 L343.85,379.23 L344.13,379.38 L344.42,379.53 L344.70,379.69 L344.98,379.86 L345.26,380.03 L345.54,380.20 L345.83,380.38 L346.11,380.56 L346.39,380.74 L346.68,380.92 L346.96,381.11 L347.24,381.30 L347.52,381.49 L347.81,381.68 L348.09,381.88 L348.37,382.07 L348.65,382.27 L348.93,382.46 L349.22,382.66 L349.50,382.86 L349.78,383.06 L350.06,383.25 L350.35,383.45 L350.63,383.65 L350.91,383.84 L351.19,384.03 L351.48,384.22 L351.76,384.41 L352.04,384.60 L352.32,384.79 L352.61,384.97 L352.89,385.15 L353.17,385.32 L353.45,385.50 L353.74,385.67 L354.02,385.83 L354.30,385.99 L354.58,386.15 L354.87,386.30 L355.15,386.45 L355.43,386.59 L355.71,386.73 L356.00,386.86 L356.28,386.99 L356.56,387.11 L356.84,387.22 L357.13,387.33 L357.41,387.43 L357.69,387.52 L357.97,387.60 L358.26,387.68 L358.54,387.75 L358.82,387.81 L359.11,387.86 L359.39,387.91 L359.67,387.94 L359.95,387.97 L360.23,387.98 L360.52,387.99 L360.80,387.99 L361.08,387.98 L361.37,387.96 L361.65,387.93 L361.93,387.90 L362.21,387.85 L362.49,387.80 L362.78,387.74 L363.06,387.68 L363.34,387.61 L363.62,387.53 L363.91,387.45 L364.19,387.36 L364.47,387.26 L364.75,387.16 L365.04,387.05 L365.32,386.94 L365.60,386.83 L365.88,386.71 L366.17,386.58 L366.45,386.45 L366.73,386.32 L367.01,386.19 L367.30,386.05 L367.58,385.90 L367.86,385.76 L368.14,385.61 L368.43,385.46 L368.71,385.31 L368.99,385.16 L369.27,385.00 L369.56,384.85 L369.84,384.69 L370.12,384.53 L370.41,384.37 L370.69,384.21 L370.97,384.05 L371.25,383.89 L371.53,383.73 L371.82,383.57 L372.10,383.41 L372.38,383.26 L372.67,383.10 L372.95,382.95 L373.23,382.80 L373.51,382.65 L373.79,382.50 L374.08,382.35 L374.36,382.21 L374.64,382.07 L374.93,381.93 L375.21,381.80 L375.49,381.67 L375.77,381.55 L376.06,381.42 L376.34,381.31 L376.62,381.20 L376.90,381.09 L377.18,380.99 L377.47,380.89 L377.75,380.80 L378.03,380.71 L378.31,380.63 L378.60,380.56 L378.88,380.50 L379.16,380.44 L379.44,380.39 L379.73,380.34 L380.01,380.30 L380.29,380.27 L380.57,380.25 L380.86,380.24 L381.14,380.24 L381.42,380.24 L381.70,380.25 L381.99,380.28 L382.27,380.31 L382.55,380.35 L382.83,380.39 L383.12,380.45 L383.40,380.51 L383.68,380.57 L383.96,380.65 L384.25,380.73 L384.53,380.82 L384.81,380.91 L385.09,381.00 L385.38,381.11 L385.66,381.21 L385.94,381.32 L386.22,381.44 L386.51,381.56 L386.79,381.68 L387.07,381.80 L387.36,381.93 L387.64,382.06 L387.92,382.19 L388.20,382.32 L388.48,382.46 L388.77,382.60 L389.05,382.73 L389.33,382.87 L389.62,383.01 L389.90,383.15 L390.18,383.28 L390.46,383.42 L390.74,383.55 L391.03,383.69 L391.31,383.82 L391.59,383.95 L391.88,384.08 L392.16,384.20 L392.44,384.33 L392.72,384.45 L393.00,384.56 L393.29,384.67 L393.57,384.78 L393.85,384.88 L394.13,384.98 L394.42,385.07 L394.70,385.16 L394.98,385.24 L395.26,385.32 L395.55,385.39 L395.83,385.45 L396.11,385.50 L396.39,385.55 L396.68,385.59 L396.96,385.62 L397.24,385.65 L397.52,385.66 L397.81,385.67 L398.09,385.67 L398.37,385.66 L398.66,385.64 L398.94,385.62 L399.22,385.59 L399.50,385.56 L399.78,385.52 L400.07,385.47 L400.35,385.42 L400.63,385.37 L400.92,385.31 L401.20,385.24 L401.48,385.17 L401.76,385.10 L402.04,385.02 L402.33,384.93 L402.61,384.85 L402.89,384.76 L403.18,384.67 L403.46,384.57 L403.74,384.47 L404.02,384.37 L404.31,384.27 L404.59,384.16 L404.87,384.05 L405.15,383.95 L405.44,383.83 L405.72,383.72 L406.00,383.61 L406.28,383.49 L406.56,383.38 L406.85,383.26 L407.13,383.15 L407.41,383.03 L407.69,382.92 L407.98,382.80 L408.26,382.69 L408.54,382.57 L408.82,382.46 L409.11,382.35 L409.39,382.24 L409.67,382.13 L409.95,382.03 L410.24,381.92 L410.52,381.82 L410.80,381.72 L411.08,381.62 L411.37,381.53 L411.65,381.44 L411.93,381.35 L412.21,381.27 L412.50,381.19 L412.78,381.11 L413.06,381.04 L413.34,380.97 L413.63,380.91 L413.91,380.85 L414.19,380.80 L414.47,380.75 L414.76,380.71 L415.04,380.67 L415.32,380.64 L415.61,380.62 L415.89,380.60 L416.17,380.59 L416.45,380.58 L416.73,380.59 L417.02,380.60 L417.30,380.62 L417.58,380.65 L417.87,380.70 L418.15,380.75 L418.43,380.80 L418.71,380.87 L418.99,380.95 L419.28,381.03 L419.56,381.12 L419.84,381.21 L420.12,381.32 L420.41,381.43 L420.69,381.54 L420.97,381.66 L421.25,381.79 L421.54,381.92 L421.82,382.06 L422.10,382.20 L422.38,382.34 L422.67,382.49 L422.95,382.64 L423.23,382.80 L423.51,382.96 L423.80,383.12 L424.08,383.28 L424.36,383.45 L424.64,383.61 L424.93,383.78 L425.21,383.95 L425.49,384.12 L425.77,384.29 L426.06,384.46 L426.34,384.63 L426.62,384.79 L426.91,384.96 L427.19,385.13 L427.47,385.29 L427.75,385.45 L428.03,385.62 L428.32,385.77 L428.60,385.93 L428.88,386.08 L429.17,386.23 L429.45,386.37 L429.73,386.51 L430.01,386.65 L430.29,386.78 L430.58,386.91 L430.86,387.03 L431.14,387.15 L431.43,387.26 L431.71,387.36 L431.99,387.46 L432.27,387.55 L432.56,387.63 L432.84,387.70 L433.12,387.77 L433.40,387.83 L433.69,387.88 L433.97,387.92 L434.25,387.95 L434.53,387.98 L434.81,387.99 L435.10,387.99 L435.38,387.98 L435.66,387.95 L435.94,387.91 L436.23,387.86 L436.51,387.79 L436.79,387.71 L437.07,387.61 L437.36,387.50 L437.64,387.39 L437.92,387.26 L438.20,387.12 L438.49,386.97 L438.77,386.81 L439.05,386.64 L439.33,386.47 L439.62,386.29 L439.90,386.10" stroke="#7E2F8E" stroke-width="1.9" stroke-dasharray="4.8 1.6"/>
</g>
<rect x="220.5" y="398.5" width="197.7" height="66.5" fill="#fff"/>
<clipPath id="cib"><rect x="220.5" y="398.5" width="197.7" height="66.5"/></clipPath>
<g clip-path="url(#cib)">
<path d="M220.50,412.08 L220.80,409.16 L221.10,407.41 L221.40,407.72 L221.70,409.89 L222.00,412.77 L222.30,414.87 L222.60,415.13 L222.90,413.46 L223.20,410.76 L223.49,408.46 L223.79,407.73 L224.09,408.93 L224.39,411.40 L224.69,413.86 L224.99,415.04 L225.29,414.37 L225.59,412.24 L225.89,409.78 L226.19,408.27 L226.49,408.49 L226.79,410.28 L227.09,412.70 L227.39,414.50 L227.69,414.78 L227.99,413.42 L228.29,411.17 L228.59,409.21 L228.89,408.55 L229.18,409.52 L229.48,411.58 L229.78,413.67 L230.08,414.71 L230.38,414.19 L230.68,412.43 L230.98,410.36 L231.28,409.05 L231.58,409.19 L231.88,410.67 L232.18,412.71 L232.48,414.26 L232.78,414.53 L233.08,413.43 L233.38,411.54 L233.68,409.87 L233.98,409.27 L234.28,410.05 L234.57,411.77 L234.87,413.55 L235.17,414.46 L235.47,414.07 L235.77,412.60 L236.07,410.84 L236.37,409.71 L236.67,409.78 L236.97,411.01 L237.27,412.73 L237.57,414.07 L237.87,414.34 L238.17,413.44 L238.47,411.85 L238.77,410.42 L239.07,409.89 L239.37,410.52 L239.67,411.97 L239.97,413.48 L240.26,414.29 L240.56,414.00 L240.86,412.78 L241.16,411.29 L241.46,410.32 L241.76,410.35 L242.06,411.37 L242.36,412.83 L242.66,413.98 L242.96,414.25 L243.26,413.52 L243.56,412.19 L243.86,410.97 L244.16,410.49 L244.46,411.00 L244.76,412.22 L245.06,413.51 L245.36,414.22 L245.66,414.01 L245.95,412.99 L246.25,411.74 L246.55,410.89 L246.85,410.89 L247.15,411.73 L247.45,412.97 L247.75,413.97 L248.05,414.23 L248.35,413.63 L248.65,412.51 L248.95,411.47 L249.25,411.04 L249.55,411.45 L249.85,412.47 L250.15,413.57 L250.45,414.20 L250.75,414.04 L251.05,413.20 L251.35,412.13 L251.64,411.39 L251.94,411.37 L252.24,412.07 L252.54,413.12 L252.84,413.98 L253.14,414.22 L253.44,413.73 L253.74,412.78 L254.04,411.88 L254.34,411.50 L254.64,411.82 L254.94,412.68 L255.24,413.63 L255.54,414.17 L255.84,414.06 L256.14,413.35 L256.44,412.43 L256.74,411.79 L257.04,411.75 L257.33,412.32 L257.63,413.21 L257.93,413.96 L258.23,414.17 L258.53,413.77 L258.83,412.96 L259.13,412.18 L259.43,411.83 L259.73,412.08 L260.03,412.80 L260.33,413.61 L260.63,414.09 L260.93,414.01 L261.23,413.41 L261.53,412.61 L261.83,412.04 L262.13,411.98 L262.43,412.46 L262.73,413.22 L263.02,413.86 L263.32,414.06 L263.62,413.73 L263.92,413.04 L264.22,412.35 L264.52,412.03 L264.82,412.24 L265.12,412.85 L265.42,413.55 L265.72,413.97 L266.02,413.91 L266.32,413.41 L266.62,412.72 L266.92,412.22 L267.22,412.16 L267.52,412.56 L267.82,413.21 L268.12,413.77 L268.41,413.96 L268.71,413.68 L269.01,413.09 L269.31,412.50 L269.61,412.21 L269.91,412.37 L270.21,412.89 L270.51,413.50 L270.81,413.88 L271.11,413.84 L271.41,413.41 L271.71,412.82 L272.01,412.38 L272.31,412.31 L272.61,412.64 L272.91,413.20 L273.21,413.70 L273.51,413.87 L273.81,413.64 L274.10,413.14 L274.40,412.62 L274.70,412.36 L275.00,412.49 L275.30,412.93 L275.60,413.45 L275.90,413.79 L276.20,413.77 L276.50,413.40 L276.80,412.89 L277.10,412.50 L277.40,412.43 L277.70,412.71 L278.00,413.19 L278.30,413.62 L278.60,413.78 L278.90,413.59 L279.20,413.16 L279.50,412.71 L279.79,412.47 L280.09,412.57 L280.39,412.94 L280.69,413.40 L280.99,413.69 L281.29,413.68 L281.59,413.37 L281.89,412.93 L282.19,412.58 L282.49,412.51 L282.79,412.74 L283.09,413.15 L283.39,413.53 L283.69,413.67 L283.99,413.52 L284.29,413.14 L284.59,412.75 L284.89,412.53 L285.19,412.60 L285.48,412.92 L285.78,413.31 L286.08,413.57 L286.38,413.57 L286.68,413.31 L286.98,412.92 L287.28,412.61 L287.58,412.54 L287.88,412.73 L288.18,413.08 L288.48,413.40 L288.78,413.53 L289.08,413.40 L289.38,413.08 L289.68,412.73 L289.98,412.53 L290.28,412.58 L290.58,412.85 L290.88,413.18 L291.17,413.41 L291.47,413.41 L291.77,413.19 L292.07,412.85 L292.37,412.57 L292.67,412.49 L292.97,412.65 L293.27,412.95 L293.57,413.23 L293.87,413.35 L294.17,413.23 L294.47,412.95 L294.77,412.64 L295.07,412.46 L295.37,412.49 L295.67,412.72 L295.97,413.01 L296.27,413.21 L296.56,413.21 L296.86,413.01 L297.16,412.71 L297.46,412.46 L297.76,412.39 L298.06,412.51 L298.36,412.77 L298.66,413.02 L298.96,413.12 L299.26,413.02 L299.56,412.78 L299.86,412.50 L300.16,412.33 L300.46,412.35 L300.76,412.54 L301.06,412.80 L301.36,412.97 L301.66,412.98 L301.96,412.81 L302.25,412.54 L302.55,412.32 L302.85,412.24 L303.15,412.35 L303.45,412.57 L303.75,412.78 L304.05,412.88 L304.35,412.79 L304.65,412.58 L304.95,412.33 L305.25,412.18 L305.55,412.19 L305.85,412.35 L306.15,412.57 L306.45,412.73 L306.75,412.73 L307.05,412.59 L307.35,412.35 L307.65,412.15 L307.94,412.08 L308.24,412.16 L308.54,412.35 L308.84,412.54 L309.14,412.63 L309.44,412.56 L309.74,412.37 L310.04,412.15 L310.34,412.01 L310.64,412.02 L310.94,412.15 L311.24,412.35 L311.54,412.49 L311.84,412.50 L312.14,412.37 L312.44,412.16 L312.74,411.99 L313.04,411.92 L313.34,411.99 L313.63,412.15 L313.93,412.32 L314.23,412.40 L314.53,412.34 L314.83,412.17 L315.13,411.98 L315.43,411.85 L315.73,411.85 L316.03,411.97 L316.33,412.13 L316.63,412.26 L316.93,412.27 L317.23,412.16 L317.53,411.98 L317.83,411.81 L318.13,411.75 L318.43,411.80 L318.73,411.94 L319.02,412.08 L319.32,412.15 L319.62,412.10 L319.92,411.96 L320.22,411.78 L320.52,411.67 L320.82,411.66 L321.12,411.75 L321.42,411.90 L321.72,412.00 L322.02,412.01 L322.32,411.91 L322.62,411.75 L322.92,411.61 L323.22,411.54 L323.52,411.58 L323.82,411.70 L324.12,411.83 L324.42,411.89 L324.71,411.85 L325.01,411.72 L325.31,411.56 L325.61,411.45 L325.91,411.44 L326.21,411.52 L326.51,411.64 L326.81,411.74 L327.11,411.75 L327.41,411.66 L327.71,411.52 L328.01,411.39 L328.31,411.32 L328.61,411.36 L328.91,411.46 L329.21,411.57 L329.51,411.62 L329.81,411.58 L330.11,411.47 L330.40,411.33 L330.70,411.23 L331.00,411.22 L331.30,411.28 L331.60,411.39 L331.90,411.47 L332.20,411.48 L332.50,411.41 L332.80,411.28 L333.10,411.16 L333.40,411.11 L333.70,411.13 L334.00,411.22 L334.30,411.31 L334.60,411.36 L334.90,411.33 L335.20,411.23 L335.50,411.11 L335.80,411.02 L336.09,411.00 L336.39,411.06 L336.69,411.15 L336.99,411.23 L337.29,411.24 L337.59,411.17 L337.89,411.06 L338.19,410.96 L338.49,410.90 L338.79,410.92 L339.09,411.00 L339.39,411.08 L339.69,411.13 L339.99,411.10 L340.29,411.02 L340.59,410.91 L340.89,410.83 L341.19,410.82 L341.49,410.86 L341.78,410.94 L342.08,411.01 L342.38,411.02 L342.68,410.96 L342.98,410.87 L343.28,410.78 L343.58,410.73 L343.88,410.74 L344.18,410.81 L344.48,410.88 L344.78,410.92 L345.08,410.90 L345.38,410.82 L345.68,410.73 L345.98,410.66 L346.28,410.64 L346.58,410.68 L346.88,410.75 L347.18,410.80 L347.47,410.81 L347.77,410.77 L348.07,410.68 L348.37,410.60 L348.67,410.55 L348.97,410.57 L349.27,410.62 L349.57,410.68 L349.87,410.72 L350.17,410.70 L350.47,410.64 L350.77,410.55 L351.07,410.49 L351.37,410.47 L351.67,410.50 L351.97,410.56 L352.27,410.61 L352.57,410.62 L352.86,410.58 L353.16,410.51 L353.46,410.43 L353.76,410.39 L354.06,410.40 L354.36,410.44 L354.66,410.50 L354.96,410.53 L355.26,410.51 L355.56,410.46 L355.86,410.38 L356.16,410.33 L356.46,410.31 L356.76,410.33 L357.06,410.39 L357.36,410.43 L357.66,410.44 L357.96,410.40 L358.26,410.34 L358.55,410.27 L358.85,410.23 L359.15,410.24 L359.45,410.28 L359.75,410.32 L360.05,410.35 L360.35,410.34 L360.65,410.29 L360.95,410.22 L361.25,410.17 L361.55,410.16 L361.85,410.18 L362.15,410.22 L362.45,410.26 L362.75,410.27 L363.05,410.24 L363.35,410.18 L363.65,410.12 L363.95,410.09 L364.24,410.09 L364.54,410.12 L364.84,410.16 L365.14,410.19 L365.44,410.18 L365.74,410.13 L366.04,410.08 L366.34,410.03 L366.64,410.01 L366.94,410.03 L367.24,410.07 L367.54,410.10 L367.84,410.11 L368.14,410.09 L368.44,410.04 L368.74,409.98 L369.04,409.95 L369.34,409.95 L369.64,409.98 L369.93,410.02 L370.23,410.04 L370.53,410.03 L370.83,410.00 L371.13,409.95 L371.43,409.90 L371.73,409.89 L372.03,409.90 L372.33,409.94 L372.63,409.97 L372.93,409.98 L373.23,409.95 L373.53,409.91 L373.83,409.87 L374.13,409.84 L374.43,409.84 L374.73,409.86 L375.03,409.89 L375.32,409.91 L375.62,409.91 L375.92,409.87 L376.22,409.83 L376.52,409.79 L376.82,409.78 L377.12,409.79 L377.42,409.82 L377.72,409.84 L378.02,409.85 L378.32,409.83 L378.62,409.79 L378.92,409.75 L379.22,409.73 L379.52,409.73 L379.82,409.75 L380.12,409.77 L380.42,409.79 L380.72,409.78 L381.01,409.76 L381.31,409.72 L381.61,409.68 L381.91,409.67 L382.21,409.68 L382.51,409.70 L382.81,409.72 L383.11,409.73 L383.41,409.71 L383.71,409.68 L384.01,409.64 L384.31,409.61 L384.61,409.61 L384.91,409.63 L385.21,409.65 L385.51,409.66 L385.81,409.66 L386.11,409.63 L386.41,409.59 L386.70,409.56 L387.00,409.55 L387.30,409.55 L387.60,409.57 L387.90,409.59 L388.20,409.59 L388.50,409.58 L388.80,409.54 L389.10,409.51 L389.40,409.48 L389.70,409.48 L390.00,409.49 L390.30,409.51 L390.60,409.52 L390.90,409.51 L391.20,409.49 L391.50,409.45 L391.80,409.42 L392.10,409.41 L392.39,409.41 L392.69,409.42 L392.99,409.43 L393.29,409.43 L393.59,409.42 L393.89,409.39 L394.19,409.36 L394.49,409.33 L394.79,409.32 L395.09,409.33 L395.39,409.34 L395.69,409.35 L395.99,409.34 L396.29,409.32 L396.59,409.29 L396.89,409.26 L397.19,409.24 L397.49,409.24 L397.79,409.25 L398.08,409.26 L398.38,409.26 L398.68,409.24 L398.98,409.21 L399.28,409.18 L399.58,409.16 L399.88,409.15 L400.18,409.15 L400.48,409.16 L400.78,409.16 L401.08,409.15 L401.38,409.13 L401.68,409.10 L401.98,409.07 L402.28,409.05 L402.58,409.05 L402.88,409.05 L403.18,409.06 L403.48,409.06 L403.77,409.04 L404.07,409.01 L404.37,408.98 L404.67,408.96 L404.97,408.95 L405.27,408.95 L405.57,408.95 L405.87,408.95 L406.17,408.94 L406.47,408.92 L406.77,408.89 L407.07,408.87 L407.37,408.85 L407.67,408.84 L407.97,408.84 L408.27,408.84 L408.57,408.84 L408.87,408.82 L409.16,408.80 L409.46,408.77 L409.76,408.75 L410.06,408.73 L410.36,408.73 L410.66,408.73 L410.96,408.73 L411.26,408.72 L411.56,408.70 L411.86,408.67 L412.16,408.64 L412.46,408.62 L412.76,408.62 L413.06,408.62 L413.36,408.62 L413.66,408.61 L413.96,408.59 L414.26,408.57 L414.56,408.54 L414.85,408.52 L415.15,408.50 L415.45,408.50 L415.75,408.50 L416.05,408.49 L416.35,408.48 L416.65,408.46 L416.95,408.43 L417.25,408.41 L417.55,408.39 L417.55,455.37 L417.25,455.37 L416.95,455.36 L416.65,455.35 L416.35,455.33 L416.05,455.31 L415.75,455.31 L415.45,455.31 L415.15,455.32 L414.85,455.32 L414.56,455.32 L414.26,455.30 L413.96,455.28 L413.66,455.26 L413.36,455.25 L413.06,455.25 L412.76,455.26 L412.46,455.26 L412.16,455.26 L411.86,455.26 L411.56,455.24 L411.26,455.22 L410.96,455.20 L410.66,455.19 L410.36,455.20 L410.06,455.20 L409.76,455.21 L409.46,455.20 L409.16,455.19 L408.87,455.17 L408.57,455.15 L408.27,455.13 L407.97,455.13 L407.67,455.14 L407.37,455.15 L407.07,455.15 L406.77,455.14 L406.47,455.12 L406.17,455.10 L405.87,455.08 L405.57,455.07 L405.27,455.07 L404.97,455.08 L404.67,455.09 L404.37,455.09 L404.07,455.07 L403.77,455.05 L403.48,455.02 L403.18,455.01 L402.88,455.01 L402.58,455.02 L402.28,455.03 L401.98,455.03 L401.68,455.02 L401.38,455.00 L401.08,454.97 L400.78,454.95 L400.48,454.94 L400.18,454.94 L399.88,454.96 L399.58,454.96 L399.28,454.96 L398.98,454.94 L398.68,454.92 L398.38,454.89 L398.08,454.87 L397.79,454.87 L397.49,454.88 L397.19,454.89 L396.89,454.90 L396.59,454.89 L396.29,454.86 L395.99,454.83 L395.69,454.81 L395.39,454.80 L395.09,454.81 L394.79,454.82 L394.49,454.83 L394.19,454.83 L393.89,454.81 L393.59,454.78 L393.29,454.75 L392.99,454.73 L392.69,454.73 L392.39,454.74 L392.10,454.76 L391.80,454.76 L391.50,454.75 L391.20,454.72 L390.90,454.69 L390.60,454.66 L390.30,454.65 L390.00,454.66 L389.70,454.68 L389.40,454.69 L389.10,454.69 L388.80,454.67 L388.50,454.63 L388.20,454.60 L387.90,454.58 L387.60,454.58 L387.30,454.59 L387.00,454.61 L386.70,454.61 L386.41,454.60 L386.11,454.57 L385.81,454.53 L385.51,454.50 L385.21,454.49 L384.91,454.50 L384.61,454.51 L384.31,454.53 L384.01,454.53 L383.71,454.50 L383.41,454.47 L383.11,454.43 L382.81,454.40 L382.51,454.40 L382.21,454.42 L381.91,454.44 L381.61,454.45 L381.31,454.43 L381.01,454.40 L380.72,454.36 L380.42,454.32 L380.12,454.31 L379.82,454.32 L379.52,454.34 L379.22,454.36 L378.92,454.36 L378.62,454.33 L378.32,454.29 L378.02,454.25 L377.72,454.22 L377.42,454.22 L377.12,454.24 L376.82,454.26 L376.52,454.27 L376.22,454.26 L375.92,454.22 L375.62,454.18 L375.32,454.14 L375.03,454.12 L374.73,454.13 L374.43,454.16 L374.13,454.18 L373.83,454.19 L373.53,454.16 L373.23,454.11 L372.93,454.07 L372.63,454.04 L372.33,454.03 L372.03,454.06 L371.73,454.09 L371.43,454.10 L371.13,454.09 L370.83,454.05 L370.53,454.00 L370.23,453.96 L369.93,453.94 L369.64,453.96 L369.34,453.99 L369.04,454.02 L368.74,454.02 L368.44,454.00 L368.14,453.95 L367.84,453.89 L367.54,453.86 L367.24,453.86 L366.94,453.89 L366.64,453.93 L366.34,453.95 L366.04,453.94 L365.74,453.90 L365.44,453.84 L365.14,453.79 L364.84,453.78 L364.54,453.79 L364.24,453.83 L363.95,453.87 L363.65,453.88 L363.35,453.85 L363.05,453.80 L362.75,453.74 L362.45,453.71 L362.15,453.71 L361.85,453.74 L361.55,453.79 L361.25,453.82 L360.95,453.81 L360.65,453.77 L360.35,453.70 L360.05,453.65 L359.75,453.63 L359.45,453.65 L359.15,453.70 L358.85,453.74 L358.55,453.76 L358.26,453.73 L357.96,453.67 L357.66,453.61 L357.36,453.57 L357.06,453.57 L356.76,453.61 L356.46,453.66 L356.16,453.70 L355.86,453.69 L355.56,453.65 L355.26,453.58 L354.96,453.52 L354.66,453.50 L354.36,453.52 L354.06,453.58 L353.76,453.63 L353.46,453.65 L353.16,453.62 L352.86,453.55 L352.57,453.48 L352.27,453.44 L351.97,453.44 L351.67,453.48 L351.37,453.55 L351.07,453.59 L350.77,453.59 L350.47,453.53 L350.17,453.46 L349.87,453.39 L349.57,453.36 L349.27,453.39 L348.97,453.45 L348.67,453.51 L348.37,453.54 L348.07,453.51 L347.77,453.43 L347.47,453.35 L347.18,453.30 L346.88,453.30 L346.58,453.35 L346.28,453.42 L345.98,453.47 L345.68,453.47 L345.38,453.41 L345.08,453.32 L344.78,453.24 L344.48,453.21 L344.18,453.24 L343.88,453.31 L343.58,453.38 L343.28,453.41 L342.98,453.38 L342.68,453.30 L342.38,453.20 L342.08,453.14 L341.78,453.14 L341.49,453.20 L341.19,453.28 L340.89,453.34 L340.59,453.34 L340.29,453.27 L339.99,453.17 L339.69,453.08 L339.39,453.04 L339.09,453.07 L338.79,453.15 L338.49,453.23 L338.19,453.27 L337.89,453.23 L337.59,453.14 L337.29,453.03 L336.99,452.95 L336.69,452.95 L336.39,453.01 L336.09,453.10 L335.80,453.17 L335.50,453.17 L335.20,453.10 L334.90,452.98 L334.60,452.87 L334.30,452.83 L334.00,452.86 L333.70,452.95 L333.40,453.04 L333.10,453.08 L332.80,453.04 L332.50,452.93 L332.20,452.81 L331.90,452.72 L331.60,452.71 L331.30,452.78 L331.00,452.88 L330.70,452.96 L330.40,452.96 L330.11,452.88 L329.81,452.75 L329.51,452.63 L329.21,452.57 L328.91,452.61 L328.61,452.70 L328.31,452.81 L328.01,452.86 L327.71,452.82 L327.41,452.70 L327.11,452.56 L326.81,452.45 L326.51,452.44 L326.21,452.52 L325.91,452.64 L325.61,452.73 L325.31,452.74 L325.01,452.65 L324.71,452.50 L324.42,452.36 L324.12,452.30 L323.82,452.34 L323.52,452.45 L323.22,452.57 L322.92,452.63 L322.62,452.59 L322.32,452.46 L322.02,452.30 L321.72,452.18 L321.42,452.17 L321.12,452.25 L320.82,452.39 L320.52,452.50 L320.22,452.52 L319.92,452.42 L319.62,452.26 L319.32,452.10 L319.02,452.03 L318.73,452.07 L318.43,452.20 L318.13,452.34 L317.83,452.42 L317.53,452.38 L317.23,452.24 L316.93,452.06 L316.63,451.93 L316.33,451.91 L316.03,452.01 L315.73,452.17 L315.43,452.30 L315.13,452.33 L314.83,452.23 L314.53,452.04 L314.23,451.87 L313.93,451.78 L313.63,451.83 L313.34,451.98 L313.04,452.15 L312.74,452.25 L312.44,452.21 L312.14,452.05 L311.84,451.85 L311.54,451.70 L311.24,451.68 L310.94,451.79 L310.64,451.98 L310.34,452.13 L310.04,452.17 L309.74,452.06 L309.44,451.85 L309.14,451.65 L308.84,451.55 L308.54,451.60 L308.24,451.78 L307.94,451.97 L307.65,452.08 L307.35,452.05 L307.05,451.87 L306.75,451.64 L306.45,451.47 L306.15,451.44 L305.85,451.57 L305.55,451.78 L305.25,451.96 L304.95,452.00 L304.65,451.89 L304.35,451.65 L304.05,451.42 L303.75,451.31 L303.45,451.36 L303.15,451.56 L302.85,451.78 L302.55,451.92 L302.25,451.88 L301.96,451.69 L301.66,451.43 L301.36,451.23 L301.06,451.19 L300.76,451.34 L300.46,451.58 L300.16,451.79 L299.86,451.85 L299.56,451.72 L299.26,451.47 L298.96,451.20 L298.66,451.07 L298.36,451.13 L298.06,451.35 L297.76,451.61 L297.46,451.77 L297.16,451.74 L296.86,451.53 L296.56,451.23 L296.27,451.01 L295.97,450.96 L295.67,451.12 L295.37,451.40 L295.07,451.65 L294.77,451.73 L294.47,451.59 L294.17,451.30 L293.87,451.01 L293.57,450.85 L293.27,450.92 L292.97,451.17 L292.67,451.47 L292.37,451.67 L292.07,451.64 L291.77,451.41 L291.47,451.07 L291.17,450.81 L290.88,450.76 L290.58,450.94 L290.28,451.26 L289.98,451.55 L289.68,451.66 L289.38,451.52 L289.08,451.19 L288.78,450.85 L288.48,450.67 L288.18,450.75 L287.88,451.03 L287.58,451.39 L287.28,451.62 L286.98,451.61 L286.68,451.35 L286.38,450.97 L286.08,450.67 L285.78,450.61 L285.48,450.81 L285.19,451.18 L284.89,451.53 L284.59,451.66 L284.29,451.51 L283.99,451.14 L283.69,450.76 L283.39,450.54 L283.09,450.62 L282.79,450.95 L282.49,451.37 L282.19,451.65 L281.89,451.64 L281.59,451.35 L281.29,450.92 L280.99,450.57 L280.69,450.49 L280.39,450.72 L280.09,451.15 L279.79,451.55 L279.50,451.72 L279.20,451.56 L278.90,451.14 L278.60,450.70 L278.30,450.44 L278.00,450.53 L277.70,450.90 L277.40,451.38 L277.10,451.72 L276.80,451.73 L276.50,451.40 L276.20,450.91 L275.90,450.50 L275.60,450.40 L275.30,450.66 L275.00,451.15 L274.70,451.62 L274.40,451.83 L274.10,451.65 L273.81,451.18 L273.51,450.66 L273.21,450.36 L272.91,450.45 L272.61,450.88 L272.31,451.44 L272.01,451.83 L271.71,451.86 L271.41,451.49 L271.11,450.92 L270.81,450.44 L270.51,450.31 L270.21,450.60 L269.91,451.17 L269.61,451.73 L269.31,451.98 L269.01,451.79 L268.71,451.25 L268.41,450.64 L268.12,450.29 L267.82,450.37 L267.52,450.86 L267.22,451.51 L266.92,451.98 L266.62,452.02 L266.32,451.61 L266.02,450.95 L265.72,450.39 L265.42,450.22 L265.12,450.55 L264.82,451.20 L264.52,451.85 L264.22,452.16 L263.92,451.95 L263.62,451.34 L263.32,450.63 L263.02,450.20 L262.73,450.28 L262.43,450.84 L262.13,451.59 L261.83,452.15 L261.53,452.21 L261.23,451.75 L260.93,450.99 L260.63,450.33 L260.33,450.12 L260.03,450.48 L259.73,451.24 L259.43,452.01 L259.13,452.38 L258.83,452.17 L258.53,451.47 L258.23,450.66 L257.93,450.15 L257.63,450.23 L257.33,450.88 L257.04,451.78 L256.74,452.46 L256.44,452.57 L256.14,452.06 L255.84,451.18 L255.54,450.41 L255.24,450.16 L254.94,450.58 L254.64,451.47 L254.34,452.40 L254.04,452.87 L253.74,452.65 L253.44,451.85 L253.14,450.89 L252.84,450.28 L252.54,450.37 L252.24,451.13 L251.94,452.19 L251.64,453.02 L251.35,453.18 L251.05,452.60 L250.75,451.57 L250.45,450.64 L250.15,450.32 L249.85,450.80 L249.55,451.86 L249.25,452.96 L248.95,453.55 L248.65,453.32 L248.35,452.38 L248.05,451.24 L247.75,450.49 L247.45,450.56 L247.15,451.44 L246.85,452.70 L246.55,453.70 L246.25,453.92 L245.95,453.24 L245.66,452.02 L245.36,450.90 L245.06,450.48 L244.76,451.02 L244.46,452.26 L244.16,453.58 L243.86,454.30 L243.56,454.04 L243.26,452.93 L242.96,451.55 L242.66,450.63 L242.36,450.68 L242.06,451.69 L241.76,453.18 L241.46,454.37 L241.16,454.65 L240.86,453.87 L240.56,452.41 L240.26,451.05 L239.97,450.51 L239.67,451.10 L239.37,452.54 L239.07,454.10 L238.77,454.97 L238.47,454.69 L238.17,453.38 L237.87,451.73 L237.57,450.60 L237.27,450.59 L236.97,451.75 L236.67,453.49 L236.37,454.90 L236.07,455.26 L235.77,454.34 L235.47,452.62 L235.17,450.98 L234.87,450.29 L234.57,450.93 L234.28,452.59 L233.98,454.42 L233.68,455.46 L233.38,455.15 L233.08,453.63 L232.78,451.67 L232.48,450.29 L232.18,450.23 L231.88,451.55 L231.58,453.56 L231.28,455.24 L230.98,455.69 L230.68,454.64 L230.38,452.63 L230.08,450.69 L229.78,449.83 L229.48,450.52 L229.18,452.44 L228.89,454.58 L228.59,455.83 L228.29,455.51 L227.99,453.76 L227.69,451.46 L227.39,449.81 L227.09,449.68 L226.79,451.17 L226.49,453.51 L226.19,455.49 L225.89,456.06 L225.59,454.88 L225.29,452.54 L224.99,450.24 L224.69,449.18 L224.39,449.93 L224.09,452.13 L223.79,454.64 L223.49,456.14 L223.20,455.82 L222.90,453.80 L222.60,451.11 L222.30,449.14 L222.00,448.93 L221.70,450.61 L221.40,453.32 L221.10,455.66 L220.80,456.37 L220.50,455.05Z" fill="#e1622c" fill-opacity="1"/>
<path d="M220.5,422.0 L220.6,437.0 L220.7,450.6 L220.8,454.2 L220.9,444.8 L221.1,427.2 L221.2,411.7 L221.3,407.7 L221.4,417.4 L221.5,434.8 L221.6,449.6 L221.7,453.5 L221.8,445.2 L222.0,430.6 L222.1,418.1 L222.2,414.1 L222.3,420.0 L222.4,432.0 L222.5,443.7 L222.6,448.9 L222.7,444.8 L222.9,432.9 L223.0,419.4 L223.1,411.9 L223.2,415.5 L223.3,429.3 L223.4,445.9 L223.5,455.4 L223.6,451.6 L223.7,436.3 L223.9,418.5 L224.0,408.7 L224.1,412.4 L224.2,426.7 L224.3,442.8 L224.4,451.7 L224.5,449.1 L224.6,437.6 L224.8,424.0 L224.9,415.6 L225.0,416.5 L225.1,425.9 L225.2,438.9 L225.3,448.6 L225.4,449.4 L225.5,440.1 L225.7,425.2 L225.8,412.9 L225.9,410.9 L226.0,421.3 L226.1,438.7 L226.2,452.8 L226.3,455.3 L226.4,444.5 L226.5,427.0 L226.7,413.1 L226.8,410.5 L226.9,420.0 L227.0,435.3 L227.1,447.6 L227.2,450.5 L227.3,443.3 L227.4,430.4 L227.6,418.9 L227.7,414.8 L227.8,420.3 L227.9,432.8 L228.0,445.8 L228.1,451.9 L228.2,446.9 L228.3,432.7 L228.5,417.1 L228.6,409.3 L228.7,414.5 L228.8,430.2 L228.9,447.1 L229.0,455.5 L229.1,450.5 L229.2,435.5 L229.3,419.6 L229.5,411.7 L229.6,415.6 L229.7,428.2 L229.8,442.1 L229.9,449.7 L230.0,447.5 L230.1,437.0 L230.2,423.8 L230.4,415.1 L230.5,415.7 L230.6,426.0 L230.7,440.7 L230.8,451.7 L230.9,452.1 L231.0,440.8 L231.1,423.9 L231.3,411.2 L231.4,410.3 L231.5,422.0 L231.6,439.4 L231.7,452.3 L231.8,453.5 L231.9,442.9 L232.0,427.2 L232.1,415.4 L232.3,413.7 L232.4,422.2 L232.5,435.8 L232.6,446.9 L232.7,449.9 L232.8,443.1 L232.9,430.0 L233.0,417.7 L233.2,413.0 L233.3,419.4 L233.4,433.8 L233.5,448.4 L233.6,454.5 L233.7,448.1 L233.8,432.2 L233.9,416.2 L234.1,409.4 L234.2,415.6 L234.3,431.1 L234.4,446.6 L234.5,453.4 L234.6,448.2 L234.7,434.7 L234.8,420.8 L234.9,414.1 L235.1,417.7 L235.2,429.2 L235.3,442.4 L235.4,450.1 L235.5,448.1 L235.6,436.9 L235.7,422.5 L235.8,412.9 L236.0,414.0 L236.1,426.0 L236.2,442.4 L236.3,453.7 L236.4,453.0 L236.5,440.5 L236.6,423.4 L236.7,411.7 L236.9,412.0 L237.0,423.6 L237.1,439.5 L237.2,450.5 L237.3,451.0 L237.4,441.3 L237.5,427.3 L237.6,416.6 L237.8,415.0 L237.9,423.0 L238.0,436.4 L238.1,448.0 L238.2,451.2 L238.3,443.7 L238.4,429.2 L238.5,415.6 L238.6,411.1 L238.8,418.8 L238.9,434.6 L239.0,449.6 L239.1,454.9 L239.2,447.4 L239.3,431.6 L239.4,416.8 L239.5,411.3 L239.7,417.8 L239.8,431.9 L239.9,445.5 L240.0,451.2 L240.1,446.4 L240.2,434.0 L240.3,421.0 L240.4,414.4 L240.6,417.8 L240.7,429.7 L240.8,443.6 L240.9,451.9 L241.0,449.3 L241.1,436.8 L241.2,421.1 L241.3,411.3 L241.4,413.4 L241.6,426.5 L241.7,443.0 L241.8,453.4 L241.9,451.8 L242.0,439.4 L242.1,423.6 L242.2,413.5 L242.3,414.3 L242.5,425.1 L242.6,439.3 L242.7,449.1 L242.8,449.5 L242.9,440.4 L243.0,426.8 L243.1,416.1 L243.2,414.3 L243.4,422.9 L243.5,437.3 L243.6,449.7 L243.7,452.7 L243.8,444.0 L243.9,428.3 L244.0,414.5 L244.1,410.8 L244.2,419.3 L244.4,435.2 L244.5,449.1 L244.6,453.2 L244.7,445.6 L244.8,431.0 L244.9,417.9 L245.0,413.4 L245.1,419.5 L245.3,432.5 L245.4,445.1 L245.5,450.5 L245.6,445.8 L245.7,433.4 L245.8,420.0 L245.9,413.2 L246.0,417.1 L246.2,430.0 L246.3,444.9 L246.4,453.1 L246.5,449.7 L246.6,436.2 L246.7,420.3 L246.8,411.3 L246.9,414.3 L247.0,427.3 L247.2,442.7 L247.3,451.7 L247.4,449.6 L247.5,438.0 L247.6,423.8 L247.7,414.9 L247.8,415.8 L247.9,425.9 L248.1,439.5 L248.2,449.1 L248.3,449.5 L248.4,440.1 L248.5,425.8 L248.6,414.6 L248.7,413.2 L248.8,422.7 L249.0,438.1 L249.1,450.6 L249.2,452.8 L249.3,443.3 L249.4,427.6 L249.5,414.8 L249.6,412.0 L249.7,420.7 L249.8,435.4 L250.0,447.8 L250.1,451.1 L250.2,443.8 L250.3,430.4 L250.4,418.4 L250.5,414.3 L250.6,420.2 L250.7,432.9 L250.9,445.6 L251.0,451.0 L251.1,445.9 L251.2,432.7 L251.3,418.7 L251.4,411.9 L251.5,416.7 L251.6,430.4 L251.8,445.5 L251.9,453.0 L252.0,448.7 L252.1,435.2 L252.2,420.4 L252.3,412.6 L252.4,416.0 L252.5,428.2 L252.6,442.2 L252.8,450.1 L252.9,447.9 L253.0,437.0 L253.1,423.6 L253.2,415.0 L253.3,415.9 L253.4,426.2 L253.5,440.1 L253.7,450.1 L253.8,450.1 L253.9,439.8 L254.0,424.8 L254.1,413.6 L254.2,412.8 L254.3,423.1 L254.4,438.6 L254.6,450.3 L254.7,451.6 L254.8,442.0 L254.9,427.2 L255.0,415.7 L255.1,413.7 L255.2,422.0 L255.3,435.6 L255.4,447.0 L255.6,449.9 L255.7,442.9 L255.8,429.8 L255.9,417.9 L256.0,413.8 L256.1,420.0 L256.2,433.4 L256.3,446.6 L256.5,451.9 L256.6,446.0 L256.7,432.0 L256.8,417.8 L256.9,411.7 L257.0,417.1 L257.1,431.0 L257.2,445.3 L257.4,451.8 L257.5,447.2 L257.6,434.3 L257.7,420.7 L257.8,413.8 L257.9,417.3 L258.0,428.9 L258.1,442.1 L258.2,449.7 L258.4,447.4 L258.5,436.4 L258.6,422.7 L258.7,414.0 L258.8,415.3 L258.9,426.4 L259.0,441.0 L259.1,451.0 L259.3,450.3 L259.4,439.3 L259.5,424.1 L259.6,413.4 L259.7,413.4 L259.8,423.9 L259.9,438.7 L260.0,449.4 L260.2,450.1 L260.3,440.8 L260.4,426.9 L260.5,416.3 L260.6,414.6 L260.7,422.7 L260.8,436.1 L260.9,447.3 L261.0,450.1 L261.2,442.7 L261.3,429.1 L261.4,416.7 L261.5,412.8 L261.6,419.9 L261.7,434.1 L261.8,447.4 L261.9,452.2 L262.1,445.6 L262.2,431.3 L262.3,417.7 L262.4,412.4 L262.5,418.2 L262.6,431.6 L262.7,444.9 L262.8,450.7 L263.0,446.0 L263.1,433.6 L263.2,420.6 L263.3,414.2 L263.4,417.7 L263.5,429.4 L263.6,442.8 L263.7,450.4 L263.8,447.8 L264.0,436.0 L264.1,421.7 L264.2,413.0 L264.3,415.0 L264.4,426.8 L264.5,441.7 L264.6,451.2 L264.7,449.9 L264.9,438.5 L265.0,423.8 L265.1,414.0 L265.2,414.6 L265.3,424.9 L265.4,438.9 L265.5,448.8 L265.6,449.2 L265.8,440.0 L265.9,426.5 L266.0,416.0 L266.1,414.5 L266.2,423.0 L266.3,436.8 L266.4,448.3 L266.5,450.8 L266.7,442.7 L266.8,428.3 L266.9,415.8 L267.0,412.4 L267.1,420.2 L267.2,434.7 L267.3,447.6 L267.4,451.7 L267.5,444.6 L267.7,430.8 L267.8,418.0 L267.9,413.3 L268.0,419.3 L268.1,432.2 L268.2,444.9 L268.3,450.2 L268.4,445.4 L268.6,433.1 L268.7,420.0 L268.8,413.6 L268.9,417.6 L269.0,429.9 L269.1,443.8 L269.2,451.3 L269.3,448.0 L269.5,435.6 L269.6,421.0 L269.7,412.6 L269.8,415.3 L269.9,427.4 L270.0,442.0 L270.1,450.8 L270.2,448.9 L270.3,437.7 L270.5,423.6 L270.6,414.6 L270.7,415.5 L270.8,425.6 L270.9,439.3 L271.0,448.9 L271.1,449.1 L271.2,439.7 L271.4,425.8 L271.5,415.2 L271.6,414.0 L271.7,423.1 L271.8,437.6 L271.9,449.1 L272.0,451.2 L272.1,442.4 L272.3,427.7 L272.4,415.5 L272.5,412.8 L272.6,421.0 L272.7,435.2 L272.8,447.4 L272.9,450.8 L273.0,443.7 L273.1,430.2 L273.3,418.1 L273.4,413.9 L273.5,419.9 L273.6,432.8 L273.7,445.4 L273.8,450.6 L273.9,445.4 L274.0,432.5 L274.2,419.1 L274.3,412.9 L274.4,417.4 L274.5,430.4 L274.6,444.5 L274.7,451.7 L274.8,447.7 L274.9,434.9 L275.1,420.7 L275.2,413.0 L275.3,416.2 L275.4,428.2 L275.5,442.1 L275.6,450.2 L275.7,448.0 L275.8,437.0 L275.9,423.3 L276.1,414.6 L276.2,415.8 L276.3,426.1 L276.4,440.0 L276.5,449.6 L276.6,449.4 L276.7,439.4 L276.8,425.0 L277.0,414.4 L277.1,413.7 L277.2,423.5 L277.3,438.2 L277.4,449.5 L277.5,450.9 L277.6,441.7 L277.7,427.2 L277.9,415.7 L278.0,413.6 L278.1,421.8 L278.2,435.7 L278.3,447.3 L278.4,450.2 L278.5,443.0 L278.6,429.7 L278.7,417.7 L278.9,413.7 L279.0,420.1 L279.1,433.4 L279.2,446.2 L279.3,451.2 L279.4,445.4 L279.5,431.9 L279.6,418.4 L279.8,412.5 L279.9,417.7 L280.0,431.0 L280.1,444.9 L280.2,451.4 L280.3,447.0 L280.4,434.3 L280.5,420.6 L280.7,413.5 L280.8,417.0 L280.9,428.8 L281.0,442.4 L281.1,450.1 L281.2,447.6 L281.3,436.4 L281.4,422.7 L281.5,414.1 L281.7,415.6 L281.8,426.5 L281.9,440.8 L282.0,450.4 L282.1,449.7 L282.2,439.0 L282.3,424.3 L282.4,414.0 L282.6,413.9 L282.7,424.1 L282.8,438.7 L282.9,449.4 L283.0,450.2 L283.1,440.9 L283.2,426.8 L283.3,415.9 L283.5,414.2 L283.6,422.5 L283.7,436.2 L283.8,447.6 L283.9,450.3 L284.0,442.7 L284.1,429.1 L284.2,416.9 L284.3,413.2 L284.5,420.2 L284.6,434.0 L284.7,447.0 L284.8,451.6 L284.9,445.1 L285.0,431.3 L285.1,418.0 L285.2,412.7 L285.4,418.3 L285.5,431.7 L285.6,445.0 L285.7,451.0 L285.8,446.2 L285.9,433.6 L286.0,420.3 L286.1,413.7 L286.3,417.4 L286.4,429.4 L286.5,443.0 L286.6,450.5 L286.7,447.7 L286.8,436.0 L286.9,421.9 L287.0,413.4 L287.1,415.4 L287.3,426.9 L287.4,441.5 L287.5,450.8 L287.6,449.5 L287.7,438.4 L287.8,423.8 L287.9,414.0 L288.0,414.5 L288.2,424.8 L288.3,439.1 L288.4,449.2 L288.5,449.7 L288.6,440.2 L288.7,426.3 L288.8,415.6 L288.9,414.2 L289.1,422.9 L289.2,436.8 L289.3,448.2 L289.4,450.6 L289.5,442.5 L289.6,428.4 L289.7,416.1 L289.8,412.8 L289.9,420.4 L290.1,434.7 L290.2,447.4 L290.3,451.5 L290.4,444.6 L290.5,430.7 L290.6,417.8 L290.7,413.0 L290.8,419.0 L291.0,432.3 L291.1,445.3 L291.2,450.8 L291.3,445.8 L291.4,433.1 L291.5,419.8 L291.6,413.4 L291.7,417.5 L291.9,429.9 L292.0,443.8 L292.1,451.1 L292.2,447.8 L292.3,435.5 L292.4,421.1 L292.5,412.9 L292.6,415.5 L292.7,427.5 L292.9,442.0 L293.0,450.8 L293.1,449.0 L293.2,437.8 L293.3,423.4 L293.4,414.1 L293.5,415.0 L293.6,425.4 L293.8,439.6 L293.9,449.4 L294.0,449.5 L294.1,439.8 L294.2,425.6 L294.3,415.0 L294.4,413.9 L294.5,423.1 L294.7,437.6 L294.8,449.0 L294.9,451.0 L295.0,442.3 L295.1,427.7 L295.2,415.6 L295.3,412.8 L295.4,420.9 L295.6,435.3 L295.7,447.7 L295.8,451.2 L295.9,444.0 L296.0,430.2 L296.1,417.6 L296.2,413.2 L296.3,419.5 L296.4,432.8 L296.6,445.8 L296.7,451.0 L296.8,445.6 L296.9,432.5 L297.0,419.0 L297.1,412.8 L297.2,417.4 L297.3,430.5 L297.5,444.5 L297.6,451.6 L297.7,447.7 L297.8,434.9 L297.9,420.6 L298.0,412.8 L298.1,415.9 L298.2,428.1 L298.4,442.4 L298.5,450.8 L298.6,448.6 L298.7,437.1 L298.8,422.9 L298.9,413.9 L299.0,415.2 L299.1,425.9 L299.2,440.2 L299.4,450.0 L299.5,449.7 L299.6,439.5 L299.7,424.9 L299.8,414.3 L299.9,413.6 L300.0,423.5 L300.1,438.3 L300.3,449.6 L300.4,451.0 L300.5,441.8 L300.6,427.1 L300.7,415.3 L300.8,413.1 L300.9,421.5 L301.0,435.8 L301.2,447.9 L301.3,451.0 L301.4,443.5 L301.5,429.6 L301.6,417.1 L301.7,413.0 L301.8,419.7 L301.9,433.5 L302.0,446.5 L302.2,451.5 L302.3,445.6 L302.4,431.9 L302.5,418.2 L302.6,412.3 L302.7,417.6 L302.8,431.1 L302.9,445.1 L303.1,451.8 L303.2,447.3 L303.3,434.3 L303.4,420.1 L303.5,412.8 L303.6,416.4 L303.7,428.7 L303.8,442.9 L304.0,450.9 L304.1,448.3 L304.2,436.6 L304.3,422.3 L304.4,413.4 L304.5,415.1 L304.6,426.4 L304.7,441.0 L304.8,450.7 L305.0,450.0 L305.1,439.1 L305.2,424.2 L305.3,413.7 L305.4,413.6 L305.5,423.9 L305.6,438.9 L305.7,449.9 L305.9,450.8 L306.0,441.2 L306.1,426.5 L306.2,415.1 L306.3,413.3 L306.4,422.0 L306.5,436.4 L306.6,448.3 L306.8,451.1 L306.9,443.1 L307.0,428.9 L307.1,416.4 L307.2,412.6 L307.3,419.9 L307.4,434.1 L307.5,447.3 L307.6,452.0 L307.8,445.4 L307.9,431.3 L308.0,417.6 L308.1,412.1 L308.2,417.9 L308.3,431.7 L308.4,445.6 L308.5,451.8 L308.7,446.9 L308.8,433.7 L308.9,419.7 L309.0,412.7 L309.1,416.7 L309.2,429.3 L309.3,443.5 L309.4,451.3 L309.6,448.3 L309.7,436.1 L309.8,421.5 L309.9,412.8 L310.0,414.9 L310.1,426.8 L310.2,441.7 L310.3,451.3 L310.4,450.0 L310.6,438.6 L310.7,423.5 L310.8,413.3 L310.9,413.8 L311.0,424.5 L311.1,439.4 L311.2,450.1 L311.3,450.6 L311.5,440.7 L311.6,426.0 L311.7,414.7 L311.8,413.3 L311.9,422.5 L312.0,437.1 L312.1,449.0 L312.2,451.4 L312.4,442.9 L312.5,428.2 L312.6,415.6 L312.7,412.3 L312.8,420.1 L312.9,434.8 L313.0,447.9 L313.1,452.1 L313.2,445.0 L313.4,430.6 L313.5,417.1 L313.6,412.1 L313.7,418.4 L313.8,432.3 L313.9,446.0 L314.0,451.8 L314.1,446.5 L314.3,433.1 L314.4,419.1 L314.5,412.4 L314.6,416.8 L314.7,429.9 L314.8,444.3 L314.9,451.9 L315.0,448.3 L315.2,435.6 L315.3,420.8 L315.4,412.3 L315.5,415.0 L315.6,427.4 L315.7,442.4 L315.8,451.6 L315.9,449.8 L316.0,438.0 L316.2,423.0 L316.3,413.2 L316.4,414.1 L316.5,425.1 L316.6,440.0 L316.7,450.4 L316.8,450.5 L316.9,440.2 L317.1,425.3 L317.2,414.2 L317.3,413.1 L317.4,422.8 L317.5,437.8 L317.6,449.7 L317.7,451.7 L317.8,442.6 L318.0,427.5 L318.1,415.0 L318.2,412.1 L318.3,420.5 L318.4,435.4 L318.5,448.4 L318.6,452.1 L318.7,444.6 L318.8,430.0 L319.0,416.7 L319.1,412.1 L319.2,418.8 L319.3,432.9 L319.4,446.6 L319.5,452.1 L319.6,446.3 L319.7,432.5 L319.9,418.4 L320.0,412.0 L320.1,416.9 L320.2,430.4 L320.3,445.0 L320.4,452.4 L320.5,448.3 L320.6,435.0 L320.8,420.1 L320.9,412.0 L321.0,415.2 L321.1,427.9 L321.2,443.0 L321.3,451.8 L321.4,449.5 L321.5,437.4 L321.6,422.4 L321.8,412.9 L321.9,414.2 L322.0,425.6 L322.1,440.7 L322.2,451.0 L322.3,450.6 L322.4,439.8 L322.5,424.6 L322.7,413.5 L322.8,412.9 L322.9,423.2 L323.0,438.5 L323.1,450.3 L323.2,451.8 L323.3,442.2 L323.4,426.9 L323.6,414.6 L323.7,412.2 L323.8,421.0 L323.9,436.1 L324.0,448.8 L324.1,452.1 L324.2,444.1 L324.3,429.4 L324.4,416.2 L324.6,412.0 L324.7,419.1 L324.8,433.6 L324.9,447.3 L325.0,452.5 L325.1,446.2 L325.2,431.9 L325.3,417.6 L325.5,411.5 L325.6,417.0 L325.7,431.0 L325.8,445.7 L325.9,452.7 L326.0,448.0 L326.1,434.4 L326.2,419.5 L326.4,411.8 L326.5,415.5 L326.6,428.6 L326.7,443.5 L326.8,452.0 L326.9,449.3 L327.0,436.8 L327.1,421.7 L327.3,412.4 L327.4,414.2 L327.5,426.1 L327.6,441.4 L327.7,451.6 L327.8,450.7 L327.9,439.4 L328.0,423.8 L328.1,412.9 L328.3,412.8 L328.4,423.6 L328.5,439.2 L328.6,450.8 L328.7,451.8 L328.8,441.7 L328.9,426.2 L329.0,414.2 L329.2,412.2 L329.3,421.5 L329.4,436.7 L329.5,449.3 L329.6,452.2 L329.7,443.8 L329.8,428.7 L329.9,415.6 L330.1,411.7 L330.2,419.3 L330.3,434.2 L330.4,448.0 L330.5,452.9 L330.6,446.0 L330.7,431.2 L330.8,416.9 L330.9,411.2 L331.1,417.3 L331.2,431.7 L331.3,446.3 L331.4,452.9 L331.5,447.7 L331.6,433.8 L331.7,419.0 L331.8,411.6 L332.0,415.8 L332.1,429.2 L332.2,444.2 L332.3,452.4 L332.4,449.2 L332.5,436.3 L332.6,421.0 L332.7,411.9 L332.9,414.2 L333.0,426.6 L333.1,442.2 L333.2,452.1 L333.3,450.8 L333.4,438.9 L333.5,423.1 L333.6,412.5 L333.7,412.9 L333.9,424.2 L334.0,439.9 L334.1,451.1 L334.2,451.7 L334.3,441.2 L334.4,425.6 L334.5,413.7 L334.6,412.2 L334.8,421.9 L334.9,437.4 L335.0,449.9 L335.1,452.4 L335.2,443.4 L335.3,428.0 L335.4,414.9 L335.5,411.4 L335.7,419.6 L335.8,434.9 L335.9,448.7 L336.0,453.1 L336.1,445.6 L336.2,430.6 L336.3,416.4 L336.4,411.1 L336.5,417.7 L336.7,432.3 L336.8,446.8 L336.9,453.0 L337.0,447.4 L337.1,433.1 L337.2,418.3 L337.3,411.3 L337.4,416.0 L337.6,429.8 L337.7,444.9 L337.8,452.9 L337.9,449.1 L338.0,435.7 L338.1,420.2 L338.2,411.4 L338.3,414.2 L338.5,427.2 L338.6,442.9 L338.7,452.5 L338.8,450.6 L338.9,438.3 L339.0,422.5 L339.1,412.1 L339.2,413.1 L339.3,424.7 L339.5,440.5 L339.6,451.5 L339.7,451.5 L339.8,440.6 L339.9,424.9 L340.0,413.2 L340.1,412.1 L340.2,422.3 L340.4,438.1 L340.5,450.5 L340.6,452.6 L340.7,443.0 L340.8,427.3 L340.9,414.2 L341.0,411.2 L341.1,420.0 L341.3,435.6 L341.4,449.2 L341.5,453.1 L341.6,445.2 L341.7,429.9 L341.8,415.9 L341.9,411.0 L342.0,418.1 L342.1,433.0 L342.3,447.4 L342.4,453.1 L342.5,447.0 L342.6,432.5 L342.7,417.7 L342.8,410.9 L342.9,416.1 L343.0,430.4 L343.2,445.6 L343.3,453.2 L343.4,448.9 L343.5,435.1 L343.6,419.5 L343.7,411.0 L343.8,414.4 L343.9,427.8 L344.1,443.5 L344.2,452.8 L344.3,450.3 L344.4,437.6 L344.5,421.8 L344.6,411.8 L344.7,413.2 L344.8,425.3 L344.9,441.1 L345.1,451.9 L345.2,451.5 L345.3,440.1 L345.4,424.2 L345.5,412.6 L345.6,412.0 L345.7,422.8 L345.8,438.8 L346.0,451.0 L346.1,452.6 L346.2,442.6 L346.3,426.6 L346.4,413.7 L346.5,411.2 L346.6,420.5 L346.7,436.2 L346.9,449.6 L347.0,453.1 L347.1,444.7 L347.2,429.2 L347.3,415.3 L347.4,410.9 L347.5,418.4 L347.6,433.6 L347.7,448.0 L347.9,453.3 L348.0,446.7 L348.1,431.8 L348.2,417.0 L348.3,410.6 L348.4,416.4 L348.5,431.0 L348.6,446.2 L348.8,453.5 L348.9,448.6 L349.0,434.4 L349.1,418.9 L349.2,410.8 L349.3,414.7 L349.4,428.4 L349.5,444.1 L349.7,453.0 L349.8,450.0 L349.9,437.0 L350.0,421.2 L350.1,411.5 L350.2,413.4 L350.3,425.8 L350.4,441.8 L350.5,452.3 L350.7,451.4 L350.8,439.6 L350.9,423.4 L351.0,412.1 L351.1,412.0 L351.2,423.3 L351.3,439.5 L351.4,451.5 L351.6,452.5 L351.7,442.0 L351.8,425.9 L351.9,413.3 L352.0,411.3 L352.1,421.0 L352.2,436.9 L352.3,450.0 L352.5,453.0 L352.6,444.2 L352.7,428.5 L352.8,414.8 L352.9,410.8 L353.0,418.8 L353.1,434.3 L353.2,448.6 L353.3,453.5 L353.5,446.4 L353.6,431.1 L353.7,416.3 L353.8,410.4 L353.9,416.7 L354.0,431.6 L354.1,446.8 L354.2,453.6 L354.4,448.2 L354.5,433.7 L354.6,418.3 L354.7,410.6 L354.8,415.0 L354.9,429.0 L355.0,444.6 L355.1,453.2 L355.3,449.8 L355.4,436.4 L355.5,420.4 L355.6,411.0 L355.7,413.4 L355.8,426.4 L355.9,442.5 L356.0,452.7 L356.2,451.3 L356.3,439.0 L356.4,422.7 L356.5,411.7 L356.6,412.1 L356.7,423.8 L356.8,440.1 L356.9,451.8 L357.0,452.3 L357.2,441.4 L357.3,425.2 L357.4,412.9 L357.5,411.3 L357.6,421.5 L357.7,437.5 L357.8,450.5 L357.9,453.0 L358.1,443.7 L358.2,427.8 L358.3,414.2 L358.4,410.6 L358.5,419.1 L358.6,434.9 L358.7,449.1 L358.8,453.6 L359.0,446.0 L359.1,430.4 L359.2,415.7 L359.3,410.3 L359.4,417.1 L359.5,432.3 L359.6,447.3 L359.7,453.7 L359.8,447.8 L360.0,433.1 L360.1,417.7 L360.2,410.4 L360.3,415.3 L360.4,429.6 L360.5,445.3 L360.6,453.5 L360.7,449.6 L360.9,435.7 L361.0,419.7 L361.1,410.6 L361.2,413.6 L361.3,426.9 L361.4,443.1 L361.5,453.1 L361.6,451.1 L361.8,438.3 L361.9,422.0 L362.0,411.3 L362.1,412.3 L362.2,424.4 L362.3,440.7 L362.4,452.1 L362.5,452.1 L362.6,440.8 L362.8,424.5 L362.9,412.4 L363.0,411.4 L363.1,421.9 L363.2,438.2 L363.3,451.0 L363.4,453.1 L363.5,443.2 L363.7,427.0 L363.8,413.6 L363.9,410.5 L364.0,419.6 L364.1,435.6 L364.2,449.6 L364.3,453.7 L364.4,445.5 L364.6,429.7 L364.7,415.2 L364.8,410.2 L364.9,417.5 L365.0,432.9 L365.1,447.8 L365.2,453.8 L365.3,447.4 L365.4,432.4 L365.6,417.1 L365.7,410.2 L365.8,415.6 L365.9,430.3 L366.0,445.9 L366.1,453.8 L366.2,449.3 L366.3,435.1 L366.5,419.1 L366.6,410.3 L366.7,413.8 L366.8,427.6 L366.9,443.8 L367.0,453.3 L367.1,450.8 L367.2,437.7 L367.4,421.4 L367.5,411.0 L367.6,412.5 L367.7,425.0 L367.8,441.4 L367.9,452.5 L368.0,452.0 L368.1,440.3 L368.2,423.8 L368.4,411.9 L368.5,411.4 L368.6,422.5 L368.7,438.9 L368.8,451.5 L368.9,453.1 L369.0,442.8 L369.1,426.3 L369.3,413.1 L369.4,410.5 L369.5,420.1 L369.6,436.3 L369.7,450.1 L369.8,453.7 L369.9,445.0 L370.0,429.0 L370.2,414.7 L370.3,410.2 L370.4,417.9 L370.5,433.6 L370.6,448.4 L370.7,454.0 L370.8,447.1 L370.9,431.7 L371.0,416.4 L371.2,409.9 L371.3,415.9 L371.4,430.9 L371.5,446.6 L371.6,454.0 L371.7,449.0 L371.8,434.4 L371.9,418.4 L372.1,410.1 L372.2,414.1 L372.3,428.2 L372.4,444.4 L372.5,453.6 L372.6,450.6 L372.7,437.1 L372.8,420.7 L373.0,410.7 L373.1,412.7 L373.2,425.6 L373.3,442.1 L373.4,452.9 L373.5,452.0 L373.6,439.7 L373.7,423.1 L373.8,411.5 L374.0,411.5 L374.1,423.0 L374.2,439.7 L374.3,452.0 L374.4,453.1 L374.5,442.2 L374.6,425.7 L374.7,412.7 L374.9,410.6 L375.0,420.6 L375.1,437.0 L375.2,450.6 L375.3,453.7 L375.4,444.6 L375.5,428.3 L375.6,414.2 L375.8,410.1 L375.9,418.4 L376.0,434.4 L376.1,449.1 L376.2,454.2 L376.3,446.8 L376.4,431.0 L376.5,415.9 L376.6,409.8 L376.8,416.3 L376.9,431.6 L377.0,447.2 L377.1,454.3 L377.2,448.7 L377.3,433.8 L377.4,417.9 L377.5,410.0 L377.7,414.5 L377.8,428.9 L377.9,445.1 L378.0,453.9 L378.1,450.4 L378.2,436.5 L378.3,420.1 L378.4,410.4 L378.6,412.9 L378.7,426.2 L378.8,442.8 L378.9,453.4 L379.0,451.9 L379.1,439.2 L379.2,422.4 L379.3,411.1 L379.4,411.6 L379.6,423.6 L379.7,440.4 L379.8,452.4 L379.9,453.0 L380.0,441.7 L380.1,425.0 L380.2,412.3 L380.3,410.7 L380.5,421.2 L380.6,437.8 L380.7,451.2 L380.8,453.8 L380.9,444.1 L381.0,427.7 L381.1,413.7 L381.2,410.0 L381.4,418.8 L381.5,435.1 L381.6,449.7 L381.7,454.3 L381.8,446.4 L381.9,430.4 L382.0,415.3 L382.1,409.7 L382.2,416.7 L382.4,432.4 L382.5,447.9 L382.6,454.4 L382.7,448.4 L382.8,433.1 L382.9,417.3 L383.0,409.8 L383.1,414.9 L383.3,429.6 L383.4,445.8 L383.5,454.2 L383.6,450.2 L383.7,435.9 L383.8,419.4 L383.9,410.1 L384.0,413.2 L384.2,426.9 L384.3,443.6 L384.4,453.8 L384.5,451.7 L384.6,438.6 L384.7,421.8 L384.8,410.8 L384.9,411.8 L385.1,424.3 L385.2,441.1 L385.3,452.9 L385.4,452.9 L385.5,441.2 L385.6,424.3 L385.7,411.9 L385.8,410.8 L385.9,421.7 L386.1,438.5 L386.2,451.7 L386.3,453.8 L386.4,443.7 L386.5,427.0 L386.6,413.1 L386.7,410.0 L386.8,419.3 L387.0,435.9 L387.1,450.3 L387.2,454.4 L387.3,446.0 L387.4,429.7 L387.5,414.8 L387.6,409.6 L387.7,417.2 L387.9,433.1 L388.0,448.5 L388.1,454.6 L388.2,448.0 L388.3,432.5 L388.4,416.7 L388.5,409.6 L388.6,415.2 L388.7,430.3 L388.9,446.5 L389.0,454.5 L389.1,449.9 L389.2,435.2 L389.3,418.8 L389.4,409.8 L389.5,413.4 L389.6,427.6 L389.8,444.3 L389.9,454.1 L390.0,451.5 L390.1,438.0 L390.2,421.1 L390.3,410.5 L390.4,412.0 L390.5,424.9 L390.7,441.8 L390.8,453.3 L390.9,452.8 L391.0,440.6 L391.1,423.6 L391.2,411.4 L391.3,410.9 L391.4,422.3 L391.5,439.3 L391.7,452.2 L391.8,453.8 L391.9,443.1 L392.0,426.2 L392.1,412.6 L392.2,410.0 L392.3,419.8 L392.4,436.6 L392.6,450.8 L392.7,454.4 L392.8,445.5 L392.9,429.0 L393.0,414.2 L393.1,409.6 L393.2,417.6 L393.3,433.8 L393.5,449.1 L393.6,454.7 L393.7,447.6 L393.8,431.8 L393.9,416.0 L394.0,409.4 L394.1,415.5 L394.2,431.0 L394.3,447.1 L394.5,454.8 L394.6,449.6 L394.7,434.5 L394.8,418.1 L394.9,409.5 L395.0,413.7 L395.1,428.2 L395.2,444.9 L395.4,454.4 L395.5,451.2 L395.6,437.3 L395.7,420.4 L395.8,410.1 L395.9,412.2 L396.0,425.5 L396.1,442.5 L396.3,453.6 L396.4,452.6 L396.5,440.0 L396.6,422.9 L396.7,410.9 L396.8,410.9 L396.9,422.8 L397.0,440.0 L397.1,452.7 L397.3,453.7 L397.4,442.6 L397.5,425.5 L397.6,412.1 L397.7,410.0 L397.8,420.3 L397.9,437.3 L398.0,451.3 L398.2,454.4 L398.3,445.0 L398.4,428.2 L398.5,413.7 L398.6,409.5 L398.7,418.0 L398.8,434.5 L398.9,449.6 L399.1,454.9 L399.2,447.2 L399.3,431.0 L399.4,415.4 L399.5,409.2 L399.6,415.9 L399.7,431.7 L399.8,447.7 L399.9,454.9 L400.1,449.2 L400.2,433.8 L400.3,417.4 L400.4,409.3 L400.5,414.0 L400.6,428.9 L400.7,445.6 L400.8,454.6 L401.0,450.9 L401.1,436.6 L401.2,419.7 L401.3,409.7 L401.4,412.4 L401.5,426.1 L401.6,443.2 L401.7,454.0 L401.9,452.4 L402.0,439.4 L402.1,422.1 L402.2,410.5 L402.3,411.0 L402.4,423.4 L402.5,440.7 L402.6,453.1 L402.7,453.6 L402.9,442.0 L403.0,424.7 L403.1,411.6 L403.2,410.0 L403.3,420.8 L403.4,438.0 L403.5,451.8 L403.6,454.4 L403.8,444.4 L403.9,427.5 L404.0,413.1 L404.1,409.3 L404.2,418.4 L404.3,435.2 L404.4,450.2 L404.5,455.0 L404.7,446.8 L404.8,430.3 L404.9,414.7 L405.0,409.0 L405.1,416.2 L405.2,432.4 L405.3,448.3 L405.4,455.1 L405.5,448.8 L405.7,433.1 L405.8,416.7 L405.9,409.0 L406.0,414.3 L406.1,429.5 L406.2,446.2 L406.3,454.9 L406.4,450.6 L406.6,435.9 L406.7,419.0 L406.8,409.4 L406.9,412.5 L407.0,426.7 L407.1,443.9 L407.2,454.4 L407.3,452.2 L407.5,438.7 L407.6,421.4 L407.7,410.0 L407.8,411.1 L407.9,424.0 L408.0,441.3 L408.1,453.5 L408.2,453.4 L408.3,441.3 L408.5,424.0 L408.6,411.1 L408.7,410.0 L408.8,421.3 L408.9,438.7 L409.0,452.2 L409.1,454.4 L409.2,443.9 L409.4,426.7 L409.5,412.4 L409.6,409.2 L409.7,418.9 L409.8,435.9 L409.9,450.7 L410.0,455.0 L410.1,446.3 L410.3,429.5 L410.4,414.1 L410.5,408.8 L410.6,416.6 L410.7,433.0 L410.8,448.9 L410.9,455.2 L411.0,448.4 L411.1,432.3 L411.3,416.0 L411.4,408.7 L411.5,414.5 L411.6,430.2 L411.7,446.8 L411.8,455.1 L411.9,450.3 L412.0,435.2 L412.2,418.2 L412.3,409.0 L412.4,412.7 L412.5,427.3 L412.6,444.5 L412.7,454.7 L412.8,452.0 L412.9,438.0 L413.1,420.6 L413.2,409.6 L413.3,411.2 L413.4,424.5 L413.5,442.0 L413.6,453.8 L413.7,453.3 L413.8,440.7 L413.9,423.2 L414.1,410.6 L414.2,410.0 L414.3,421.8 L414.4,439.4 L414.5,452.7 L414.6,454.3 L414.7,443.3 L414.8,425.9 L415.0,411.8 L415.1,409.1 L415.2,419.3 L415.3,436.6 L415.4,451.2 L415.5,455.0 L415.6,445.7 L415.7,428.7 L415.9,413.4 L416.0,408.6 L416.1,417.0 L416.2,433.7 L416.3,449.5 L416.4,455.3 L416.5,447.9 L416.6,431.5 L416.8,415.3 L416.9,408.4 L417.0,414.8 L417.1,430.8 L417.2,447.4 L417.3,455.3 L417.4,449.9 L417.5,434.4" fill="none" stroke="#dc5a22" stroke-width="0.7" stroke-dasharray="1.2 0.6"/>
<path d="M224.4,456.2h0M225.2,457.0h0M228.2,456.4h0M230.2,458.3h0M235.4,455.8h0M238.1,407.8h0M237.7,456.1h0M237.1,456.6h0M239.5,454.4h0M241.4,407.8h0M241.7,410.0h0M244.7,456.4h0M246.5,408.3h0M246.9,456.4h0M247.3,456.0h0M248.3,408.9h0M249.6,454.8h0M250.8,409.6h0M251.1,453.2h0M252.8,410.0h0M256.5,412.5h0M256.1,410.1h0M256.2,409.6h0M256.2,454.5h0M258.1,410.9h0M258.1,453.5h0M263.2,453.8h0M265.8,453.1h0M267.3,412.9h0M268.4,411.9h0M267.8,451.7h0M266.8,454.4h0M269.4,410.5h0M270.3,410.8h0M270.5,454.1h0M274.9,412.9h0M274.6,412.6h0M274.5,452.4h0M276.1,412.2h0M277.7,452.2h0M278.7,452.0h0M281.5,452.8h0M283.4,411.0h0M284.5,452.9h0M286.2,411.8h0M286.9,453.0h0M285.9,451.8h0M287.4,411.8h0M293.1,413.1h0M295.2,411.2h0M294.2,412.3h0M294.8,452.5h0M295.3,451.3h0M296.7,411.0h0M298.1,450.9h0M298.3,452.0h0M299.8,451.2h0M299.7,453.1h0M302.3,409.8h0M301.1,451.5h0M303.9,451.1h0M306.2,453.3h0M308.5,410.8h0M309.7,412.2h0M308.2,453.3h0M311.9,411.3h0M311.8,453.8h0M313.3,412.3h0M315.0,409.4h0M318.3,412.3h0M318.0,453.6h0M320.7,451.9h0M320.0,454.2h0M325.3,410.3h0M326.0,453.2h0M324.1,454.7h0M327.6,411.0h0M327.6,452.6h0M328.9,454.2h0M328.8,452.6h0M333.3,411.8h0M334.5,453.6h0M338.6,411.4h0M338.5,452.4h0M343.6,408.2h0M343.3,408.6h0M343.3,454.1h0M344.2,455.2h0M347.6,410.0h0M352.5,409.4h0M351.7,454.0h0M354.7,408.9h0M357.1,407.7h0M356.3,409.7h0M357.0,452.9h0M356.4,453.2h0M364.6,409.1h0M367.0,454.0h0M373.0,455.7h0M375.9,410.3h0M374.7,456.0h0M380.9,456.4h0M381.9,456.1h0M384.6,408.7h0M390.1,409.0h0M397.2,409.0h0M396.9,407.1h0M397.1,455.2h0M401.8,408.0h0M402.7,409.1h0M406.0,408.3h0M410.1,454.4h0M416.2,457.1h0" fill="none" stroke="#e0602a" stroke-width="0.9" stroke-linecap="round"/>
<path d="M222.3,454.9h0M224.3,454.9h0M225.4,453.7h0M231.0,411.0h0M230.1,452.3h0M233.6,410.8h0M236.8,451.7h0M239.3,450.8h0M237.6,452.4h0M241.3,413.0h0M241.4,450.7h0M242.8,412.6h0M243.6,451.3h0M244.4,448.8h0M247.8,413.3h0M247.5,414.7h0M246.6,449.4h0M248.6,451.7h0M250.1,412.7h0M251.3,415.7h0M251.3,448.7h0M253.0,450.7h0M254.2,414.7h0M254.0,448.3h0M257.6,447.0h0M257.6,450.7h0M264.5,446.2h0M263.0,448.7h0M264.7,449.1h0M266.9,415.2h0M268.8,417.5h0M268.8,446.7h0M267.1,448.8h0M270.6,413.7h0M269.6,415.0h0M270.7,417.2h0M269.7,445.1h0M270.9,447.0h0M273.1,417.3h0M272.9,446.5h0M271.6,449.4h0M275.7,413.6h0M275.8,417.5h0M275.7,446.6h0M274.7,448.7h0M276.4,415.0h0M277.9,417.1h0M277.0,419.1h0M276.7,444.5h0M278.0,446.4h0M276.4,449.4h0M277.5,450.5h0M278.6,420.0h0M280.4,447.0h0M281.3,419.0h0M282.3,446.4h0M283.6,414.9h0M283.2,420.0h0M284.8,446.4h0M286.9,417.2h0M285.8,445.0h0M287.1,446.5h0M288.5,419.8h0M287.7,444.3h0M289.8,446.4h0M291.7,417.2h0M290.2,419.8h0M292.5,415.4h0M294.3,417.1h0M292.5,419.7h0M294.3,446.8h0M294.7,415.7h0M296.4,446.7h0M297.4,415.5h0M298.6,417.4h0M298.2,421.5h0M298.2,446.4h0M297.1,449.1h0M300.9,417.4h0M299.6,419.7h0M301.2,421.6h0M299.3,444.6h0M300.9,446.7h0M303.2,417.6h0M302.0,419.6h0M303.5,442.7h0M302.3,444.4h0M305.6,413.4h0M305.6,417.2h0M305.9,442.9h0M304.3,449.1h0M306.7,415.2h0M308.2,417.5h0M307.0,444.4h0M308.0,447.1h0M310.1,413.5h0M309.0,415.1h0M310.3,421.6h0M310.4,442.3h0M309.7,446.4h0M308.9,449.1h0M312.5,413.5h0M311.4,415.3h0M312.6,417.1h0M311.5,419.4h0M312.2,442.8h0M311.3,444.5h0M312.3,446.5h0M311.5,449.3h0M314.8,413.3h0M313.6,415.3h0M314.3,417.2h0M313.5,419.6h0M315.0,421.5h0M314.6,442.4h0M313.8,444.5h0M313.2,448.5h0M314.7,451.1h0M316.1,415.6h0M316.6,417.5h0M315.5,419.4h0M316.7,442.3h0M316.2,444.9h0M316.6,447.2h0M316.1,448.9h0M316.9,450.7h0M317.7,415.2h0M319.0,417.4h0M319.6,442.3h0M318.3,445.1h0M319.3,446.9h0M318.0,448.6h0M319.5,450.9h0M321.2,413.1h0M321.2,417.6h0M320.7,419.9h0M321.7,421.5h0M321.3,442.2h0M320.7,444.3h0M321.6,446.8h0M320.2,449.2h0M324.0,413.6h0M322.8,415.2h0M323.7,417.6h0M322.7,419.5h0M323.5,442.3h0M322.8,445.1h0M322.4,448.7h0M324.0,451.3h0M326.2,413.0h0M325.3,415.4h0M325.2,419.5h0M326.3,421.3h0M326.3,442.5h0M325.3,444.4h0M326.1,446.9h0M325.1,448.6h0M327.3,415.6h0M327.0,419.8h0M328.4,421.7h0M328.3,442.6h0M327.2,444.6h0M328.8,446.8h0M328.7,451.1h0M331.1,413.0h0M330.8,417.7h0M333.3,413.3h0M332.9,442.3h0M331.7,448.5h0M335.6,413.3h0M334.6,445.1h0M333.9,448.8h0M335.4,450.9h0M337.5,413.1h0M336.7,415.2h0M336.8,419.5h0M338.0,421.6h0M336.2,423.7h0M336.4,444.9h0M336.2,448.6h0M340.3,413.1h0M339.1,419.6h0M339.9,421.4h0M338.8,423.7h0M342.3,412.9h0M340.9,415.1h0M342.4,417.2h0M341.4,419.3h0M342.1,421.3h0M341.9,443.0h0M341.2,444.5h0M342.5,446.8h0M341.5,449.0h0M342.0,451.3h0M344.2,413.5h0M343.2,415.4h0M343.6,419.4h0M343.5,424.0h0M344.3,442.9h0M343.1,444.4h0M344.5,446.7h0M343.5,448.9h0M344.4,450.9h0M346.5,413.2h0M347.0,417.3h0M345.7,419.8h0M347.2,421.4h0M345.9,423.9h0M345.7,440.6h0M346.9,442.3h0M345.7,444.6h0M347.0,446.6h0M346.0,449.1h0M347.0,450.7h0M349.1,413.3h0M348.0,415.5h0M349.1,417.6h0M348.2,419.3h0M347.9,423.9h0M349.1,442.5h0M347.8,444.7h0M348.9,447.0h0M350.4,415.4h0M351.4,417.2h0M350.0,419.3h0M351.4,421.7h0M350.4,423.9h0M351.7,442.8h0M350.0,444.6h0M351.8,446.6h0M350.5,449.2h0M351.4,451.0h0M353.5,417.6h0M352.9,419.8h0M354.1,421.3h0M352.6,423.5h0M353.5,442.8h0M352.6,444.4h0M353.9,447.1h0M354.1,450.7h0M356.2,412.9h0M355.9,417.3h0M354.7,419.7h0M356.2,421.9h0M358.3,412.9h0M358.5,417.4h0M356.9,419.7h0M357.2,423.8h0M358.2,442.7h0M357.0,444.4h0M358.1,451.1h0M359.8,415.3h0M360.8,417.6h0M359.8,419.5h0M360.6,421.5h0M359.5,440.2h0M359.7,444.6h0M360.5,446.7h0M360.8,450.8h0M362.8,412.9h0M361.7,415.3h0M361.6,419.7h0M363.1,421.7h0M361.6,440.6h0M363.2,442.8h0M362.7,446.6h0M365.4,413.3h0M365.1,417.3h0M364.0,419.5h0M365.5,421.3h0M363.8,423.6h0M364.1,440.5h0M365.6,442.5h0M364.0,445.0h0M365.1,446.5h0M364.1,449.1h0M365.4,451.1h0M367.7,413.2h0M366.7,415.4h0M366.5,419.8h0M367.7,421.4h0M366.6,424.0h0M366.1,440.2h0M367.4,442.8h0M366.7,444.9h0M367.9,446.6h0M369.7,413.5h0M368.6,415.3h0M369.7,417.5h0M368.7,419.8h0M370.0,421.3h0M368.9,424.0h0M368.8,440.2h0M369.0,444.5h0M369.0,449.1h0M370.0,450.7h0M371.3,415.6h0M370.9,419.6h0M371.3,440.2h0M372.3,442.8h0M371.2,444.9h0M372.3,446.8h0M373.1,419.4h0M373.3,423.4h0M373.3,440.3h0M373.3,444.7h0M374.5,447.1h0M373.3,448.7h0M375.9,411.4h0M377.1,413.2h0M375.3,415.2h0M376.5,417.7h0M376.7,421.8h0M376.5,425.6h0M376.7,446.6h0M377.9,415.6h0M378.2,419.3h0M378.9,421.3h0M379.2,425.9h0M379.2,442.7h0M377.8,449.0h0M381.5,413.0h0M381.4,421.3h0M381.0,425.6h0M379.9,448.7h0M379.9,453.1h0M382.2,410.9h0M382.8,415.1h0M383.7,421.5h0M383.6,425.7h0M383.5,442.3h0M382.6,444.5h0M382.4,448.8h0M383.8,450.8h0M382.4,453.2h0M384.5,411.2h0M386.2,413.4h0M384.5,415.4h0M386.2,417.3h0M385.8,421.3h0M385.1,423.6h0M385.6,425.9h0M384.9,440.3h0M385.9,442.4h0M384.7,444.4h0M384.6,448.9h0M385.8,450.7h0M384.6,453.0h0M387.3,411.3h0M388.0,413.4h0M387.3,415.4h0M388.3,417.7h0M387.3,419.6h0M388.6,421.3h0M387.2,423.9h0M387.3,440.8h0M388.3,442.3h0M387.2,444.8h0M388.5,446.6h0M387.9,450.9h0M389.6,411.3h0M389.6,415.2h0M390.6,417.7h0M389.4,419.2h0M390.4,421.6h0M389.2,423.4h0M390.4,425.9h0M390.3,438.5h0M389.5,440.7h0M390.5,442.4h0M389.4,444.7h0M389.5,449.0h0M389.1,453.3h0M391.6,411.3h0M392.6,413.3h0M392.0,415.3h0M392.9,417.1h0M391.9,419.6h0M393.0,421.6h0M391.9,423.7h0M392.8,426.1h0M392.8,438.5h0M391.8,440.6h0M393.1,442.9h0M391.5,444.6h0M393.1,446.5h0M391.8,448.7h0M393.2,451.1h0M391.4,453.0h0M394.0,411.3h0M395.0,413.0h0M393.9,415.1h0M395.1,417.4h0M393.9,419.6h0M395.0,421.8h0M394.1,423.9h0M395.0,438.6h0M394.3,440.8h0M395.0,442.6h0M394.0,444.9h0M395.1,446.7h0M394.2,449.1h0M395.4,450.8h0M393.9,453.3h0M396.2,415.3h0M397.5,417.7h0M396.0,419.7h0M397.2,421.7h0M396.4,423.6h0M397.4,425.7h0M396.4,440.4h0M397.2,442.4h0M397.2,446.6h0M396.4,448.6h0M397.2,450.9h0M396.3,453.3h0M398.7,410.9h0M399.7,413.4h0M399.6,417.2h0M399.9,421.9h0M398.3,423.6h0M399.5,425.7h0M399.7,438.2h0M399.7,446.8h0M399.7,450.7h0M402.0,413.4h0M401.9,417.5h0M400.8,419.4h0M401.7,438.6h0M400.8,440.3h0M400.8,444.9h0M400.9,453.0h0M403.0,411.1h0M403.2,415.3h0M404.2,417.7h0M403.3,424.0h0M403.5,444.8h0M403.4,449.0h0M403.0,453.2h0M405.6,411.4h0M405.6,415.0h0M406.8,417.2h0M405.3,419.4h0M406.6,421.8h0M405.8,423.7h0M405.8,444.9h0M406.4,446.6h0M405.3,449.1h0M407.8,411.0h0M408.9,421.3h0M407.6,423.7h0M409.0,425.7h0M409.1,438.5h0M408.8,442.4h0M407.7,444.5h0M409.3,446.6h0M407.7,448.9h0M407.6,452.8h0M410.2,411.0h0M411.4,413.0h0M410.0,415.3h0M411.1,417.2h0M410.4,423.4h0M411.5,425.5h0M411.3,442.6h0M409.8,444.4h0M411.1,446.7h0M411.4,451.1h0M410.0,453.0h0M412.5,415.0h0M413.3,417.1h0M412.2,419.4h0M413.5,421.8h0M412.7,423.8h0M413.4,438.5h0M412.5,440.5h0M413.3,442.9h0M413.8,450.8h0M412.4,453.2h0M414.7,415.0h0M415.8,417.5h0M414.5,419.6h0M415.6,421.7h0M414.7,423.8h0M416.1,425.6h0M415.9,438.4h0M414.5,440.7h0M415.7,442.4h0M415.0,444.9h0M415.6,446.9h0M414.9,448.6h0M415.6,450.7h0M414.6,453.2h0M417.1,411.1h0M418.0,413.2h0M417.0,415.3h0M417.2,419.3h0M418.2,421.7h0M417.0,424.0h0M418.5,425.8h0M417.9,438.1h0M416.9,440.2h0M418.3,442.4h0M417.1,445.0h0M417.9,447.0h0M417.2,448.7h0M418.4,451.1h0M416.8,453.3h0" fill="none" stroke="#fff" stroke-opacity="0.45" stroke-width="1.0" stroke-linecap="round"/>
<path d="M220.50,411.03 L220.80,411.00 L221.10,411.71 L221.40,412.80 L221.70,413.73 L222.00,414.05 L222.30,413.63 L222.60,412.74 L222.90,411.86 L223.20,411.48 L223.49,411.80 L223.79,412.68 L224.09,413.67 L224.39,414.28 L224.69,414.24 L224.99,413.61 L225.29,412.75 L225.59,412.14 L225.89,412.10 L226.19,412.68 L226.49,413.59 L226.79,414.37 L227.09,414.66 L227.39,414.35 L227.69,413.62 L227.99,412.90 L228.29,412.58 L228.59,412.84 L228.89,413.56 L229.18,414.39 L229.48,414.92 L229.78,414.91 L230.08,414.41 L230.38,413.71 L230.68,413.20 L230.98,413.16 L231.28,413.64 L231.58,414.39 L231.88,415.05 L232.18,415.31 L232.48,415.07 L232.78,414.49 L233.08,413.90 L233.38,413.63 L233.68,413.84 L233.98,414.43 L234.28,415.12 L234.57,415.57 L234.87,415.59 L235.17,415.19 L235.47,414.62 L235.77,414.20 L236.07,414.16 L236.37,414.55 L236.67,415.17 L236.97,415.73 L237.27,415.97 L237.57,415.79 L237.87,415.32 L238.17,414.84 L238.47,414.62 L238.77,414.78 L239.07,415.27 L239.37,415.85 L239.67,416.24 L239.97,416.28 L240.26,415.97 L240.56,415.51 L240.86,415.16 L241.16,415.13 L241.46,415.45 L241.76,415.97 L242.06,416.44 L242.36,416.66 L242.66,416.53 L242.96,416.16 L243.26,415.76 L243.56,415.58 L243.86,415.72 L244.16,416.12 L244.46,416.61 L244.76,416.94 L245.06,416.99 L245.36,416.75 L245.66,416.38 L245.95,416.10 L246.25,416.07 L246.55,416.33 L246.85,416.77 L247.15,417.17 L247.45,417.36 L247.75,417.27 L248.05,416.98 L248.35,416.66 L248.65,416.51 L248.95,416.62 L249.25,416.95 L249.55,417.36 L249.85,417.65 L250.15,417.70 L250.45,417.52 L250.75,417.22 L251.05,417.00 L251.35,416.97 L251.64,417.19 L251.94,417.55 L252.24,417.89 L252.54,418.06 L252.84,418.00 L253.14,417.76 L253.44,417.51 L253.74,417.38 L254.04,417.47 L254.34,417.75 L254.64,418.09 L254.94,418.34 L255.24,418.40 L255.54,418.25 L255.84,418.02 L256.14,417.83 L256.44,417.81 L256.74,417.99 L257.04,418.29 L257.33,418.57 L257.63,418.72 L257.93,418.68 L258.23,418.50 L258.53,418.29 L258.83,418.19 L259.13,418.26 L259.43,418.49 L259.73,418.78 L260.03,418.99 L260.33,419.04 L260.63,418.93 L260.93,418.74 L261.23,418.59 L261.53,418.57 L261.83,418.72 L262.13,418.96 L262.43,419.21 L262.73,419.34 L263.02,419.31 L263.32,419.17 L263.62,419.00 L263.92,418.92 L264.22,418.98 L264.52,419.17 L264.82,419.41 L265.12,419.59 L265.42,419.65 L265.72,419.57 L266.02,419.42 L266.32,419.29 L266.62,419.28 L266.92,419.40 L267.22,419.61 L267.52,419.82 L267.82,419.94 L268.12,419.92 L268.41,419.81 L268.71,419.68 L269.01,419.61 L269.31,419.66 L269.61,419.82 L269.91,420.03 L270.21,420.19 L270.51,420.24 L270.81,420.18 L271.11,420.06 L271.41,419.96 L271.71,419.95 L272.01,420.06 L272.31,420.23 L272.61,420.41 L272.91,420.51 L273.21,420.51 L273.51,420.42 L273.81,420.32 L274.10,420.26 L274.40,420.31 L274.70,420.44 L275.00,420.61 L275.30,420.75 L275.60,420.80 L275.90,420.76 L276.20,420.66 L276.50,420.58 L276.80,420.58 L277.10,420.66 L277.40,420.81 L277.70,420.96 L278.00,421.05 L278.30,421.06 L278.60,420.99 L278.90,420.90 L279.20,420.86 L279.50,420.89 L279.79,421.01 L280.09,421.15 L280.39,421.27 L280.69,421.31 L280.99,421.28 L281.29,421.21 L281.59,421.14 L281.89,421.13 L282.19,421.20 L282.49,421.33 L282.79,421.45 L283.09,421.53 L283.39,421.54 L283.69,421.49 L283.99,421.42 L284.29,421.38 L284.59,421.41 L284.89,421.50 L285.19,421.62 L285.48,421.72 L285.78,421.76 L286.08,421.73 L286.38,421.67 L286.68,421.62 L286.98,421.61 L287.28,421.67 L287.58,421.77 L287.88,421.87 L288.18,421.94 L288.48,421.95 L288.78,421.90 L289.08,421.84 L289.38,421.81 L289.68,421.83 L289.98,421.91 L290.28,422.01 L290.58,422.09 L290.88,422.13 L291.17,422.11 L291.47,422.06 L291.77,422.01 L292.07,422.00 L292.37,422.05 L292.67,422.13 L292.97,422.22 L293.27,422.28 L293.57,422.29 L293.87,422.26 L294.17,422.21 L294.47,422.18 L294.77,422.20 L295.07,422.26 L295.37,422.34 L295.67,422.42 L295.97,422.45 L296.27,422.43 L296.56,422.39 L296.86,422.35 L297.16,422.35 L297.46,422.38 L297.76,422.46 L298.06,422.53 L298.36,422.58 L298.66,422.59 L298.96,422.57 L299.26,422.53 L299.56,422.50 L299.86,422.52 L300.16,422.57 L300.46,422.64 L300.76,422.70 L301.06,422.73 L301.36,422.73 L301.66,422.69 L301.96,422.66 L302.25,422.65 L302.55,422.69 L302.85,422.75 L303.15,422.82 L303.45,422.86 L303.75,422.87 L304.05,422.85 L304.35,422.82 L304.65,422.80 L304.95,422.81 L305.25,422.86 L305.55,422.92 L305.85,422.98 L306.15,423.01 L306.45,423.00 L306.75,422.97 L307.05,422.95 L307.35,422.95 L307.65,422.98 L307.94,423.03 L308.24,423.09 L308.54,423.13 L308.84,423.14 L309.14,423.13 L309.44,423.10 L309.74,423.09 L310.04,423.10 L310.34,423.14 L310.64,423.20 L310.94,423.25 L311.24,423.28 L311.54,423.28 L311.84,423.26 L312.14,423.24 L312.44,423.24 L312.74,423.27 L313.04,423.31 L313.34,423.37 L313.63,423.41 L313.93,423.42 L314.23,423.41 L314.53,423.39 L314.83,423.39 L315.13,423.40 L315.43,423.43 L315.73,423.48 L316.03,423.53 L316.33,423.56 L316.63,423.56 L316.93,423.55 L317.23,423.53 L317.53,423.54 L317.83,423.56 L318.13,423.60 L318.43,423.65 L318.73,423.68 L319.02,423.70 L319.32,423.70 L319.62,423.68 L319.92,423.68 L320.22,423.69 L320.52,423.72 L320.82,423.77 L321.12,423.81 L321.42,423.83 L321.72,423.84 L322.02,423.83 L322.32,423.82 L322.62,423.82 L322.92,423.84 L323.22,423.88 L323.52,423.92 L323.82,423.96 L324.12,423.97 L324.42,423.97 L324.71,423.96 L325.01,423.96 L325.31,423.97 L325.61,424.00 L325.91,424.04 L326.21,424.08 L326.51,424.10 L326.81,424.11 L327.11,424.10 L327.41,424.10 L327.71,424.10 L328.01,424.12 L328.31,424.16 L328.61,424.19 L328.91,424.22 L329.21,424.24 L329.51,424.24 L329.81,424.24 L330.11,424.24 L330.40,424.25 L330.70,424.28 L331.00,424.31 L331.30,424.34 L331.60,424.37 L331.90,424.38 L332.20,424.38 L332.50,424.37 L332.80,424.38 L333.10,424.40 L333.40,424.43 L333.70,424.46 L334.00,424.49 L334.30,424.51 L334.60,424.51 L334.90,424.51 L335.20,424.51 L335.50,424.53 L335.80,424.55 L336.09,424.58 L336.39,424.61 L336.69,424.64 L336.99,424.65 L337.29,424.65 L337.59,424.65 L337.89,424.66 L338.19,424.68 L338.49,424.70 L338.79,424.74 L339.09,424.76 L339.39,424.78 L339.69,424.79 L339.99,424.79 L340.29,424.79 L340.59,424.81 L340.89,424.83 L341.19,424.86 L341.49,424.89 L341.78,424.91 L342.08,424.93 L342.38,424.93 L342.68,424.94 L342.98,424.94 L343.28,424.96 L343.58,424.99 L343.88,425.02 L344.18,425.05 L344.48,425.06 L344.78,425.07 L345.08,425.08 L345.38,425.09 L345.68,425.10 L345.98,425.12 L346.28,425.15 L346.58,425.18 L346.88,425.20 L347.18,425.22 L347.47,425.22 L347.77,425.23 L348.07,425.24 L348.37,425.26 L348.67,425.29 L348.97,425.31 L349.27,425.34 L349.57,425.36 L349.87,425.37 L350.17,425.38 L350.47,425.38 L350.77,425.40 L351.07,425.42 L351.37,425.45 L351.67,425.47 L351.97,425.50 L352.27,425.51 L352.57,425.52 L352.86,425.53 L353.16,425.54 L353.46,425.56 L353.76,425.58 L354.06,425.61 L354.36,425.63 L354.66,425.65 L354.96,425.66 L355.26,425.67 L355.56,425.68 L355.86,425.69 L356.16,425.71 L356.46,425.74 L356.76,425.76 L357.06,425.78 L357.36,425.80 L357.66,425.81 L357.96,425.81 L358.26,425.83 L358.55,425.84 L358.85,425.86 L359.15,425.89 L359.45,425.91 L359.75,425.93 L360.05,425.94 L360.35,425.95 L360.65,425.95 L360.95,425.97 L361.25,425.99 L361.55,426.01 L361.85,426.03 L362.15,426.05 L362.45,426.06 L362.75,426.07 L363.05,426.08 L363.35,426.09 L363.65,426.10 L363.95,426.12 L364.24,426.14 L364.54,426.16 L364.84,426.18 L365.14,426.19 L365.44,426.20 L365.74,426.21 L366.04,426.22 L366.34,426.23 L366.64,426.25 L366.94,426.27 L367.24,426.29 L367.54,426.30 L367.84,426.31 L368.14,426.31 L368.44,426.32 L368.74,426.34 L369.04,426.35 L369.34,426.37 L369.64,426.39 L369.93,426.40 L370.23,426.41 L370.53,426.42 L370.83,426.42 L371.13,426.44 L371.43,426.45 L371.73,426.47 L372.03,426.48 L372.33,426.50 L372.63,426.51 L372.93,426.51 L373.23,426.52 L373.53,426.53 L373.83,426.54 L374.13,426.56 L374.43,426.57 L374.73,426.59 L375.03,426.60 L375.32,426.61 L375.62,426.62 L375.92,426.62 L376.22,426.63 L376.52,426.65 L376.82,426.66 L377.12,426.68 L377.42,426.69 L377.72,426.70 L378.02,426.71 L378.32,426.71 L378.62,426.72 L378.92,426.73 L379.22,426.75 L379.52,426.76 L379.82,426.78 L380.12,426.79 L380.42,426.80 L380.72,426.81 L381.01,426.81 L381.31,426.82 L381.61,426.83 L381.91,426.85 L382.21,426.86 L382.51,426.88 L382.81,426.89 L383.11,426.90 L383.41,426.90 L383.71,426.91 L384.01,426.92 L384.31,426.94 L384.61,426.95 L384.91,426.97 L385.21,426.98 L385.51,426.99 L385.81,427.00 L386.11,427.01 L386.41,427.02 L386.70,427.03 L387.00,427.04 L387.30,427.06 L387.60,427.07 L387.90,427.08 L388.20,427.09 L388.50,427.10 L388.80,427.11 L389.10,427.12 L389.40,427.14 L389.70,427.15 L390.00,427.17 L390.30,427.18 L390.60,427.19 L390.90,427.20 L391.20,427.21 L391.50,427.22 L391.80,427.24 L392.10,427.25 L392.39,427.27 L392.69,427.28 L392.99,427.30 L393.29,427.31 L393.59,427.32 L393.89,427.33 L394.19,427.34 L394.49,427.36 L394.79,427.37 L395.09,427.39 L395.39,427.40 L395.69,427.41 L395.99,427.43 L396.29,427.44 L396.59,427.45 L396.89,427.46 L397.19,427.48 L397.49,427.49 L397.79,427.51 L398.08,427.52 L398.38,427.54 L398.68,427.55 L398.98,427.56 L399.28,427.57 L399.58,427.59 L399.88,427.60 L400.18,427.62 L400.48,427.63 L400.78,427.65 L401.08,427.66 L401.38,427.67 L401.68,427.68 L401.98,427.70 L402.28,427.71 L402.58,427.73 L402.88,427.74 L403.18,427.76 L403.48,427.77 L403.77,427.78 L404.07,427.80 L404.37,427.81 L404.67,427.83 L404.97,427.84 L405.27,427.86 L405.57,427.87 L405.87,427.89 L406.17,427.90 L406.47,427.91 L406.77,427.93 L407.07,427.94 L407.37,427.96 L407.67,427.97 L407.97,427.99 L408.27,428.00 L408.57,428.02 L408.87,428.03 L409.16,428.04 L409.46,428.06 L409.76,428.07 L410.06,428.09 L410.36,428.11 L410.66,428.12 L410.96,428.14 L411.26,428.15 L411.56,428.16 L411.86,428.18 L412.16,428.19 L412.46,428.21 L412.76,428.22 L413.06,428.24 L413.36,428.26 L413.66,428.27 L413.96,428.28 L414.26,428.30 L414.56,428.31 L414.85,428.33 L415.15,428.35 L415.45,428.36 L415.75,428.38 L416.05,428.39 L416.35,428.41 L416.65,428.42 L416.95,428.44 L417.25,428.45 L417.55,428.47 L417.55,436.33 L417.25,436.35 L416.95,436.36 L416.65,436.38 L416.35,436.39 L416.05,436.41 L415.75,436.42 L415.45,436.44 L415.15,436.45 L414.85,436.47 L414.56,436.49 L414.26,436.50 L413.96,436.52 L413.66,436.53 L413.36,436.55 L413.06,436.56 L412.76,436.57 L412.46,436.59 L412.16,436.61 L411.86,436.62 L411.56,436.64 L411.26,436.65 L410.96,436.67 L410.66,436.68 L410.36,436.69 L410.06,436.71 L409.76,436.72 L409.46,436.74 L409.16,436.76 L408.87,436.77 L408.57,436.78 L408.27,436.80 L407.97,436.81 L407.67,436.83 L407.37,436.84 L407.07,436.86 L406.77,436.87 L406.47,436.89 L406.17,436.90 L405.87,436.91 L405.57,436.93 L405.27,436.94 L404.97,436.96 L404.67,436.97 L404.37,436.99 L404.07,437.00 L403.77,437.02 L403.48,437.03 L403.18,437.04 L402.88,437.06 L402.58,437.07 L402.28,437.08 L401.98,437.10 L401.68,437.12 L401.38,437.13 L401.08,437.14 L400.78,437.16 L400.48,437.17 L400.18,437.18 L399.88,437.19 L399.58,437.21 L399.28,437.23 L398.98,437.24 L398.68,437.25 L398.38,437.27 L398.08,437.28 L397.79,437.29 L397.49,437.30 L397.19,437.32 L396.89,437.33 L396.59,437.35 L396.29,437.36 L395.99,437.38 L395.69,437.39 L395.39,437.40 L395.09,437.41 L394.79,437.42 L394.49,437.44 L394.19,437.46 L393.89,437.47 L393.59,437.48 L393.29,437.50 L392.99,437.51 L392.69,437.52 L392.39,437.53 L392.10,437.54 L391.80,437.56 L391.50,437.57 L391.20,437.59 L390.90,437.60 L390.60,437.61 L390.30,437.62 L390.00,437.63 L389.70,437.64 L389.40,437.66 L389.10,437.67 L388.80,437.69 L388.50,437.70 L388.20,437.71 L387.90,437.72 L387.60,437.73 L387.30,437.74 L387.00,437.75 L386.70,437.77 L386.41,437.78 L386.11,437.80 L385.81,437.81 L385.51,437.82 L385.21,437.82 L384.91,437.83 L384.61,437.85 L384.31,437.86 L384.01,437.87 L383.71,437.89 L383.41,437.90 L383.11,437.91 L382.81,437.92 L382.51,437.92 L382.21,437.93 L381.91,437.95 L381.61,437.96 L381.31,437.98 L381.01,437.99 L380.72,438.00 L380.42,438.01 L380.12,438.01 L379.82,438.02 L379.52,438.03 L379.22,438.05 L378.92,438.06 L378.62,438.08 L378.32,438.09 L378.02,438.10 L377.72,438.10 L377.42,438.11 L377.12,438.12 L376.82,438.13 L376.52,438.15 L376.22,438.16 L375.92,438.18 L375.62,438.19 L375.32,438.20 L375.03,438.20 L374.73,438.21 L374.43,438.22 L374.13,438.24 L373.83,438.25 L373.53,438.27 L373.23,438.28 L372.93,438.29 L372.63,438.30 L372.33,438.31 L372.03,438.32 L371.73,438.33 L371.43,438.35 L371.13,438.36 L370.83,438.38 L370.53,438.39 L370.23,438.40 L369.93,438.40 L369.64,438.41 L369.34,438.43 L369.04,438.44 L368.74,438.46 L368.44,438.48 L368.14,438.49 L367.84,438.50 L367.54,438.51 L367.24,438.52 L366.94,438.53 L366.64,438.54 L366.34,438.56 L366.04,438.58 L365.74,438.60 L365.44,438.61 L365.14,438.62 L364.84,438.63 L364.54,438.64 L364.24,438.65 L363.95,438.67 L363.65,438.69 L363.35,438.71 L363.05,438.73 L362.75,438.74 L362.45,438.75 L362.15,438.76 L361.85,438.77 L361.55,438.79 L361.25,438.81 L360.95,438.83 L360.65,438.85 L360.35,438.87 L360.05,438.88 L359.75,438.89 L359.45,438.90 L359.15,438.92 L358.85,438.94 L358.55,438.96 L358.26,438.99 L357.96,439.01 L357.66,439.02 L357.36,439.03 L357.06,439.04 L356.76,439.05 L356.46,439.07 L356.16,439.10 L355.86,439.12 L355.56,439.15 L355.26,439.16 L354.96,439.17 L354.66,439.18 L354.36,439.19 L354.06,439.21 L353.76,439.24 L353.46,439.26 L353.16,439.29 L352.86,439.31 L352.57,439.32 L352.27,439.33 L351.97,439.34 L351.67,439.35 L351.37,439.37 L351.07,439.40 L350.77,439.43 L350.47,439.45 L350.17,439.47 L349.87,439.48 L349.57,439.49 L349.27,439.50 L348.97,439.51 L348.67,439.54 L348.37,439.56 L348.07,439.59 L347.77,439.61 L347.47,439.62 L347.18,439.63 L346.88,439.64 L346.58,439.65 L346.28,439.67 L345.98,439.70 L345.68,439.72 L345.38,439.75 L345.08,439.76 L344.78,439.77 L344.48,439.78 L344.18,439.78 L343.88,439.80 L343.58,439.82 L343.28,439.85 L342.98,439.88 L342.68,439.90 L342.38,439.91 L342.08,439.91 L341.78,439.91 L341.49,439.92 L341.19,439.94 L340.89,439.96 L340.59,439.99 L340.29,440.02 L339.99,440.03 L339.69,440.03 L339.39,440.03 L339.09,440.03 L338.79,440.05 L338.49,440.07 L338.19,440.10 L337.89,440.12 L337.59,440.14 L337.29,440.15 L336.99,440.14 L336.69,440.14 L336.39,440.15 L336.09,440.16 L335.80,440.19 L335.50,440.22 L335.20,440.24 L334.90,440.25 L334.60,440.25 L334.30,440.25 L334.00,440.24 L333.70,440.25 L333.40,440.27 L333.10,440.30 L332.80,440.33 L332.50,440.35 L332.20,440.35 L331.90,440.35 L331.60,440.34 L331.30,440.34 L331.00,440.36 L330.70,440.38 L330.40,440.41 L330.11,440.44 L329.81,440.45 L329.51,440.45 L329.21,440.44 L328.91,440.43 L328.61,440.44 L328.31,440.46 L328.01,440.49 L327.71,440.52 L327.41,440.54 L327.11,440.54 L326.81,440.53 L326.51,440.52 L326.21,440.52 L325.91,440.53 L325.61,440.56 L325.31,440.60 L325.01,440.62 L324.71,440.63 L324.42,440.63 L324.12,440.62 L323.82,440.61 L323.52,440.61 L323.22,440.64 L322.92,440.67 L322.62,440.71 L322.32,440.73 L322.02,440.73 L321.72,440.71 L321.42,440.70 L321.12,440.70 L320.82,440.71 L320.52,440.75 L320.22,440.78 L319.92,440.81 L319.62,440.83 L319.32,440.82 L319.02,440.80 L318.73,440.79 L318.43,440.80 L318.13,440.82 L317.83,440.86 L317.53,440.90 L317.23,440.92 L316.93,440.93 L316.63,440.91 L316.33,440.89 L316.03,440.89 L315.73,440.91 L315.43,440.94 L315.13,440.99 L314.83,441.02 L314.53,441.04 L314.23,441.03 L313.93,441.01 L313.63,440.99 L313.34,441.00 L313.04,441.03 L312.74,441.08 L312.44,441.12 L312.14,441.15 L311.84,441.15 L311.54,441.13 L311.24,441.11 L310.94,441.10 L310.64,441.12 L310.34,441.16 L310.04,441.22 L309.74,441.26 L309.44,441.27 L309.14,441.26 L308.84,441.24 L308.54,441.22 L308.24,441.22 L307.94,441.25 L307.65,441.31 L307.35,441.36 L307.05,441.39 L306.75,441.39 L306.45,441.37 L306.15,441.34 L305.85,441.33 L305.55,441.35 L305.25,441.40 L304.95,441.46 L304.65,441.50 L304.35,441.52 L304.05,441.51 L303.75,441.48 L303.45,441.45 L303.15,441.45 L302.85,441.49 L302.55,441.55 L302.25,441.61 L301.96,441.65 L301.66,441.65 L301.36,441.62 L301.06,441.59 L300.76,441.57 L300.46,441.59 L300.16,441.64 L299.86,441.71 L299.56,441.77 L299.26,441.79 L298.96,441.77 L298.66,441.73 L298.36,441.70 L298.06,441.70 L297.76,441.74 L297.46,441.81 L297.16,441.88 L296.86,441.93 L296.56,441.93 L296.27,441.89 L295.97,441.85 L295.67,441.83 L295.37,441.85 L295.07,441.91 L294.77,441.99 L294.47,442.06 L294.17,442.08 L293.87,442.06 L293.57,442.02 L293.27,441.98 L292.97,441.97 L292.67,442.02 L292.37,442.10 L292.07,442.18 L291.77,442.24 L291.47,442.24 L291.17,442.20 L290.88,442.15 L290.58,442.12 L290.28,442.14 L289.98,442.21 L289.68,442.30 L289.38,442.38 L289.08,442.41 L288.78,442.39 L288.48,442.34 L288.18,442.29 L287.88,442.28 L287.58,442.33 L287.28,442.42 L286.98,442.52 L286.68,442.59 L286.38,442.59 L286.08,442.54 L285.78,442.48 L285.48,442.44 L285.19,442.47 L284.89,442.55 L284.59,442.66 L284.29,442.76 L283.99,442.80 L283.69,442.77 L283.39,442.70 L283.09,442.64 L282.79,442.63 L282.49,442.69 L282.19,442.80 L281.89,442.92 L281.59,443.00 L281.29,443.01 L280.99,442.95 L280.69,442.88 L280.39,442.83 L280.09,442.86 L279.79,442.95 L279.50,443.09 L279.20,443.20 L278.90,443.25 L278.60,443.22 L278.30,443.14 L278.00,443.06 L277.70,443.05 L277.40,443.11 L277.10,443.25 L276.80,443.39 L276.50,443.48 L276.20,443.49 L275.90,443.43 L275.60,443.33 L275.30,443.27 L275.00,443.30 L274.70,443.41 L274.40,443.57 L274.10,443.70 L273.81,443.76 L273.51,443.73 L273.21,443.63 L272.91,443.53 L272.61,443.51 L272.31,443.58 L272.01,443.74 L271.71,443.91 L271.41,444.02 L271.11,444.03 L270.81,443.95 L270.51,443.83 L270.21,443.76 L269.91,443.78 L269.61,443.91 L269.31,444.10 L269.01,444.26 L268.71,444.33 L268.41,444.29 L268.12,444.16 L267.82,444.04 L267.52,444.01 L267.22,444.09 L266.92,444.27 L266.62,444.47 L266.32,444.61 L266.02,444.62 L265.72,444.52 L265.42,444.37 L265.12,444.27 L264.82,444.29 L264.52,444.44 L264.22,444.66 L263.92,444.85 L263.62,444.94 L263.32,444.88 L263.02,444.73 L262.73,444.58 L262.43,444.53 L262.13,444.62 L261.83,444.83 L261.53,445.06 L261.23,445.23 L260.93,445.24 L260.63,445.12 L260.33,444.93 L260.03,444.80 L259.73,444.82 L259.43,444.99 L259.13,445.24 L258.83,445.48 L258.53,445.58 L258.23,445.51 L257.93,445.33 L257.63,445.14 L257.33,445.06 L257.04,445.16 L256.74,445.41 L256.44,445.69 L256.14,445.89 L255.84,445.91 L255.54,445.76 L255.24,445.53 L254.94,445.37 L254.64,445.37 L254.34,445.56 L254.04,445.87 L253.74,446.15 L253.44,446.28 L253.14,446.20 L252.84,445.97 L252.54,445.74 L252.24,445.63 L251.94,445.74 L251.64,446.03 L251.35,446.37 L251.05,446.61 L250.75,446.64 L250.45,446.45 L250.15,446.17 L249.85,445.96 L249.55,445.96 L249.25,446.18 L248.95,446.55 L248.65,446.89 L248.35,447.04 L248.05,446.95 L247.75,446.67 L247.45,446.38 L247.15,446.24 L246.85,446.36 L246.55,446.70 L246.25,447.11 L245.95,447.40 L245.66,447.43 L245.36,447.21 L245.06,446.87 L244.76,446.60 L244.46,446.58 L244.16,446.84 L243.86,447.28 L243.56,447.69 L243.26,447.88 L242.96,447.77 L242.66,447.43 L242.36,447.06 L242.06,446.88 L241.76,447.01 L241.46,447.41 L241.16,447.91 L240.86,448.26 L240.56,448.31 L240.26,448.04 L239.97,447.62 L239.67,447.28 L239.37,447.24 L239.07,447.54 L238.77,448.06 L238.47,448.56 L238.17,448.80 L237.87,448.67 L237.57,448.25 L237.27,447.80 L236.97,447.56 L236.67,447.70 L236.37,448.17 L236.07,448.77 L235.77,449.21 L235.47,449.27 L235.17,448.95 L234.87,448.42 L234.57,448.00 L234.28,447.93 L233.98,448.28 L233.68,448.91 L233.38,449.52 L233.08,449.82 L232.78,449.67 L232.48,449.17 L232.18,448.60 L231.88,448.30 L231.58,448.45 L231.28,449.02 L230.98,449.75 L230.68,450.29 L230.38,450.39 L230.08,450.00 L229.78,449.36 L229.48,448.83 L229.18,448.72 L228.89,449.14 L228.59,449.91 L228.29,450.66 L227.99,451.04 L227.69,450.87 L227.39,450.26 L227.09,449.55 L226.79,449.15 L226.49,449.31 L226.19,450.00 L225.89,450.90 L225.59,451.57 L225.29,451.70 L224.99,451.23 L224.69,450.43 L224.39,449.76 L224.09,449.60 L223.79,450.08 L223.49,451.01 L223.20,451.94 L222.90,452.42 L222.60,452.21 L222.30,451.46 L222.00,450.57 L221.70,450.04 L221.40,450.21 L221.10,451.03 L220.80,452.12 L220.50,452.96Z" fill="#7E2F8E" fill-opacity="0.92"/>
<path d="M220.5,441.8 L220.6,450.1 L220.7,453.0 L220.7,449.6 L220.8,440.9 L220.9,429.6 L221.0,418.9 L221.1,412.2 L221.1,411.5 L221.2,416.9 L221.3,426.8 L221.4,438.2 L221.5,447.8 L221.5,452.5 L221.6,451.1 L221.7,444.0 L221.8,433.2 L221.9,422.1 L222.0,414.0 L222.0,411.2 L222.1,414.7 L222.2,423.4 L222.3,434.6 L222.4,445.0 L222.4,451.4 L222.5,452.0 L222.6,446.6 L222.7,436.8 L222.8,425.5 L222.8,416.2 L222.9,411.6 L223.0,413.1 L223.1,420.3 L223.2,430.9 L223.2,441.8 L223.3,449.7 L223.4,452.3 L223.5,448.7 L223.6,440.1 L223.6,429.1 L223.7,418.9 L223.8,412.6 L223.9,412.2 L224.0,417.6 L224.1,427.3 L224.1,438.4 L224.2,447.5 L224.3,451.9 L224.4,450.2 L224.5,443.1 L224.5,432.6 L224.6,421.9 L224.7,414.2 L224.8,411.9 L224.9,415.5 L224.9,424.0 L225.0,434.9 L225.1,444.8 L225.2,450.8 L225.3,451.2 L225.3,445.7 L225.4,436.1 L225.5,425.2 L225.6,416.3 L225.7,412.2 L225.7,413.9 L225.8,421.0 L225.9,431.3 L226.0,441.8 L226.1,449.3 L226.2,451.5 L226.2,447.8 L226.3,439.3 L226.4,428.6 L226.5,418.9 L226.6,413.1 L226.6,412.9 L226.7,418.4 L226.8,427.9 L226.9,438.6 L227.0,447.2 L227.0,451.2 L227.1,449.3 L227.2,442.2 L227.3,432.0 L227.4,421.8 L227.4,414.5 L227.5,412.5 L227.6,416.2 L227.7,424.6 L227.8,435.2 L227.8,444.7 L227.9,450.3 L228.0,450.3 L228.1,444.8 L228.2,435.4 L228.3,424.9 L228.3,416.5 L228.4,412.7 L228.5,414.6 L228.6,421.7 L228.7,431.8 L228.7,441.8 L228.8,448.8 L228.9,450.7 L229.0,446.9 L229.1,438.6 L229.1,428.2 L229.2,418.9 L229.3,413.5 L229.4,413.6 L229.5,419.1 L229.5,428.4 L229.6,438.7 L229.7,446.9 L229.8,450.5 L229.9,448.5 L229.9,441.5 L230.0,431.5 L230.1,421.6 L230.2,414.8 L230.3,413.1 L230.4,417.0 L230.4,425.2 L230.5,435.5 L230.6,444.5 L230.7,449.7 L230.8,449.5 L230.8,444.0 L230.9,434.8 L231.0,424.6 L231.1,416.7 L231.2,413.2 L231.2,415.3 L231.3,422.3 L231.4,432.2 L231.5,441.8 L231.6,448.4 L231.6,450.0 L231.7,446.1 L231.8,437.9 L231.9,427.8 L232.0,418.9 L232.0,413.9 L232.1,414.2 L232.2,419.8 L232.3,428.9 L232.4,438.9 L232.5,446.6 L232.5,449.9 L232.6,447.7 L232.7,440.7 L232.8,431.0 L232.9,421.6 L232.9,415.1 L233.0,413.7 L233.1,417.7 L233.2,425.8 L233.3,435.7 L233.3,444.4 L233.4,449.2 L233.5,448.8 L233.6,443.2 L233.7,434.2 L233.7,424.4 L233.8,416.9 L233.9,413.7 L234.0,416.0 L234.1,423.0 L234.1,432.6 L234.2,441.8 L234.3,448.1 L234.4,449.4 L234.5,445.3 L234.6,437.2 L234.6,427.5 L234.7,419.0 L234.8,414.3 L234.9,414.9 L235.0,420.5 L235.0,429.4 L235.1,439.0 L235.2,446.4 L235.3,449.3 L235.4,447.0 L235.4,440.0 L235.5,430.6 L235.6,421.5 L235.7,415.5 L235.8,414.3 L235.8,418.4 L235.9,426.4 L236.0,436.0 L236.1,444.3 L236.2,448.8 L236.2,448.1 L236.3,442.5 L236.4,433.7 L236.5,424.3 L236.6,417.1 L236.7,414.3 L236.7,416.7 L236.8,423.6 L236.9,432.9 L237.0,441.9 L237.1,447.7 L237.1,448.8 L237.2,444.6 L237.3,436.7 L237.4,427.2 L237.5,419.1 L237.5,414.8 L237.6,415.5 L237.7,421.1 L237.8,429.9 L237.9,439.2 L237.9,446.2 L238.0,448.8 L238.1,446.3 L238.2,439.4 L238.3,430.2 L238.3,421.5 L238.4,415.8 L238.5,414.9 L238.6,419.0 L238.7,427.0 L238.8,436.3 L238.8,444.2 L238.9,448.4 L239.0,447.5 L239.1,441.9 L239.2,433.2 L239.2,424.1 L239.3,417.3 L239.4,414.8 L239.5,417.4 L239.6,424.2 L239.6,433.3 L239.7,441.9 L239.8,447.4 L239.9,448.2 L240.0,444.0 L240.0,436.1 L240.1,426.9 L240.2,419.2 L240.3,415.2 L240.4,416.2 L240.4,421.8 L240.5,430.4 L240.6,439.3 L240.7,446.0 L240.8,448.3 L240.9,445.7 L240.9,438.8 L241.0,429.9 L241.1,421.5 L241.2,416.1 L241.3,415.5 L241.3,419.7 L241.4,427.5 L241.5,436.5 L241.6,444.1 L241.7,447.9 L241.7,446.9 L241.8,441.3 L241.9,432.8 L242.0,424.0 L242.1,417.5 L242.1,415.3 L242.2,418.0 L242.3,424.8 L242.4,433.7 L242.5,441.9 L242.5,447.1 L242.6,447.6 L242.7,443.4 L242.8,435.6 L242.9,426.7 L242.9,419.3 L243.0,415.6 L243.1,416.8 L243.2,422.4 L243.3,430.8 L243.4,439.5 L243.4,445.8 L243.5,447.8 L243.6,445.0 L243.7,438.3 L243.8,429.5 L243.8,421.5 L243.9,416.5 L244.0,416.1 L244.1,420.3 L244.2,428.0 L244.2,436.8 L244.3,444.0 L244.4,447.5 L244.5,446.3 L244.6,440.7 L244.6,432.4 L244.7,423.9 L244.8,417.8 L244.9,415.8 L245.0,418.7 L245.0,425.4 L245.1,434.0 L245.2,441.9 L245.3,446.8 L245.4,447.1 L245.5,442.8 L245.5,435.1 L245.6,426.5 L245.7,419.5 L245.8,416.1 L245.9,417.4 L245.9,423.0 L246.0,431.2 L246.1,439.6 L246.2,445.5 L246.3,447.3 L246.3,444.5 L246.4,437.8 L246.5,429.3 L246.6,421.5 L246.7,416.8 L246.7,416.7 L246.8,421.0 L246.9,428.5 L247.0,437.0 L247.1,443.9 L247.1,447.1 L247.2,445.7 L247.3,440.1 L247.4,432.0 L247.5,423.8 L247.6,418.0 L247.6,416.4 L247.7,419.3 L247.8,426.0 L247.9,434.4 L248.0,441.9 L248.0,446.5 L248.1,446.5 L248.2,442.2 L248.3,434.7 L248.4,426.3 L248.4,419.6 L248.5,416.6 L248.6,418.0 L248.7,423.6 L248.8,431.7 L248.8,439.7 L248.9,445.3 L249.0,446.9 L249.1,443.9 L249.2,437.3 L249.2,429.0 L249.3,421.6 L249.4,417.2 L249.5,417.2 L249.6,421.6 L249.7,429.0 L249.7,437.2 L249.8,443.8 L249.9,446.7 L250.0,445.2 L250.1,439.6 L250.1,431.7 L250.2,423.8 L250.3,418.3 L250.4,416.9 L250.5,419.9 L250.5,426.5 L250.6,434.7 L250.7,441.9 L250.8,446.1 L250.9,446.0 L250.9,441.6 L251.0,434.3 L251.1,426.2 L251.2,419.8 L251.3,417.0 L251.3,418.6 L251.4,424.2 L251.5,432.1 L251.6,439.8 L251.7,445.1 L251.8,446.4 L251.8,443.3 L251.9,436.8 L252.0,428.7 L252.1,421.6 L252.2,417.6 L252.2,417.8 L252.3,422.2 L252.4,429.5 L252.5,437.4 L252.6,443.7 L252.6,446.4 L252.7,444.7 L252.8,439.1 L252.9,431.3 L253.0,423.7 L253.0,418.6 L253.1,417.4 L253.2,420.5 L253.3,427.0 L253.4,435.0 L253.4,441.9 L253.5,445.9 L253.6,445.5 L253.7,441.1 L253.8,433.9 L253.9,426.1 L253.9,420.0 L254.0,417.4 L254.1,419.2 L254.2,424.8 L254.3,432.4 L254.3,439.9 L254.4,444.9 L254.5,446.0 L254.6,442.8 L254.7,436.3 L254.7,428.5 L254.8,421.7 L254.9,417.9 L255.0,418.3 L255.1,422.8 L255.1,429.9 L255.2,437.6 L255.3,443.6 L255.4,446.0 L255.5,444.1 L255.5,438.6 L255.6,431.0 L255.7,423.7 L255.8,418.8 L255.9,417.9 L256.0,421.1 L256.0,427.5 L256.1,435.2 L256.2,441.9 L256.3,445.6 L256.4,445.1 L256.4,440.6 L256.5,433.5 L256.6,425.9 L256.7,420.1 L256.8,417.9 L256.8,419.8 L256.9,425.3 L257.0,432.8 L257.1,440.0 L257.2,444.7 L257.2,445.6 L257.3,442.3 L257.4,435.9 L257.5,428.3 L257.6,421.8 L257.6,418.3 L257.7,418.9 L257.8,423.3 L257.9,430.3 L258.0,437.8 L258.1,443.5 L258.1,445.6 L258.2,443.7 L258.3,438.1 L258.4,430.8 L258.5,423.7 L258.5,419.1 L258.6,418.4 L258.7,421.6 L258.8,428.0 L258.9,435.5 L258.9,441.9 L259.0,445.3 L259.1,444.6 L259.2,440.1 L259.3,433.2 L259.3,425.8 L259.4,420.3 L259.5,418.3 L259.6,420.3 L259.7,425.8 L259.7,433.1 L259.8,440.0 L259.9,444.5 L260.0,445.2 L260.1,441.8 L260.2,435.5 L260.2,428.1 L260.3,421.9 L260.4,418.6 L260.5,419.4 L260.6,423.9 L260.6,430.7 L260.7,438.0 L260.8,443.3 L260.9,445.3 L261.0,443.2 L261.0,437.7 L261.1,430.5 L261.2,423.7 L261.3,419.4 L261.4,418.8 L261.4,422.2 L261.5,428.4 L261.6,435.7 L261.7,441.9 L261.8,445.0 L261.8,444.2 L261.9,439.7 L262.0,432.8 L262.1,425.7 L262.2,420.5 L262.3,418.7 L262.3,420.8 L262.4,426.3 L262.5,433.4 L262.6,440.1 L262.7,444.3 L262.7,444.8 L262.8,441.4 L262.9,435.1 L263.0,427.9 L263.1,422.0 L263.1,419.0 L263.2,419.8 L263.3,424.4 L263.4,431.1 L263.5,438.1 L263.5,443.2 L263.6,444.9 L263.7,442.7 L263.8,437.3 L263.9,430.2 L263.9,423.7 L264.0,419.6 L264.1,419.3 L264.2,422.7 L264.3,428.9 L264.3,436.0 L264.4,441.8 L264.5,444.7 L264.6,443.7 L264.7,439.2 L264.8,432.5 L264.8,425.7 L264.9,420.7 L265.0,419.1 L265.1,421.3 L265.2,426.8 L265.2,433.7 L265.3,440.1 L265.4,444.1 L265.5,444.4 L265.6,440.9 L265.6,434.8 L265.7,427.8 L265.8,422.0 L265.9,419.3 L266.0,420.3 L266.0,424.8 L266.1,431.5 L266.2,438.2 L266.3,443.1 L266.4,444.6 L266.4,442.3 L266.5,436.9 L266.6,430.0 L266.7,423.7 L266.8,419.9 L266.9,419.7 L266.9,423.2 L267.0,429.3 L267.1,436.2 L267.2,441.8 L267.3,444.4 L267.3,443.3 L267.4,438.8 L267.5,432.2 L267.6,425.6 L267.7,420.9 L267.7,419.5 L267.8,421.8 L267.9,427.2 L268.0,434.0 L268.1,440.2 L268.1,443.9 L268.2,444.0 L268.3,440.5 L268.4,434.4 L268.5,427.6 L268.5,422.1 L268.6,419.6 L268.7,420.8 L268.8,425.3 L268.9,431.8 L269.0,438.3 L269.0,442.9 L269.1,444.2 L269.2,441.8 L269.3,436.5 L269.4,429.8 L269.4,423.7 L269.5,420.2 L269.6,420.1 L269.7,423.7 L269.8,429.7 L269.8,436.4 L269.9,441.7 L270.0,444.1 L270.1,442.9 L270.2,438.4 L270.2,431.9 L270.3,425.5 L270.4,421.0 L270.5,419.9 L270.6,422.3 L270.6,427.6 L270.7,434.3 L270.8,440.2 L270.9,443.6 L271.0,443.6 L271.1,440.0 L271.1,434.1 L271.2,427.5 L271.3,422.3 L271.4,419.9 L271.5,421.3 L271.5,425.8 L271.6,432.1 L271.7,438.4 L271.8,442.8 L271.9,443.9 L271.9,441.4 L272.0,436.1 L272.1,429.6 L272.2,423.8 L272.3,420.4 L272.3,420.6 L272.4,424.1 L272.5,430.0 L272.6,436.5 L272.7,441.6 L272.7,443.9 L272.8,442.5 L272.9,438.0 L273.0,431.7 L273.1,425.5 L273.2,421.2 L273.2,420.2 L273.3,422.8 L273.4,428.0 L273.5,434.5 L273.6,440.2 L273.6,443.4 L273.7,443.2 L273.8,439.6 L273.9,433.8 L274.0,427.4 L274.0,422.4 L274.1,420.3 L274.2,421.7 L274.3,426.2 L274.4,432.4 L274.4,438.5 L274.5,442.7 L274.6,443.6 L274.7,441.0 L274.8,435.8 L274.8,429.4 L274.9,423.8 L275.0,420.7 L275.1,421.0 L275.2,424.6 L275.3,430.4 L275.3,436.7 L275.4,441.6 L275.5,443.6 L275.6,442.1 L275.7,437.6 L275.7,431.4 L275.8,425.4 L275.9,421.4 L276.0,420.6 L276.1,423.2 L276.1,428.4 L276.2,434.7 L276.3,440.2 L276.4,443.2 L276.5,442.9 L276.5,439.2 L276.6,433.5 L276.7,427.3 L276.8,422.5 L276.9,420.6 L276.9,422.1 L277.0,426.6 L277.1,432.7 L277.2,438.6 L277.3,442.5 L277.4,443.3 L277.4,440.6 L277.5,435.4 L277.6,429.2 L277.7,423.8 L277.8,420.9 L277.8,421.4 L277.9,425.0 L278.0,430.7 L278.1,436.9 L278.2,441.5 L278.2,443.3 L278.3,441.7 L278.4,437.2 L278.5,431.2 L278.6,425.4 L278.6,421.6 L278.7,421.0 L278.8,423.6 L278.9,428.8 L279.0,435.0 L279.0,440.2 L279.1,443.0 L279.2,442.5 L279.3,438.9 L279.4,433.2 L279.5,427.2 L279.5,422.6 L279.6,420.9 L279.7,422.5 L279.8,427.0 L279.9,433.0 L279.9,438.7 L280.0,442.4 L280.1,443.0 L280.2,440.3 L280.3,435.1 L280.3,429.0 L280.4,423.9 L280.5,421.2 L280.6,421.7 L280.7,425.4 L280.7,431.1 L280.8,437.0 L280.9,441.4 L281.0,443.1 L281.1,441.4 L281.1,436.9 L281.2,431.0 L281.3,425.4 L281.4,421.8 L281.5,421.3 L281.6,424.0 L281.6,429.2 L281.7,435.2 L281.8,440.2 L281.9,442.8 L282.0,442.2 L282.0,438.5 L282.1,432.9 L282.2,427.1 L282.3,422.7 L282.4,421.2 L282.4,422.9 L282.5,427.4 L282.6,433.3 L282.7,438.8 L282.8,442.2 L282.8,442.7 L282.9,439.9 L283.0,434.8 L283.1,428.9 L283.2,423.9 L283.2,421.4 L283.3,422.1 L283.4,425.8 L283.5,431.4 L283.6,437.1 L283.7,441.4 L283.7,442.8 L283.8,441.0 L283.9,436.6 L284.0,430.7 L284.1,425.3 L284.1,422.0 L284.2,421.6 L284.3,424.4 L284.4,429.5 L284.5,435.4 L284.5,440.2 L284.6,442.6 L284.7,441.9 L284.8,438.2 L284.9,432.6 L284.9,427.0 L285.0,422.8 L285.1,421.5 L285.2,423.3 L285.3,427.8 L285.3,433.5 L285.4,438.8 L285.5,442.1 L285.6,442.4 L285.7,439.6 L285.8,434.5 L285.8,428.7 L285.9,423.9 L286.0,421.6 L286.1,422.4 L286.2,426.2 L286.2,431.7 L286.3,437.3 L286.4,441.3 L286.5,442.6 L286.6,440.7 L286.6,436.2 L286.7,430.5 L286.8,425.3 L286.9,422.1 L287.0,421.9 L287.0,424.8 L287.1,429.8 L287.2,435.6 L287.3,440.2 L287.4,442.5 L287.4,441.6 L287.5,437.8 L287.6,432.4 L287.7,426.9 L287.8,422.9 L287.8,421.7 L287.9,423.6 L288.0,428.1 L288.1,433.8 L288.2,438.9 L288.3,442.0 L288.3,442.1 L288.4,439.2 L288.5,434.2 L288.6,428.5 L288.7,424.0 L288.7,421.8 L288.8,422.8 L288.9,426.5 L289.0,431.9 L289.1,437.4 L289.1,441.3 L289.2,442.4 L289.3,440.4 L289.4,435.9 L289.5,430.3 L289.5,425.3 L289.6,422.2 L289.7,422.2 L289.8,425.1 L289.9,430.1 L289.9,435.7 L290.0,440.2 L290.1,442.3 L290.2,441.3 L290.3,437.5 L290.4,432.1 L290.4,426.8 L290.5,423.0 L290.6,421.9 L290.7,424.0 L290.8,428.4 L290.8,434.0 L290.9,439.0 L291.0,441.9 L291.1,441.9 L291.2,438.9 L291.2,433.9 L291.3,428.4 L291.4,424.0 L291.5,422.0 L291.6,423.1 L291.6,426.8 L291.7,432.2 L291.8,437.5 L291.9,441.2 L292.0,442.2 L292.0,440.1 L292.1,435.6 L292.2,430.1 L292.3,425.2 L292.4,422.4 L292.5,422.5 L292.5,425.4 L292.6,430.4 L292.7,435.9 L292.8,440.2 L292.9,442.1 L292.9,441.0 L293.0,437.2 L293.1,431.9 L293.2,426.7 L293.3,423.0 L293.3,422.2 L293.4,424.3 L293.5,428.7 L293.6,434.2 L293.7,439.0 L293.7,441.8 L293.8,441.6 L293.9,438.6 L294.0,433.7 L294.1,428.2 L294.1,424.0 L294.2,422.2 L294.3,423.3 L294.4,427.2 L294.5,432.4 L294.6,437.6 L294.6,441.2 L294.7,442.0 L294.8,439.8 L294.9,435.4 L295.0,429.9 L295.0,425.2 L295.1,422.5 L295.2,422.7 L295.3,425.8 L295.4,430.7 L295.4,436.1 L295.5,440.3 L295.6,442.0 L295.7,440.8 L295.8,436.9 L295.8,431.7 L295.9,426.6 L296.0,423.1 L296.1,422.4 L296.2,424.6 L296.2,429.0 L296.3,434.4 L296.4,439.1 L296.5,441.7 L296.6,441.4 L296.7,438.3 L296.7,433.4 L296.8,428.1 L296.9,424.0 L297.0,422.3 L297.1,423.6 L297.1,427.5 L297.2,432.7 L297.3,437.7 L297.4,441.1 L297.5,441.8 L297.5,439.5 L297.6,435.1 L297.7,429.8 L297.8,425.1 L297.9,422.6 L297.9,423.0 L298.0,426.1 L298.1,431.0 L298.2,436.2 L298.3,440.3 L298.3,441.8 L298.4,440.5 L298.5,436.7 L298.6,431.5 L298.7,426.5 L298.8,423.2 L298.8,422.6 L298.9,424.9 L299.0,429.3 L299.1,434.6 L299.2,439.2 L299.2,441.6 L299.3,441.2 L299.4,438.1 L299.5,433.2 L299.6,428.0 L299.6,424.0 L299.7,422.5 L299.8,423.9 L299.9,427.8 L300.0,432.9 L300.0,437.9 L300.1,441.1 L300.2,441.6 L300.3,439.3 L300.4,434.8 L300.4,429.6 L300.5,425.1 L300.6,422.7 L300.7,423.2 L300.8,426.3 L300.9,431.2 L300.9,436.4 L301.0,440.3 L301.1,441.7 L301.2,440.3 L301.3,436.4 L301.3,431.2 L301.4,426.4 L301.5,423.2 L301.6,422.8 L301.7,425.1 L301.7,429.6 L301.8,434.8 L301.9,439.2 L302.0,441.5 L302.1,441.0 L302.1,437.8 L302.2,432.9 L302.3,427.8 L302.4,424.0 L302.5,422.7 L302.5,424.2 L302.6,428.0 L302.7,433.1 L302.8,438.0 L302.9,441.0 L303.0,441.4 L303.0,439.0 L303.1,434.6 L303.2,429.4 L303.3,425.1 L303.4,422.8 L303.4,423.4 L303.5,426.6 L303.6,431.5 L303.7,436.5 L303.8,440.3 L303.8,441.5 L303.9,440.0 L304.0,436.1 L304.1,431.0 L304.2,426.3 L304.2,423.3 L304.3,423.0 L304.4,425.4 L304.5,429.9 L304.6,435.0 L304.6,439.3 L304.7,441.4 L304.8,440.8 L304.9,437.5 L305.0,432.7 L305.1,427.7 L305.1,424.0 L305.2,422.8 L305.3,424.4 L305.4,428.3 L305.5,433.4 L305.5,438.1 L305.6,441.0 L305.7,441.2 L305.8,438.8 L305.9,434.3 L305.9,429.2 L306.0,425.0 L306.1,423.0 L306.2,423.7 L306.3,426.9 L306.3,431.7 L306.4,436.7 L306.5,440.3 L306.6,441.4 L306.7,439.8 L306.7,435.9 L306.8,430.8 L306.9,426.2 L307.0,423.4 L307.1,423.2 L307.2,425.7 L307.2,430.1 L307.3,435.2 L307.4,439.3 L307.5,441.3 L307.6,440.5 L307.6,437.3 L307.7,432.5 L307.8,427.6 L307.9,424.1 L308.0,423.0 L308.0,424.7 L308.1,428.6 L308.2,433.6 L308.3,438.1 L308.4,440.9 L308.4,441.0 L308.5,438.5 L308.6,434.1 L308.7,429.1 L308.8,425.0 L308.8,423.1 L308.9,423.9 L309.0,427.2 L309.1,432.0 L309.2,436.8 L309.2,440.2 L309.3,441.3 L309.4,439.5 L309.5,435.6 L309.6,430.7 L309.7,426.2 L309.7,423.5 L309.8,423.4 L309.9,426.0 L310.0,430.4 L310.1,435.3 L310.1,439.3 L310.2,441.2 L310.3,440.3 L310.4,437.0 L310.5,432.3 L310.5,427.5 L310.6,424.1 L310.7,423.2 L310.8,424.9 L310.9,428.9 L310.9,433.8 L311.0,438.2 L311.1,440.8 L311.2,440.9 L311.3,438.3 L311.3,433.8 L311.4,428.9 L311.5,425.0 L311.6,423.2 L311.7,424.1 L311.8,427.5 L311.8,432.2 L311.9,436.9 L312.0,440.2 L312.1,441.1 L312.2,439.3 L312.2,435.4 L312.3,430.5 L312.4,426.1 L312.5,423.6 L312.6,423.6 L312.6,426.2 L312.7,430.6 L312.8,435.5 L312.9,439.4 L313.0,441.1 L313.0,440.1 L313.1,436.8 L313.2,432.1 L313.3,427.4 L313.4,424.2 L313.4,423.4 L313.5,425.2 L313.6,429.1 L313.7,434.0 L313.8,438.3 L313.9,440.8 L313.9,440.7 L314.0,438.0 L314.1,433.6 L314.2,428.8 L314.3,425.0 L314.3,423.4 L314.4,424.4 L314.5,427.7 L314.6,432.4 L314.7,437.1 L314.7,440.2 L314.8,441.0 L314.9,439.1 L315.0,435.1 L315.1,430.3 L315.1,426.1 L315.2,423.7 L315.3,423.8 L315.4,426.5 L315.5,430.9 L315.5,435.7 L315.6,439.4 L315.7,441.0 L315.8,439.9 L315.9,436.5 L316.0,431.9 L316.0,427.3 L316.1,424.2 L316.2,423.5 L316.3,425.5 L316.4,429.4 L316.4,434.2 L316.5,438.4 L316.6,440.7 L316.7,440.5 L316.8,437.8 L316.8,433.4 L316.9,428.7 L317.0,425.0 L317.1,423.5 L317.2,424.6 L317.2,428.0 L317.3,432.7 L317.4,437.2 L317.5,440.2 L317.6,440.8 L317.6,438.9 L317.7,434.9 L317.8,430.2 L317.9,426.0 L318.0,423.8 L318.1,424.0 L318.1,426.8 L318.2,431.2 L318.3,435.8 L318.4,439.4 L318.5,440.9 L318.5,439.7 L318.6,436.3 L318.7,431.7 L318.8,427.2 L318.9,424.3 L318.9,423.7 L319.0,425.7 L319.1,429.7 L319.2,434.4 L319.3,438.5 L319.3,440.7 L319.4,440.3 L319.5,437.6 L319.6,433.2 L319.7,428.6 L319.7,425.0 L319.8,423.7 L319.9,424.9 L320.0,428.3 L320.1,432.9 L320.2,437.3 L320.2,440.2 L320.3,440.7 L320.4,438.6 L320.5,434.7 L320.6,430.0 L320.6,426.0 L320.7,423.9 L320.8,424.3 L320.9,427.1 L321.0,431.4 L321.0,436.0 L321.1,439.5 L321.2,440.8 L321.3,439.5 L321.4,436.1 L321.4,431.5 L321.5,427.2 L321.6,424.3 L321.7,423.9 L321.8,426.0 L321.8,429.9 L321.9,434.6 L322.0,438.5 L322.1,440.6 L322.2,440.2 L322.3,437.3 L322.3,433.0 L322.4,428.5 L322.5,425.1 L322.6,423.8 L322.7,425.1 L322.7,428.6 L322.8,433.1 L322.9,437.4 L323.0,440.2 L323.1,440.5 L323.1,438.4 L323.2,434.5 L323.3,429.9 L323.4,426.0 L323.5,424.0 L323.5,424.5 L323.6,427.3 L323.7,431.6 L323.8,436.1 L323.9,439.5 L323.9,440.7 L324.0,439.3 L324.1,435.9 L324.2,431.3 L324.3,427.1 L324.4,424.4 L324.4,424.1 L324.5,426.2 L324.6,430.2 L324.7,434.8 L324.8,438.6 L324.8,440.5 L324.9,440.0 L325.0,437.1 L325.1,432.8 L325.2,428.4 L325.2,425.1 L325.3,424.0 L325.4,425.4 L325.5,428.8 L325.6,433.3 L325.6,437.5 L325.7,440.1 L325.8,440.4 L325.9,438.2 L326.0,434.3 L326.0,429.7 L326.1,426.0 L326.2,424.1 L326.3,424.7 L326.4,427.6 L326.5,431.9 L326.5,436.3 L326.6,439.5 L326.7,440.6 L326.8,439.1 L326.9,435.7 L326.9,431.2 L327.0,427.0 L327.1,424.5 L327.2,424.3 L327.3,426.5 L327.3,430.4 L327.4,435.0 L327.5,438.7 L327.6,440.5 L327.7,439.8 L327.7,436.9 L327.8,432.6 L327.9,428.3 L328.0,425.1 L328.1,424.1 L328.1,425.6 L328.2,429.1 L328.3,433.5 L328.4,437.6 L328.5,440.1 L328.6,440.3 L328.6,438.0 L328.7,434.1 L328.8,429.6 L328.9,426.0 L329.0,424.2 L329.0,424.9 L329.1,427.8 L329.2,432.1 L329.3,436.4 L329.4,439.5 L329.4,440.4 L329.5,438.9 L329.6,435.4 L329.7,431.0 L329.8,427.0 L329.8,424.6 L329.9,424.5 L330.0,426.8 L330.1,430.7 L330.2,435.1 L330.2,438.7 L330.3,440.4 L330.4,439.6 L330.5,436.7 L330.6,432.5 L330.6,428.2 L330.7,425.2 L330.8,424.3 L330.9,425.8 L331.0,429.3 L331.1,433.7 L331.1,437.7 L331.2,440.1 L331.3,440.1 L331.4,437.8 L331.5,433.9 L331.5,429.5 L331.6,426.0 L331.7,424.4 L331.8,425.2 L331.9,428.1 L331.9,432.3 L332.0,436.6 L332.1,439.5 L332.2,440.3 L332.3,438.7 L332.3,435.2 L332.4,430.9 L332.5,427.0 L332.6,424.7 L332.7,424.7 L332.7,427.0 L332.8,430.9 L332.9,435.3 L333.0,438.8 L333.1,440.3 L333.2,439.5 L333.2,436.5 L333.3,432.3 L333.4,428.1 L333.5,425.2 L333.6,424.5 L333.6,426.1 L333.7,429.6 L333.8,433.9 L333.9,437.8 L334.0,440.0 L334.0,439.9 L334.1,437.6 L334.2,433.7 L334.3,429.4 L334.4,426.0 L334.4,424.5 L334.5,425.4 L334.6,428.4 L334.7,432.5 L334.8,436.7 L334.8,439.5 L334.9,440.2 L335.0,438.5 L335.1,435.0 L335.2,430.7 L335.3,426.9 L335.3,424.8 L335.4,424.9 L335.5,427.3 L335.6,431.2 L335.7,435.4 L335.7,438.8 L335.8,440.2 L335.9,439.3 L336.0,436.3 L336.1,432.1 L336.1,428.0 L336.2,425.3 L336.3,424.6 L336.4,426.3 L336.5,429.8 L336.5,434.1 L336.6,437.9 L336.7,440.0 L336.8,439.8 L336.9,437.4 L336.9,433.5 L337.0,429.3 L337.1,426.0 L337.2,424.6 L337.3,425.6 L337.4,428.6 L337.4,432.8 L337.5,436.8 L337.6,439.5 L337.7,440.1 L337.8,438.3 L337.8,434.8 L337.9,430.6 L338.0,426.9 L338.1,424.9 L338.2,425.1 L338.2,427.5 L338.3,431.4 L338.4,435.6 L338.5,438.8 L338.6,440.1 L338.6,439.1 L338.7,436.1 L338.8,431.9 L338.9,428.0 L339.0,425.3 L339.0,424.8 L339.1,426.6 L339.2,430.1 L339.3,434.3 L339.4,437.9 L339.5,439.9 L339.5,439.6 L339.6,437.2 L339.7,433.3 L339.8,429.2 L339.9,426.0 L339.9,424.8 L340.0,425.8 L340.1,428.9 L340.2,432.9 L340.3,436.9 L340.3,439.4 L340.4,439.9 L340.5,438.1 L340.6,434.6 L340.7,430.5 L340.7,426.9 L340.8,425.0 L340.9,425.3 L341.0,427.8 L341.1,431.6 L341.1,435.7 L341.2,438.8 L341.3,440.0 L341.4,438.9 L341.5,435.8 L341.6,431.8 L341.6,427.9 L341.7,425.4 L341.8,425.0 L341.9,426.8 L342.0,430.3 L342.0,434.4 L342.1,437.9 L342.2,439.8 L342.3,439.4 L342.4,436.9 L342.4,433.1 L342.5,429.1 L342.6,426.0 L342.7,424.9 L342.8,426.1 L342.8,429.1 L342.9,433.1 L343.0,436.9 L343.1,439.4 L343.2,439.7 L343.2,437.9 L343.3,434.4 L343.4,430.3 L343.5,426.9 L343.6,425.1 L343.7,425.5 L343.7,428.0 L343.8,431.8 L343.9,435.8 L344.0,438.8 L344.1,439.8 L344.1,438.7 L344.2,435.6 L344.3,431.6 L344.4,427.9 L344.5,425.5 L344.5,425.2 L344.6,427.1 L344.7,430.5 L344.8,434.6 L344.9,438.0 L344.9,439.7 L345.0,439.2 L345.1,436.7 L345.2,432.9 L345.3,429.0 L345.3,426.1 L345.4,425.1 L345.5,426.3 L345.6,429.3 L345.7,433.3 L345.8,437.0 L345.8,439.3 L345.9,439.6 L346.0,437.7 L346.1,434.2 L346.2,430.2 L346.2,426.9 L346.3,425.2 L346.4,425.7 L346.5,428.2 L346.6,432.0 L346.6,435.9 L346.7,438.7 L346.8,439.7 L346.9,438.4 L347.0,435.4 L347.0,431.5 L347.1,427.8 L347.2,425.6 L347.3,425.4 L347.4,427.3 L347.4,430.7 L347.5,434.7 L347.6,438.0 L347.7,439.5 L347.8,439.0 L347.9,436.5 L347.9,432.7 L348.0,428.9 L348.1,426.1 L348.2,425.3 L348.3,426.5 L348.3,429.6 L348.4,433.4 L348.5,437.0 L348.6,439.2 L348.7,439.4 L348.7,437.4 L348.8,434.0 L348.9,430.1 L349.0,426.9 L349.1,425.4 L349.1,425.9 L349.2,428.5 L349.3,432.2 L349.4,436.0 L349.5,438.7 L349.5,439.5 L349.6,438.2 L349.7,435.2 L349.8,431.3 L349.9,427.8 L350.0,425.7 L350.0,425.6 L350.1,427.5 L350.2,431.0 L350.3,434.8 L350.4,437.9 L350.4,439.4 L350.5,438.8 L350.6,436.2 L350.7,432.6 L350.8,428.8 L350.8,426.2 L350.9,425.4 L351.0,426.8 L351.1,429.8 L351.2,433.6 L351.2,437.0 L351.3,439.1 L351.4,439.2 L351.5,437.2 L351.6,433.8 L351.6,430.0 L351.7,426.9 L351.8,425.5 L351.9,426.2 L352.0,428.7 L352.0,432.4 L352.1,436.0 L352.2,438.6 L352.3,439.3 L352.4,438.0 L352.5,434.9 L352.5,431.2 L352.6,427.8 L352.7,425.8 L352.8,425.8 L352.9,427.8 L352.9,431.2 L353.0,434.9 L353.1,437.9 L353.2,439.3 L353.3,438.6 L353.3,436.0 L353.4,432.4 L353.5,428.8 L353.6,426.3 L353.7,425.6 L353.7,427.0 L353.8,430.0 L353.9,433.7 L354.0,437.1 L354.1,439.0 L354.1,438.9 L354.2,436.9 L354.3,433.6 L354.4,429.9 L354.5,426.9 L354.6,425.6 L354.6,426.4 L354.7,428.9 L354.8,432.5 L354.9,436.1 L355.0,438.5 L355.0,439.1 L355.1,437.7 L355.2,434.7 L355.3,431.0 L355.4,427.8 L355.4,425.9 L355.5,426.0 L355.6,428.0 L355.7,431.3 L355.8,435.0 L355.8,437.9 L355.9,439.1 L356.0,438.3 L356.1,435.8 L356.2,432.2 L356.2,428.7 L356.3,426.3 L356.4,425.8 L356.5,427.2 L356.6,430.2 L356.7,433.9 L356.7,437.1 L356.8,438.9 L356.9,438.7 L357.0,436.7 L357.1,433.4 L357.1,429.8 L357.2,427.0 L357.3,425.8 L357.4,426.6 L357.5,429.2 L357.5,432.7 L357.6,436.1 L357.7,438.4 L357.8,439.0 L357.9,437.5 L357.9,434.5 L358.0,430.9 L358.1,427.7 L358.2,426.0 L358.3,426.2 L358.3,428.2 L358.4,431.5 L358.5,435.1 L358.6,437.8 L358.7,439.0 L358.8,438.1 L358.8,435.6 L358.9,432.1 L359.0,428.7 L359.1,426.4 L359.2,425.9 L359.2,427.4 L359.3,430.4 L359.4,434.0 L359.5,437.1 L359.6,438.8 L359.6,438.5 L359.7,436.5 L359.8,433.2 L359.9,429.7 L360.0,427.0 L360.0,425.9 L360.1,426.8 L360.2,429.4 L360.3,432.8 L360.4,436.2 L360.4,438.4 L360.5,438.8 L360.6,437.3 L360.7,434.3 L360.8,430.8 L360.9,427.7 L360.9,426.1 L361.0,426.4 L361.1,428.4 L361.2,431.7 L361.3,435.2 L361.3,437.8 L361.4,438.8 L361.5,437.9 L361.6,435.3 L361.7,431.9 L361.7,428.6 L361.8,426.5 L361.9,426.1 L362.0,427.6 L362.1,430.6 L362.1,434.1 L362.2,437.1 L362.3,438.6 L362.4,438.3 L362.5,436.3 L362.5,433.0 L362.6,429.6 L362.7,427.0 L362.8,426.1 L362.9,427.0 L363.0,429.6 L363.0,433.0 L363.1,436.2 L363.2,438.3 L363.3,438.6 L363.4,437.1 L363.4,434.1 L363.5,430.7 L363.6,427.7 L363.7,426.2 L363.8,426.5 L363.8,428.6 L363.9,431.9 L364.0,435.2 L364.1,437.8 L364.2,438.7 L364.2,437.7 L364.3,435.1 L364.4,431.8 L364.5,428.6 L364.6,426.5 L364.6,426.3 L364.7,427.8 L364.8,430.8 L364.9,434.2 L365.0,437.1 L365.1,438.5 L365.1,438.2 L365.2,436.1 L365.3,432.9 L365.4,429.5 L365.5,427.1 L365.5,426.2 L365.6,427.2 L365.7,429.8 L365.8,433.1 L365.9,436.2 L365.9,438.2 L366.0,438.4 L366.1,436.9 L366.2,433.9 L366.3,430.6 L366.3,427.7 L366.4,426.3 L366.5,426.7 L366.6,428.8 L366.7,432.0 L366.7,435.3 L366.8,437.7 L366.9,438.5 L367.0,437.5 L367.1,434.9 L367.2,431.6 L367.2,428.5 L367.3,426.6 L367.4,426.4 L367.5,428.0 L367.6,431.0 L367.6,434.3 L367.7,437.1 L367.8,438.4 L367.9,438.0 L368.0,435.9 L368.0,432.7 L368.1,429.5 L368.2,427.1 L368.3,426.3 L368.4,427.4 L368.4,429.9 L368.5,433.2 L368.6,436.3 L368.7,438.2 L368.8,438.3 L368.8,436.7 L368.9,433.8 L369.0,430.4 L369.1,427.7 L369.2,426.4 L369.3,426.9 L369.3,429.0 L369.4,432.2 L369.5,435.4 L369.6,437.7 L369.7,438.4 L369.7,437.3 L369.8,434.8 L369.9,431.5 L370.0,428.5 L370.1,426.7 L370.1,426.6 L370.2,428.2 L370.3,431.1 L370.4,434.4 L370.5,437.1 L370.5,438.3 L370.6,437.8 L370.7,435.7 L370.8,432.6 L370.9,429.4 L370.9,427.1 L371.0,426.4 L371.1,427.6 L371.2,430.1 L371.3,433.4 L371.4,436.3 L371.4,438.1 L371.5,438.2 L371.6,436.5 L371.7,433.6 L371.8,430.3 L371.8,427.7 L371.9,426.5 L372.0,427.1 L372.1,429.2 L372.2,432.3 L372.2,435.5 L372.3,437.7 L372.4,438.3 L372.5,437.2 L372.6,434.6 L372.6,431.4 L372.7,428.5 L372.8,426.7 L372.9,426.7 L373.0,428.4 L373.0,431.3 L373.1,434.5 L373.2,437.1 L373.3,438.3 L373.4,437.7 L373.4,435.5 L373.5,432.4 L373.6,429.3 L373.7,427.1 L373.8,426.6 L373.9,427.7 L373.9,430.3 L374.0,433.5 L374.1,436.4 L374.2,438.0 L374.3,438.0 L374.3,436.3 L374.4,433.4 L374.5,430.3 L374.6,427.7 L374.7,426.6 L374.7,427.2 L374.8,429.4 L374.9,432.5 L375.0,435.5 L375.1,437.6 L375.1,438.2 L375.2,437.0 L375.3,434.4 L375.4,431.2 L375.5,428.4 L375.5,426.8 L375.6,426.9 L375.7,428.6 L375.8,431.4 L375.9,434.6 L376.0,437.1 L376.0,438.2 L376.1,437.5 L376.2,435.3 L376.3,432.3 L376.4,429.2 L376.4,427.2 L376.5,426.7 L376.6,427.9 L376.7,430.5 L376.8,433.6 L376.8,436.4 L376.9,438.0 L377.0,437.9 L377.1,436.1 L377.2,433.3 L377.2,430.2 L377.3,427.7 L377.4,426.7 L377.5,427.4 L377.6,429.6 L377.6,432.6 L377.7,435.6 L377.8,437.6 L377.9,438.1 L378.0,436.8 L378.1,434.2 L378.1,431.1 L378.2,428.4 L378.3,426.9 L378.4,427.0 L378.5,428.8 L378.5,431.6 L378.6,434.7 L378.7,437.1 L378.8,438.1 L378.9,437.4 L378.9,435.2 L379.0,432.1 L379.1,429.2 L379.2,427.2 L379.3,426.8 L379.3,428.1 L379.4,430.6 L379.5,433.7 L379.6,436.4 L379.7,437.9 L379.7,437.7 L379.8,436.0 L379.9,433.1 L380.0,430.1 L380.1,427.7 L380.2,426.8 L380.2,427.5 L380.3,429.7 L380.4,432.7 L380.5,435.6 L380.6,437.6 L380.6,437.9 L380.7,436.6 L380.8,434.1 L380.9,431.0 L381.0,428.4 L381.0,426.9 L381.1,427.1 L381.2,428.9 L381.3,431.8 L381.4,434.8 L381.4,437.1 L381.5,438.0 L381.6,437.2 L381.7,435.0 L381.8,432.0 L381.8,429.1 L381.9,427.3 L382.0,426.9 L382.1,428.2 L382.2,430.8 L382.3,433.8 L382.3,436.4 L382.4,437.8 L382.5,437.6 L382.6,435.8 L382.7,433.0 L382.7,430.0 L382.8,427.7 L382.9,426.9 L383.0,427.7 L383.1,429.9 L383.1,432.9 L383.2,435.7 L383.3,437.5 L383.4,437.8 L383.5,436.5 L383.5,433.9 L383.6,430.9 L383.7,428.4 L383.8,427.0 L383.9,427.3 L383.9,429.1 L384.0,431.9 L384.1,434.8 L384.2,437.1 L384.3,437.9 L384.4,437.0 L384.4,434.8 L384.5,431.9 L384.6,429.1 L384.7,427.3 L384.8,427.1 L384.8,428.4 L384.9,431.0 L385.0,433.9 L385.1,436.5 L385.2,437.8 L385.2,437.4 L385.3,435.6 L385.4,432.8 L385.5,429.9 L385.6,427.8 L385.6,427.0 L385.7,427.8 L385.8,430.1 L385.9,433.0 L386.0,435.7 L386.0,437.5 L386.1,437.7 L386.2,436.3 L386.3,433.8 L386.4,430.8 L386.5,428.3 L386.5,427.1 L386.6,427.4 L386.7,429.3 L386.8,432.0 L386.9,434.9 L386.9,437.0 L387.0,437.8 L387.1,436.9 L387.2,434.6 L387.3,431.8 L387.3,429.1 L387.4,427.4 L387.5,427.2 L387.6,428.6 L387.7,431.1 L387.7,434.0 L387.8,436.5 L387.9,437.7 L388.0,437.3 L388.1,435.4 L388.1,432.7 L388.2,429.9 L388.3,427.8 L388.4,427.1 L388.5,428.0 L388.6,430.2 L388.6,433.1 L388.7,435.8 L388.8,437.4 L388.9,437.5 L389.0,436.1 L389.0,433.6 L389.1,430.7 L389.2,428.3 L389.3,427.2 L389.4,427.6 L389.4,429.4 L389.5,432.2 L389.6,435.0 L389.7,437.0 L389.8,437.6 L389.8,436.7 L389.9,434.5 L390.0,431.6 L390.1,429.0 L390.2,427.4 L390.2,427.3 L390.3,428.7 L390.4,431.3 L390.5,434.1 L390.6,436.5 L390.7,437.6 L390.7,437.1 L390.8,435.3 L390.9,432.6 L391.0,429.8 L391.1,427.8 L391.1,427.2 L391.2,428.2 L391.3,430.4 L391.4,433.2 L391.5,435.8 L391.5,437.3 L391.6,437.4 L391.7,436.0 L391.8,433.5 L391.9,430.6 L391.9,428.4 L392.0,427.3 L392.1,427.7 L392.2,429.6 L392.3,432.3 L392.3,435.0 L392.4,437.0 L392.5,437.5 L392.6,436.5 L392.7,434.3 L392.8,431.5 L392.8,429.0 L392.9,427.5 L393.0,427.5 L393.1,428.9 L393.2,431.4 L393.2,434.2 L393.3,436.4 L393.4,437.5 L393.5,437.0 L393.6,435.1 L393.6,432.4 L393.7,429.8 L393.8,427.9 L393.9,427.3 L394.0,428.3 L394.0,430.6 L394.1,433.3 L394.2,435.8 L394.3,437.3 L394.4,437.3 L394.4,435.8 L394.5,433.3 L394.6,430.6 L394.7,428.4 L394.8,427.4 L394.9,427.9 L394.9,429.8 L395.0,432.4 L395.1,435.1 L395.2,436.9 L395.3,437.4 L395.3,436.4 L395.4,434.2 L395.5,431.4 L395.6,429.0 L395.7,427.6 L395.7,427.6 L395.8,429.1 L395.9,431.6 L396.0,434.3 L396.1,436.4 L396.1,437.4 L396.2,436.8 L396.3,434.9 L396.4,432.3 L396.5,429.7 L396.5,427.9 L396.6,427.5 L396.7,428.5 L396.8,430.7 L396.9,433.4 L396.9,435.8 L397.0,437.2 L397.1,437.1 L397.2,435.6 L397.3,433.2 L397.4,430.5 L397.4,428.4 L397.5,427.5 L397.6,428.1 L397.7,429.9 L397.8,432.5 L397.8,435.1 L397.9,436.8 L398.0,437.2 L398.1,436.2 L398.2,434.0 L398.2,431.3 L398.3,429.0 L398.4,427.7 L398.5,427.8 L398.6,429.3 L398.6,431.7 L398.7,434.3 L398.8,436.4 L398.9,437.2 L399.0,436.6 L399.0,434.8 L399.1,432.2 L399.2,429.7 L399.3,428.0 L399.4,427.6 L399.5,428.7 L399.5,430.9 L399.6,433.5 L399.7,435.8 L399.8,437.1 L399.9,436.9 L399.9,435.5 L400.0,433.0 L400.1,430.4 L400.2,428.4 L400.3,427.6 L400.3,428.2 L400.4,430.1 L400.5,432.7 L400.6,435.1 L400.7,436.8 L400.7,437.1 L400.8,436.0 L400.9,433.9 L401.0,431.3 L401.1,429.0 L401.1,427.8 L401.2,427.9 L401.3,429.4 L401.4,431.8 L401.5,434.4 L401.6,436.3 L401.6,437.1 L401.7,436.5 L401.8,434.6 L401.9,432.1 L402.0,429.7 L402.0,428.1 L402.1,427.8 L402.2,428.9 L402.3,431.0 L402.4,433.6 L402.4,435.8 L402.5,437.0 L402.6,436.8 L402.7,435.3 L402.8,432.9 L402.8,430.4 L402.9,428.5 L403.0,427.7 L403.1,428.4 L403.2,430.3 L403.2,432.8 L403.3,435.2 L403.4,436.7 L403.5,437.0 L403.6,435.8 L403.7,433.7 L403.7,431.2 L403.8,429.0 L403.9,427.9 L404.0,428.1 L404.1,429.6 L404.1,432.0 L404.2,434.4 L404.3,436.3 L404.4,437.0 L404.5,436.3 L404.5,434.4 L404.6,432.0 L404.7,429.6 L404.8,428.1 L404.9,427.9 L404.9,429.0 L405.0,431.2 L405.1,433.7 L405.2,435.8 L405.3,436.9 L405.3,436.6 L405.4,435.1 L405.5,432.8 L405.6,430.3 L405.7,428.5 L405.8,427.9 L405.8,428.6 L405.9,430.4 L406.0,432.9 L406.1,435.2 L406.2,436.6 L406.2,436.8 L406.3,435.7 L406.4,433.6 L406.5,431.1 L406.6,429.0 L406.6,428.0 L406.7,428.3 L406.8,429.8 L406.9,432.1 L407.0,434.5 L407.0,436.2 L407.1,436.9 L407.2,436.1 L407.3,434.3 L407.4,431.9 L407.4,429.6 L407.5,428.2 L407.6,428.1 L407.7,429.2 L407.8,431.3 L407.9,433.7 L407.9,435.7 L408.0,436.8 L408.1,436.5 L408.2,434.9 L408.3,432.7 L408.3,430.3 L408.4,428.6 L408.5,428.0 L408.6,428.8 L408.7,430.6 L408.7,433.0 L408.8,435.2 L408.9,436.5 L409.0,436.7 L409.1,435.5 L409.1,433.4 L409.2,431.0 L409.3,429.1 L409.4,428.1 L409.5,428.4 L409.5,429.9 L409.6,432.2 L409.7,434.5 L409.8,436.2 L409.9,436.7 L410.0,436.0 L410.0,434.1 L410.1,431.8 L410.2,429.6 L410.3,428.3 L410.4,428.2 L410.4,429.4 L410.5,431.4 L410.6,433.8 L410.7,435.7 L410.8,436.6 L410.8,436.3 L410.9,434.8 L411.0,432.6 L411.1,430.3 L411.2,428.7 L411.2,428.2 L411.3,428.9 L411.4,430.7 L411.5,433.0 L411.6,435.2 L411.6,436.4 L411.7,436.5 L411.8,435.3 L411.9,433.3 L412.0,431.0 L412.1,429.1 L412.1,428.2 L412.2,428.6 L412.3,430.1 L412.4,432.3 L412.5,434.5 L412.5,436.1 L412.6,436.6 L412.7,435.8 L412.8,434.0 L412.9,431.7 L412.9,429.7 L413.0,428.4 L413.1,428.4 L413.2,429.5 L413.3,431.6 L413.3,433.8 L413.4,435.7 L413.5,436.5 L413.6,436.1 L413.7,434.6 L413.7,432.4 L413.8,430.3 L413.9,428.7 L414.0,428.3 L414.1,429.1 L414.2,430.9 L414.2,433.1 L414.3,435.1 L414.4,436.3 L414.5,436.3 L414.6,435.2 L414.6,433.2 L414.7,430.9 L414.8,429.2 L414.9,428.3 L415.0,428.8 L415.0,430.3 L415.1,432.4 L415.2,434.5 L415.3,436.0 L415.4,436.4 L415.4,435.6 L415.5,433.8 L415.6,431.6 L415.7,429.7 L415.8,428.5 L415.8,428.5 L415.9,429.7 L416.0,431.7 L416.1,433.9 L416.2,435.6 L416.3,436.4 L416.3,436.0 L416.4,434.5 L416.5,432.3 L416.6,430.3 L416.7,428.8 L416.7,428.4 L416.8,429.3 L416.9,431.0 L417.0,433.2 L417.1,435.1 L417.1,436.2 L417.2,436.2 L417.3,435.0 L417.4,433.0 L417.5,430.9 L417.5,429.2" fill="none" stroke="#7E2F8E" stroke-width="0.9"/>
</g>
<path d="M220.5,398.5H418.2V465.0" fill="none" stroke="#c4c4c4" stroke-width="0.9"/>
<path d="M220.5,398.5V465.0H418.2M235.20,465.0v-2.2M261.25,465.0v-2.2M287.30,465.0v-2.2M313.35,465.0v-2.2M339.40,465.0v-2.2M365.45,465.0v-2.2M391.50,465.0v-2.2M220.5,411.70h2.2M220.5,432.40h2.2M220.5,453.10h2.2" fill="none" stroke="#808080" stroke-width="0.9"/>
<text x="235.20" y="477.40" font-size="8.8" font-family="Liberation Sans, Arial, sans-serif" fill="#444" text-anchor="middle">10</text>
<text x="261.25" y="477.40" font-size="8.8" font-family="Liberation Sans, Arial, sans-serif" fill="#444" text-anchor="middle">20</text>
<text x="287.30" y="477.40" font-size="8.8" font-family="Liberation Sans, Arial, sans-serif" fill="#444" text-anchor="middle">30</text>
<text x="313.35" y="477.40" font-size="8.8" font-family="Liberation Sans, Arial, sans-serif" fill="#444" text-anchor="middle">40</text>
<text x="339.40" y="477.40" font-size="8.8" font-family="Liberation Sans, Arial, sans-serif" fill="#444" text-anchor="middle">50</text>
<text x="365.45" y="477.40" font-size="8.8" font-family="Liberation Sans, Arial, sans-serif" fill="#444" text-anchor="middle">60</text>
<text x="391.50" y="477.40" font-size="8.8" font-family="Liberation Sans, Arial, sans-serif" fill="#444" text-anchor="middle">70</text>
<text x="417.55" y="477.40" font-size="8.8" font-family="Liberation Sans, Arial, sans-serif" fill="#444" text-anchor="middle">80</text>
<text x="216.90" y="414.85" font-size="8.8" font-family="Liberation Sans, Arial, sans-serif" fill="#444" text-anchor="end">0.01</text>
<text x="216.90" y="435.55" font-size="8.8" font-family="Liberation Sans, Arial, sans-serif" fill="#444" text-anchor="end">0</text>
<text x="216.90" y="456.25" font-size="8.8" font-family="Liberation Sans, Arial, sans-serif" fill="#444" text-anchor="end">-0.01</text>
<rect x="276.3" y="292.7" width="156.3" height="55.69999999999999" fill="#fff" stroke="#5a5a5a" stroke-width="0.9"/>
<path d="M278.5,300.60H304.1" stroke="#2d8fd9" stroke-width="1.3"/>
<text x="306.0" y="304.20" font-size="10.2" font-family="Liberation Sans, Arial, sans-serif" fill="#1a1a1a">frozen fuel</text>
<path d="M278.5,314.40H304.1" stroke="#e2622a" stroke-width="1.3" stroke-dasharray="0.9 0.85"/>
<text x="306.0" y="318.00" font-size="10.2" font-family="Liberation Sans, Arial, sans-serif" fill="#1a1a1a">lateral (linear) sloshing</text>
<path d="M278.5,328.20H304.1" stroke="#EDB120" stroke-width="1.75"/>
<text x="306.0" y="331.80" font-size="10.2" font-family="Liberation Sans, Arial, sans-serif" fill="#1a1a1a">vertical (nonlinear) sloshing</text>
<path d="M278.5,342.00H304.1" stroke="#7E2F8E" stroke-width="1.9" stroke-dasharray="4.8 1.6"/>
<text x="306.0" y="345.60" font-size="10.2" font-family="Liberation Sans, Arial, sans-serif" fill="#1a1a1a">lateral &amp; vertical sloshing</text>
<text x="6.9" y="378.1" font-size="14" font-family="Liberation Serif, Times New Roman, serif" fill="#444" font-style="italic">q<tspan font-size="9" dy="2.7" dx="0.3" font-style="normal">1</tspan></text>
<text x="241.9" y="517.0" text-anchor="middle" font-size="14.4" font-family="Liberation Serif, Times New Roman, serif" fill="#444" textLength="52.3" lengthAdjust="spacingAndGlyphs">Time [<tspan font-style="italic">s</tspan>]</text>
<text x="244" y="540.5" text-anchor="middle" font-size="15" font-weight="bold" font-family="Liberation Serif, Times New Roman, serif" fill="#222">(b)</text>
</svg>
</body></html>
